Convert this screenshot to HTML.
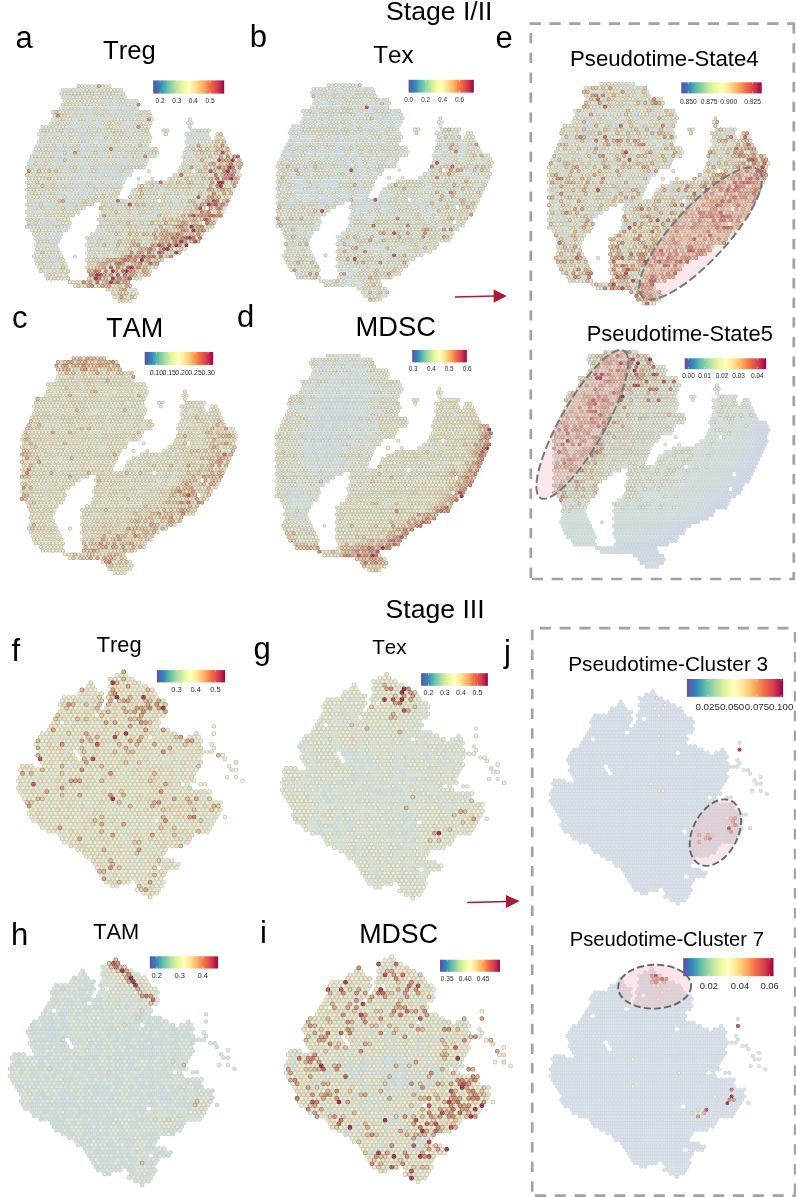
<!DOCTYPE html>
<html><head><meta charset="utf-8"><title>Figure</title><style>html,body{margin:0;padding:0;background:#fff}svg{display:block}text{font-kerning:none}</style></head><body>
<svg width="796" height="1197" viewBox="0 0 796 1197" font-family='"Liberation Sans", Arial, Helvetica, sans-serif'>
<defs><linearGradient id="sp" x1="0" x2="1" y1="0" y2="0"><stop offset="0" stop-color="#5e4fa2"/><stop offset=".1" stop-color="#3288bd"/><stop offset=".2" stop-color="#66c2a5"/><stop offset=".3" stop-color="#abdda4"/><stop offset=".4" stop-color="#e6f598"/><stop offset=".5" stop-color="#ffffbf"/><stop offset=".6" stop-color="#fee08b"/><stop offset=".7" stop-color="#fdae61"/><stop offset=".8" stop-color="#f46d43"/><stop offset=".9" stop-color="#d53e4f"/><stop offset="1" stop-color="#9e0142"/></linearGradient></defs>
<rect width="796" height="1197" fill="#fff"/>
<!-- panel a -->
<g fill="none" stroke-linecap="round">
<defs>
<path id="a" d="M78.5 86.1h30.9M63 89.8h58.4M61.3 93.5h61.8M63 97.2h61.8M64.7 100.9h72.1M63 104.6h75.5M61.3 108.3h75.5M52.7 112h96.1M54.4 115.7h96.1M52.7 119.4h99.5M189.9 119.4h0.1M51 123.1h99.5M188.2 123.1h3.5M42.4 126.8h106.4M189.9 126.8h0.1M40.7 130.5h106.4M164.2 130.5h3.5M191.6 130.5h17.2M39 134.2h109.8M165.9 134.2h0.1M186.5 134.2h20.6M217.4 134.2h3.5M40.7 137.9h109.8M188.2 137.9h20.6M215.7 137.9h6.9M39 141.6h109.8M186.5 141.6h37.8M37.3 145.3h109.8M188.2 145.3h37.8M35.6 149h120.1M186.5 149h41.2M33.9 152.7h123.5M184.8 152.7h44.7M32.1 156.4h123.5M183.1 156.4h54.9M30.4 160.1h116.7M184.8 160.1h54.9M28.7 163.8h116.7M183.1 163.8h58.4M27 167.5h116.7M181.3 167.5h58.4M28.7 171.2h103M148.8 171.2h0.1M179.6 171.2h10.4M196.8 171.2h41.2M27 174.9h103M174.5 174.9h65.2M28.7 178.6h96.1M138.5 178.6h0.1M152.2 178.6h0.1M169.3 178.6h68.7M27 182.3h96.1M147.1 182.3h89.2M28.7 186h92.7M138.5 186h96.1M27 189.7h92.7M133.3 189.7h99.5M28.7 193.4h89.2M131.6 193.4h99.5M27 197.1h89.2M129.9 197.1h99.5M28.7 200.8h127M162.5 200.8h65.2M27 204.5h65.2M102.5 204.5h123.5M28.7 208.2h54.9M100.7 208.2h103M210.5 208.2h13.8M27 211.9h51.5M102.5 211.9h120.1M28.7 215.6h44.7M100.7 215.6h120.1M27 219.3h41.2M99 219.3h116.7M28.7 223h41.2M100.7 223h99.5M207.1 223h6.9M27 226.7h41.2M99 226.7h113.3M32.1 230.4h34.4M97.3 230.4h109.8M33.9 234.1h27.5M92.2 234.1h109.8M35.6 237.8h24.1M87 237.8h113.3M37.3 241.5h20.6M88.7 241.5h109.8M35.6 245.2h20.6M87 245.2h99.5M37.3 248.9h20.6M88.7 248.9h96.1M35.6 252.6h24.1M87 252.6h92.7M33.9 256.3h27.5M75 256.3h0.1M88.7 256.3h82.4M35.6 260h27.5M87 260h75.5M37.3 263.7h27.5M88.7 263.7h68.7M39 267.4h27.5M87 267.4h68.7M40.7 271.1h27.5M88.7 271.1h61.8M45.9 274.8h20.6M90.5 274.8h58.4M47.6 278.5h20.6M88.7 278.5h51.5M69.9 282.2h58.4M75 285.9h54.9M107.6 289.6h27.5M112.8 293.3h24.1M114.5 297h20.6M119.6 300.7h10.4" stroke-dasharray="0 3.430"/>
<path id="a4" d="M57.9 234.1h0"/>
<path id="a5" d="M68.2 130.5h0M49.3 141.6h0M97.3 171.2h0M119.6 174.9h0M97.3 237.8h0"/>
<path id="a6" d="M88.7 86.1h0M109.3 100.9h0M116.2 100.9h0M87 119.4h0M61.3 123.1h0M45.9 134.2h0M44.2 137.9h0M87 141.6h0M69.9 149h0M112.8 152.7h0M141.9 156.4h0M57.9 160.1h0M133.3 160.1h0M140.2 160.1h0M105.9 167.5h0M109.3 167.5h0M117.9 171.2h0M78.5 174.9h0M100.7 178.6h0M81.9 182.3h0M112.8 182.3h0M119.6 182.3h0M93.9 186h0M83.6 193.4h0M93.9 193.4h0M44.2 197.1h0M71.6 204.5h0M35.6 208.2h0M116.2 226.7h0M45.9 237.8h0M57.9 241.5h0M104.2 252.6h0M51 256.3h0"/>
<path id="a7" d="M107.6 97.2h0M126.5 100.9h0M111 104.6h0M64.7 108.3h0M92.2 108.3h0M105.9 108.3h0M73.3 112h0M87 112h0M121.3 112h0M112.8 115.7h0M129.9 115.7h0M97.3 119.4h0M128.2 119.4h0M78.5 123.1h0M88.7 123.1h0M75 130.5h0M78.5 130.5h0M95.6 130.5h0M126.5 130.5h0M167.6 130.5h0M195.1 130.5h0M80.2 134.2h0M87 134.2h0M97.3 134.2h0M186.5 134.2h0M40.7 137.9h0M81.9 137.9h0M88.7 137.9h0M191.6 137.9h0M42.4 141.6h0M63 141.6h0M100.7 141.6h0M104.2 141.6h0M124.8 141.6h0M37.3 145.3h0M44.2 145.3h0M85.3 145.3h0M102.5 145.3h0M49.3 149h0M63 149h0M87 149h0M114.5 149h0M54.4 152.7h0M99 152.7h0M102.5 152.7h0M66.4 156.4h0M138.5 156.4h0M63 163.8h0M69.9 163.8h0M73.3 163.8h0M93.9 163.8h0M104.2 163.8h0M121.3 163.8h0M128.2 163.8h0M37.3 167.5h0M40.7 167.5h0M64.7 167.5h0M68.2 167.5h0M81.9 167.5h0M95.6 167.5h0M119.6 167.5h0M236.2 167.5h0M80.2 171.2h0M114.5 171.2h0M237.9 171.2h0M57.9 174.9h0M88.7 174.9h0M95.6 174.9h0M102.5 174.9h0M109.3 174.9h0M112.8 174.9h0M116.2 174.9h0M123 174.9h0M126.5 174.9h0M174.5 174.9h0M117.9 178.6h0M109.3 182.3h0M117.9 186h0M85.3 189.7h0M80.2 193.4h0M81.9 197.1h0M116.2 197.1h0M124.8 200.8h0M54.4 204.5h0M116.2 204.5h0M66.4 208.2h0M183.1 208.2h0M153.9 211.9h0M171.1 211.9h0M100.7 215.6h0M45.9 223h0M49.3 223h0M100.7 223h0M104.2 223h0M44.2 226.7h0M97.3 230.4h0M92.2 234.1h0M35.6 237.8h0M39 237.8h0M56.2 237.8h0M90.5 237.8h0M104.2 237.8h0M88.7 241.5h0M114.5 245.2h0M54.4 248.9h0M95.6 248.9h0M145.3 252.6h0M57.9 271.1h0"/>
<path id="a8" d="M109.3 86.1h0M63 89.8h0M66.4 89.8h0M76.7 89.8h0M80.2 89.8h0M93.9 89.8h0M121.3 89.8h0M95.6 93.5h0M105.9 93.5h0M119.6 93.5h0M66.4 97.2h0M69.9 97.2h0M97.3 97.2h0M114.5 97.2h0M117.9 97.2h0M124.8 97.2h0M71.6 100.9h0M102.5 100.9h0M105.9 100.9h0M129.9 100.9h0M133.3 100.9h0M80.2 104.6h0M93.9 104.6h0M107.6 104.6h0M114.5 104.6h0M121.3 104.6h0M124.8 104.6h0M135 104.6h0M61.3 108.3h0M81.9 108.3h0M88.7 108.3h0M109.3 108.3h0M112.8 108.3h0M116.2 108.3h0M123 108.3h0M126.5 108.3h0M129.9 108.3h0M136.8 108.3h0M80.2 112h0M83.6 112h0M90.5 112h0M100.7 112h0M111 112h0M114.5 112h0M117.9 112h0M135 112h0M138.5 112h0M71.6 115.7h0M78.5 115.7h0M85.3 115.7h0M88.7 115.7h0M92.2 115.7h0M105.9 115.7h0M119.6 115.7h0M126.5 115.7h0M133.3 115.7h0M143.6 115.7h0M52.7 119.4h0M56.2 119.4h0M66.4 119.4h0M73.3 119.4h0M76.7 119.4h0M90.5 119.4h0M100.7 119.4h0M104.2 119.4h0M107.6 119.4h0M111 119.4h0M145.3 119.4h0M152.2 119.4h0M189.9 119.4h0M71.6 123.1h0M81.9 123.1h0M85.3 123.1h0M92.2 123.1h0M95.6 123.1h0M99 123.1h0M123 123.1h0M126.5 123.1h0M129.9 123.1h0M136.8 123.1h0M42.4 126.8h0M69.9 126.8h0M73.3 126.8h0M76.7 126.8h0M83.6 126.8h0M100.7 126.8h0M104.2 126.8h0M114.5 126.8h0M124.8 126.8h0M131.6 126.8h0M189.9 126.8h0M54.4 130.5h0M64.7 130.5h0M81.9 130.5h0M85.3 130.5h0M92.2 130.5h0M102.5 130.5h0M129.9 130.5h0M133.3 130.5h0M136.8 130.5h0M191.6 130.5h0M42.4 134.2h0M49.3 134.2h0M52.7 134.2h0M56.2 134.2h0M59.6 134.2h0M66.4 134.2h0M73.3 134.2h0M100.7 134.2h0M111 134.2h0M128.2 134.2h0M131.6 134.2h0M138.5 134.2h0M193.4 134.2h0M196.8 134.2h0M200.2 134.2h0M203.6 134.2h0M207.1 134.2h0M61.3 137.9h0M78.5 137.9h0M85.3 137.9h0M95.6 137.9h0M99 137.9h0M102.5 137.9h0M188.2 137.9h0M198.5 137.9h0M205.4 137.9h0M208.8 137.9h0M56.2 141.6h0M66.4 141.6h0M73.3 141.6h0M90.5 141.6h0M93.9 141.6h0M97.3 141.6h0M107.6 141.6h0M111 141.6h0M128.2 141.6h0M135 141.6h0M138.5 141.6h0M186.5 141.6h0M189.9 141.6h0M193.4 141.6h0M196.8 141.6h0M203.6 141.6h0M210.5 141.6h0M40.7 145.3h0M57.9 145.3h0M61.3 145.3h0M68.2 145.3h0M81.9 145.3h0M88.7 145.3h0M99 145.3h0M112.8 145.3h0M119.6 145.3h0M136.8 145.3h0M195.1 145.3h0M205.4 145.3h0M59.6 149h0M83.6 149h0M90.5 149h0M93.9 149h0M100.7 149h0M117.9 149h0M128.2 149h0M131.6 149h0M141.9 149h0M145.3 149h0M148.8 149h0M186.5 149h0M33.9 152.7h0M37.3 152.7h0M57.9 152.7h0M61.3 152.7h0M68.2 152.7h0M71.6 152.7h0M81.9 152.7h0M85.3 152.7h0M88.7 152.7h0M116.2 152.7h0M123 152.7h0M188.2 152.7h0M191.6 152.7h0M56.2 156.4h0M63 156.4h0M69.9 156.4h0M80.2 156.4h0M97.3 156.4h0M104.2 156.4h0M121.3 156.4h0M128.2 156.4h0M148.8 156.4h0M155.6 156.4h0M186.5 156.4h0M193.4 156.4h0M200.2 156.4h0M30.4 160.1h0M33.9 160.1h0M40.7 160.1h0M61.3 160.1h0M75 160.1h0M81.9 160.1h0M102.5 160.1h0M109.3 160.1h0M116.2 160.1h0M119.6 160.1h0M123 160.1h0M126.5 160.1h0M28.7 163.8h0M39 163.8h0M52.7 163.8h0M56.2 163.8h0M66.4 163.8h0M80.2 163.8h0M83.6 163.8h0M90.5 163.8h0M124.8 163.8h0M135 163.8h0M141.9 163.8h0M183.1 163.8h0M200.2 163.8h0M27 167.5h0M33.9 167.5h0M47.6 167.5h0M54.4 167.5h0M78.5 167.5h0M85.3 167.5h0M88.7 167.5h0M99 167.5h0M102.5 167.5h0M112.8 167.5h0M116.2 167.5h0M184.8 167.5h0M195.1 167.5h0M63 171.2h0M66.4 171.2h0M83.6 171.2h0M87 171.2h0M100.7 171.2h0M104.2 171.2h0M107.6 171.2h0M111 171.2h0M128.2 171.2h0M131.6 171.2h0M148.8 171.2h0M179.6 171.2h0M33.9 174.9h0M61.3 174.9h0M68.2 174.9h0M75 174.9h0M85.3 174.9h0M92.2 174.9h0M99 174.9h0M129.9 174.9h0M212.2 174.9h0M76.7 178.6h0M83.6 178.6h0M87 178.6h0M104.2 178.6h0M107.6 178.6h0M111 178.6h0M121.3 178.6h0M124.8 178.6h0M152.2 178.6h0M57.9 182.3h0M61.3 182.3h0M64.7 182.3h0M68.2 182.3h0M75 182.3h0M78.5 182.3h0M85.3 182.3h0M92.2 182.3h0M95.6 182.3h0M105.9 182.3h0M164.2 182.3h0M174.5 182.3h0M184.8 182.3h0M205.4 182.3h0M59.6 186h0M69.9 186h0M73.3 186h0M80.2 186h0M83.6 186h0M97.3 186h0M100.7 186h0M104.2 186h0M114.5 186h0M121.3 186h0M227.7 186h0M61.3 189.7h0M68.2 189.7h0M75 189.7h0M78.5 189.7h0M81.9 189.7h0M88.7 189.7h0M92.2 189.7h0M102.5 189.7h0M109.3 189.7h0M153.9 189.7h0M160.8 189.7h0M164.2 189.7h0M195.1 189.7h0M45.9 193.4h0M59.6 193.4h0M63 193.4h0M66.4 193.4h0M69.9 193.4h0M73.3 193.4h0M87 193.4h0M107.6 193.4h0M159.1 193.4h0M172.8 193.4h0M183.1 193.4h0M196.8 193.4h0M203.6 193.4h0M27 197.1h0M57.9 197.1h0M61.3 197.1h0M68.2 197.1h0M71.6 197.1h0M75 197.1h0M85.3 197.1h0M153.9 197.1h0M167.6 197.1h0M174.5 197.1h0M181.3 197.1h0M188.2 197.1h0M191.6 197.1h0M32.1 200.8h0M35.6 200.8h0M39 200.8h0M45.9 200.8h0M69.9 200.8h0M76.7 200.8h0M90.5 200.8h0M107.6 200.8h0M128.2 200.8h0M131.6 200.8h0M148.8 200.8h0M172.8 200.8h0M176.2 200.8h0M179.6 200.8h0M33.9 204.5h0M37.3 204.5h0M44.2 204.5h0M47.6 204.5h0M51 204.5h0M61.3 204.5h0M64.7 204.5h0M68.2 204.5h0M78.5 204.5h0M109.3 204.5h0M157.3 204.5h0M167.6 204.5h0M174.5 204.5h0M28.7 208.2h0M32.1 208.2h0M45.9 208.2h0M49.3 208.2h0M59.6 208.2h0M69.9 208.2h0M117.9 208.2h0M121.3 208.2h0M141.9 208.2h0M155.6 208.2h0M165.9 208.2h0M172.8 208.2h0M179.6 208.2h0M27 211.9h0M33.9 211.9h0M37.3 211.9h0M40.7 211.9h0M78.5 211.9h0M133.3 211.9h0M157.3 211.9h0M28.7 215.6h0M42.4 215.6h0M121.3 215.6h0M135 215.6h0M145.3 215.6h0M152.2 215.6h0M155.6 215.6h0M44.2 219.3h0M51 219.3h0M54.4 219.3h0M102.5 219.3h0M116.2 219.3h0M140.2 219.3h0M143.6 219.3h0M160.8 219.3h0M32.1 223h0M42.4 223h0M56.2 223h0M59.6 223h0M135 223h0M138.5 223h0M145.3 223h0M51 226.7h0M61.3 226.7h0M68.2 226.7h0M119.6 226.7h0M140.2 226.7h0M153.9 226.7h0M42.4 230.4h0M56.2 230.4h0M63 230.4h0M100.7 230.4h0M104.2 230.4h0M159.1 230.4h0M54.4 234.1h0M61.3 234.1h0M99 234.1h0M112.8 234.1h0M42.4 237.8h0M49.3 237.8h0M52.7 237.8h0M59.6 237.8h0M111 237.8h0M117.9 237.8h0M124.8 237.8h0M141.9 237.8h0M51 241.5h0M54.4 241.5h0M95.6 241.5h0M102.5 241.5h0M109.3 241.5h0M112.8 241.5h0M147.1 241.5h0M35.6 245.2h0M42.4 245.2h0M45.9 245.2h0M49.3 245.2h0M56.2 245.2h0M87 245.2h0M93.9 245.2h0M100.7 245.2h0M111 245.2h0M121.3 245.2h0M148.8 245.2h0M44.2 248.9h0M51 248.9h0M57.9 248.9h0M99 248.9h0M112.8 248.9h0M35.6 252.6h0M135 252.6h0M37.3 256.3h0M54.4 256.3h0M75 256.3h0M35.6 260h0M45.9 260h0M52.7 260h0M56.2 260h0M47.6 263.7h0M54.4 263.7h0M57.9 263.7h0M66.4 267.4h0M114.5 267.4h0M44.2 271.1h0M47.6 271.1h0M45.9 274.8h0M131.6 289.6h0M128.2 297h0"/>
<path id="a9" d="M215.7 137.9h0M213.9 156.4h0M224.2 156.4h0M208.8 160.1h0M201.9 167.5h0M229.4 182.3h0M207.1 186h0M213.9 186h0M232.8 189.7h0M220.8 193.4h0M184.8 197.1h0M222.5 197.1h0M200.2 200.8h0M177.9 204.5h0M184.8 204.5h0M224.2 208.2h0M174.5 211.9h0M181.3 211.9h0M172.8 215.6h0M152.2 230.4h0M143.6 241.5h0M102.5 248.9h0M87 252.6h0M111 252.6h0M155.6 252.6h0M99 256.3h0M102.5 256.3h0M112.8 256.3h0M116.2 256.3h0M152.2 267.4h0M63 274.8h0M64.7 278.5h0M109.3 278.5h0M140.2 278.5h0M93.9 282.2h0M128.2 289.6h0M117.9 297h0"/>
<path id="a11" d="M83.6 89.8h0M97.3 89.8h0M104.2 89.8h0M111 89.8h0M117.9 89.8h0M99 93.5h0M116.2 93.5h0M73.3 97.2h0M76.7 97.2h0M80.2 97.2h0M93.9 97.2h0M111 97.2h0M92.2 100.9h0M95.6 100.9h0M123 100.9h0M76.7 104.6h0M97.3 104.6h0M128.2 104.6h0M131.6 104.6h0M68.2 108.3h0M102.5 108.3h0M119.6 108.3h0M52.7 112h0M148.8 112h0M68.2 115.7h0M116.2 115.7h0M150.5 115.7h0M69.9 119.4h0M117.9 119.4h0M121.3 119.4h0M102.5 123.1h0M112.8 123.1h0M143.6 123.1h0M150.5 123.1h0M188.2 123.1h0M191.6 123.1h0M56.2 126.8h0M63 126.8h0M66.4 126.8h0M111 126.8h0M145.3 126.8h0M148.8 126.8h0M51 130.5h0M71.6 130.5h0M99 130.5h0M109.3 130.5h0M208.8 130.5h0M63 134.2h0M69.9 134.2h0M76.7 134.2h0M93.9 134.2h0M135 134.2h0M145.3 134.2h0M148.8 134.2h0M165.9 134.2h0M189.9 134.2h0M217.4 134.2h0M57.9 137.9h0M71.6 137.9h0M116.2 137.9h0M126.5 137.9h0M140.2 137.9h0M222.5 137.9h0M52.7 141.6h0M121.3 141.6h0M145.3 141.6h0M148.8 141.6h0M200.2 141.6h0M207.1 141.6h0M92.2 145.3h0M116.2 145.3h0M133.3 145.3h0M188.2 145.3h0M208.8 145.3h0M212.2 145.3h0M219.1 145.3h0M39 149h0M45.9 149h0M196.8 149h0M203.6 149h0M51 152.7h0M119.6 152.7h0M143.6 152.7h0M198.5 152.7h0M212.2 152.7h0M229.4 152.7h0M32.1 156.4h0M93.9 156.4h0M135 156.4h0M152.2 156.4h0M207.1 156.4h0M217.4 156.4h0M231.1 156.4h0M37.3 160.1h0M44.2 160.1h0M51 160.1h0M136.8 160.1h0M184.8 160.1h0M198.5 160.1h0M205.4 160.1h0M212.2 160.1h0M215.7 160.1h0M236.2 160.1h0M76.7 163.8h0M131.6 163.8h0M138.5 163.8h0M145.3 163.8h0M189.9 163.8h0M193.4 163.8h0M196.8 163.8h0M61.3 167.5h0M123 167.5h0M143.6 167.5h0M181.3 167.5h0M208.8 167.5h0M32.1 171.2h0M42.4 171.2h0M45.9 171.2h0M93.9 171.2h0M196.8 171.2h0M30.4 174.9h0M40.7 174.9h0M44.2 174.9h0M105.9 174.9h0M177.9 174.9h0M188.2 174.9h0M191.6 174.9h0M195.1 174.9h0M219.1 174.9h0M239.7 174.9h0M28.7 178.6h0M39 178.6h0M52.7 178.6h0M66.4 178.6h0M69.9 178.6h0M172.8 178.6h0M176.2 178.6h0M179.6 178.6h0M189.9 178.6h0M193.4 178.6h0M200.2 178.6h0M220.8 178.6h0M30.4 182.3h0M40.7 182.3h0M44.2 182.3h0M71.6 182.3h0M167.6 182.3h0M195.1 182.3h0M198.5 182.3h0M215.7 182.3h0M28.7 186h0M52.7 186h0M63 186h0M145.3 186h0M148.8 186h0M165.9 186h0M172.8 186h0M176.2 186h0M183.1 186h0M186.5 186h0M193.4 186h0M196.8 186h0M200.2 186h0M224.2 186h0M231.1 186h0M44.2 189.7h0M71.6 189.7h0M116.2 189.7h0M119.6 189.7h0M174.5 189.7h0M177.9 189.7h0M181.3 189.7h0M184.8 189.7h0M191.6 189.7h0M198.5 189.7h0M201.9 189.7h0M42.4 193.4h0M97.3 193.4h0M131.6 193.4h0M138.5 193.4h0M193.4 193.4h0M207.1 193.4h0M227.7 193.4h0M33.9 197.1h0M37.3 197.1h0M64.7 197.1h0M95.6 197.1h0M147.1 197.1h0M157.3 197.1h0M177.9 197.1h0M195.1 197.1h0M201.9 197.1h0M49.3 200.8h0M73.3 200.8h0M80.2 200.8h0M111 200.8h0M121.3 200.8h0M141.9 200.8h0M152.2 200.8h0M155.6 200.8h0M165.9 200.8h0M183.1 200.8h0M186.5 200.8h0M220.8 200.8h0M30.4 204.5h0M102.5 204.5h0M123 204.5h0M133.3 204.5h0M150.5 204.5h0M164.2 204.5h0M171.1 204.5h0M181.3 204.5h0M188.2 204.5h0M191.6 204.5h0M56.2 208.2h0M80.2 208.2h0M83.6 208.2h0M104.2 208.2h0M131.6 208.2h0M145.3 208.2h0M159.1 208.2h0M162.5 208.2h0M169.3 208.2h0M176.2 208.2h0M193.4 208.2h0M30.4 211.9h0M44.2 211.9h0M54.4 211.9h0M57.9 211.9h0M61.3 211.9h0M68.2 211.9h0M71.6 211.9h0M75 211.9h0M119.6 211.9h0M147.1 211.9h0M150.5 211.9h0M160.8 211.9h0M177.9 211.9h0M188.2 211.9h0M222.5 211.9h0M35.6 215.6h0M56.2 215.6h0M66.4 215.6h0M131.6 215.6h0M148.8 215.6h0M162.5 215.6h0M165.9 215.6h0M169.3 215.6h0M176.2 215.6h0M64.7 219.3h0M68.2 219.3h0M123 219.3h0M126.5 219.3h0M136.8 219.3h0M147.1 219.3h0M150.5 219.3h0M153.9 219.3h0M167.6 219.3h0M63 223h0M66.4 223h0M107.6 223h0M131.6 223h0M148.8 223h0M155.6 223h0M162.5 223h0M172.8 223h0M189.9 223h0M200.2 223h0M30.4 226.7h0M40.7 226.7h0M105.9 226.7h0M109.3 226.7h0M123 226.7h0M143.6 226.7h0M147.1 226.7h0M150.5 226.7h0M157.3 226.7h0M164.2 226.7h0M171.1 226.7h0M205.4 226.7h0M35.6 230.4h0M45.9 230.4h0M121.3 230.4h0M124.8 230.4h0M128.2 230.4h0M135 230.4h0M138.5 230.4h0M141.9 230.4h0M145.3 230.4h0M207.1 230.4h0M33.9 234.1h0M37.3 234.1h0M109.3 234.1h0M123 234.1h0M126.5 234.1h0M140.2 234.1h0M150.5 234.1h0M121.3 237.8h0M131.6 237.8h0M145.3 237.8h0M148.8 237.8h0M152.2 237.8h0M116.2 241.5h0M123 241.5h0M126.5 241.5h0M52.7 245.2h0M90.5 245.2h0M97.3 245.2h0M107.6 245.2h0M128.2 245.2h0M141.9 245.2h0M37.3 248.9h0M47.6 248.9h0M88.7 248.9h0M92.2 248.9h0M105.9 248.9h0M109.3 248.9h0M119.6 248.9h0M174.5 248.9h0M184.8 248.9h0M45.9 252.6h0M49.3 252.6h0M56.2 252.6h0M59.6 252.6h0M90.5 252.6h0M97.3 252.6h0M100.7 252.6h0M107.6 252.6h0M33.9 256.3h0M40.7 256.3h0M57.9 256.3h0M61.3 256.3h0M92.2 256.3h0M105.9 256.3h0M87 260h0M90.5 260h0M37.3 263.7h0M44.2 263.7h0M51 263.7h0M64.7 263.7h0M112.8 263.7h0M129.9 263.7h0M52.7 267.4h0M59.6 267.4h0M54.4 271.1h0M64.7 271.1h0M102.5 271.1h0M49.3 274.8h0M56.2 274.8h0M59.6 274.8h0M66.4 274.8h0M121.3 274.8h0M51 278.5h0M57.9 278.5h0M61.3 278.5h0M136.8 278.5h0M73.3 282.2h0M80.2 282.2h0M100.7 282.2h0M75 285.9h0M95.6 285.9h0M111 289.6h0M114.5 289.6h0M116.2 293.3h0M133.3 293.3h0M136.8 293.3h0M114.5 297h0M135 297h0M126.5 300.7h0M129.9 300.7h0"/>
<path id="a12" d="M78.5 86.1h0M87 89.8h0M107.6 89.8h0M92.2 93.5h0M121.3 97.2h0M68.2 100.9h0M59.6 112h0M61.3 115.7h0M64.7 115.7h0M140.2 115.7h0M57.9 123.1h0M109.3 123.1h0M107.6 126.8h0M44.2 130.5h0M112.8 130.5h0M147.1 130.5h0M164.2 130.5h0M114.5 134.2h0M121.3 134.2h0M105.9 137.9h0M219.1 137.9h0M213.9 141.6h0M220.8 141.6h0M54.4 145.3h0M64.7 145.3h0M155.6 149h0M193.4 149h0M224.2 149h0M64.7 152.7h0M78.5 152.7h0M95.6 152.7h0M153.9 152.7h0M195.1 152.7h0M205.4 152.7h0M208.8 152.7h0M219.1 152.7h0M131.6 156.4h0M196.8 156.4h0M203.6 156.4h0M35.6 163.8h0M45.9 163.8h0M203.6 163.8h0M207.1 163.8h0M224.2 163.8h0M234.5 163.8h0M75 167.5h0M198.5 167.5h0M183.1 171.2h0M203.6 171.2h0M207.1 171.2h0M217.4 171.2h0M220.8 171.2h0M27 174.9h0M37.3 174.9h0M201.9 174.9h0M205.4 174.9h0M236.2 174.9h0M35.6 178.6h0M45.9 178.6h0M196.8 178.6h0M207.1 178.6h0M54.4 182.3h0M153.9 182.3h0M171.1 182.3h0M181.3 182.3h0M201.9 182.3h0M208.8 182.3h0M225.9 182.3h0M152.2 186h0M169.3 186h0M189.9 186h0M203.6 186h0M33.9 189.7h0M143.6 189.7h0M147.1 189.7h0M150.5 189.7h0M188.2 189.7h0M215.7 189.7h0M35.6 193.4h0M114.5 193.4h0M117.9 193.4h0M155.6 193.4h0M186.5 193.4h0M217.4 193.4h0M102.5 197.1h0M129.9 197.1h0M136.8 197.1h0M143.6 197.1h0M164.2 197.1h0M225.9 197.1h0M83.6 200.8h0M87 200.8h0M93.9 200.8h0M203.6 200.8h0M40.7 204.5h0M85.3 204.5h0M105.9 204.5h0M160.8 204.5h0M63 208.2h0M76.7 208.2h0M111 208.2h0M128.2 208.2h0M138.5 208.2h0M152.2 208.2h0M186.5 208.2h0M189.9 208.2h0M203.6 208.2h0M129.9 211.9h0M140.2 211.9h0M143.6 211.9h0M184.8 211.9h0M195.1 211.9h0M198.5 211.9h0M107.6 215.6h0M186.5 215.6h0M119.6 219.3h0M157.3 219.3h0M174.5 219.3h0M181.3 219.3h0M188.2 219.3h0M198.5 219.3h0M212.2 219.3h0M215.7 219.3h0M28.7 223h0M35.6 223h0M117.9 223h0M141.9 223h0M159.1 223h0M169.3 223h0M176.2 223h0M27 226.7h0M57.9 226.7h0M112.8 226.7h0M129.9 226.7h0M136.8 226.7h0M167.6 226.7h0M208.8 226.7h0M212.2 226.7h0M39 230.4h0M131.6 230.4h0M148.8 230.4h0M169.3 230.4h0M172.8 230.4h0M176.2 230.4h0M189.9 230.4h0M119.6 234.1h0M133.3 234.1h0M157.3 234.1h0M184.8 234.1h0M201.9 234.1h0M100.7 237.8h0M128.2 237.8h0M135 237.8h0M138.5 237.8h0M159.1 237.8h0M196.8 237.8h0M99 241.5h0M129.9 241.5h0M136.8 241.5h0M140.2 241.5h0M150.5 241.5h0M153.9 241.5h0M157.3 241.5h0M171.1 241.5h0M188.2 241.5h0M124.8 245.2h0M145.3 245.2h0M183.1 245.2h0M116.2 248.9h0M126.5 248.9h0M136.8 248.9h0M177.9 248.9h0M114.5 252.6h0M121.3 252.6h0M124.8 252.6h0M165.9 252.6h0M169.3 252.6h0M172.8 252.6h0M95.6 256.3h0M119.6 256.3h0M157.3 256.3h0M164.2 256.3h0M93.9 260h0M97.3 260h0M104.2 260h0M138.5 260h0M152.2 260h0M88.7 263.7h0M126.5 263.7h0M143.6 263.7h0M90.5 267.4h0M93.9 267.4h0M124.8 267.4h0M148.8 267.4h0M155.6 267.4h0M40.7 271.1h0M61.3 271.1h0M68.2 271.1h0M119.6 271.1h0M114.5 274.8h0M141.9 274.8h0M54.4 278.5h0M68.2 278.5h0M88.7 278.5h0M92.2 278.5h0M69.9 282.2h0M76.7 282.2h0M85.3 285.9h0M112.8 285.9h0M116.2 285.9h0M107.6 289.6h0M117.9 289.6h0M112.8 293.3h0M124.8 297h0M119.6 300.7h0M123 300.7h0"/>
<path id="a13" d="M56.2 112h0M220.8 134.2h0M217.4 141.6h0M224.2 141.6h0M140.2 145.3h0M215.7 145.3h0M200.2 149h0M207.1 149h0M217.4 149h0M220.8 149h0M201.9 152.7h0M215.7 152.7h0M225.9 152.7h0M210.5 156.4h0M64.7 160.1h0M239.7 160.1h0M220.8 163.8h0M237.9 163.8h0M205.4 167.5h0M215.7 167.5h0M39 171.2h0M49.3 171.2h0M56.2 171.2h0M200.2 171.2h0M49.3 178.6h0M186.5 178.6h0M203.6 178.6h0M213.9 178.6h0M37.3 182.3h0M177.9 182.3h0M188.2 182.3h0M191.6 182.3h0M42.4 186h0M141.9 186h0M140.2 189.7h0M219.1 189.7h0M225.9 189.7h0M229.4 189.7h0M141.9 193.4h0M200.2 193.4h0M140.2 197.1h0M215.7 197.1h0M59.6 200.8h0M189.9 200.8h0M193.4 200.8h0M224.2 200.8h0M136.8 204.5h0M143.6 204.5h0M195.1 204.5h0M205.4 204.5h0M225.9 204.5h0M100.7 208.2h0M116.2 211.9h0M191.6 211.9h0M159.1 215.6h0M164.2 219.3h0M171.1 219.3h0M177.9 219.3h0M184.8 219.3h0M191.6 219.3h0M201.9 219.3h0M128.2 223h0M152.2 223h0M179.6 223h0M193.4 223h0M196.8 223h0M213.9 223h0M174.5 226.7h0M188.2 226.7h0M155.6 230.4h0M179.6 230.4h0M116.2 234.1h0M136.8 234.1h0M147.1 234.1h0M188.2 234.1h0M195.1 234.1h0M169.3 237.8h0M119.6 241.5h0M133.3 241.5h0M164.2 241.5h0M104.2 245.2h0M117.9 245.2h0M131.6 245.2h0M165.9 245.2h0M129.9 248.9h0M171.1 248.9h0M181.3 248.9h0M42.4 252.6h0M152.2 252.6h0M123 256.3h0M167.6 256.3h0M117.9 260h0M145.3 260h0M155.6 260h0M159.1 260h0M99 263.7h0M109.3 263.7h0M133.3 263.7h0M147.1 263.7h0M63 267.4h0M97.3 267.4h0M100.7 267.4h0M121.3 267.4h0M141.9 267.4h0M136.8 271.1h0M107.6 274.8h0M148.8 274.8h0M102.5 278.5h0M87 282.2h0M104.2 282.2h0M121.3 282.2h0M78.5 285.9h0M99 285.9h0M119.6 285.9h0M119.6 293.3h0M123 293.3h0M126.5 293.3h0M131.6 297h0"/>
<path id="a14" d="M227.7 149h0M201.9 160.1h0M210.5 163.8h0M227.7 163.8h0M241.4 163.8h0M222.5 167.5h0M225.9 167.5h0M213.9 171.2h0M231.1 171.2h0M222.5 174.9h0M210.5 178.6h0M237.9 178.6h0M232.8 182.3h0M236.2 182.3h0M210.5 186h0M212.2 189.7h0M231.1 193.4h0M219.1 197.1h0M210.5 200.8h0M219.1 204.5h0M196.8 208.2h0M205.4 211.9h0M183.1 215.6h0M195.1 219.3h0M165.9 223h0M186.5 223h0M210.5 223h0M160.8 226.7h0M184.8 226.7h0M195.1 226.7h0M162.5 230.4h0M165.9 230.4h0M129.9 234.1h0M143.6 234.1h0M160.8 234.1h0M164.2 234.1h0M174.5 234.1h0M191.6 234.1h0M162.5 237.8h0M160.8 241.5h0M167.6 241.5h0M191.6 241.5h0M198.5 241.5h0M135 245.2h0M155.6 245.2h0M172.8 245.2h0M140.2 248.9h0M143.6 248.9h0M153.9 248.9h0M179.6 252.6h0M133.3 256.3h0M107.6 260h0M111 260h0M114.5 260h0M131.6 260h0M102.5 263.7h0M105.9 263.7h0M136.8 263.7h0M153.9 263.7h0M135 267.4h0M145.3 267.4h0M92.2 271.1h0M147.1 271.1h0M128.2 274.8h0M135 274.8h0M145.3 274.8h0M105.9 278.5h0M116.2 278.5h0M123 278.5h0M128.2 282.2h0M105.9 285.9h0M129.9 285.9h0M121.3 289.6h0"/>
<path id="a15" d="M99 86.1h0M198.5 145.3h0M75 152.7h0M220.8 156.4h0M222.5 160.1h0M225.9 160.1h0M229.4 160.1h0M213.9 163.8h0M191.6 167.5h0M239.7 167.5h0M234.5 171.2h0M234.5 178.6h0M212.2 182.3h0M234.5 186h0M208.8 189.7h0M222.5 189.7h0M224.2 193.4h0M208.8 197.1h0M63 200.8h0M207.1 200.8h0M201.9 204.5h0M210.5 208.2h0M219.1 211.9h0M104.2 215.6h0M196.8 215.6h0M200.2 215.6h0M203.6 215.6h0M183.1 223h0M177.9 226.7h0M198.5 226.7h0M186.5 230.4h0M196.8 230.4h0M200.2 230.4h0M153.9 234.1h0M167.6 234.1h0M171.1 234.1h0M181.3 234.1h0M155.6 237.8h0M165.9 237.8h0M179.6 237.8h0M177.9 241.5h0M184.8 241.5h0M138.5 245.2h0M152.2 245.2h0M147.1 248.9h0M160.8 248.9h0M138.5 252.6h0M141.9 252.6h0M126.5 256.3h0M140.2 256.3h0M147.1 256.3h0M121.3 260h0M148.8 260h0M123 263.7h0M157.3 263.7h0M104.2 267.4h0M88.7 271.1h0M116.2 271.1h0M133.3 271.1h0M143.6 271.1h0M104.2 274.8h0M131.6 274.8h0M90.5 282.2h0M107.6 282.2h0M114.5 282.2h0M124.8 282.2h0M88.7 285.9h0M102.5 285.9h0M109.3 285.9h0M126.5 285.9h0M124.8 289.6h0M121.3 297h0"/>
<path id="a16" d="M138.5 104.6h0M57.9 115.7h0M148.8 119.4h0M138.5 126.8h0M222.5 145.3h0M111 149h0M145.3 156.4h0M227.7 156.4h0M234.5 156.4h0M28.7 171.2h0M224.2 171.2h0M225.9 174.9h0M229.4 174.9h0M224.2 178.6h0M227.7 178.6h0M217.4 186h0M213.9 193.4h0M212.2 197.1h0M227.7 200.8h0M212.2 204.5h0M222.5 204.5h0M217.4 208.2h0M220.8 208.2h0M201.9 211.9h0M208.8 211.9h0M189.9 215.6h0M207.1 215.6h0M217.4 215.6h0M220.8 215.6h0M208.8 219.3h0M181.3 226.7h0M201.9 226.7h0M183.1 230.4h0M203.6 230.4h0M198.5 234.1h0M176.2 237.8h0M174.5 241.5h0M162.5 245.2h0M179.6 245.2h0M131.6 252.6h0M162.5 252.6h0M136.8 256.3h0M150.5 256.3h0M171.1 256.3h0M128.2 260h0M135 260h0M116.2 263.7h0M140.2 263.7h0M117.9 267.4h0M138.5 267.4h0M99 271.1h0M105.9 271.1h0M129.9 271.1h0M90.5 274.8h0M93.9 274.8h0M111 274.8h0M119.6 278.5h0M126.5 278.5h0M83.6 282.2h0M92.2 285.9h0"/>
<path id="a17" d="M231.1 163.8h0M219.1 167.5h0M232.8 167.5h0M181.3 174.9h0M215.7 174.9h0M232.8 174.9h0M217.4 178.6h0M160.8 182.3h0M117.9 200.8h0M217.4 200.8h0M210.5 215.6h0M213.9 215.6h0M207.1 223h0M177.9 234.1h0M172.8 237.8h0M183.1 237.8h0M193.4 237.8h0M200.2 237.8h0M150.5 248.9h0M148.8 252.6h0M129.9 256.3h0M153.9 256.3h0M160.8 256.3h0M124.8 260h0M119.6 263.7h0M150.5 263.7h0M95.6 271.1h0M123 271.1h0M124.8 274.8h0M99 278.5h0M97.3 282.2h0M117.9 282.2h0"/>
<path id="a18" d="M222.5 152.7h0M237.9 156.4h0M219.1 160.1h0M210.5 171.2h0M198.5 197.1h0M213.9 200.8h0M129.9 204.5h0M215.7 204.5h0M200.2 208.2h0M193.4 215.6h0M205.4 219.3h0M186.5 237.8h0M195.1 241.5h0M159.1 245.2h0M169.3 245.2h0M164.2 248.9h0M159.1 252.6h0M143.6 256.3h0M111 267.4h0M128.2 267.4h0M100.7 274.8h0M117.9 274.8h0M129.9 278.5h0"/>
<path id="a19" d="M232.8 160.1h0M229.4 167.5h0M227.7 171.2h0M231.1 178.6h0M219.1 182.3h0M222.5 182.3h0M220.8 186h0M208.8 204.5h0M191.6 226.7h0M193.4 230.4h0M189.9 237.8h0M181.3 241.5h0M176.2 245.2h0M186.5 245.2h0M167.6 248.9h0M176.2 252.6h0M141.9 260h0M131.6 267.4h0M112.8 271.1h0M126.5 271.1h0M97.3 274.8h0M95.6 278.5h0M112.8 278.5h0M111 282.2h0"/>
</defs>
<use href="#a" stroke="#bfbfb3" stroke-width="3.80"/>
<use href="#a4" stroke="#c0cdd8" stroke-width="3.80"/>
<use href="#a5" stroke="#c1cfd8" stroke-width="3.80"/>
<use href="#a6" stroke="#c3d0d8" stroke-width="3.80"/>
<use href="#a7" stroke="#c5d1d6" stroke-width="3.80"/>
<use href="#a8" stroke="#c9d4d4" stroke-width="3.80"/>
<use href="#a9" stroke="#d1d9cd" stroke-width="3.80"/>
<use href="#a11" stroke="#c1bfb0" stroke-width="3.80"/>
<use href="#a12" stroke="#bcb5a4" stroke-width="3.80"/>
<use href="#a13" stroke="#ab9882" stroke-width="3.80"/>
<use href="#a14" stroke="#a68a75" stroke-width="3.80"/>
<use href="#a15" stroke="#9f7968" stroke-width="3.80"/>
<use href="#a16" stroke="#97685b" stroke-width="3.80"/>
<use href="#a17" stroke="#8e554f" stroke-width="3.80"/>
<use href="#a18" stroke="#813e45" stroke-width="3.80"/>
<use href="#a19" stroke="#6b2638" stroke-width="3.80"/>
<use href="#a" stroke="#eff0cf" stroke-width="2.15"/>
<use href="#a4" stroke="#cadae6" stroke-width="2.15"/>
<use href="#a5" stroke="#cbdce6" stroke-width="2.15"/>
<use href="#a6" stroke="#cddde6" stroke-width="2.15"/>
<use href="#a7" stroke="#d0dee4" stroke-width="2.15"/>
<use href="#a8" stroke="#d4e1e1" stroke-width="2.15"/>
<use href="#a9" stroke="#dde7d9" stroke-width="2.15"/>
<use href="#a11" stroke="#f6f1c6" stroke-width="2.15"/>
<use href="#a12" stroke="#f5e2b5" stroke-width="2.15"/>
<use href="#a13" stroke="#f3cfa4" stroke-width="2.15"/>
<use href="#a14" stroke="#efba92" stroke-width="2.15"/>
<use href="#a15" stroke="#e9a07f" stroke-width="2.15"/>
<use href="#a16" stroke="#e1866e" stroke-width="2.15"/>
<use href="#a17" stroke="#d7695e" stroke-width="2.15"/>
<use href="#a18" stroke="#c74753" stroke-width="2.15"/>
<use href="#a19" stroke="#a82346" stroke-width="2.15"/>
</g>
<!-- panel b -->
<g fill="none" stroke-linecap="round">
<defs>
<path id="b" d="M328.9 85.1h30.9M313.5 88.8h58.4M311.8 92.5h61.8M313.5 96.2h61.8M315.2 99.9h72.1M313.5 103.6h75.5M311.8 107.3h75.5M303.2 111h96.1M304.9 114.7h96.1M303.2 118.4h99.5M440.4 118.4h0.1M301.5 122.1h99.5M438.7 122.1h3.5M292.9 125.8h106.4M440.4 125.8h0.1M291.2 129.5h106.4M414.7 129.5h3.5M442.1 129.5h17.2M289.5 133.2h109.8M416.4 133.2h0.1M437 133.2h20.6M467.9 133.2h3.5M291.2 136.9h109.8M438.7 136.9h20.6M466.1 136.9h6.9M289.5 140.6h109.8M437 140.6h37.8M287.8 144.3h109.8M438.7 144.3h37.8M286.1 148h120.1M437 148h41.2M284.4 151.7h123.5M435.3 151.7h44.7M282.6 155.4h123.5M433.6 155.4h54.9M280.9 159.1h116.7M435.3 159.1h54.9M279.2 162.8h116.7M433.6 162.8h58.4M277.5 166.5h116.7M431.9 166.5h58.4M279.2 170.2h103M399.3 170.2h0.1M430.1 170.2h10.4M447.3 170.2h41.2M277.5 173.9h103M425 173.9h65.2M279.2 177.6h96.1M389 177.6h0.1M402.7 177.6h0.1M419.8 177.6h68.7M277.5 181.3h96.1M397.6 181.3h89.2M279.2 185h92.7M389 185h96.1M277.5 188.7h92.7M383.8 188.7h99.5M279.2 192.4h89.2M382.1 192.4h99.5M277.5 196.1h89.2M380.4 196.1h99.5M279.2 199.8h127M413 199.8h65.2M277.5 203.5h65.2M353 203.5h123.5M279.2 207.2h54.9M351.2 207.2h103M461 207.2h13.8M277.5 210.9h51.5M353 210.9h120.1M279.2 214.6h44.7M351.2 214.6h120.1M277.5 218.3h41.2M349.5 218.3h116.7M279.2 222h41.2M351.2 222h99.5M457.6 222h6.9M277.5 225.7h41.2M349.5 225.7h113.3M282.6 229.4h34.4M347.8 229.4h109.8M284.4 233.1h27.5M342.7 233.1h109.8M286.1 236.8h24.1M337.5 236.8h113.3M287.8 240.5h20.6M339.2 240.5h109.8M286.1 244.2h20.6M337.5 244.2h99.5M287.8 247.9h20.6M339.2 247.9h96.1M286.1 251.6h24.1M337.5 251.6h92.7M284.4 255.3h27.5M325.5 255.3h0.1M339.2 255.3h82.4M286.1 259h27.5M337.5 259h75.5M287.8 262.7h27.5M339.2 262.7h68.7M289.5 266.4h27.5M337.5 266.4h68.7M291.2 270.1h27.5M339.2 270.1h61.8M296.4 273.8h20.6M341 273.8h58.4M298.1 277.5h20.6M339.2 277.5h51.5M320.4 281.2h58.4M325.5 284.9h54.9M358.1 288.6h27.5M363.2 292.3h24.1M365 296h20.6M370.1 299.7h10.4" stroke-dasharray="0 3.430"/>
<path id="b5" d="M316.9 96.2h0M395.8 111h0M366.7 122.1h0M474.7 148h0M316.9 185h0M316.9 192.4h0M380.4 196.1h0"/>
<path id="b6" d="M383.8 99.9h0M330.7 111h0M401 114.7h0M378.7 118.4h0M382.1 118.4h0M351.2 125.8h0M328.9 129.5h0M291.2 144.3h0M318.7 144.3h0M301.5 151.7h0M335.8 151.7h0M466.1 151.7h0M296.4 155.4h0M337.5 155.4h0M344.4 155.4h0M341 162.8h0M318.7 166.5h0M375.3 170.2h0M304.9 173.9h0M335.8 181.3h0M322.1 188.7h0M358.1 192.4h0M425 203.5h0M298.1 233.1h0"/>
<path id="b7" d="M339.2 85.1h0M346.1 85.1h0M365 88.8h0M368.4 88.8h0M371.8 88.8h0M311.8 92.5h0M339.2 99.9h0M328.9 107.3h0M377 107.3h0M358.1 111h0M385.5 111h0M304.9 114.7h0M328.9 114.7h0M377 114.7h0M390.7 114.7h0M327.2 118.4h0M385.5 118.4h0M402.7 118.4h0M356.4 122.1h0M363.2 122.1h0M377 122.1h0M390.7 122.1h0M337.5 125.8h0M392.4 125.8h0M370.1 129.5h0M368.4 133.2h0M339.2 136.9h0M359.8 136.9h0M289.5 140.6h0M303.2 140.6h0M306.7 140.6h0M327.2 140.6h0M351.2 140.6h0M294.6 144.3h0M304.9 144.3h0M346.1 144.3h0M377 144.3h0M286.1 148h0M303.2 148h0M344.4 148h0M284.4 151.7h0M315.2 151.7h0M332.4 151.7h0M289.5 155.4h0M292.9 155.4h0M341 155.4h0M354.7 155.4h0M395.8 155.4h0M440.4 155.4h0M287.8 159.1h0M304.9 159.1h0M325.5 159.1h0M346.1 159.1h0M349.5 159.1h0M356.4 159.1h0M377 159.1h0M337.5 162.8h0M385.5 162.8h0M395.8 162.8h0M485 162.8h0M342.7 166.5h0M349.5 166.5h0M303.2 170.2h0M382.1 170.2h0M471.3 170.2h0M476.4 173.9h0M296.4 177.6h0M299.8 177.6h0M361.5 177.6h0M304.9 181.3h0M315.2 181.3h0M318.7 181.3h0M328.9 181.3h0M282.6 185h0M286.1 185h0M296.4 185h0M298.1 188.7h0M315.2 188.7h0M335.8 188.7h0M303.2 192.4h0M310.1 192.4h0M351.2 192.4h0M368.4 192.4h0M385.5 192.4h0M294.6 196.1h0M301.5 196.1h0M311.8 196.1h0M315.2 196.1h0M318.7 196.1h0M349.5 196.1h0M366.7 196.1h0M289.5 199.8h0M306.7 199.8h0M323.8 199.8h0M327.2 199.8h0M341 199.8h0M347.8 199.8h0M430.1 199.8h0M322.1 203.5h0M363.2 203.5h0M370.1 203.5h0M383.8 203.5h0M316.9 207.2h0M365 207.2h0M419.8 207.2h0M437 207.2h0M359.8 210.9h0M387.3 210.9h0M397.6 210.9h0M428.4 210.9h0M392.4 214.6h0M291.2 225.7h0M421.6 225.7h0M296.4 229.4h0M316.9 229.4h0M354.7 229.4h0M311.8 233.1h0M346.1 240.5h0M445.6 240.5h0M378.7 259h0M339.2 284.9h0"/>
<path id="b9" d="M481.6 177.6h0M474.7 185h0M478.2 185h0M423.3 214.6h0M392.4 244.2h0M373.5 247.9h0M383.8 247.9h0M401 247.9h0M351.2 259h0M371.8 266.4h0M353 270.1h0M347.8 273.8h0M351.2 273.8h0M383.8 277.5h0M341 281.2h0M366.7 292.3h0"/>
<path id="b10" d="M328.9 85.1h0M335.8 85.1h0M342.7 85.1h0M349.5 85.1h0M353 85.1h0M313.5 88.8h0M316.9 88.8h0M330.7 88.8h0M334.1 88.8h0M347.8 88.8h0M351.2 88.8h0M354.7 88.8h0M358.1 88.8h0M322.1 92.5h0M325.5 92.5h0M335.8 92.5h0M346.1 92.5h0M356.4 92.5h0M363.2 92.5h0M366.7 92.5h0M373.5 92.5h0M320.4 96.2h0M323.8 96.2h0M327.2 96.2h0M341 96.2h0M344.4 96.2h0M351.2 96.2h0M354.7 96.2h0M361.5 96.2h0M365 96.2h0M371.8 96.2h0M375.3 96.2h0M328.9 99.9h0M332.4 99.9h0M349.5 99.9h0M353 99.9h0M356.4 99.9h0M359.8 99.9h0M370.1 99.9h0M373.5 99.9h0M387.3 99.9h0M316.9 103.6h0M330.7 103.6h0M334.1 103.6h0M347.8 103.6h0M351.2 103.6h0M361.5 103.6h0M365 103.6h0M368.4 103.6h0M322.1 107.3h0M349.5 107.3h0M353 107.3h0M356.4 107.3h0M359.8 107.3h0M363.2 107.3h0M373.5 107.3h0M303.2 111h0M306.7 111h0M320.4 111h0M327.2 111h0M334.1 111h0M337.5 111h0M341 111h0M344.4 111h0M351.2 111h0M361.5 111h0M375.3 111h0M378.7 111h0M382.1 111h0M389 111h0M399.3 111h0M315.2 114.7h0M325.5 114.7h0M332.4 114.7h0M339.2 114.7h0M342.7 114.7h0M349.5 114.7h0M353 114.7h0M366.7 114.7h0M370.1 114.7h0M383.8 114.7h0M387.3 114.7h0M313.5 118.4h0M320.4 118.4h0M330.7 118.4h0M337.5 118.4h0M354.7 118.4h0M389 118.4h0M399.3 118.4h0M440.4 118.4h0M308.4 122.1h0M315.2 122.1h0M322.1 122.1h0M328.9 122.1h0M335.8 122.1h0M339.2 122.1h0M346.1 122.1h0M349.5 122.1h0M359.8 122.1h0M370.1 122.1h0M380.4 122.1h0M394.1 122.1h0M438.7 122.1h0M313.5 125.8h0M320.4 125.8h0M323.8 125.8h0M327.2 125.8h0M330.7 125.8h0M334.1 125.8h0M361.5 125.8h0M371.8 125.8h0M389 125.8h0M301.5 129.5h0M308.4 129.5h0M315.2 129.5h0M318.7 129.5h0M322.1 129.5h0M332.4 129.5h0M342.7 129.5h0M346.1 129.5h0M349.5 129.5h0M356.4 129.5h0M359.8 129.5h0M366.7 129.5h0M390.7 129.5h0M394.1 129.5h0M414.7 129.5h0M418.1 129.5h0M442.1 129.5h0M452.4 129.5h0M455.9 129.5h0M459.3 129.5h0M296.4 133.2h0M306.7 133.2h0M310.1 133.2h0M313.5 133.2h0M327.2 133.2h0M330.7 133.2h0M334.1 133.2h0M337.5 133.2h0M341 133.2h0M344.4 133.2h0M354.7 133.2h0M361.5 133.2h0M371.8 133.2h0M375.3 133.2h0M378.7 133.2h0M389 133.2h0M437 133.2h0M443.9 133.2h0M298.1 136.9h0M318.7 136.9h0M322.1 136.9h0M335.8 136.9h0M346.1 136.9h0M349.5 136.9h0M366.7 136.9h0M377 136.9h0M380.4 136.9h0M387.3 136.9h0M390.7 136.9h0M397.6 136.9h0M401 136.9h0M292.9 140.6h0M323.8 140.6h0M334.1 140.6h0M344.4 140.6h0M358.1 140.6h0M361.5 140.6h0M365 140.6h0M371.8 140.6h0M378.7 140.6h0M385.5 140.6h0M389 140.6h0M392.4 140.6h0M399.3 140.6h0M440.4 140.6h0M443.9 140.6h0M447.3 140.6h0M450.7 140.6h0M287.8 144.3h0M301.5 144.3h0M308.4 144.3h0M322.1 144.3h0M325.5 144.3h0M328.9 144.3h0M332.4 144.3h0M335.8 144.3h0M349.5 144.3h0M356.4 144.3h0M363.2 144.3h0M366.7 144.3h0M370.1 144.3h0M373.5 144.3h0M380.4 144.3h0M390.7 144.3h0M394.1 144.3h0M289.5 148h0M296.4 148h0M299.8 148h0M306.7 148h0M310.1 148h0M313.5 148h0M316.9 148h0M327.2 148h0M330.7 148h0M358.1 148h0M361.5 148h0M365 148h0M371.8 148h0M385.5 148h0M395.8 148h0M399.3 148h0M402.7 148h0M440.4 148h0M291.2 151.7h0M294.6 151.7h0M304.9 151.7h0M322.1 151.7h0M346.1 151.7h0M349.5 151.7h0M359.8 151.7h0M363.2 151.7h0M373.5 151.7h0M377 151.7h0M383.8 151.7h0M387.3 151.7h0M390.7 151.7h0M397.6 151.7h0M299.8 155.4h0M303.2 155.4h0M316.9 155.4h0M327.2 155.4h0M361.5 155.4h0M368.4 155.4h0M378.7 155.4h0M385.5 155.4h0M392.4 155.4h0M399.3 155.4h0M402.7 155.4h0M406.1 155.4h0M284.4 159.1h0M294.6 159.1h0M298.1 159.1h0M311.8 159.1h0M318.7 159.1h0M328.9 159.1h0M335.8 159.1h0M339.2 159.1h0M353 159.1h0M363.2 159.1h0M366.7 159.1h0M370.1 159.1h0M380.4 159.1h0M383.8 159.1h0M387.3 159.1h0M394.1 159.1h0M397.6 159.1h0M435.3 159.1h0M438.7 159.1h0M279.2 162.8h0M289.5 162.8h0M299.8 162.8h0M313.5 162.8h0M316.9 162.8h0M323.8 162.8h0M327.2 162.8h0M330.7 162.8h0M344.4 162.8h0M365 162.8h0M378.7 162.8h0M382.1 162.8h0M277.5 166.5h0M291.2 166.5h0M294.6 166.5h0M298.1 166.5h0M304.9 166.5h0M308.4 166.5h0M332.4 166.5h0M335.8 166.5h0M356.4 166.5h0M366.7 166.5h0M377 166.5h0M380.4 166.5h0M383.8 166.5h0M387.3 166.5h0M390.7 166.5h0M394.1 166.5h0M286.1 170.2h0M292.9 170.2h0M299.8 170.2h0M313.5 170.2h0M323.8 170.2h0M330.7 170.2h0M354.7 170.2h0M368.4 170.2h0M378.7 170.2h0M430.1 170.2h0M280.9 173.9h0M287.8 173.9h0M308.4 173.9h0M318.7 173.9h0M322.1 173.9h0M335.8 173.9h0M339.2 173.9h0M346.1 173.9h0M353 173.9h0M359.8 173.9h0M370.1 173.9h0M380.4 173.9h0M279.2 177.6h0M286.1 177.6h0M289.5 177.6h0M292.9 177.6h0M303.2 177.6h0M306.7 177.6h0M313.5 177.6h0M316.9 177.6h0M320.4 177.6h0M330.7 177.6h0M344.4 177.6h0M354.7 177.6h0M358.1 177.6h0M368.4 177.6h0M389 177.6h0M426.7 177.6h0M430.1 177.6h0M433.6 177.6h0M287.8 181.3h0M311.8 181.3h0M322.1 181.3h0M339.2 181.3h0M349.5 181.3h0M363.2 181.3h0M370.1 181.3h0M373.5 181.3h0M414.7 181.3h0M418.1 181.3h0M428.4 181.3h0M279.2 185h0M289.5 185h0M292.9 185h0M310.1 185h0M351.2 185h0M358.1 185h0M371.8 185h0M392.4 185h0M399.3 185h0M413 185h0M416.4 185h0M423.3 185h0M280.9 188.7h0M287.8 188.7h0M304.9 188.7h0M308.4 188.7h0M318.7 188.7h0M328.9 188.7h0M346.1 188.7h0M353 188.7h0M359.8 188.7h0M363.2 188.7h0M387.3 188.7h0M394.1 188.7h0M397.6 188.7h0M401 188.7h0M407.8 188.7h0M414.7 188.7h0M418.1 188.7h0M279.2 192.4h0M286.1 192.4h0M289.5 192.4h0M292.9 192.4h0M320.4 192.4h0M323.8 192.4h0M334.1 192.4h0M354.7 192.4h0M382.1 192.4h0M395.8 192.4h0M399.3 192.4h0M406.1 192.4h0M409.6 192.4h0M413 192.4h0M416.4 192.4h0M426.7 192.4h0M280.9 196.1h0M328.9 196.1h0M339.2 196.1h0M353 196.1h0M394.1 196.1h0M401 196.1h0M404.4 196.1h0M411.3 196.1h0M414.7 196.1h0M282.6 199.8h0M299.8 199.8h0M316.9 199.8h0M334.1 199.8h0M337.5 199.8h0M344.4 199.8h0M365 199.8h0M368.4 199.8h0M382.1 199.8h0M389 199.8h0M392.4 199.8h0M402.7 199.8h0M406.1 199.8h0M416.4 199.8h0M423.3 199.8h0M284.4 203.5h0M294.6 203.5h0M298.1 203.5h0M301.5 203.5h0M308.4 203.5h0M311.8 203.5h0M315.2 203.5h0M325.5 203.5h0M335.8 203.5h0M359.8 203.5h0M380.4 203.5h0M387.3 203.5h0M390.7 203.5h0M397.6 203.5h0M407.8 203.5h0M286.1 207.2h0M289.5 207.2h0M292.9 207.2h0M310.1 207.2h0M313.5 207.2h0M330.7 207.2h0M351.2 207.2h0M375.3 207.2h0M378.7 207.2h0M399.3 207.2h0M406.1 207.2h0M409.6 207.2h0M287.8 210.9h0M298.1 210.9h0M301.5 210.9h0M304.9 210.9h0M311.8 210.9h0M325.5 210.9h0M353 210.9h0M380.4 210.9h0M390.7 210.9h0M394.1 210.9h0M404.4 210.9h0M279.2 214.6h0M286.1 214.6h0M289.5 214.6h0M292.9 214.6h0M303.2 214.6h0M306.7 214.6h0M320.4 214.6h0M323.8 214.6h0M354.7 214.6h0M368.4 214.6h0M378.7 214.6h0M382.1 214.6h0M280.9 218.3h0M284.4 218.3h0M287.8 218.3h0M298.1 218.3h0M304.9 218.3h0M315.2 218.3h0M356.4 218.3h0M359.8 218.3h0M373.5 218.3h0M377 218.3h0M380.4 218.3h0M387.3 218.3h0M286.1 222h0M289.5 222h0M292.9 222h0M299.8 222h0M303.2 222h0M306.7 222h0M310.1 222h0M313.5 222h0M354.7 222h0M358.1 222h0M365 222h0M385.5 222h0M389 222h0M284.4 225.7h0M294.6 225.7h0M301.5 225.7h0M304.9 225.7h0M308.4 225.7h0M311.8 225.7h0M353 225.7h0M359.8 225.7h0M383.8 225.7h0M394.1 225.7h0M404.4 225.7h0M286.1 229.4h0M306.7 229.4h0M313.5 229.4h0M347.8 229.4h0M365 229.4h0M371.8 229.4h0M378.7 229.4h0M287.8 233.1h0M291.2 233.1h0M301.5 233.1h0M304.9 233.1h0M346.1 233.1h0M356.4 233.1h0M359.8 233.1h0M366.7 233.1h0M289.5 236.8h0M303.2 236.8h0M351.2 236.8h0M365 236.8h0M385.5 236.8h0M287.8 240.5h0M292.9 244.2h0M303.2 244.2h0M337.5 244.2h0M291.2 247.9h0M294.6 247.9h0M301.5 247.9h0M304.9 247.9h0M308.4 247.9h0M289.5 251.6h0M296.4 251.6h0M299.8 251.6h0M341 251.6h0M284.4 255.3h0M287.8 255.3h0M291.2 255.3h0M294.6 255.3h0M349.5 255.3h0M286.1 259h0M296.4 259h0M306.7 259h0M313.5 259h0M304.9 262.7h0M292.9 266.4h0M296.4 266.4h0M299.8 266.4h0M310.1 266.4h0M301.5 270.1h0M304.9 270.1h0M308.4 270.1h0M296.4 273.8h0M303.2 273.8h0M306.7 273.8h0M298.1 277.5h0M304.9 277.5h0M308.4 277.5h0"/>
<path id="b11" d="M320.4 88.8h0M327.2 88.8h0M344.4 88.8h0M359.8 92.5h0M337.5 96.2h0M358.1 96.2h0M368.4 96.2h0M318.7 99.9h0M335.8 99.9h0M342.7 99.9h0M341 103.6h0M389 103.6h0M315.2 107.3h0M318.7 107.3h0M332.4 107.3h0M387.3 107.3h0M323.8 111h0M311.8 114.7h0M344.4 118.4h0M358.1 118.4h0M365 118.4h0M368.4 118.4h0M332.4 122.1h0M303.2 125.8h0M310.1 125.8h0M344.4 125.8h0M358.1 125.8h0M382.1 125.8h0M440.4 125.8h0M304.9 129.5h0M311.8 129.5h0M325.5 129.5h0M335.8 129.5h0M387.3 129.5h0M292.9 133.2h0M303.2 133.2h0M316.9 133.2h0M320.4 133.2h0M323.8 133.2h0M385.5 133.2h0M447.3 133.2h0M450.7 133.2h0M467.9 133.2h0M471.3 133.2h0M328.9 136.9h0M373.5 136.9h0M394.1 136.9h0M449 136.9h0M455.9 136.9h0M466.1 136.9h0M469.6 136.9h0M473 136.9h0M313.5 140.6h0M354.7 140.6h0M454.1 140.6h0M457.6 140.6h0M464.4 140.6h0M467.9 140.6h0M471.3 140.6h0M311.8 144.3h0M387.3 144.3h0M445.6 144.3h0M459.3 144.3h0M334.1 148h0M341 148h0M368.4 148h0M375.3 148h0M382.1 148h0M389 148h0M467.9 148h0M478.2 148h0M394.1 151.7h0M449 151.7h0M452.4 151.7h0M469.6 151.7h0M473 151.7h0M479.9 151.7h0M313.5 155.4h0M347.8 155.4h0M358.1 155.4h0M375.3 155.4h0M433.6 155.4h0M450.7 155.4h0M457.6 155.4h0M464.4 155.4h0M467.9 155.4h0M478.2 155.4h0M485 155.4h0M488.4 155.4h0M291.2 159.1h0M301.5 159.1h0M342.7 159.1h0M445.6 159.1h0M452.4 159.1h0M466.1 159.1h0M469.6 159.1h0M490.2 159.1h0M292.9 162.8h0M296.4 162.8h0M303.2 162.8h0M334.1 162.8h0M354.7 162.8h0M433.6 162.8h0M447.3 162.8h0M454.1 162.8h0M461 162.8h0M467.9 162.8h0M471.3 162.8h0M478.2 162.8h0M491.9 162.8h0M280.9 166.5h0M284.4 166.5h0M322.1 166.5h0M339.2 166.5h0M346.1 166.5h0M373.5 166.5h0M435.3 166.5h0M459.3 166.5h0M469.6 166.5h0M479.9 166.5h0M486.7 166.5h0M306.7 170.2h0M320.4 170.2h0M327.2 170.2h0M433.6 170.2h0M447.3 170.2h0M454.1 170.2h0M464.4 170.2h0M467.9 170.2h0M488.4 170.2h0M277.5 173.9h0M301.5 173.9h0M315.2 173.9h0M325.5 173.9h0M328.9 173.9h0M332.4 173.9h0M425 173.9h0M435.3 173.9h0M438.7 173.9h0M455.9 173.9h0M473 173.9h0M479.9 173.9h0M483.3 173.9h0M486.7 173.9h0M490.2 173.9h0M327.2 177.6h0M341 177.6h0M351.2 177.6h0M423.3 177.6h0M440.4 177.6h0M443.9 177.6h0M447.3 177.6h0M454.1 177.6h0M457.6 177.6h0M464.4 177.6h0M277.5 181.3h0M284.4 181.3h0M356.4 181.3h0M397.6 181.3h0M401 181.3h0M421.6 181.3h0M431.9 181.3h0M435.3 181.3h0M438.7 181.3h0M452.4 181.3h0M455.9 181.3h0M462.7 181.3h0M473 181.3h0M476.4 181.3h0M479.9 181.3h0M483.3 181.3h0M341 185h0M344.4 185h0M347.8 185h0M365 185h0M402.7 185h0M409.6 185h0M419.8 185h0M437 185h0M440.4 185h0M447.3 185h0M457.6 185h0M461 185h0M464.4 185h0M471.3 185h0M339.2 188.7h0M349.5 188.7h0M366.7 188.7h0M370.1 188.7h0M411.3 188.7h0M435.3 188.7h0M438.7 188.7h0M442.1 188.7h0M449 188.7h0M452.4 188.7h0M466.1 188.7h0M473 188.7h0M483.3 188.7h0M423.3 192.4h0M430.1 192.4h0M433.6 192.4h0M440.4 192.4h0M447.3 192.4h0M457.6 192.4h0M461 192.4h0M464.4 192.4h0M467.9 192.4h0M471.3 192.4h0M474.7 192.4h0M481.6 192.4h0M277.5 196.1h0M284.4 196.1h0M287.8 196.1h0M291.2 196.1h0M332.4 196.1h0M418.1 196.1h0M421.6 196.1h0M431.9 196.1h0M435.3 196.1h0M455.9 196.1h0M466.1 196.1h0M469.6 196.1h0M473 196.1h0M413 199.8h0M426.7 199.8h0M433.6 199.8h0M447.3 199.8h0M450.7 199.8h0M454.1 199.8h0M457.6 199.8h0M467.9 199.8h0M471.3 199.8h0M474.7 199.8h0M478.2 199.8h0M277.5 203.5h0M318.7 203.5h0M356.4 203.5h0M394.1 203.5h0M401 203.5h0M428.4 203.5h0M445.6 203.5h0M449 203.5h0M452.4 203.5h0M459.3 203.5h0M469.6 203.5h0M476.4 203.5h0M282.6 207.2h0M299.8 207.2h0M306.7 207.2h0M334.1 207.2h0M395.8 207.2h0M416.4 207.2h0M426.7 207.2h0M433.6 207.2h0M440.4 207.2h0M443.9 207.2h0M450.7 207.2h0M454.1 207.2h0M461 207.2h0M474.7 207.2h0M280.9 210.9h0M291.2 210.9h0M318.7 210.9h0M407.8 210.9h0M411.3 210.9h0M414.7 210.9h0M418.1 210.9h0M425 210.9h0M442.1 210.9h0M445.6 210.9h0M449 210.9h0M452.4 210.9h0M459.3 210.9h0M469.6 210.9h0M473 210.9h0M296.4 214.6h0M299.8 214.6h0M361.5 214.6h0M385.5 214.6h0M389 214.6h0M395.8 214.6h0M409.6 214.6h0M413 214.6h0M440.4 214.6h0M443.9 214.6h0M447.3 214.6h0M450.7 214.6h0M457.6 214.6h0M318.7 218.3h0M353 218.3h0M363.2 218.3h0M383.8 218.3h0M394.1 218.3h0M401 218.3h0M404.4 218.3h0M407.8 218.3h0M414.7 218.3h0M421.6 218.3h0M425 218.3h0M442.1 218.3h0M445.6 218.3h0M455.9 218.3h0M462.7 218.3h0M282.6 222h0M296.4 222h0M361.5 222h0M382.1 222h0M392.4 222h0M395.8 222h0M399.3 222h0M402.7 222h0M406.1 222h0M409.6 222h0M416.4 222h0M419.8 222h0M423.3 222h0M430.1 222h0M437 222h0M440.4 222h0M447.3 222h0M461 222h0M277.5 225.7h0M287.8 225.7h0M298.1 225.7h0M356.4 225.7h0M363.2 225.7h0M366.7 225.7h0M377 225.7h0M380.4 225.7h0M387.3 225.7h0M397.6 225.7h0M411.3 225.7h0M414.7 225.7h0M418.1 225.7h0M428.4 225.7h0M435.3 225.7h0M445.6 225.7h0M452.4 225.7h0M455.9 225.7h0M462.7 225.7h0M289.5 229.4h0M310.1 229.4h0M361.5 229.4h0M368.4 229.4h0M382.1 229.4h0M392.4 229.4h0M395.8 229.4h0M406.1 229.4h0M413 229.4h0M419.8 229.4h0M433.6 229.4h0M437 229.4h0M447.3 229.4h0M457.6 229.4h0M294.6 233.1h0M349.5 233.1h0M373.5 233.1h0M377 233.1h0M387.3 233.1h0M390.7 233.1h0M401 233.1h0M404.4 233.1h0M411.3 233.1h0M418.1 233.1h0M421.6 233.1h0M428.4 233.1h0M431.9 233.1h0M438.7 233.1h0M442.1 233.1h0M445.6 233.1h0M452.4 233.1h0M286.1 236.8h0M299.8 236.8h0M306.7 236.8h0M344.4 236.8h0M368.4 236.8h0M389 236.8h0M392.4 236.8h0M395.8 236.8h0M402.7 236.8h0M406.1 236.8h0M413 236.8h0M416.4 236.8h0M419.8 236.8h0M437 236.8h0M440.4 236.8h0M450.7 236.8h0M291.2 240.5h0M294.6 240.5h0M301.5 240.5h0M366.7 240.5h0M390.7 240.5h0M394.1 240.5h0M401 240.5h0M407.8 240.5h0M418.1 240.5h0M428.4 240.5h0M431.9 240.5h0M435.3 240.5h0M442.1 240.5h0M347.8 244.2h0M351.2 244.2h0M358.1 244.2h0M365 244.2h0M368.4 244.2h0M375.3 244.2h0M378.7 244.2h0M395.8 244.2h0M402.7 244.2h0M409.6 244.2h0M413 244.2h0M426.7 244.2h0M430.1 244.2h0M437 244.2h0M339.2 247.9h0M346.1 247.9h0M349.5 247.9h0M359.8 247.9h0M363.2 247.9h0M390.7 247.9h0M394.1 247.9h0M397.6 247.9h0M407.8 247.9h0M411.3 247.9h0M428.4 247.9h0M431.9 247.9h0M286.1 251.6h0M292.9 251.6h0M337.5 251.6h0M347.8 251.6h0M368.4 251.6h0M371.8 251.6h0M378.7 251.6h0M382.1 251.6h0M389 251.6h0M392.4 251.6h0M402.7 251.6h0M406.1 251.6h0M419.8 251.6h0M430.1 251.6h0M308.4 255.3h0M311.8 255.3h0M342.7 255.3h0M346.1 255.3h0M353 255.3h0M366.7 255.3h0M370.1 255.3h0M373.5 255.3h0M387.3 255.3h0M397.6 255.3h0M407.8 255.3h0M411.3 255.3h0M414.7 255.3h0M418.1 255.3h0M421.6 255.3h0M289.5 259h0M337.5 259h0M341 259h0M344.4 259h0M358.1 259h0M361.5 259h0M368.4 259h0M375.3 259h0M382.1 259h0M389 259h0M392.4 259h0M399.3 259h0M402.7 259h0M406.1 259h0M413 259h0M287.8 262.7h0M291.2 262.7h0M294.6 262.7h0M308.4 262.7h0M346.1 262.7h0M349.5 262.7h0M353 262.7h0M370.1 262.7h0M373.5 262.7h0M390.7 262.7h0M394.1 262.7h0M397.6 262.7h0M401 262.7h0M407.8 262.7h0M289.5 266.4h0M303.2 266.4h0M306.7 266.4h0M313.5 266.4h0M337.5 266.4h0M341 266.4h0M344.4 266.4h0M347.8 266.4h0M358.1 266.4h0M382.1 266.4h0M385.5 266.4h0M389 266.4h0M399.3 266.4h0M402.7 266.4h0M291.2 270.1h0M315.2 270.1h0M318.7 270.1h0M349.5 270.1h0M359.8 270.1h0M363.2 270.1h0M366.7 270.1h0M370.1 270.1h0M380.4 270.1h0M383.8 270.1h0M387.3 270.1h0M397.6 270.1h0M401 270.1h0M354.7 273.8h0M358.1 273.8h0M361.5 273.8h0M365 273.8h0M368.4 273.8h0M371.8 273.8h0M399.3 273.8h0M318.7 277.5h0M339.2 277.5h0M353 277.5h0M359.8 277.5h0M363.2 277.5h0M380.4 277.5h0M323.8 281.2h0M334.1 281.2h0M344.4 281.2h0M365 281.2h0M368.4 281.2h0M375.3 281.2h0M378.7 281.2h0M325.5 284.9h0M332.4 284.9h0M342.7 284.9h0M353 284.9h0M363.2 284.9h0M377 284.9h0M361.5 288.6h0M371.8 288.6h0M382.1 288.6h0M385.5 288.6h0M383.8 292.3h0M371.8 296h0M375.3 296h0M377 299.7h0"/>
<path id="b12" d="M334.1 96.2h0M346.1 99.9h0M377 99.9h0M342.7 107.3h0M346.1 107.3h0M310.1 111h0M347.8 111h0M304.9 122.1h0M342.7 122.1h0M445.6 129.5h0M347.8 133.2h0M416.4 133.2h0M438.7 136.9h0M452.4 136.9h0M316.9 140.6h0M395.8 140.6h0M438.7 144.3h0M449 144.3h0M455.9 144.3h0M469.6 144.3h0M473 144.3h0M351.2 148h0M437 148h0M454.1 148h0M457.6 148h0M370.1 151.7h0M389 155.4h0M443.9 155.4h0M471.3 155.4h0M455.9 159.1h0M473 159.1h0M483.3 159.1h0M282.6 162.8h0M310.1 162.8h0M320.4 162.8h0M457.6 162.8h0M488.4 162.8h0M442.1 166.5h0M445.6 166.5h0M449 166.5h0M462.7 166.5h0M466.1 166.5h0M490.2 166.5h0M282.6 170.2h0M316.9 170.2h0M485 170.2h0M284.4 173.9h0M342.7 173.9h0M431.9 173.9h0M442.1 173.9h0M445.6 173.9h0M452.4 173.9h0M375.3 177.6h0M450.7 177.6h0M461 177.6h0M467.9 177.6h0M488.4 177.6h0M280.9 181.3h0M308.4 181.3h0M407.8 181.3h0M411.3 181.3h0M445.6 181.3h0M449 181.3h0M469.6 181.3h0M406.1 185h0M433.6 185h0M443.9 185h0M467.9 185h0M485 185h0M277.5 188.7h0M390.7 188.7h0M469.6 188.7h0M479.9 188.7h0M402.7 192.4h0M397.6 196.1h0M479.9 196.1h0M286.1 199.8h0M395.8 199.8h0M443.9 199.8h0M280.9 203.5h0M353 203.5h0M466.1 203.5h0M303.2 207.2h0M327.2 207.2h0M464.4 207.2h0M471.3 207.2h0M277.5 210.9h0M294.6 210.9h0M308.4 210.9h0M370.1 210.9h0M377 210.9h0M401 210.9h0M455.9 210.9h0M462.7 210.9h0M466.1 210.9h0M310.1 214.6h0M313.5 214.6h0M416.4 214.6h0M419.8 214.6h0M433.6 214.6h0M461 214.6h0M467.9 214.6h0M294.6 218.3h0M311.8 218.3h0M418.1 218.3h0M431.9 218.3h0M459.3 218.3h0M375.3 222h0M378.7 222h0M443.9 222h0M450.7 222h0M370.1 225.7h0M401 225.7h0M425 225.7h0M385.5 229.4h0M389 229.4h0M399.3 229.4h0M416.4 229.4h0M284.4 233.1h0M435.3 233.1h0M296.4 236.8h0M358.1 236.8h0M409.6 236.8h0M430.1 236.8h0M433.6 236.8h0M304.9 240.5h0M342.7 240.5h0M356.4 240.5h0M359.8 240.5h0M363.2 240.5h0M380.4 240.5h0M387.3 240.5h0M397.6 240.5h0M404.4 240.5h0M411.3 240.5h0M421.6 240.5h0M361.5 244.2h0M416.4 244.2h0M287.8 247.9h0M414.7 247.9h0M418.1 247.9h0M435.3 247.9h0M303.2 251.6h0M354.7 251.6h0M416.4 251.6h0M298.1 255.3h0M304.9 255.3h0M325.5 255.3h0M339.2 255.3h0M356.4 255.3h0M359.8 255.3h0M380.4 255.3h0M401 255.3h0M299.8 259h0M303.2 259h0M365 259h0M371.8 259h0M301.5 262.7h0M359.8 262.7h0M366.7 262.7h0M377 262.7h0M387.3 262.7h0M368.4 266.4h0M395.8 266.4h0M406.1 266.4h0M311.8 270.1h0M373.5 270.1h0M390.7 270.1h0M378.7 273.8h0M382.1 273.8h0M385.5 273.8h0M392.4 273.8h0M395.8 273.8h0M301.5 277.5h0M311.8 277.5h0M373.5 277.5h0M377 277.5h0M387.3 277.5h0M390.7 277.5h0M337.5 281.2h0M371.8 281.2h0M328.9 284.9h0M335.8 284.9h0M366.7 284.9h0M370.1 284.9h0M380.4 284.9h0M365 288.6h0M368.4 288.6h0M378.7 288.6h0M363.2 292.3h0M377 292.3h0M368.4 296h0M378.7 296h0M373.5 299.7h0"/>
<path id="b13" d="M359.8 85.1h0M313.5 96.2h0M382.1 103.6h0M371.8 118.4h0M449 129.5h0M445.6 136.9h0M459.3 136.9h0M474.7 155.4h0M287.8 166.5h0M315.2 166.5h0M476.4 166.5h0M483.3 166.5h0M440.4 170.2h0M474.7 170.2h0M481.6 170.2h0M298.1 173.9h0M282.6 177.6h0M462.7 188.7h0M478.2 192.4h0M351.2 199.8h0M461 199.8h0M464.4 199.8h0M431.9 203.5h0M462.7 203.5h0M473 203.5h0M279.2 207.2h0M447.3 207.2h0M315.2 210.9h0M438.7 210.9h0M291.2 218.3h0M449 218.3h0M452.4 218.3h0M466.1 218.3h0M279.2 222h0M280.9 225.7h0M292.9 229.4h0M430.1 229.4h0M397.6 233.1h0M292.9 236.8h0M347.8 236.8h0M354.7 236.8h0M371.8 236.8h0M447.3 236.8h0M383.8 240.5h0M286.1 244.2h0M299.8 244.2h0M344.4 244.2h0M353 247.9h0M425 247.9h0M311.8 262.7h0M356.4 262.7h0M316.9 266.4h0M377 270.1h0M394.1 270.1h0M341 273.8h0M375.3 273.8h0M315.2 277.5h0M373.5 284.9h0M380.4 292.3h0M387.3 292.3h0M370.1 299.7h0"/>
<path id="b14" d="M452.4 144.3h0M450.7 148h0M481.6 155.4h0M296.4 170.2h0M461 170.2h0M466.1 181.3h0M354.7 185h0M395.8 185h0M454.1 185h0M404.4 188.7h0M437 192.4h0M454.1 192.4h0M442.1 196.1h0M452.4 196.1h0M440.4 199.8h0M467.9 207.2h0M301.5 218.3h0M423.3 229.4h0M380.4 233.1h0M399.3 236.8h0M306.7 244.2h0M387.3 247.9h0M344.4 251.6h0M404.4 255.3h0M347.8 259h0M298.1 262.7h0M363.2 262.7h0M404.4 262.7h0M370.1 277.5h0M370.1 292.3h0"/>
<path id="b15" d="M476.4 144.3h0M450.7 170.2h0M457.6 170.2h0M449 173.9h0M471.3 214.6h0M277.5 218.3h0M426.7 229.4h0M443.9 229.4h0M383.8 233.1h0M407.8 233.1h0M423.3 236.8h0M443.9 236.8h0M370.1 240.5h0M356.4 247.9h0M294.6 270.1h0M310.1 273.8h0M316.9 273.8h0M344.4 273.8h0M389 273.8h0"/>
<path id="b16" d="M455.9 151.7h0M431.9 166.5h0M437 177.6h0M450.7 192.4h0M397.6 218.3h0M407.8 225.7h0M450.7 229.4h0M425 233.1h0M365 251.6h0M380.4 262.7h0"/>
<path id="b17" d="M452.4 166.5h0M373.5 225.7h0"/>
<path id="b18" d="M366.7 107.3h0M437 162.8h0M351.2 170.2h0M375.3 199.8h0M322.1 210.9h0M394.1 233.1h0M394.1 255.3h0M354.7 259h0"/>
</defs>
<use href="#b" stroke="#c9d4d4" stroke-width="3.80"/>
<use href="#b5" stroke="#c1cfd8" stroke-width="3.80"/>
<use href="#b6" stroke="#c3d0d8" stroke-width="3.80"/>
<use href="#b7" stroke="#c5d1d6" stroke-width="3.80"/>
<use href="#b9" stroke="#d1d9cd" stroke-width="3.80"/>
<use href="#b10" stroke="#bfbfb3" stroke-width="3.80"/>
<use href="#b11" stroke="#c1bfb0" stroke-width="3.80"/>
<use href="#b12" stroke="#bcb5a4" stroke-width="3.80"/>
<use href="#b13" stroke="#ab9882" stroke-width="3.80"/>
<use href="#b14" stroke="#a68a75" stroke-width="3.80"/>
<use href="#b15" stroke="#9f7968" stroke-width="3.80"/>
<use href="#b16" stroke="#97685b" stroke-width="3.80"/>
<use href="#b17" stroke="#8e554f" stroke-width="3.80"/>
<use href="#b18" stroke="#813e45" stroke-width="3.80"/>
<use href="#b" stroke="#d4e1e1" stroke-width="2.15"/>
<use href="#b5" stroke="#cbdce6" stroke-width="2.15"/>
<use href="#b6" stroke="#cddde6" stroke-width="2.15"/>
<use href="#b7" stroke="#d0dee4" stroke-width="2.15"/>
<use href="#b9" stroke="#dde7d9" stroke-width="2.15"/>
<use href="#b10" stroke="#eff0cf" stroke-width="2.15"/>
<use href="#b11" stroke="#f6f1c6" stroke-width="2.15"/>
<use href="#b12" stroke="#f5e2b5" stroke-width="2.15"/>
<use href="#b13" stroke="#f3cfa4" stroke-width="2.15"/>
<use href="#b14" stroke="#efba92" stroke-width="2.15"/>
<use href="#b15" stroke="#e9a07f" stroke-width="2.15"/>
<use href="#b16" stroke="#e1866e" stroke-width="2.15"/>
<use href="#b17" stroke="#d7695e" stroke-width="2.15"/>
<use href="#b18" stroke="#c74753" stroke-width="2.15"/>
</g>
<!-- panel c -->
<g fill="none" stroke-linecap="round">
<defs>
<path id="c" d="M73.5 358.3h30.9M58 362h58.4M56.3 365.7h61.8M58 369.4h61.8M59.7 373.1h72.1M58 376.8h75.5M56.3 380.5h75.5M47.7 384.2h96.1M49.4 387.9h96.1M47.7 391.6h99.5M184.9 391.6h0.1M46 395.3h99.5M183.2 395.3h3.5M37.4 399h106.4M184.9 399h0.1M35.7 402.7h106.4M159.2 402.7h3.5M186.6 402.7h17.2M34 406.4h109.8M160.9 406.4h0.1M181.5 406.4h20.6M212.4 406.4h3.5M35.7 410.1h109.8M183.2 410.1h20.6M210.7 410.1h6.9M34 413.8h109.8M181.5 413.8h37.8M32.3 417.5h109.8M183.2 417.5h37.8M30.6 421.2h120.1M181.5 421.2h41.2M28.9 424.9h123.5M179.8 424.9h44.7M27.1 428.6h123.5M178.1 428.6h54.9M25.4 432.3h116.7M179.8 432.3h54.9M23.7 436h116.7M178.1 436h58.4M22 439.7h116.7M176.3 439.7h58.4M23.7 443.4h103M143.8 443.4h0.1M174.6 443.4h10.4M191.8 443.4h41.2M22 447.1h103M169.5 447.1h65.2M23.7 450.8h96.1M133.5 450.8h0.1M147.2 450.8h0.1M164.3 450.8h68.7M22 454.5h96.1M142.1 454.5h89.2M23.7 458.2h92.7M133.5 458.2h96.1M22 461.9h92.7M128.3 461.9h99.5M23.7 465.6h89.2M126.6 465.6h99.5M22 469.3h89.2M124.9 469.3h99.5M23.7 473h127M157.5 473h65.2M22 476.7h65.2M97.5 476.7h123.5M23.7 480.4h54.9M95.7 480.4h103M205.5 480.4h13.8M22 484.1h51.5M97.5 484.1h120.1M23.7 487.8h44.7M95.7 487.8h120.1M22 491.5h41.2M94 491.5h116.7M23.7 495.2h41.2M95.7 495.2h99.5M202.1 495.2h6.9M22 498.9h41.2M94 498.9h113.3M27.1 502.6h34.4M92.3 502.6h109.8M28.9 506.3h27.5M87.2 506.3h109.8M30.6 510h24.1M82 510h113.3M32.3 513.7h20.6M83.7 513.7h109.8M30.6 517.4h20.6M82 517.4h99.5M32.3 521.1h20.6M83.7 521.1h96.1M30.6 524.8h24.1M82 524.8h92.7M28.9 528.5h27.5M70 528.5h0.1M83.7 528.5h82.4M30.6 532.2h27.5M82 532.2h75.5M32.3 535.9h27.5M83.7 535.9h68.7M34 539.6h27.5M82 539.6h68.7M35.7 543.3h27.5M83.7 543.3h61.8M40.9 547h20.6M85.5 547h58.4M42.6 550.7h20.6M83.7 550.7h51.5M64.9 554.4h58.4M70 558.1h54.9M102.6 561.8h27.5M107.8 565.5h24.1M109.5 569.2h20.6M114.6 572.9h10.4" stroke-dasharray="0 3.430"/>
<path id="c6" d="M61.4 362h0"/>
<path id="c8" d="M78.6 369.4h0M97.5 432.3h0M40.9 487.8h0M118 543.3h0"/>
<path id="c9" d="M64.9 376.8h0M56.3 380.5h0M82 384.2h0M54.6 391.6h0M112.9 391.6h0M116.3 391.6h0M136.9 391.6h0M46 395.3h0M107.8 395.3h0M135.2 395.3h0M64.9 399h0M102.6 399h0M136.9 399h0M128.3 402.7h0M112.9 406.4h0M140.3 406.4h0M143.8 406.4h0M52.9 410.1h0M97.5 410.1h0M131.8 410.1h0M190.1 410.1h0M92.3 413.8h0M95.7 413.8h0M109.5 413.8h0M133.5 413.8h0M188.4 413.8h0M107.8 417.5h0M106 421.2h0M130 421.2h0M46 424.9h0M124.9 424.9h0M142.1 424.9h0M190.1 424.9h0M210.7 424.9h0M109.5 428.6h0M229.5 428.6h0M90.6 432.3h0M99.2 436h0M202.1 436h0M236.4 436h0M128.3 439.7h0M138.6 439.7h0M85.5 443.4h0M66.6 447.1h0M100.9 447.1h0M104.3 447.1h0M220.9 447.1h0M54.6 450.8h0M102.6 450.8h0M178.1 450.8h0M222.7 450.8h0M229.5 450.8h0M42.6 454.5h0M87.2 454.5h0M159.2 454.5h0M172.9 454.5h0M58 458.2h0M61.4 458.2h0M154.1 458.2h0M164.3 458.2h0M46 461.9h0M94 461.9h0M128.3 461.9h0M169.5 461.9h0M37.4 465.6h0M215.8 465.6h0M59.7 469.3h0M135.2 469.3h0M47.7 473h0M160.9 473h0M174.6 473h0M172.9 476.7h0M23.7 480.4h0M157.5 480.4h0M160.9 480.4h0M171.2 480.4h0M208.9 480.4h0M59.7 484.1h0M131.8 484.1h0M152.3 484.1h0M169.5 484.1h0M176.3 484.1h0M116.3 487.8h0M107.8 491.5h0M138.6 491.5h0M142.1 491.5h0M61.4 495.2h0M119.8 495.2h0M130 495.2h0M46 498.9h0M54.6 502.6h0M123.2 502.6h0M140.3 502.6h0M97.5 506.3h0M54.6 510h0M94 513.7h0M58 532.2h0M109.5 547h0"/>
<path id="c10" d="M99.2 369.4h0M106 369.4h0M76.9 373.1h0M61.4 376.8h0M82 376.8h0M92.3 376.8h0M99.2 376.8h0M102.6 376.8h0M106 376.8h0M119.8 376.8h0M126.6 376.8h0M70 380.5h0M73.5 380.5h0M97.5 380.5h0M100.9 380.5h0M104.3 380.5h0M111.2 380.5h0M118 380.5h0M124.9 380.5h0M51.2 384.2h0M54.6 384.2h0M58 384.2h0M64.9 384.2h0M75.2 384.2h0M92.3 384.2h0M106 384.2h0M112.9 384.2h0M116.3 384.2h0M123.2 384.2h0M126.6 384.2h0M140.3 384.2h0M143.8 384.2h0M49.4 387.9h0M59.7 387.9h0M63.2 387.9h0M70 387.9h0M73.5 387.9h0M80.3 387.9h0M90.6 387.9h0M100.9 387.9h0M111.2 387.9h0M114.6 387.9h0M118 387.9h0M121.5 387.9h0M124.9 387.9h0M131.8 387.9h0M138.6 387.9h0M145.5 387.9h0M58 391.6h0M61.4 391.6h0M88.9 391.6h0M99.2 391.6h0M102.6 391.6h0M109.5 391.6h0M123.2 391.6h0M130 391.6h0M143.8 391.6h0M147.2 391.6h0M52.9 395.3h0M59.7 395.3h0M80.3 395.3h0M87.2 395.3h0M97.5 395.3h0M104.3 395.3h0M111.2 395.3h0M118 395.3h0M121.5 395.3h0M128.3 395.3h0M131.8 395.3h0M145.5 395.3h0M40.9 399h0M54.6 399h0M75.2 399h0M92.3 399h0M119.8 399h0M123.2 399h0M130 399h0M140.3 399h0M63.2 402.7h0M66.6 402.7h0M97.5 402.7h0M100.9 402.7h0M104.3 402.7h0M111.2 402.7h0M114.6 402.7h0M131.8 402.7h0M135.2 402.7h0M138.6 402.7h0M142.1 402.7h0M203.8 402.7h0M37.4 406.4h0M44.3 406.4h0M51.2 406.4h0M58 406.4h0M88.9 406.4h0M102.6 406.4h0M109.5 406.4h0M116.3 406.4h0M119.8 406.4h0M123.2 406.4h0M136.9 406.4h0M188.4 406.4h0M198.6 406.4h0M212.4 406.4h0M39.2 410.1h0M46 410.1h0M63.2 410.1h0M87.2 410.1h0M100.9 410.1h0M107.8 410.1h0M111.2 410.1h0M118 410.1h0M121.5 410.1h0M135.2 410.1h0M210.7 410.1h0M40.9 413.8h0M68.3 413.8h0M99.2 413.8h0M102.6 413.8h0M106 413.8h0M112.9 413.8h0M119.8 413.8h0M123.2 413.8h0M130 413.8h0M136.9 413.8h0M140.3 413.8h0M143.8 413.8h0M202.1 413.8h0M208.9 413.8h0M212.4 413.8h0M52.9 417.5h0M80.3 417.5h0M94 417.5h0M97.5 417.5h0M114.6 417.5h0M124.9 417.5h0M128.3 417.5h0M131.8 417.5h0M138.6 417.5h0M183.2 417.5h0M190.1 417.5h0M200.4 417.5h0M203.8 417.5h0M207.2 417.5h0M210.7 417.5h0M37.4 421.2h0M47.7 421.2h0M54.6 421.2h0M61.4 421.2h0M64.9 421.2h0M78.6 421.2h0M85.5 421.2h0M88.9 421.2h0M92.3 421.2h0M95.7 421.2h0M102.6 421.2h0M109.5 421.2h0M112.9 421.2h0M119.8 421.2h0M123.2 421.2h0M126.6 421.2h0M133.5 421.2h0M136.9 421.2h0M181.5 421.2h0M195.2 421.2h0M42.6 424.9h0M52.9 424.9h0M63.2 424.9h0M66.6 424.9h0M97.5 424.9h0M100.9 424.9h0M118 424.9h0M121.5 424.9h0M128.3 424.9h0M135.2 424.9h0M179.8 424.9h0M44.3 428.6h0M68.3 428.6h0M92.3 428.6h0M102.6 428.6h0M106 428.6h0M112.9 428.6h0M119.8 428.6h0M123.2 428.6h0M136.9 428.6h0M143.8 428.6h0M181.5 428.6h0M198.6 428.6h0M215.8 428.6h0M232.9 428.6h0M39.2 432.3h0M46 432.3h0M59.7 432.3h0M66.6 432.3h0M80.3 432.3h0M83.7 432.3h0M100.9 432.3h0M104.3 432.3h0M107.8 432.3h0M111.2 432.3h0M128.3 432.3h0M131.8 432.3h0M142.1 432.3h0M183.2 432.3h0M193.5 432.3h0M200.4 432.3h0M34 436h0M51.2 436h0M58 436h0M71.7 436h0M88.9 436h0M95.7 436h0M102.6 436h0M119.8 436h0M123.2 436h0M126.6 436h0M191.8 436h0M198.6 436h0M215.8 436h0M32.3 439.7h0M42.6 439.7h0M56.3 439.7h0M59.7 439.7h0M73.5 439.7h0M80.3 439.7h0M87.2 439.7h0M97.5 439.7h0M100.9 439.7h0M111.2 439.7h0M121.5 439.7h0M176.3 439.7h0M179.8 439.7h0M186.6 439.7h0M207.2 439.7h0M210.7 439.7h0M44.3 443.4h0M47.7 443.4h0M58 443.4h0M61.4 443.4h0M75.2 443.4h0M82 443.4h0M95.7 443.4h0M99.2 443.4h0M102.6 443.4h0M106 443.4h0M109.5 443.4h0M112.9 443.4h0M116.3 443.4h0M119.8 443.4h0M174.6 443.4h0M181.5 443.4h0M195.2 443.4h0M202.1 443.4h0M232.9 443.4h0M28.9 447.1h0M42.6 447.1h0M46 447.1h0M52.9 447.1h0M56.3 447.1h0M59.7 447.1h0M63.2 447.1h0M70 447.1h0M76.9 447.1h0M83.7 447.1h0M87.2 447.1h0M107.8 447.1h0M111.2 447.1h0M118 447.1h0M121.5 447.1h0M124.9 447.1h0M169.5 447.1h0M176.3 447.1h0M186.6 447.1h0M203.8 447.1h0M207.2 447.1h0M227.8 447.1h0M34 450.8h0M37.4 450.8h0M47.7 450.8h0M58 450.8h0M61.4 450.8h0M78.6 450.8h0M95.7 450.8h0M133.5 450.8h0M164.3 450.8h0M208.9 450.8h0M46 454.5h0M52.9 454.5h0M59.7 454.5h0M70 454.5h0M73.5 454.5h0M76.9 454.5h0M83.7 454.5h0M97.5 454.5h0M107.8 454.5h0M142.1 454.5h0M145.5 454.5h0M148.9 454.5h0M152.3 454.5h0M155.8 454.5h0M162.6 454.5h0M166.1 454.5h0M169.5 454.5h0M179.8 454.5h0M186.6 454.5h0M196.9 454.5h0M203.8 454.5h0M23.7 458.2h0M40.9 458.2h0M44.3 458.2h0M47.7 458.2h0M54.6 458.2h0M64.9 458.2h0M82 458.2h0M88.9 458.2h0M95.7 458.2h0M99.2 458.2h0M102.6 458.2h0M106 458.2h0M147.2 458.2h0M157.5 458.2h0M167.8 458.2h0M174.6 458.2h0M178.1 458.2h0M191.8 458.2h0M25.4 461.9h0M28.9 461.9h0M35.7 461.9h0M49.4 461.9h0M56.3 461.9h0M66.6 461.9h0M73.5 461.9h0M76.9 461.9h0M83.7 461.9h0M87.2 461.9h0M131.8 461.9h0M138.6 461.9h0M145.5 461.9h0M162.6 461.9h0M166.1 461.9h0M183.2 461.9h0M196.9 461.9h0M200.4 461.9h0M47.7 465.6h0M54.6 465.6h0M58 465.6h0M61.4 465.6h0M68.3 465.6h0M75.2 465.6h0M95.7 465.6h0M130 465.6h0M140.3 465.6h0M150.6 465.6h0M157.5 465.6h0M160.9 465.6h0M35.7 469.3h0M46 469.3h0M49.4 469.3h0M70 469.3h0M73.5 469.3h0M76.9 469.3h0M90.6 469.3h0M100.9 469.3h0M142.1 469.3h0M152.3 469.3h0M155.8 469.3h0M159.2 469.3h0M166.1 469.3h0M190.1 469.3h0M34 473h0M61.4 473h0M68.3 473h0M71.7 473h0M75.2 473h0M82 473h0M85.5 473h0M92.3 473h0M95.7 473h0M130 473h0M147.2 473h0M150.6 473h0M157.5 473h0M167.8 473h0M171.2 473h0M181.5 473h0M205.5 473h0M42.6 476.7h0M56.3 476.7h0M63.2 476.7h0M66.6 476.7h0M76.9 476.7h0M83.7 476.7h0M100.9 476.7h0M104.3 476.7h0M111.2 476.7h0M135.2 476.7h0M142.1 476.7h0M148.9 476.7h0M152.3 476.7h0M159.2 476.7h0M40.9 480.4h0M44.3 480.4h0M47.7 480.4h0M51.2 480.4h0M54.6 480.4h0M58 480.4h0M68.3 480.4h0M78.6 480.4h0M126.6 480.4h0M147.2 480.4h0M167.8 480.4h0M174.6 480.4h0M22 484.1h0M32.3 484.1h0M35.7 484.1h0M39.2 484.1h0M46 484.1h0M52.9 484.1h0M63.2 484.1h0M66.6 484.1h0M70 484.1h0M100.9 484.1h0M121.5 484.1h0M124.9 484.1h0M128.3 484.1h0M142.1 484.1h0M145.5 484.1h0M148.9 484.1h0M155.8 484.1h0M162.6 484.1h0M166.1 484.1h0M27.1 487.8h0M37.4 487.8h0M51.2 487.8h0M58 487.8h0M109.5 487.8h0M119.8 487.8h0M123.2 487.8h0M130 487.8h0M136.9 487.8h0M140.3 487.8h0M143.8 487.8h0M150.6 487.8h0M164.3 487.8h0M167.8 487.8h0M195.2 487.8h0M202.1 487.8h0M35.7 491.5h0M42.6 491.5h0M56.3 491.5h0M59.7 491.5h0M63.2 491.5h0M100.9 491.5h0M111.2 491.5h0M118 491.5h0M121.5 491.5h0M124.9 491.5h0M128.3 491.5h0M131.8 491.5h0M135.2 491.5h0M145.5 491.5h0M148.9 491.5h0M34 495.2h0M37.4 495.2h0M40.9 495.2h0M51.2 495.2h0M54.6 495.2h0M102.6 495.2h0M116.3 495.2h0M123.2 495.2h0M133.5 495.2h0M140.3 495.2h0M160.9 495.2h0M28.9 498.9h0M39.2 498.9h0M42.6 498.9h0M49.4 498.9h0M59.7 498.9h0M63.2 498.9h0M100.9 498.9h0M114.6 498.9h0M118 498.9h0M121.5 498.9h0M124.9 498.9h0M131.8 498.9h0M138.6 498.9h0M166.1 498.9h0M37.4 502.6h0M58 502.6h0M106 502.6h0M109.5 502.6h0M195.2 502.6h0M35.7 506.3h0M49.4 506.3h0M52.9 506.3h0M87.2 506.3h0M90.6 506.3h0M104.3 506.3h0M111.2 506.3h0M114.6 506.3h0M118 506.3h0M124.9 506.3h0M128.3 506.3h0M37.4 510h0M44.3 510h0M88.9 510h0M92.3 510h0M99.2 510h0M109.5 510h0M119.8 510h0M130 510h0M136.9 510h0M167.8 510h0M32.3 513.7h0M52.9 513.7h0M83.7 513.7h0M87.2 513.7h0M97.5 513.7h0M114.6 513.7h0M121.5 513.7h0M34 517.4h0M40.9 517.4h0M47.7 517.4h0M85.5 517.4h0M88.9 517.4h0M92.3 517.4h0M99.2 517.4h0M123.2 517.4h0M174.6 517.4h0M32.3 521.1h0M35.7 521.1h0M39.2 521.1h0M42.6 521.1h0M46 521.1h0M52.9 521.1h0M100.9 521.1h0M107.8 521.1h0M121.5 521.1h0M37.4 524.8h0M54.6 524.8h0M82 524.8h0M112.9 524.8h0M147.2 524.8h0M46 528.5h0M56.3 528.5h0M70 528.5h0M87.2 528.5h0M159.2 528.5h0M54.6 532.2h0M82 532.2h0M95.7 532.2h0M46 535.9h0M49.4 535.9h0M52.9 535.9h0M87.2 535.9h0M34 539.6h0M109.5 539.6h0M143.8 539.6h0M52.9 543.3h0M59.7 543.3h0M51.2 547h0M61.4 547h0M88.9 547h0M119.8 547h0M52.9 550.7h0M70 558.1h0M94 558.1h0M116.3 561.8h0M128.3 565.5h0M119.8 569.2h0M118 572.9h0M121.5 572.9h0"/>
<path id="c12" d="M83.7 358.3h0M75.2 362h0M88.9 362h0M95.7 362h0M116.3 362h0M111.2 365.7h0M71.7 369.4h0M75.2 369.4h0M88.9 369.4h0M116.3 369.4h0M59.7 373.1h0M63.2 373.1h0M70 373.1h0M83.7 373.1h0M90.6 373.1h0M94 373.1h0M100.9 373.1h0M124.9 373.1h0M128.3 373.1h0M71.7 376.8h0M85.5 376.8h0M123.2 376.8h0M63.2 380.5h0M83.7 380.5h0M87.2 380.5h0M90.6 380.5h0M94 380.5h0M114.6 380.5h0M88.9 384.2h0M119.8 384.2h0M76.9 387.9h0M87.2 387.9h0M94 387.9h0M47.7 391.6h0M184.9 391.6h0M90.6 395.3h0M44.3 399h0M58 399h0M85.5 399h0M143.8 399h0M70 402.7h0M73.5 402.7h0M80.3 402.7h0M83.7 402.7h0M121.5 402.7h0M159.2 402.7h0M186.6 402.7h0M64.9 406.4h0M75.2 406.4h0M181.5 406.4h0M184.9 406.4h0M83.7 410.1h0M186.6 410.1h0M200.4 410.1h0M214.1 410.1h0M37.4 413.8h0M44.3 413.8h0M47.7 413.8h0M78.6 413.8h0M215.8 413.8h0M32.3 417.5h0M35.7 417.5h0M42.6 417.5h0M49.4 417.5h0M63.2 417.5h0M83.7 417.5h0M68.3 421.2h0M71.7 421.2h0M198.6 421.2h0M202.1 421.2h0M215.8 421.2h0M35.7 424.9h0M70 424.9h0M73.5 424.9h0M90.6 424.9h0M138.6 424.9h0M148.9 424.9h0M152.3 424.9h0M203.8 424.9h0M207.2 424.9h0M214.1 424.9h0M220.9 424.9h0M224.4 424.9h0M40.9 428.6h0M116.3 428.6h0M178.1 428.6h0M188.4 428.6h0M195.2 428.6h0M202.1 428.6h0M208.9 428.6h0M219.2 428.6h0M222.7 428.6h0M73.5 432.3h0M76.9 432.3h0M124.9 432.3h0M190.1 432.3h0M203.8 432.3h0M220.9 432.3h0M224.4 432.3h0M227.8 432.3h0M106 436h0M116.3 436h0M133.5 436h0M178.1 436h0M208.9 436h0M212.4 436h0M35.7 439.7h0M39.2 439.7h0M83.7 439.7h0M203.8 439.7h0M217.5 439.7h0M224.4 439.7h0M234.7 439.7h0M34 443.4h0M51.2 443.4h0M191.8 443.4h0M208.9 443.4h0M215.8 443.4h0M22 447.1h0M25.4 447.1h0M32.3 447.1h0M172.9 447.1h0M179.8 447.1h0M183.2 447.1h0M224.4 447.1h0M231.2 447.1h0M30.6 450.8h0M44.3 450.8h0M82 450.8h0M88.9 450.8h0M112.9 450.8h0M119.8 450.8h0M181.5 450.8h0M202.1 450.8h0M215.8 450.8h0M32.3 454.5h0M190.1 454.5h0M207.2 454.5h0M214.1 454.5h0M220.9 454.5h0M30.6 458.2h0M85.5 458.2h0M109.5 458.2h0M116.3 458.2h0M184.9 458.2h0M188.4 458.2h0M195.2 458.2h0M198.6 458.2h0M205.5 458.2h0M215.8 458.2h0M229.5 458.2h0M32.3 461.9h0M148.9 461.9h0M176.3 461.9h0M186.6 461.9h0M190.1 461.9h0M193.5 461.9h0M23.7 465.6h0M34 465.6h0M40.9 465.6h0M82 465.6h0M99.2 465.6h0M106 465.6h0M184.9 465.6h0M191.8 465.6h0M195.2 465.6h0M205.5 465.6h0M25.4 469.3h0M32.3 469.3h0M52.9 469.3h0M83.7 469.3h0M94 469.3h0M111.2 469.3h0M169.5 469.3h0M179.8 469.3h0M186.6 469.3h0M193.5 469.3h0M196.9 469.3h0M203.8 469.3h0M217.5 469.3h0M224.4 469.3h0M44.3 473h0M102.6 473h0M191.8 473h0M195.2 473h0M208.9 473h0M215.8 473h0M39.2 476.7h0M97.5 476.7h0M118 476.7h0M145.5 476.7h0M179.8 476.7h0M183.2 476.7h0M190.1 476.7h0M196.9 476.7h0M200.4 476.7h0M30.6 480.4h0M75.2 480.4h0M106 480.4h0M109.5 480.4h0M133.5 480.4h0M136.9 480.4h0M181.5 480.4h0M198.6 480.4h0M28.9 484.1h0M56.3 484.1h0M97.5 484.1h0M111.2 484.1h0M114.6 484.1h0M193.5 484.1h0M196.9 484.1h0M217.5 484.1h0M61.4 487.8h0M64.9 487.8h0M95.7 487.8h0M106 487.8h0M133.5 487.8h0M171.2 487.8h0M174.6 487.8h0M198.6 487.8h0M205.5 487.8h0M32.3 491.5h0M49.4 491.5h0M114.6 491.5h0M159.2 491.5h0M162.6 491.5h0M169.5 491.5h0M186.6 491.5h0M196.9 491.5h0M200.4 491.5h0M210.7 491.5h0M64.9 495.2h0M95.7 495.2h0M99.2 495.2h0M109.5 495.2h0M164.3 495.2h0M205.5 495.2h0M32.3 498.9h0M56.3 498.9h0M111.2 498.9h0M152.3 498.9h0M155.8 498.9h0M159.2 498.9h0M172.9 498.9h0M176.3 498.9h0M179.8 498.9h0M190.1 498.9h0M30.6 502.6h0M95.7 502.6h0M99.2 502.6h0M116.3 502.6h0M143.8 502.6h0M147.2 502.6h0M150.6 502.6h0M154.1 502.6h0M160.9 502.6h0M28.9 506.3h0M32.3 506.3h0M39.2 506.3h0M56.3 506.3h0M94 506.3h0M121.5 506.3h0M148.9 506.3h0M155.8 506.3h0M159.2 506.3h0M162.6 506.3h0M169.5 506.3h0M172.9 506.3h0M176.3 506.3h0M179.8 506.3h0M183.2 506.3h0M186.6 506.3h0M193.5 506.3h0M51.2 510h0M95.7 510h0M116.3 510h0M126.6 510h0M133.5 510h0M140.3 510h0M147.2 510h0M150.6 510h0M157.5 510h0M174.6 510h0M191.8 510h0M195.2 510h0M42.6 513.7h0M138.6 513.7h0M145.5 513.7h0M176.3 513.7h0M186.6 513.7h0M190.1 513.7h0M193.5 513.7h0M30.6 517.4h0M102.6 517.4h0M116.3 517.4h0M130 517.4h0M136.9 517.4h0M143.8 517.4h0M154.1 517.4h0M157.5 517.4h0M94 521.1h0M97.5 521.1h0M104.3 521.1h0M111.2 521.1h0M118 521.1h0M124.9 521.1h0M128.3 521.1h0M142.1 521.1h0M148.9 521.1h0M166.1 521.1h0M176.3 521.1h0M44.3 524.8h0M85.5 524.8h0M102.6 524.8h0M106 524.8h0M109.5 524.8h0M116.3 524.8h0M119.8 524.8h0M133.5 524.8h0M143.8 524.8h0M174.6 524.8h0M28.9 528.5h0M39.2 528.5h0M42.6 528.5h0M83.7 528.5h0M94 528.5h0M97.5 528.5h0M100.9 528.5h0M104.3 528.5h0M111.2 528.5h0M114.6 528.5h0M124.9 528.5h0M148.9 528.5h0M166.1 528.5h0M51.2 532.2h0M85.5 532.2h0M92.3 532.2h0M99.2 532.2h0M106 532.2h0M116.3 532.2h0M140.3 532.2h0M150.6 532.2h0M97.5 535.9h0M100.9 535.9h0M111.2 535.9h0M114.6 535.9h0M128.3 535.9h0M131.8 535.9h0M142.1 535.9h0M148.9 535.9h0M37.4 539.6h0M61.4 539.6h0M85.5 539.6h0M88.9 539.6h0M123.2 539.6h0M126.6 539.6h0M130 539.6h0M133.5 539.6h0M35.7 543.3h0M104.3 543.3h0M111.2 543.3h0M135.2 543.3h0M142.1 543.3h0M40.9 547h0M92.3 547h0M95.7 547h0M130 547h0M136.9 547h0M143.8 547h0M63.2 550.7h0M100.9 550.7h0M111.2 550.7h0M114.6 550.7h0M118 550.7h0M121.5 550.7h0M128.3 550.7h0M71.7 554.4h0M95.7 554.4h0M99.2 554.4h0M106 554.4h0M123.2 554.4h0M124.9 558.1h0M102.6 561.8h0M112.9 561.8h0M123.2 561.8h0M107.8 565.5h0M118 565.5h0M121.5 565.5h0M109.5 569.2h0M112.9 569.2h0"/>
<path id="c13" d="M76.9 358.3h0M97.5 358.3h0M104.3 358.3h0M64.9 362h0M92.3 362h0M102.6 362h0M80.3 365.7h0M90.6 365.7h0M94 365.7h0M58 369.4h0M61.4 369.4h0M92.3 369.4h0M112.9 369.4h0M73.5 373.1h0M107.8 373.1h0M118 373.1h0M121.5 373.1h0M131.8 373.1h0M66.6 387.9h0M92.3 391.6h0M196.9 417.5h0M30.6 421.2h0M219.2 421.2h0M28.9 424.9h0M27.1 428.6h0M30.6 428.6h0M82 428.6h0M25.4 432.3h0M138.6 432.3h0M210.7 432.3h0M217.5 432.3h0M27.1 436h0M219.2 436h0M222.7 436h0M232.9 436h0M28.9 439.7h0M184.9 443.4h0M212.4 443.4h0M219.2 443.4h0M222.7 443.4h0M229.5 443.4h0M35.7 447.1h0M210.7 447.1h0M217.5 447.1h0M234.7 447.1h0M23.7 450.8h0M27.1 450.8h0M191.8 450.8h0M195.2 450.8h0M198.6 450.8h0M205.5 450.8h0M212.4 450.8h0M219.2 450.8h0M25.4 454.5h0M28.9 454.5h0M217.5 454.5h0M227.8 454.5h0M37.4 458.2h0M202.1 458.2h0M208.9 458.2h0M212.4 458.2h0M226.1 458.2h0M22 461.9h0M210.7 461.9h0M214.1 461.9h0M154.1 465.6h0M202.1 465.6h0M208.9 465.6h0M200.4 469.3h0M207.2 469.3h0M210.7 469.3h0M220.9 469.3h0M126.6 473h0M140.3 473h0M188.4 473h0M198.6 473h0M222.7 473h0M25.4 476.7h0M28.9 476.7h0M217.5 476.7h0M184.9 480.4h0M188.4 480.4h0M191.8 480.4h0M215.8 480.4h0M219.2 480.4h0M25.4 484.1h0M183.2 484.1h0M190.1 484.1h0M200.4 484.1h0M172.9 491.5h0M183.2 491.5h0M207.2 491.5h0M171.2 495.2h0M174.6 495.2h0M181.5 495.2h0M208.9 495.2h0M25.4 498.9h0M128.3 498.9h0M169.5 498.9h0M186.6 498.9h0M203.8 498.9h0M34 502.6h0M164.3 502.6h0M171.2 502.6h0M174.6 502.6h0M191.8 502.6h0M145.5 506.3h0M196.9 506.3h0M106 510h0M171.2 510h0M178.1 510h0M135.2 513.7h0M152.3 513.7h0M155.8 513.7h0M166.1 513.7h0M169.5 513.7h0M172.9 513.7h0M179.8 513.7h0M140.3 517.4h0M147.2 517.4h0M160.9 517.4h0M167.8 517.4h0M131.8 521.1h0M145.5 521.1h0M152.3 521.1h0M162.6 521.1h0M136.9 524.8h0M157.5 524.8h0M167.8 524.8h0M32.3 528.5h0M131.8 528.5h0M135.2 528.5h0M138.6 528.5h0M142.1 528.5h0M145.5 528.5h0M152.3 528.5h0M109.5 532.2h0M126.6 532.2h0M143.8 532.2h0M121.5 535.9h0M152.3 535.9h0M92.3 539.6h0M106 539.6h0M112.9 539.6h0M116.3 539.6h0M140.3 539.6h0M147.2 539.6h0M90.6 543.3h0M94 543.3h0M97.5 543.3h0M124.9 543.3h0M99.2 547h0M87.2 550.7h0M90.6 550.7h0M97.5 550.7h0M131.8 550.7h0M75.2 554.4h0M88.9 554.4h0M92.3 554.4h0M112.9 554.4h0M119.8 554.4h0M73.5 558.1h0M80.3 558.1h0M83.7 558.1h0M87.2 558.1h0M114.6 558.1h0M121.5 558.1h0M119.8 561.8h0M126.6 561.8h0M111.2 565.5h0"/>
<path id="c14" d="M73.5 358.3h0M80.3 358.3h0M90.6 358.3h0M94 358.3h0M100.9 358.3h0M58 362h0M78.6 362h0M82 362h0M99.2 362h0M106 362h0M109.5 362h0M73.5 365.7h0M76.9 365.7h0M87.2 365.7h0M97.5 365.7h0M104.3 365.7h0M107.8 365.7h0M114.6 365.7h0M64.9 369.4h0M95.7 369.4h0M109.5 369.4h0M119.8 369.4h0M66.6 373.1h0M107.8 380.5h0M95.7 391.6h0M70 395.3h0M138.6 395.3h0M37.4 399h0M76.9 410.1h0M124.9 410.1h0M39.2 424.9h0M217.5 424.9h0M88.9 428.6h0M212.4 428.6h0M70 432.3h0M207.2 432.3h0M184.9 436h0M226.1 436h0M229.5 436h0M25.4 439.7h0M214.1 439.7h0M30.6 443.4h0M64.9 443.4h0M232.9 450.8h0M22 454.5h0M114.6 454.5h0M231.2 454.5h0M71.7 458.2h0M222.7 458.2h0M227.8 461.9h0M30.6 465.6h0M171.2 465.6h0M226.1 465.6h0M51.2 473h0M88.9 473h0M212.4 473h0M219.2 473h0M22 476.7h0M70 476.7h0M193.5 476.7h0M207.2 476.7h0M210.7 476.7h0M214.1 476.7h0M99.2 480.4h0M195.2 480.4h0M212.4 480.4h0M203.8 484.1h0M214.1 484.1h0M30.6 487.8h0M178.1 487.8h0M184.9 487.8h0M188.4 487.8h0M208.9 487.8h0M176.3 491.5h0M190.1 491.5h0M23.7 495.2h0M27.1 495.2h0M191.8 495.2h0M195.2 495.2h0M167.8 502.6h0M178.1 502.6h0M184.9 502.6h0M190.1 506.3h0M164.3 510h0M184.9 510h0M188.4 510h0M150.6 517.4h0M164.3 517.4h0M181.5 517.4h0M135.2 521.1h0M138.6 521.1h0M179.8 521.1h0M34 524.8h0M154.1 524.8h0M171.2 524.8h0M155.8 528.5h0M162.6 528.5h0M133.5 532.2h0M147.2 532.2h0M154.1 532.2h0M104.3 535.9h0M124.9 535.9h0M138.6 535.9h0M145.5 535.9h0M83.7 543.3h0M107.8 543.3h0M121.5 543.3h0M128.3 543.3h0M85.5 547h0M102.6 547h0M116.3 547h0M133.5 547h0M140.3 547h0M83.7 550.7h0M124.9 550.7h0M109.5 554.4h0M116.3 554.4h0M107.8 558.1h0"/>
<path id="c15" d="M87.2 358.3h0M68.3 362h0M71.7 362h0M85.5 362h0M56.3 365.7h0M63.2 365.7h0M66.6 365.7h0M100.9 365.7h0M118 365.7h0M68.3 369.4h0M82 369.4h0M97.5 373.1h0M133.5 376.8h0M226.1 428.6h0M52.9 432.3h0M226.1 443.4h0M214.1 447.1h0M27.1 458.2h0M219.2 458.2h0M39.2 461.9h0M217.5 461.9h0M220.9 461.9h0M188.4 465.6h0M212.4 465.6h0M219.2 465.6h0M203.8 476.7h0M220.9 476.7h0M205.5 480.4h0M186.6 484.1h0M210.7 484.1h0M191.8 487.8h0M193.5 491.5h0M184.9 495.2h0M22 498.9h0M196.9 498.9h0M202.1 502.6h0M181.5 510h0M159.2 513.7h0M169.5 521.1h0M172.9 521.1h0M150.6 524.8h0M128.3 528.5h0M118 535.9h0M102.6 539.6h0M119.8 539.6h0M114.6 543.3h0M131.8 543.3h0M106 547h0M112.9 547h0M123.2 547h0M94 550.7h0M90.6 558.1h0M97.5 558.1h0M104.3 558.1h0M111.2 558.1h0M106 561.8h0"/>
<path id="c16" d="M112.9 362h0M83.7 365.7h0M85.5 369.4h0M28.9 469.3h0M27.1 473h0M23.7 487.8h0M179.8 491.5h0M181.5 502.6h0M198.6 502.6h0M183.2 513.7h0M171.2 517.4h0M135.2 535.9h0M100.9 543.3h0"/>
<path id="c17" d="M224.4 454.5h0M188.4 502.6h0M109.5 561.8h0"/>
<path id="c18" d="M188.4 495.2h0"/>
</defs>
<use href="#c" stroke="#c1bfb0" stroke-width="3.80"/>
<use href="#c6" stroke="#c3d0d8" stroke-width="3.80"/>
<use href="#c8" stroke="#c9d4d4" stroke-width="3.80"/>
<use href="#c9" stroke="#d1d9cd" stroke-width="3.80"/>
<use href="#c10" stroke="#bfbfb3" stroke-width="3.80"/>
<use href="#c12" stroke="#bcb5a4" stroke-width="3.80"/>
<use href="#c13" stroke="#ab9882" stroke-width="3.80"/>
<use href="#c14" stroke="#a68a75" stroke-width="3.80"/>
<use href="#c15" stroke="#9f7968" stroke-width="3.80"/>
<use href="#c16" stroke="#97685b" stroke-width="3.80"/>
<use href="#c17" stroke="#8e554f" stroke-width="3.80"/>
<use href="#c18" stroke="#813e45" stroke-width="3.80"/>
<use href="#c" stroke="#f6f1c6" stroke-width="2.15"/>
<use href="#c6" stroke="#cddde6" stroke-width="2.15"/>
<use href="#c8" stroke="#d4e1e1" stroke-width="2.15"/>
<use href="#c9" stroke="#dde7d9" stroke-width="2.15"/>
<use href="#c10" stroke="#eff0cf" stroke-width="2.15"/>
<use href="#c12" stroke="#f5e2b5" stroke-width="2.15"/>
<use href="#c13" stroke="#f3cfa4" stroke-width="2.15"/>
<use href="#c14" stroke="#efba92" stroke-width="2.15"/>
<use href="#c15" stroke="#e9a07f" stroke-width="2.15"/>
<use href="#c16" stroke="#e1866e" stroke-width="2.15"/>
<use href="#c17" stroke="#d7695e" stroke-width="2.15"/>
<use href="#c18" stroke="#c74753" stroke-width="2.15"/>
</g>
<!-- panel d -->
<g fill="none" stroke-linecap="round">
<defs>
<path id="d" d="M327.9 355.6h30.9M312.5 359.3h58.4M310.8 363h61.8M312.5 366.7h61.8M314.2 370.4h72.1M312.5 374.1h75.5M310.8 377.8h75.5M302.2 381.5h96.1M303.9 385.2h96.1M302.2 388.9h99.5M439.4 388.9h0.1M300.5 392.6h99.5M437.7 392.6h3.5M291.9 396.3h106.4M439.4 396.3h0.1M290.2 400h106.4M413.7 400h3.5M441.1 400h17.2M288.5 403.7h109.8M415.4 403.7h0.1M436 403.7h20.6M466.9 403.7h3.5M290.2 407.4h109.8M437.7 407.4h20.6M465.1 407.4h6.9M288.5 411.1h109.8M436 411.1h37.8M286.8 414.8h109.8M437.7 414.8h37.8M285.1 418.5h120.1M436 418.5h41.2M283.4 422.2h123.5M434.3 422.2h44.7M281.6 425.9h123.5M432.6 425.9h54.9M279.9 429.6h116.7M434.3 429.6h54.9M278.2 433.3h116.7M432.6 433.3h58.4M276.5 437h116.7M430.9 437h58.4M278.2 440.7h103M398.3 440.7h0.1M429.1 440.7h10.4M446.3 440.7h41.2M276.5 444.4h103M424 444.4h65.2M278.2 448.1h96.1M388 448.1h0.1M401.7 448.1h0.1M418.8 448.1h68.7M276.5 451.8h96.1M396.6 451.8h89.2M278.2 455.5h92.7M388 455.5h96.1M276.5 459.2h92.7M382.8 459.2h99.5M278.2 462.9h89.2M381.1 462.9h99.5M276.5 466.6h89.2M379.4 466.6h99.5M278.2 470.3h127M412 470.3h65.2M276.5 474h65.2M352 474h123.5M278.2 477.7h54.9M350.2 477.7h103M460 477.7h13.8M276.5 481.4h51.5M352 481.4h120.1M278.2 485.1h44.7M350.2 485.1h120.1M276.5 488.8h41.2M348.5 488.8h116.7M278.2 492.5h41.2M350.2 492.5h99.5M456.6 492.5h6.9M276.5 496.2h41.2M348.5 496.2h113.3M281.6 499.9h34.4M346.8 499.9h109.8M283.4 503.6h27.5M341.7 503.6h109.8M285.1 507.3h24.1M336.5 507.3h113.3M286.8 511h20.6M338.2 511h109.8M285.1 514.7h20.6M336.5 514.7h99.5M286.8 518.4h20.6M338.2 518.4h96.1M285.1 522.1h24.1M336.5 522.1h92.7M283.4 525.8h27.5M324.5 525.8h0.1M338.2 525.8h82.4M285.1 529.5h27.5M336.5 529.5h75.5M286.8 533.2h27.5M338.2 533.2h68.7M288.5 536.9h27.5M336.5 536.9h68.7M290.2 540.6h27.5M338.2 540.6h61.8M295.4 544.3h20.6M340 544.3h58.4M297.1 548h20.6M338.2 548h51.5M319.4 551.7h58.4M324.5 555.4h54.9M357.1 559.1h27.5M362.2 562.8h24.1M364 566.5h20.6M369.1 570.2h10.4" stroke-dasharray="0 3.430"/>
<path id="d4" d="M331.4 407.4h0M340 418.5h0M322.8 425.9h0M322.8 448.1h0"/>
<path id="d5" d="M350.2 374.1h0M343.4 381.5h0M360.5 396.3h0M346.8 403.7h0M324.5 407.4h0M338.2 414.8h0M345.1 422.2h0M321.1 429.6h0M331.4 429.6h0M319.4 433.3h0M326.2 433.3h0M346.8 433.3h0M338.2 437h0M327.9 444.4h0M341.7 444.4h0M326.2 455.5h0"/>
<path id="d6" d="M327.9 377.8h0M355.4 377.8h0M358.8 377.8h0M326.2 388.9h0M327.9 392.6h0M326.2 396.3h0M329.7 396.3h0M327.9 400h0M327.9 407.4h0M338.2 407.4h0M345.1 407.4h0M326.2 411.1h0M329.7 411.1h0M333.1 411.1h0M336.5 411.1h0M343.4 411.1h0M367.4 411.1h0M307.4 414.8h0M317.7 414.8h0M321.1 414.8h0M331.4 414.8h0M341.7 414.8h0M348.5 414.8h0M322.8 418.5h0M333.1 418.5h0M343.4 418.5h0M346.8 418.5h0M353.7 418.5h0M334.8 422.2h0M338.2 422.2h0M362.2 422.2h0M333.1 425.9h0M336.5 425.9h0M346.8 425.9h0M327.9 429.6h0M334.8 429.6h0M362.2 429.6h0M309.1 433.3h0M322.8 433.3h0M333.1 433.3h0M340 433.3h0M343.4 433.3h0M331.4 437h0M334.8 437h0M341.7 437h0M365.7 437h0M319.4 440.7h0M336.5 440.7h0M343.4 440.7h0M346.8 440.7h0M310.8 444.4h0M324.5 444.4h0M331.4 444.4h0M312.5 448.1h0M326.2 448.1h0M333.1 448.1h0M314.2 451.8h0M327.9 451.8h0M310.8 459.2h0M297.1 496.2h0"/>
<path id="d7" d="M343.4 359.3h0M341.7 363h0M322.8 366.7h0M357.1 366.7h0M360.5 366.7h0M324.5 370.4h0M348.5 370.4h0M336.5 374.1h0M357.1 374.1h0M348.5 377.8h0M350.2 381.5h0M357.1 381.5h0M360.5 381.5h0M367.4 381.5h0M341.7 385.2h0M348.5 385.2h0M315.9 388.9h0M333.1 388.9h0M350.2 388.9h0M357.1 388.9h0M377.7 388.9h0M391.4 388.9h0M317.7 392.6h0M331.4 392.6h0M348.5 392.6h0M352 392.6h0M362.2 392.6h0M369.1 392.6h0M340 396.3h0M346.8 396.3h0M350.2 396.3h0M384.5 396.3h0M321.1 400h0M334.8 400h0M338.2 400h0M341.7 400h0M355.4 400h0M315.9 403.7h0M319.4 403.7h0M322.8 403.7h0M329.7 403.7h0M333.1 403.7h0M336.5 403.7h0M343.4 403.7h0M360.5 403.7h0M321.1 407.4h0M348.5 407.4h0M352 407.4h0M355.4 407.4h0M362.2 407.4h0M365.7 407.4h0M319.4 411.1h0M346.8 411.1h0M353.7 411.1h0M357.1 411.1h0M324.5 414.8h0M327.9 414.8h0M345.1 414.8h0M352 414.8h0M312.5 418.5h0M315.9 418.5h0M336.5 418.5h0M350.2 418.5h0M310.8 422.2h0M317.7 422.2h0M321.1 422.2h0M324.5 422.2h0M327.9 422.2h0M358.8 422.2h0M319.4 425.9h0M350.2 425.9h0M357.1 425.9h0M300.5 429.6h0M307.4 429.6h0M310.8 429.6h0M341.7 429.6h0M355.4 429.6h0M369.1 429.6h0M305.7 433.3h0M312.5 433.3h0M315.9 433.3h0M329.7 433.3h0M360.5 433.3h0M314.2 437h0M321.1 437h0M324.5 437h0M315.9 440.7h0M326.2 440.7h0M314.2 444.4h0M355.4 444.4h0M309.1 448.1h0M319.4 448.1h0M336.5 448.1h0M340 448.1h0M350.2 448.1h0M364 448.1h0M303.9 451.8h0M334.8 451.8h0M338.2 451.8h0M341.7 451.8h0M348.5 451.8h0M315.9 455.5h0M333.1 455.5h0M336.5 455.5h0M327.9 459.2h0M338.2 459.2h0M348.5 459.2h0M305.7 462.9h0M312.5 462.9h0M322.8 462.9h0M343.4 462.9h0M317.7 466.6h0M334.8 466.6h0M291.9 470.3h0M319.4 485.1h0M322.8 485.1h0M290.2 488.8h0M293.6 488.8h0M300.5 488.8h0M290.2 503.6h0M293.6 518.4h0"/>
<path id="d8" d="M338.2 355.6h0M341.7 355.6h0M348.5 355.6h0M352 355.6h0M319.4 359.3h0M346.8 359.3h0M360.5 359.3h0M364 359.3h0M317.7 363h0M321.1 363h0M327.9 363h0M331.4 363h0M338.2 363h0M345.1 363h0M348.5 363h0M352 363h0M355.4 363h0M358.8 363h0M362.2 363h0M319.4 366.7h0M326.2 366.7h0M329.7 366.7h0M336.5 366.7h0M340 366.7h0M346.8 366.7h0M350.2 366.7h0M367.4 366.7h0M317.7 370.4h0M327.9 370.4h0M341.7 370.4h0M352 370.4h0M355.4 370.4h0M358.8 370.4h0M362.2 370.4h0M365.7 370.4h0M379.4 370.4h0M312.5 374.1h0M315.9 374.1h0M326.2 374.1h0M343.4 374.1h0M346.8 374.1h0M353.7 374.1h0M360.5 374.1h0M367.4 374.1h0M370.8 374.1h0M310.8 377.8h0M314.2 377.8h0M317.7 377.8h0M321.1 377.8h0M331.4 377.8h0M334.8 377.8h0M338.2 377.8h0M341.7 377.8h0M345.1 377.8h0M352 377.8h0M362.2 377.8h0M365.7 377.8h0M376 377.8h0M312.5 381.5h0M315.9 381.5h0M329.7 381.5h0M333.1 381.5h0M336.5 381.5h0M340 381.5h0M346.8 381.5h0M353.7 381.5h0M364 381.5h0M374.3 381.5h0M384.5 381.5h0M307.4 385.2h0M310.8 385.2h0M314.2 385.2h0M321.1 385.2h0M324.5 385.2h0M327.9 385.2h0M331.4 385.2h0M334.8 385.2h0M338.2 385.2h0M345.1 385.2h0M352 385.2h0M355.4 385.2h0M358.8 385.2h0M362.2 385.2h0M365.7 385.2h0M369.1 385.2h0M372.5 385.2h0M379.4 385.2h0M396.6 385.2h0M400 385.2h0M305.7 388.9h0M309.1 388.9h0M319.4 388.9h0M322.8 388.9h0M329.7 388.9h0M340 388.9h0M343.4 388.9h0M346.8 388.9h0M353.7 388.9h0M360.5 388.9h0M364 388.9h0M367.4 388.9h0M370.8 388.9h0M374.3 388.9h0M388 388.9h0M401.7 388.9h0M303.9 392.6h0M307.4 392.6h0M314.2 392.6h0M321.1 392.6h0M324.5 392.6h0M334.8 392.6h0M341.7 392.6h0M345.1 392.6h0M355.4 392.6h0M358.8 392.6h0M365.7 392.6h0M386.3 392.6h0M305.7 396.3h0M315.9 396.3h0M319.4 396.3h0M322.8 396.3h0M333.1 396.3h0M336.5 396.3h0M353.7 396.3h0M364 396.3h0M367.4 396.3h0M370.8 396.3h0M374.3 396.3h0M377.7 396.3h0M381.1 396.3h0M388 396.3h0M307.4 400h0M314.2 400h0M317.7 400h0M324.5 400h0M331.4 400h0M345.1 400h0M352 400h0M358.8 400h0M362.2 400h0M365.7 400h0M295.4 403.7h0M305.7 403.7h0M309.1 403.7h0M312.5 403.7h0M326.2 403.7h0M340 403.7h0M350.2 403.7h0M357.1 403.7h0M367.4 403.7h0M374.3 403.7h0M377.7 403.7h0M446.3 403.7h0M293.6 407.4h0M297.1 407.4h0M300.5 407.4h0M307.4 407.4h0M317.7 407.4h0M334.8 407.4h0M341.7 407.4h0M358.8 407.4h0M369.1 407.4h0M298.8 411.1h0M302.2 411.1h0M305.7 411.1h0M309.1 411.1h0M312.5 411.1h0M315.9 411.1h0M322.8 411.1h0M340 411.1h0M350.2 411.1h0M360.5 411.1h0M364 411.1h0M370.8 411.1h0M377.7 411.1h0M381.1 411.1h0M453.1 411.1h0M310.8 414.8h0M314.2 414.8h0M334.8 414.8h0M355.4 414.8h0M358.8 414.8h0M362.2 414.8h0M365.7 414.8h0M369.1 414.8h0M382.8 414.8h0M454.9 414.8h0M285.1 418.5h0M291.9 418.5h0M295.4 418.5h0M309.1 418.5h0M319.4 418.5h0M326.2 418.5h0M329.7 418.5h0M357.1 418.5h0M364 418.5h0M374.3 418.5h0M453.1 418.5h0M303.9 422.2h0M314.2 422.2h0M331.4 422.2h0M341.7 422.2h0M348.5 422.2h0M355.4 422.2h0M365.7 422.2h0M376 422.2h0M302.2 425.9h0M326.2 425.9h0M329.7 425.9h0M340 425.9h0M360.5 425.9h0M364 425.9h0M370.8 425.9h0M374.3 425.9h0M377.7 425.9h0M449.7 425.9h0M303.9 429.6h0M317.7 429.6h0M324.5 429.6h0M348.5 429.6h0M352 429.6h0M365.7 429.6h0M376 429.6h0M461.7 429.6h0M291.9 433.3h0M295.4 433.3h0M336.5 433.3h0M350.2 433.3h0M353.7 433.3h0M357.1 433.3h0M364 433.3h0M367.4 433.3h0M370.8 433.3h0M436 433.3h0M297.1 437h0M307.4 437h0M310.8 437h0M317.7 437h0M345.1 437h0M355.4 437h0M358.8 437h0M362.2 437h0M369.1 437h0M372.5 437h0M376 437h0M382.8 437h0M458.3 437h0M278.2 440.7h0M298.8 440.7h0M302.2 440.7h0M309.1 440.7h0M333.1 440.7h0M350.2 440.7h0M353.7 440.7h0M364 440.7h0M367.4 440.7h0M279.9 444.4h0M303.9 444.4h0M307.4 444.4h0M317.7 444.4h0M321.1 444.4h0M334.8 444.4h0M338.2 444.4h0M352 444.4h0M358.8 444.4h0M365.7 444.4h0M369.1 444.4h0M305.7 448.1h0M329.7 448.1h0M343.4 448.1h0M346.8 448.1h0M357.1 448.1h0M370.8 448.1h0M418.8 448.1h0M429.1 448.1h0M432.6 448.1h0M307.4 451.8h0M310.8 451.8h0M317.7 451.8h0M321.1 451.8h0M324.5 451.8h0M331.4 451.8h0M345.1 451.8h0M437.7 451.8h0M298.8 455.5h0M305.7 455.5h0M309.1 455.5h0M312.5 455.5h0M319.4 455.5h0M322.8 455.5h0M329.7 455.5h0M364 455.5h0M290.2 459.2h0M300.5 459.2h0M307.4 459.2h0M314.2 459.2h0M321.1 459.2h0M324.5 459.2h0M334.8 459.2h0M341.7 459.2h0M352 459.2h0M355.4 459.2h0M295.4 462.9h0M302.2 462.9h0M309.1 462.9h0M319.4 462.9h0M326.2 462.9h0M333.1 462.9h0M336.5 462.9h0M340 462.9h0M346.8 462.9h0M350.2 462.9h0M364 462.9h0M442.9 462.9h0M446.3 462.9h0M300.5 466.6h0M307.4 466.6h0M310.8 466.6h0M314.2 466.6h0M324.5 466.6h0M331.4 466.6h0M338.2 466.6h0M345.1 466.6h0M348.5 466.6h0M358.8 466.6h0M434.3 466.6h0M278.2 470.3h0M295.4 470.3h0M312.5 470.3h0M315.9 470.3h0M329.7 470.3h0M333.1 470.3h0M336.5 470.3h0M343.4 470.3h0M360.5 470.3h0M381.1 470.3h0M422.3 470.3h0M436 470.3h0M286.8 474h0M297.1 474h0M300.5 474h0M307.4 474h0M310.8 474h0M314.2 474h0M317.7 474h0M324.5 474h0M327.9 474h0M331.4 474h0M334.8 474h0M338.2 474h0M352 474h0M365.7 474h0M369.1 474h0M302.2 477.7h0M312.5 477.7h0M319.4 477.7h0M322.8 477.7h0M405.1 477.7h0M418.8 477.7h0M425.7 477.7h0M297.1 481.4h0M300.5 481.4h0M307.4 481.4h0M314.2 481.4h0M324.5 481.4h0M327.9 481.4h0M352 481.4h0M355.4 481.4h0M413.7 481.4h0M285.1 485.1h0M288.5 485.1h0M298.8 485.1h0M302.2 485.1h0M305.7 485.1h0M315.9 485.1h0M364 485.1h0M401.7 485.1h0M297.1 488.8h0M307.4 488.8h0M310.8 488.8h0M314.2 488.8h0M348.5 488.8h0M358.8 488.8h0M281.6 492.5h0M285.1 492.5h0M291.9 492.5h0M295.4 492.5h0M298.8 492.5h0M305.7 492.5h0M312.5 492.5h0M315.9 492.5h0M319.4 492.5h0M350.2 492.5h0M290.2 496.2h0M293.6 496.2h0M300.5 496.2h0M303.9 496.2h0M307.4 496.2h0M310.8 496.2h0M314.2 496.2h0M403.4 496.2h0M291.9 499.9h0M295.4 499.9h0M298.8 499.9h0M302.2 499.9h0M305.7 499.9h0M309.1 499.9h0M394.8 499.9h0M405.1 499.9h0M283.4 503.6h0M293.6 503.6h0M297.1 503.6h0M300.5 503.6h0M303.9 503.6h0M307.4 503.6h0M310.8 503.6h0M386.3 503.6h0M291.9 507.3h0M295.4 507.3h0M302.2 507.3h0M305.7 507.3h0M309.1 507.3h0M336.5 507.3h0M374.3 507.3h0M388 507.3h0M286.8 511h0M290.2 511h0M293.6 511h0M300.5 511h0M303.9 511h0M338.2 511h0M291.9 514.7h0M298.8 514.7h0M302.2 514.7h0M297.1 518.4h0M303.9 518.4h0M307.4 518.4h0M298.8 522.1h0M305.7 522.1h0M336.5 522.1h0M345.1 525.8h0M295.4 529.5h0M346.8 529.5h0M353.7 529.5h0M309.1 536.9h0"/>
<path id="d9" d="M456.6 462.9h0M460 462.9h0M442.9 485.1h0M432.6 499.9h0M415.4 507.3h0M422.3 507.3h0M420.6 511h0M424 511h0M389.7 525.8h0M381.1 536.9h0M300.5 540.6h0M350.2 544.3h0M338.2 548h0M340 551.7h0"/>
<path id="d11" d="M365.7 363h0M312.5 366.7h0M343.4 366.7h0M331.4 370.4h0M382.8 370.4h0M386.3 370.4h0M372.5 377.8h0M309.1 381.5h0M377.7 381.5h0M386.3 385.2h0M393.1 385.2h0M396.6 392.6h0M441.1 392.6h0M391.4 396.3h0M439.4 396.3h0M348.5 400h0M382.8 400h0M393.1 400h0M444.6 400h0M448 400h0M451.4 400h0M388 403.7h0M415.4 403.7h0M439.4 403.7h0M453.1 403.7h0M466.9 403.7h0M470.3 403.7h0M310.8 407.4h0M314.2 407.4h0M389.7 407.4h0M393.1 407.4h0M437.7 407.4h0M444.6 407.4h0M458.3 407.4h0M465.1 407.4h0M468.6 407.4h0M472 407.4h0M295.4 411.1h0M394.8 411.1h0M439.4 411.1h0M449.7 411.1h0M460 411.1h0M463.4 411.1h0M466.9 411.1h0M470.3 411.1h0M290.2 414.8h0M297.1 414.8h0M300.5 414.8h0M379.4 414.8h0M386.3 414.8h0M393.1 414.8h0M444.6 414.8h0M448 414.8h0M451.4 414.8h0M458.3 414.8h0M461.7 414.8h0M465.1 414.8h0M468.6 414.8h0M475.4 414.8h0M381.1 418.5h0M384.5 418.5h0M388 418.5h0M394.8 418.5h0M405.1 418.5h0M436 418.5h0M442.9 418.5h0M446.3 418.5h0M456.6 418.5h0M460 418.5h0M463.4 418.5h0M466.9 418.5h0M470.3 418.5h0M473.7 418.5h0M477.2 418.5h0M283.4 422.2h0M293.6 422.2h0M369.1 422.2h0M393.1 422.2h0M400 422.2h0M441.1 422.2h0M444.6 422.2h0M451.4 422.2h0M454.9 422.2h0M458.3 422.2h0M465.1 422.2h0M468.6 422.2h0M281.6 425.9h0M285.1 425.9h0M381.1 425.9h0M398.3 425.9h0M401.7 425.9h0M439.4 425.9h0M442.9 425.9h0M456.6 425.9h0M460 425.9h0M463.4 425.9h0M466.9 425.9h0M470.3 425.9h0M286.8 429.6h0M297.1 429.6h0M382.8 429.6h0M389.7 429.6h0M393.1 429.6h0M396.6 429.6h0M444.6 429.6h0M454.9 429.6h0M458.3 429.6h0M465.1 429.6h0M468.6 429.6h0M472 429.6h0M278.2 433.3h0M285.1 433.3h0M384.5 433.3h0M432.6 433.3h0M446.3 433.3h0M453.1 433.3h0M456.6 433.3h0M460 433.3h0M463.4 433.3h0M466.9 433.3h0M470.3 433.3h0M473.7 433.3h0M477.2 433.3h0M276.5 437h0M437.7 437h0M441.1 437h0M448 437h0M451.4 437h0M461.7 437h0M468.6 437h0M472 437h0M281.6 440.7h0M360.5 440.7h0M377.7 440.7h0M439.4 440.7h0M446.3 440.7h0M453.1 440.7h0M460 440.7h0M466.9 440.7h0M470.3 440.7h0M283.4 444.4h0M290.2 444.4h0M293.6 444.4h0M372.5 444.4h0M430.9 444.4h0M437.7 444.4h0M441.1 444.4h0M451.4 444.4h0M458.3 444.4h0M472 444.4h0M388 448.1h0M401.7 448.1h0M436 448.1h0M446.3 448.1h0M449.7 448.1h0M456.6 448.1h0M460 448.1h0M463.4 448.1h0M276.5 451.8h0M358.8 451.8h0M406.8 451.8h0M410.3 451.8h0M417.1 451.8h0M424 451.8h0M448 451.8h0M451.4 451.8h0M454.9 451.8h0M458.3 451.8h0M461.7 451.8h0M465.1 451.8h0M278.2 455.5h0M281.6 455.5h0M291.9 455.5h0M367.4 455.5h0M394.8 455.5h0M401.7 455.5h0M405.1 455.5h0M408.6 455.5h0M412 455.5h0M425.7 455.5h0M429.1 455.5h0M436 455.5h0M442.9 455.5h0M446.3 455.5h0M449.7 455.5h0M453.1 455.5h0M460 455.5h0M466.9 455.5h0M276.5 459.2h0M293.6 459.2h0M358.8 459.2h0M369.1 459.2h0M389.7 459.2h0M396.6 459.2h0M403.4 459.2h0M406.8 459.2h0M410.3 459.2h0M413.7 459.2h0M430.9 459.2h0M434.3 459.2h0M441.1 459.2h0M444.6 459.2h0M448 459.2h0M454.9 459.2h0M458.3 459.2h0M465.1 459.2h0M468.6 459.2h0M278.2 462.9h0M298.8 462.9h0M388 462.9h0M391.4 462.9h0M394.8 462.9h0M405.1 462.9h0M408.6 462.9h0M412 462.9h0M418.8 462.9h0M425.7 462.9h0M439.4 462.9h0M449.7 462.9h0M453.1 462.9h0M463.4 462.9h0M279.9 466.6h0M365.7 466.6h0M382.8 466.6h0M413.7 466.6h0M437.7 466.6h0M441.1 466.6h0M444.6 466.6h0M448 466.6h0M458.3 466.6h0M461.7 466.6h0M302.2 470.3h0M364 470.3h0M367.4 470.3h0M391.4 470.3h0M394.8 470.3h0M418.8 470.3h0M425.7 470.3h0M432.6 470.3h0M439.4 470.3h0M442.9 470.3h0M460 470.3h0M283.4 474h0M293.6 474h0M376 474h0M393.1 474h0M400 474h0M410.3 474h0M417.1 474h0M430.9 474h0M434.3 474h0M441.1 474h0M444.6 474h0M291.9 477.7h0M309.1 477.7h0M370.8 477.7h0M384.5 477.7h0M394.8 477.7h0M401.7 477.7h0M412 477.7h0M429.1 477.7h0M432.6 477.7h0M436 477.7h0M439.4 477.7h0M442.9 477.7h0M449.7 477.7h0M276.5 481.4h0M362.2 481.4h0M365.7 481.4h0M393.1 481.4h0M396.6 481.4h0M406.8 481.4h0M410.3 481.4h0M417.1 481.4h0M420.6 481.4h0M424 481.4h0M427.4 481.4h0M430.9 481.4h0M434.3 481.4h0M437.7 481.4h0M444.6 481.4h0M451.4 481.4h0M295.4 485.1h0M360.5 485.1h0M370.8 485.1h0M384.5 485.1h0M391.4 485.1h0M398.3 485.1h0M408.6 485.1h0M415.4 485.1h0M418.8 485.1h0M422.3 485.1h0M425.7 485.1h0M429.1 485.1h0M432.6 485.1h0M436 485.1h0M439.4 485.1h0M446.3 485.1h0M352 488.8h0M355.4 488.8h0M369.1 488.8h0M372.5 488.8h0M376 488.8h0M386.3 488.8h0M389.7 488.8h0M393.1 488.8h0M403.4 488.8h0M406.8 488.8h0M413.7 488.8h0M420.6 488.8h0M427.4 488.8h0M430.9 488.8h0M434.3 488.8h0M437.7 488.8h0M444.6 488.8h0M309.1 492.5h0M353.7 492.5h0M357.1 492.5h0M360.5 492.5h0M364 492.5h0M384.5 492.5h0M398.3 492.5h0M408.6 492.5h0M418.8 492.5h0M422.3 492.5h0M425.7 492.5h0M432.6 492.5h0M276.5 496.2h0M279.9 496.2h0M352 496.2h0M355.4 496.2h0M372.5 496.2h0M379.4 496.2h0M382.8 496.2h0M393.1 496.2h0M396.6 496.2h0M400 496.2h0M406.8 496.2h0M410.3 496.2h0M413.7 496.2h0M417.1 496.2h0M420.6 496.2h0M424 496.2h0M427.4 496.2h0M430.9 496.2h0M434.3 496.2h0M437.7 496.2h0M281.6 499.9h0M364 499.9h0M370.8 499.9h0M398.3 499.9h0M401.7 499.9h0M412 499.9h0M415.4 499.9h0M418.8 499.9h0M422.3 499.9h0M425.7 499.9h0M429.1 499.9h0M436 499.9h0M348.5 503.6h0M358.8 503.6h0M362.2 503.6h0M382.8 503.6h0M389.7 503.6h0M393.1 503.6h0M400 503.6h0M403.4 503.6h0M406.8 503.6h0M424 503.6h0M448 503.6h0M285.1 507.3h0M343.4 507.3h0M353.7 507.3h0M360.5 507.3h0M364 507.3h0M367.4 507.3h0M370.8 507.3h0M381.1 507.3h0M384.5 507.3h0M394.8 507.3h0M398.3 507.3h0M401.7 507.3h0M405.1 507.3h0M408.6 507.3h0M418.8 507.3h0M425.7 507.3h0M297.1 511h0M341.7 511h0M352 511h0M355.4 511h0M362.2 511h0M365.7 511h0M369.1 511h0M379.4 511h0M382.8 511h0M386.3 511h0M389.7 511h0M393.1 511h0M400 511h0M406.8 511h0M410.3 511h0M413.7 511h0M417.1 511h0M295.4 514.7h0M360.5 514.7h0M364 514.7h0M367.4 514.7h0M374.3 514.7h0M377.7 514.7h0M381.1 514.7h0M384.5 514.7h0M388 514.7h0M391.4 514.7h0M394.8 514.7h0M401.7 514.7h0M405.1 514.7h0M408.6 514.7h0M412 514.7h0M338.2 518.4h0M345.1 518.4h0M348.5 518.4h0M355.4 518.4h0M358.8 518.4h0M365.7 518.4h0M369.1 518.4h0M372.5 518.4h0M376 518.4h0M379.4 518.4h0M382.8 518.4h0M386.3 518.4h0M393.1 518.4h0M396.6 518.4h0M403.4 518.4h0M406.8 518.4h0M285.1 522.1h0M288.5 522.1h0M340 522.1h0M346.8 522.1h0M350.2 522.1h0M357.1 522.1h0M360.5 522.1h0M364 522.1h0M367.4 522.1h0M370.8 522.1h0M374.3 522.1h0M377.7 522.1h0M384.5 522.1h0M388 522.1h0M286.8 525.8h0M290.2 525.8h0M307.4 525.8h0M338.2 525.8h0M341.7 525.8h0M355.4 525.8h0M358.8 525.8h0M362.2 525.8h0M365.7 525.8h0M369.1 525.8h0M379.4 525.8h0M382.8 525.8h0M396.6 525.8h0M288.5 529.5h0M291.9 529.5h0M298.8 529.5h0M336.5 529.5h0M340 529.5h0M343.4 529.5h0M350.2 529.5h0M360.5 529.5h0M364 529.5h0M367.4 529.5h0M374.3 529.5h0M377.7 529.5h0M381.1 529.5h0M388 529.5h0M297.1 533.2h0M310.8 533.2h0M338.2 533.2h0M341.7 533.2h0M345.1 533.2h0M348.5 533.2h0M352 533.2h0M355.4 533.2h0M358.8 533.2h0M362.2 533.2h0M365.7 533.2h0M369.1 533.2h0M372.5 533.2h0M376 533.2h0M298.8 536.9h0M302.2 536.9h0M305.7 536.9h0M312.5 536.9h0M315.9 536.9h0M336.5 536.9h0M340 536.9h0M343.4 536.9h0M350.2 536.9h0M353.7 536.9h0M367.4 536.9h0M374.3 536.9h0M303.9 540.6h0M307.4 540.6h0M310.8 540.6h0M314.2 540.6h0M338.2 540.6h0M341.7 540.6h0M348.5 540.6h0M355.4 540.6h0M358.8 540.6h0M340 544.3h0M326.2 551.7h0M331.4 555.4h0M384.5 566.5h0M369.1 570.2h0M379.4 570.2h0"/>
<path id="d12" d="M372.5 363h0M374.3 366.7h0M437.7 392.6h0M290.2 400h0M300.5 400h0M398.3 403.7h0M441.1 407.4h0M454.9 407.4h0M391.4 411.1h0M473.7 411.1h0M472 414.8h0M382.8 422.2h0M448 422.2h0M461.7 422.2h0M472 422.2h0M475.4 422.2h0M478.9 422.2h0M446.3 425.9h0M453.1 425.9h0M473.7 425.9h0M477.2 425.9h0M290.2 429.6h0M386.3 429.6h0M448 429.6h0M475.4 429.6h0M482.3 429.6h0M439.4 433.3h0M442.9 433.3h0M279.9 437h0M444.6 437h0M465.1 437h0M475.4 437h0M478.9 437h0M436 440.7h0M456.6 440.7h0M463.4 440.7h0M473.7 440.7h0M276.5 444.4h0M448 444.4h0M454.9 444.4h0M461.7 444.4h0M468.6 444.4h0M453.1 448.1h0M466.9 448.1h0M470.3 448.1h0M473.7 448.1h0M396.6 451.8h0M403.4 451.8h0M413.7 451.8h0M441.1 451.8h0M468.6 451.8h0M415.4 455.5h0M456.6 455.5h0M463.4 455.5h0M470.3 455.5h0M417.1 459.2h0M451.4 459.2h0M461.7 459.2h0M472 459.2h0M475.4 459.2h0M470.3 462.9h0M386.3 466.6h0M403.4 466.6h0M420.6 466.6h0M451.4 466.6h0M454.9 466.6h0M465.1 466.6h0M388 470.3h0M446.3 470.3h0M449.7 470.3h0M456.6 470.3h0M463.4 470.3h0M427.4 474h0M437.7 474h0M448 474h0M458.3 474h0M461.7 474h0M285.1 477.7h0M446.3 477.7h0M453.1 477.7h0M441.1 481.4h0M448 481.4h0M454.9 481.4h0M461.7 481.4h0M405.1 485.1h0M449.7 485.1h0M453.1 485.1h0M317.7 488.8h0M396.6 488.8h0M417.1 488.8h0M424 488.8h0M441.1 488.8h0M448 488.8h0M454.9 488.8h0M388 492.5h0M391.4 492.5h0M394.8 492.5h0M412 492.5h0M415.4 492.5h0M429.1 492.5h0M436 492.5h0M439.4 492.5h0M442.9 492.5h0M446.3 492.5h0M449.7 492.5h0M441.1 496.2h0M444.6 496.2h0M458.3 496.2h0M350.2 499.9h0M357.1 499.9h0M360.5 499.9h0M377.7 499.9h0M408.6 499.9h0M439.4 499.9h0M442.9 499.9h0M379.4 503.6h0M410.3 503.6h0M413.7 503.6h0M417.1 503.6h0M420.6 503.6h0M427.4 503.6h0M430.9 503.6h0M437.7 503.6h0M391.4 507.3h0M412 507.3h0M429.1 507.3h0M432.6 507.3h0M403.4 511h0M427.4 511h0M430.9 511h0M343.4 514.7h0M398.3 514.7h0M415.4 514.7h0M389.7 518.4h0M400 518.4h0M417.1 518.4h0M420.6 518.4h0M381.1 522.1h0M394.8 522.1h0M398.3 522.1h0M401.7 522.1h0M405.1 522.1h0M412 522.1h0M283.4 525.8h0M348.5 525.8h0M372.5 525.8h0M386.3 525.8h0M400 525.8h0M406.8 525.8h0M285.1 529.5h0M357.1 529.5h0M370.8 529.5h0M384.5 529.5h0M391.4 529.5h0M290.2 533.2h0M314.2 533.2h0M379.4 533.2h0M382.8 533.2h0M386.3 533.2h0M396.6 533.2h0M400 533.2h0M291.9 536.9h0M295.4 536.9h0M346.8 536.9h0M360.5 536.9h0M370.8 536.9h0M377.7 536.9h0M297.1 540.6h0M317.7 540.6h0M345.1 540.6h0M352 540.6h0M362.2 540.6h0M365.7 540.6h0M376 540.6h0M309.1 544.3h0M312.5 544.3h0M343.4 544.3h0M353.7 544.3h0M374.3 544.3h0M322.8 551.7h0M329.7 551.7h0M336.5 551.7h0M324.5 555.4h0M327.9 555.4h0M334.8 555.4h0M338.2 555.4h0M379.4 555.4h0M384.5 559.1h0M367.4 566.5h0M370.8 566.5h0M374.3 566.5h0M377.7 566.5h0M381.1 566.5h0M372.5 570.2h0"/>
<path id="d13" d="M478.9 429.6h0M480.6 433.3h0M484 440.7h0M465.1 444.4h0M482.3 444.4h0M283.4 451.8h0M427.4 451.8h0M472 451.8h0M473.7 455.5h0M466.9 462.9h0M468.6 466.6h0M475.4 466.6h0M453.1 470.3h0M466.9 470.3h0M473.7 470.3h0M379.4 474h0M451.4 474h0M454.9 474h0M465.1 474h0M468.6 474h0M460 477.7h0M473.7 477.7h0M321.1 481.4h0M372.5 481.4h0M458.3 481.4h0M456.6 485.1h0M451.4 488.8h0M458.3 488.8h0M448 496.2h0M451.4 496.2h0M446.3 499.9h0M372.5 503.6h0M376 503.6h0M396.6 503.6h0M441.1 503.6h0M444.6 503.6h0M439.4 507.3h0M434.3 511h0M422.3 514.7h0M432.6 514.7h0M436 514.7h0M410.3 518.4h0M376 525.8h0M403.4 525.8h0M394.8 529.5h0M401.7 529.5h0M286.8 533.2h0M389.7 533.2h0M393.1 533.2h0M288.5 536.9h0M357.1 536.9h0M364 536.9h0M391.4 536.9h0M405.1 536.9h0M290.2 540.6h0M293.6 540.6h0M369.1 540.6h0M379.4 540.6h0M386.3 540.6h0M295.4 544.3h0M298.8 544.3h0M302.2 544.3h0M305.7 544.3h0M315.9 544.3h0M357.1 544.3h0M360.5 544.3h0M364 544.3h0M367.4 544.3h0M370.8 544.3h0M384.5 544.3h0M297.1 548h0M300.5 548h0M303.9 548h0M314.2 548h0M341.7 548h0M345.1 548h0M348.5 548h0M355.4 548h0M376 548h0M333.1 551.7h0M343.4 551.7h0M350.2 551.7h0M360.5 551.7h0M341.7 555.4h0M357.1 559.1h0M360.5 559.1h0M367.4 559.1h0M369.1 562.8h0M382.8 562.8h0M386.3 562.8h0M364 566.5h0M376 570.2h0"/>
<path id="d14" d="M480.6 425.9h0M484 425.9h0M487.4 425.9h0M485.7 429.6h0M484 433.3h0M482.3 437h0M478.9 444.4h0M477.2 448.1h0M480.6 448.1h0M475.4 451.8h0M478.9 451.8h0M477.2 455.5h0M379.4 466.6h0M472 466.6h0M472 474h0M391.4 477.7h0M463.4 477.7h0M470.3 477.7h0M463.4 485.1h0M456.6 492.5h0M454.9 496.2h0M449.7 499.9h0M436 507.3h0M449.7 507.3h0M425.7 514.7h0M413.7 518.4h0M424 518.4h0M430.9 518.4h0M391.4 522.1h0M418.8 522.1h0M352 525.8h0M410.3 525.8h0M413.7 525.8h0M398.3 529.5h0M408.6 529.5h0M293.6 533.2h0M388 536.9h0M372.5 540.6h0M382.8 540.6h0M346.8 544.3h0M377.7 544.3h0M381.1 544.3h0M307.4 548h0M310.8 548h0M352 548h0M358.8 548h0M365.7 548h0M346.8 551.7h0M353.7 551.7h0M367.4 551.7h0M355.4 555.4h0M364 559.1h0M377.7 559.1h0M362.2 562.8h0M379.4 562.8h0"/>
<path id="d15" d="M487.4 433.3h0M489.2 437h0M480.6 440.7h0M487.4 440.7h0M475.4 444.4h0M485.7 451.8h0M484 455.5h0M478.9 459.2h0M473.7 462.9h0M465.1 481.4h0M468.6 481.4h0M460 485.1h0M466.9 485.1h0M461.7 488.8h0M453.1 499.9h0M451.4 503.6h0M442.9 507.3h0M444.6 511h0M418.8 514.7h0M429.1 514.7h0M408.6 522.1h0M415.4 522.1h0M429.1 522.1h0M393.1 525.8h0M403.4 533.2h0M394.8 536.9h0M396.6 540.6h0M391.4 544.3h0M398.3 544.3h0M317.7 548h0M362.2 548h0M379.4 548h0M364 551.7h0M374.3 551.7h0M352 555.4h0M362.2 555.4h0M369.1 555.4h0M370.8 559.1h0M374.3 559.1h0M381.1 559.1h0M372.5 562.8h0"/>
<path id="d16" d="M485.7 437h0M485.7 444.4h0M482.3 459.2h0M477.2 462.9h0M480.6 462.9h0M478.9 466.6h0M470.3 470.3h0M477.2 470.3h0M475.4 474h0M466.9 477.7h0M472 481.4h0M465.1 488.8h0M463.4 492.5h0M396.6 511h0M437.7 511h0M448 511h0M427.4 518.4h0M434.3 518.4h0M425.7 522.1h0M417.1 525.8h0M405.1 529.5h0M412 529.5h0M406.8 533.2h0M398.3 536.9h0M389.7 540.6h0M400 540.6h0M388 544.3h0M372.5 548h0M386.3 548h0M389.7 548h0M319.4 551.7h0M357.1 551.7h0M370.8 551.7h0M345.1 555.4h0M348.5 555.4h0M365.7 555.4h0M376 562.8h0"/>
<path id="d17" d="M490.9 433.3h0M489.2 444.4h0M484 448.1h0M480.6 455.5h0M470.3 485.1h0M456.6 499.9h0M446.3 507.3h0M441.1 511h0M422.3 522.1h0M420.6 525.8h0M393.1 540.6h0M394.8 544.3h0M369.1 548h0M376 555.4h0M365.7 562.8h0"/>
<path id="d18" d="M482.3 451.8h0M460 492.5h0M401.7 536.9h0M377.7 551.7h0M358.8 555.4h0"/>
<path id="d19" d="M489.2 429.6h0M487.4 448.1h0M461.7 496.2h0M382.8 548h0M372.5 555.4h0"/>
</defs>
<use href="#d" stroke="#bfbfb3" stroke-width="3.80"/>
<use href="#d4" stroke="#c0cdd8" stroke-width="3.80"/>
<use href="#d5" stroke="#c1cfd8" stroke-width="3.80"/>
<use href="#d6" stroke="#c3d0d8" stroke-width="3.80"/>
<use href="#d7" stroke="#c5d1d6" stroke-width="3.80"/>
<use href="#d8" stroke="#c9d4d4" stroke-width="3.80"/>
<use href="#d9" stroke="#d1d9cd" stroke-width="3.80"/>
<use href="#d11" stroke="#c1bfb0" stroke-width="3.80"/>
<use href="#d12" stroke="#bcb5a4" stroke-width="3.80"/>
<use href="#d13" stroke="#ab9882" stroke-width="3.80"/>
<use href="#d14" stroke="#a68a75" stroke-width="3.80"/>
<use href="#d15" stroke="#9f7968" stroke-width="3.80"/>
<use href="#d16" stroke="#97685b" stroke-width="3.80"/>
<use href="#d17" stroke="#8e554f" stroke-width="3.80"/>
<use href="#d18" stroke="#813e45" stroke-width="3.80"/>
<use href="#d19" stroke="#6b2638" stroke-width="3.80"/>
<use href="#d" stroke="#eff0cf" stroke-width="2.15"/>
<use href="#d4" stroke="#cadae6" stroke-width="2.15"/>
<use href="#d5" stroke="#cbdce6" stroke-width="2.15"/>
<use href="#d6" stroke="#cddde6" stroke-width="2.15"/>
<use href="#d7" stroke="#d0dee4" stroke-width="2.15"/>
<use href="#d8" stroke="#d4e1e1" stroke-width="2.15"/>
<use href="#d9" stroke="#dde7d9" stroke-width="2.15"/>
<use href="#d11" stroke="#f6f1c6" stroke-width="2.15"/>
<use href="#d12" stroke="#f5e2b5" stroke-width="2.15"/>
<use href="#d13" stroke="#f3cfa4" stroke-width="2.15"/>
<use href="#d14" stroke="#efba92" stroke-width="2.15"/>
<use href="#d15" stroke="#e9a07f" stroke-width="2.15"/>
<use href="#d16" stroke="#e1866e" stroke-width="2.15"/>
<use href="#d17" stroke="#d7695e" stroke-width="2.15"/>
<use href="#d18" stroke="#c74753" stroke-width="2.15"/>
<use href="#d19" stroke="#a82346" stroke-width="2.15"/>
</g>
<!-- panel e1 -->
<g fill="none" stroke-linecap="round">
<defs>
<path id="e1" d="M601.5 84.1h31.6M585.7 87.9h59.7M584 91.7h63.2M585.7 95.4h63.2M587.5 99.2h73.7M585.7 103h77.2M584 106.8h77.2M575.2 110.6h98.2M576.9 114.4h98.2M575.2 118.1h101.7M715.4 118.1h0.1M573.4 121.9h101.7M713.7 121.9h3.6M564.7 125.7h108.7M715.4 125.7h0.1M562.9 129.5h108.7M689.1 129.5h3.6M717.2 129.5h17.6M561.2 133.3h112.2M690.9 133.3h0.1M711.9 133.3h21.1M743.5 133.3h3.6M562.9 137h112.2M713.7 137h21.1M741.7 137h7.1M561.2 140.8h112.2M711.9 140.8h38.6M559.4 144.6h112.2M713.7 144.6h38.6M557.7 148.4h122.8M711.9 148.4h42.1M555.9 152.2h126.3M710.1 152.2h45.6M554.2 155.9h126.3M708.4 155.9h56.1M552.4 159.7h119.2M710.1 159.7h56.1M550.7 163.5h119.2M708.4 163.5h59.7M548.9 167.3h119.2M706.6 167.3h59.7M550.7 171.1h105.2M673.3 171.1h0.1M704.9 171.1h10.6M722.4 171.1h42.1M548.9 174.9h105.2M699.6 174.9h66.7M550.7 178.6h98.2M662.8 178.6h0.1M676.8 178.6h0.1M694.4 178.6h70.2M548.9 182.4h98.2M671.6 182.4h91.2M550.7 186.2h94.7M662.8 186.2h98.2M548.9 190h94.7M657.6 190h101.7M550.7 193.8h91.2M655.8 193.8h101.7M548.9 197.5h91.2M654.1 197.5h101.7M550.7 201.3h129.8M687.4 201.3h66.7M548.9 205.1h66.7M626 205.1h126.3M550.7 208.9h56.1M624.3 208.9h105.2M736.4 208.9h14.1M548.9 212.7h52.6M626 212.7h122.8M550.7 216.4h45.6M624.3 216.4h122.8M548.9 220.2h42.1M622.5 220.2h119.2M550.7 224h42.1M624.3 224h101.7M732.9 224h7.1M548.9 227.8h42.1M622.5 227.8h115.7M554.2 231.6h35.1M620.8 231.6h112.2M555.9 235.4h28.1M615.5 235.4h112.2M557.7 239.1h24.6M610.2 239.1h115.7M559.4 242.9h21.1M612 242.9h112.2M557.7 246.7h21.1M610.2 246.7h101.7M559.4 250.5h21.1M612 250.5h98.2M557.7 254.3h24.6M610.2 254.3h94.7M555.9 258h28.1M598 258h0.1M612 258h84.2M557.7 261.8h28.1M610.2 261.8h77.2M559.4 265.6h28.1M612 265.6h70.2M561.2 269.4h28.1M610.2 269.4h70.2M562.9 273.2h28.1M612 273.2h63.2M568.2 277h21.1M613.7 277h59.7M569.9 280.7h21.1M612 280.7h52.6M592.7 284.5h59.7M598 288.3h56.1M631.3 292.1h28.1M636.5 295.9h24.6M638.3 299.6h21.1M643.5 303.4h10.6" stroke-dasharray="0 3.505"/>
<path id="e11" d="M576.9 114.4h0"/>
<path id="e12" d="M685.6 197.5h0"/>
<path id="e13" d="M654.1 106.8h0M636.5 114.4h0M564.7 155.9h0"/>
<path id="e14" d="M598 129.5h0M587.5 137h0M589.2 140.8h0M601.5 159.7h0M732.9 171.1h0M591 220.2h0M662.8 231.6h0M564.7 254.3h0"/>
<path id="e15" d="M638.3 87.9h0M605 99.2h0M633 114.4h0M617.3 125.7h0M578.7 133.3h0M585.7 133.3h0M578.7 140.8h0M610.2 140.8h0M571.7 148.4h0M654.1 152.2h0M575.2 155.9h0M598 159.7h0M615.5 182.4h0M676.8 186.2h0M601.5 190h0M575.2 193.8h0M689.1 205.1h0M594.5 212.7h0M654.1 212.7h0M564.7 216.4h0"/>
<path id="e16" d="M619 84.1h0M631.3 87.9h0M634.8 95.4h0M648.8 95.4h0M596.2 110.6h0M612 114.4h0M638.3 118.1h0M612 121.9h0M585.7 125.7h0M641.8 125.7h0M731.2 129.5h0M582.2 133.3h0M655.8 133.3h0M718.9 133.3h0M608.5 137h0M568.2 140.8h0M627.8 148.4h0M555.9 152.2h0M587.5 152.2h0M601.5 152.2h0M634.8 155.9h0M555.9 159.7h0M643.5 159.7h0M671.6 159.7h0M557.7 163.5h0M655.8 163.5h0M659.3 163.5h0M568.2 171.1h0M629.5 174.9h0M634.8 178.6h0M620.8 186.2h0M669.8 186.2h0M608.5 190h0M554.2 193.8h0M624.3 193.8h0M678.6 197.5h0M624.3 201.3h0M638.3 201.3h0M559.4 205.1h0M591 205.1h0M633 205.1h0M550.7 208.9h0M591 212.7h0M598 212.7h0M626 212.7h0M631.3 224h0M561.2 246.7h0M636.5 273.2h0"/>
<path id="e17" d="M622.5 84.1h0M626 84.1h0M624.3 87.9h0M641.8 87.9h0M591 91.7h0M601.5 91.7h0M629.5 91.7h0M603.2 103h0M627.8 103h0M641.8 103h0M634.8 110.6h0M673.3 110.6h0M601.5 114.4h0M622.5 114.4h0M650.6 114.4h0M654.1 114.4h0M589.2 118.1h0M613.7 118.1h0M591 121.9h0M594.5 121.9h0M605 121.9h0M615.5 121.9h0M664.6 121.9h0M668.1 121.9h0M582.2 125.7h0M589.2 125.7h0M634.8 125.7h0M648.8 125.7h0M669.8 125.7h0M594.5 129.5h0M626 129.5h0M668.1 129.5h0M603.2 133.3h0M725.9 133.3h0M729.4 133.3h0M633 137h0M643.5 137h0M654.1 137h0M594.5 144.6h0M731.2 144.6h0M592.7 148.4h0M613.7 148.4h0M648.8 148.4h0M655.8 148.4h0M659.3 148.4h0M615.5 152.2h0M717.2 152.2h0M568.2 155.9h0M578.7 155.9h0M620.8 155.9h0M627.8 155.9h0M655.8 155.9h0M562.9 159.7h0M713.7 159.7h0M717.2 159.7h0M734.7 159.7h0M561.2 163.5h0M617.3 163.5h0M711.9 163.5h0M722.4 163.5h0M559.4 167.3h0M562.9 167.3h0M569.9 167.3h0M652.3 171.1h0M580.4 174.9h0M636.5 174.9h0M647.1 174.9h0M650.6 174.9h0M592.7 178.6h0M606.7 178.6h0M641.8 178.6h0M562.9 182.4h0M612 182.4h0M629.5 182.4h0M647.1 182.4h0M671.6 182.4h0M685.6 182.4h0M673.3 186.2h0M683.9 186.2h0M640 190h0M643.5 190h0M582.2 193.8h0M592.7 193.8h0M606.7 193.8h0M631.3 193.8h0M673.3 193.8h0M697.9 193.8h0M584 197.5h0M627.8 201.3h0M676.8 201.3h0M578.7 208.9h0M643.5 212.7h0M664.6 212.7h0M571.7 216.4h0M589.2 216.4h0M638.3 216.4h0M562.9 220.2h0M584 220.2h0M633 220.2h0M568.2 224h0M624.3 224h0M669.8 224h0M548.9 227.8h0M552.4 227.8h0M626 227.8h0M561.2 231.6h0M580.4 235.4h0M566.4 242.9h0M557.7 246.7h0M622.5 250.5h0M634.8 254.3h0M626 258h0M580.4 265.6h0M636.5 265.6h0M564.7 269.4h0M562.9 273.2h0M633 273.2h0M571.7 277h0M592.7 284.5h0"/>
<path id="e18" d="M629.5 84.1h0M633 84.1h0M594.5 91.7h0M598 91.7h0M619 91.7h0M636.5 91.7h0M647.1 91.7h0M606.7 95.4h0M641.8 95.4h0M587.5 99.2h0M619 99.2h0M643.5 99.2h0M596.2 103h0M648.8 103h0M643.5 106.8h0M589.2 110.6h0M613.7 110.6h0M617.3 110.6h0M624.3 110.6h0M655.8 110.6h0M580.4 114.4h0M584 114.4h0M587.5 114.4h0M582.2 118.1h0M596.2 118.1h0M606.7 118.1h0M634.8 118.1h0M573.4 121.9h0M587.5 121.9h0M626 121.9h0M675.1 121.9h0M613.7 125.7h0M566.4 129.5h0M569.9 129.5h0M612 129.5h0M629.5 129.5h0M650.6 129.5h0M654.1 129.5h0M657.6 129.5h0M571.7 133.3h0M673.3 133.3h0M732.9 133.3h0M601.5 137h0M661.1 137h0M564.7 140.8h0M599.7 140.8h0M624.3 140.8h0M648.8 140.8h0M666.3 140.8h0M715.4 140.8h0M729.4 140.8h0M591 144.6h0M612 144.6h0M668.1 144.6h0M599.7 148.4h0M591 152.2h0M633 152.2h0M720.7 152.2h0M557.7 155.9h0M592.7 155.9h0M596.2 155.9h0M648.8 155.9h0M669.8 155.9h0M711.9 155.9h0M722.4 155.9h0M594.5 159.7h0M668.1 159.7h0M710.1 159.7h0M759.2 159.7h0M575.2 163.5h0M585.7 163.5h0M599.7 163.5h0M606.7 163.5h0M613.7 163.5h0M669.8 163.5h0M715.4 163.5h0M717.2 167.3h0M561.2 171.1h0M582.2 171.1h0M627.8 171.1h0M631.3 171.1h0M638.3 171.1h0M729.4 171.1h0M559.4 174.9h0M566.4 174.9h0M617.3 178.6h0M633 182.4h0M557.7 186.2h0M589.2 186.2h0M592.7 186.2h0M631.3 186.2h0M732.9 186.2h0M555.9 190h0M615.5 190h0M668.1 190h0M571.7 193.8h0M669.8 193.8h0M680.4 193.8h0M683.9 193.8h0M555.9 197.5h0M587.5 197.5h0M554.2 201.3h0M557.7 201.3h0M571.7 201.3h0M634.8 201.3h0M687.4 201.3h0M629.5 205.1h0M661.1 205.1h0M699.6 205.1h0M592.7 208.9h0M603.2 208.9h0M673.3 208.9h0M680.4 208.9h0M559.4 212.7h0M554.2 216.4h0M557.7 216.4h0M561.2 216.4h0M568.2 216.4h0M666.3 216.4h0M548.9 220.2h0M555.9 220.2h0M573.4 220.2h0M576.9 220.2h0M661.1 220.2h0M659.3 224h0M559.4 227.8h0M576.9 227.8h0M622.5 227.8h0M578.7 231.6h0M638.3 231.6h0M562.9 235.4h0M566.4 235.4h0M661.1 235.4h0M568.2 239.1h0M571.7 239.1h0M580.4 242.9h0M685.6 242.9h0M620.8 246.7h0M582.2 254.3h0M598 258h0M575.2 261.8h0M582.2 261.8h0M641.8 269.4h0M585.7 277h0M580.4 280.7h0M603.2 284.5h0M606.7 284.5h0M634.8 284.5h0M659.3 299.6h0"/>
<path id="e19" d="M640 91.7h0M638.3 95.4h0M661.1 99.2h0M592.7 103h0M613.7 103h0M631.3 103h0M626 106.8h0M633 106.8h0M640 106.8h0M575.2 110.6h0M585.7 110.6h0M599.7 110.6h0M603.2 110.6h0M641.8 110.6h0M662.8 110.6h0M608.5 114.4h0M615.5 114.4h0M661.1 114.4h0M675.1 114.4h0M610.2 118.1h0M620.8 118.1h0M624.3 118.1h0M648.8 118.1h0M655.8 118.1h0M619 121.9h0M640 121.9h0M643.5 121.9h0M647.1 121.9h0M661.1 121.9h0M592.7 125.7h0M599.7 125.7h0M603.2 125.7h0M624.3 125.7h0M627.8 125.7h0M638.3 125.7h0M659.3 125.7h0M573.4 129.5h0M580.4 129.5h0M601.5 129.5h0M640 129.5h0M664.6 129.5h0M671.6 129.5h0M727.7 129.5h0M610.2 133.3h0M613.7 133.3h0M624.3 133.3h0M722.4 133.3h0M562.9 137h0M569.9 137h0M573.4 137h0M591 137h0M615.5 137h0M636.5 137h0M650.6 137h0M675.1 137h0M724.2 137h0M734.7 137h0M741.7 137h0M748.7 137h0M561.2 140.8h0M571.7 140.8h0M652.3 140.8h0M655.8 140.8h0M662.8 140.8h0M673.3 140.8h0M711.9 140.8h0M569.9 144.6h0M580.4 144.6h0M584 144.6h0M622.5 144.6h0M650.6 144.6h0M657.6 144.6h0M661.1 144.6h0M713.7 144.6h0M720.7 144.6h0M727.7 144.6h0M741.7 144.6h0M561.2 148.4h0M575.2 148.4h0M585.7 148.4h0M610.2 148.4h0M645.3 148.4h0M562.9 152.2h0M566.4 152.2h0M580.4 152.2h0M584 152.2h0M605 152.2h0M619 152.2h0M636.5 152.2h0M640 152.2h0M657.6 152.2h0M664.6 152.2h0M668.1 152.2h0M671.6 152.2h0M682.1 152.2h0M731.2 152.2h0M748.7 152.2h0M582.2 155.9h0M606.7 155.9h0M610.2 155.9h0M676.8 155.9h0M569.9 159.7h0M584 159.7h0M587.5 159.7h0M612 159.7h0M626 159.7h0M633 159.7h0M640 159.7h0M661.1 159.7h0M724.2 159.7h0M554.2 163.5h0M592.7 163.5h0M620.8 163.5h0M552.4 167.3h0M580.4 167.3h0M591 167.3h0M598 167.3h0M601.5 167.3h0M612 167.3h0M615.5 167.3h0M650.6 167.3h0M664.6 167.3h0M554.2 171.1h0M585.7 171.1h0M613.7 171.1h0M634.8 171.1h0M562.9 174.9h0M576.9 174.9h0M608.5 174.9h0M615.5 174.9h0M626 174.9h0M654.1 174.9h0M703.1 174.9h0M706.6 174.9h0M596.2 178.6h0M610.2 178.6h0M624.3 178.6h0M648.8 178.6h0M697.9 178.6h0M701.4 178.6h0M725.9 178.6h0M598 182.4h0M640 182.4h0M643.5 182.4h0M571.7 186.2h0M634.8 186.2h0M645.3 186.2h0M548.9 190h0M559.4 190h0M576.9 190h0M591 190h0M612 190h0M657.6 190h0M682.1 190h0M710.1 190h0M550.7 193.8h0M613.7 193.8h0M634.8 193.8h0M666.3 193.8h0M690.9 193.8h0M722.4 193.8h0M559.4 197.5h0M591 197.5h0M612 197.5h0M619 197.5h0M629.5 197.5h0M640 197.5h0M564.7 201.3h0M575.2 201.3h0M589.2 201.3h0M592.7 201.3h0M603.2 201.3h0M617.3 201.3h0M641.8 201.3h0M652.3 201.3h0M662.8 201.3h0M555.9 205.1h0M573.4 205.1h0M650.6 205.1h0M554.2 208.9h0M557.7 208.9h0M627.8 208.9h0M694.4 208.9h0M548.9 212.7h0M584 212.7h0M601.5 212.7h0M629.5 212.7h0M596.2 216.4h0M627.8 216.4h0M622.5 220.2h0M557.7 224h0M571.7 224h0M578.7 224h0M638.3 224h0M562.9 227.8h0M566.4 227.8h0M643.5 227.8h0M661.1 227.8h0M568.2 231.6h0M571.7 231.6h0M629.5 235.4h0M557.7 239.1h0M576.9 250.5h0M626 250.5h0M568.2 254.3h0M617.3 261.8h0M620.8 261.8h0M559.4 265.6h0M571.7 269.4h0M582.2 269.4h0M569.9 273.2h0M582.2 277h0M638.3 277h0M643.5 280.7h0M631.3 284.5h0M634.8 292.1h0"/>
<path id="e110" d="M612 84.1h0M599.7 87.9h0M617.3 87.9h0M620.8 87.9h0M627.8 87.9h0M634.8 87.9h0M608.5 91.7h0M615.5 91.7h0M585.7 95.4h0M589.2 95.4h0M617.3 95.4h0M631.3 95.4h0M615.5 99.2h0M622.5 99.2h0M633 99.2h0M640 99.2h0M606.7 103h0M624.3 103h0M634.8 103h0M594.5 106.8h0M598 106.8h0M601.5 106.8h0M615.5 106.8h0M622.5 106.8h0M629.5 106.8h0M636.5 106.8h0M657.6 106.8h0M661.1 106.8h0M582.2 110.6h0M606.7 110.6h0M610.2 110.6h0M620.8 110.6h0M638.3 110.6h0M645.3 110.6h0M594.5 114.4h0M619 114.4h0M629.5 114.4h0M647.1 114.4h0M664.6 114.4h0M575.2 118.1h0M578.7 118.1h0M592.7 118.1h0M603.2 118.1h0M645.3 118.1h0M662.8 118.1h0M666.3 118.1h0M673.3 118.1h0M580.4 121.9h0M598 121.9h0M601.5 121.9h0M622.5 121.9h0M636.5 121.9h0M713.7 121.9h0M568.2 125.7h0M571.7 125.7h0M652.3 125.7h0M666.3 125.7h0M619 129.5h0M633 129.5h0M643.5 129.5h0M620.8 133.3h0M631.3 133.3h0M641.8 133.3h0M645.3 133.3h0M715.4 133.3h0M619 137h0M626 137h0M657.6 137h0M717.2 137h0M575.2 140.8h0M641.8 140.8h0M659.3 140.8h0M669.8 140.8h0M750.5 140.8h0M598 144.6h0M601.5 144.6h0M626 144.6h0M647.1 144.6h0M734.7 144.6h0M568.2 148.4h0M582.2 148.4h0M662.8 148.4h0M676.8 148.4h0M680.4 148.4h0M725.9 148.4h0M559.4 152.2h0M598 152.2h0M643.5 152.2h0M745.2 152.2h0M631.3 155.9h0M680.4 155.9h0M552.4 159.7h0M566.4 159.7h0M576.9 159.7h0M647.1 159.7h0M650.6 159.7h0M657.6 159.7h0M741.7 159.7h0M596.2 163.5h0M627.8 163.5h0M648.8 163.5h0M662.8 163.5h0M666.3 163.5h0M747 163.5h0M750.5 163.5h0M633 167.3h0M661.1 167.3h0M710.1 167.3h0M731.2 167.3h0M766.2 167.3h0M550.7 171.1h0M575.2 171.1h0M596.2 171.1h0M603.2 171.1h0M606.7 171.1h0M610.2 171.1h0M673.3 171.1h0M548.9 174.9h0M573.4 174.9h0M605 174.9h0M612 174.9h0M710.1 174.9h0M578.7 178.6h0M613.7 178.6h0M627.8 178.6h0M631.3 178.6h0M548.9 182.4h0M591 182.4h0M622.5 182.4h0M689.1 182.4h0M699.6 182.4h0M731.2 182.4h0M550.7 186.2h0M575.2 186.2h0M582.2 186.2h0M606.7 186.2h0M624.3 186.2h0M638.3 186.2h0M666.3 186.2h0M694.4 186.2h0M708.4 186.2h0M566.4 190h0M587.5 190h0M629.5 190h0M564.7 193.8h0M589.2 193.8h0M596.2 193.8h0M641.8 193.8h0M655.8 193.8h0M662.8 193.8h0M676.8 193.8h0M562.9 197.5h0M576.9 197.5h0M594.5 197.5h0M601.5 197.5h0M605 197.5h0M657.6 197.5h0M550.7 201.3h0M585.7 201.3h0M596.2 201.3h0M599.7 201.3h0M610.2 201.3h0M648.8 201.3h0M666.3 201.3h0M669.8 201.3h0M552.4 205.1h0M566.4 205.1h0M594.5 205.1h0M598 205.1h0M636.5 205.1h0M647.1 205.1h0M561.2 208.9h0M568.2 208.9h0M571.7 208.9h0M589.2 208.9h0M596.2 208.9h0M624.3 208.9h0M645.3 208.9h0M750.5 208.9h0M555.9 212.7h0M587.5 212.7h0M636.5 212.7h0M647.1 212.7h0M696.1 212.7h0M673.3 216.4h0M559.4 220.2h0M566.4 220.2h0M640 220.2h0M643.5 220.2h0M654.1 220.2h0M710.1 220.2h0M554.2 224h0M564.7 224h0M582.2 224h0M589.2 224h0M652.3 224h0M690.9 224h0M555.9 227.8h0M591 227.8h0M647.1 227.8h0M650.6 227.8h0M557.7 231.6h0M564.7 231.6h0M627.8 231.6h0M559.4 235.4h0M654.1 235.4h0M668.1 235.4h0M578.7 239.1h0M582.2 239.1h0M620.8 239.1h0M631.3 239.1h0M641.8 239.1h0M645.3 239.1h0M659.3 239.1h0M697.9 239.1h0M576.9 242.9h0M638.3 246.7h0M633 250.5h0M613.7 254.3h0M624.3 254.3h0M636.5 258h0M634.8 261.8h0M566.4 265.6h0M576.9 265.6h0M612 265.6h0M568.2 269.4h0M610.2 269.4h0M613.7 277h0M569.9 280.7h0M576.9 280.7h0M584 280.7h0M629.5 280.7h0M598 288.3h0M601.5 288.3h0M608.5 288.3h0M633 288.3h0M650.6 303.4h0M654.1 303.4h0"/>
<path id="e111" d="M601.5 84.1h0M608.5 84.1h0M615.5 84.1h0M585.7 87.9h0M606.7 87.9h0M612 91.7h0M626 91.7h0M610.2 95.4h0M620.8 95.4h0M624.3 95.4h0M601.5 99.2h0M629.5 99.2h0M647.1 99.2h0M657.6 99.2h0M617.3 103h0M662.8 103h0M591 106.8h0M647.1 106.8h0M650.6 106.8h0M592.7 110.6h0M631.3 110.6h0M659.3 110.6h0M669.8 110.6h0M640 114.4h0M643.5 114.4h0M657.6 114.4h0M627.8 118.1h0M631.3 118.1h0M652.3 118.1h0M669.8 118.1h0M676.8 118.1h0M576.9 121.9h0M650.6 121.9h0M654.1 121.9h0M657.6 121.9h0M564.7 125.7h0M575.2 125.7h0M578.7 125.7h0M587.5 129.5h0M591 129.5h0M692.6 129.5h0M724.2 129.5h0M734.7 129.5h0M564.7 133.3h0M568.2 133.3h0M575.2 133.3h0M596.2 133.3h0M606.7 133.3h0M634.8 133.3h0M648.8 133.3h0M594.5 137h0M598 137h0M612 137h0M622.5 137h0M647.1 137h0M668.1 137h0M585.7 140.8h0M592.7 140.8h0M603.2 140.8h0M631.3 140.8h0M645.3 140.8h0M736.4 140.8h0M573.4 144.6h0M576.9 144.6h0M587.5 144.6h0M633 144.6h0M717.2 144.6h0M589.2 148.4h0M606.7 148.4h0M617.3 148.4h0M620.8 148.4h0M624.3 148.4h0M631.3 148.4h0M634.8 148.4h0M638.3 148.4h0M641.8 148.4h0M652.3 148.4h0M669.8 148.4h0M711.9 148.4h0M715.4 148.4h0M718.9 148.4h0M569.9 152.2h0M576.9 152.2h0M608.5 152.2h0M612 152.2h0M629.5 152.2h0M661.1 152.2h0M724.2 152.2h0M561.2 155.9h0M571.7 155.9h0M585.7 155.9h0M659.3 155.9h0M666.3 155.9h0M718.9 155.9h0M725.9 155.9h0M757.5 155.9h0M608.5 159.7h0M622.5 159.7h0M738.2 159.7h0M745.2 159.7h0M578.7 163.5h0M610.2 163.5h0M631.3 163.5h0M645.3 163.5h0M729.4 163.5h0M761 163.5h0M768 163.5h0M548.9 167.3h0M584 167.3h0M619 167.3h0M636.5 167.3h0M640 167.3h0M654.1 167.3h0M668.1 167.3h0M706.6 167.3h0M724.2 167.3h0M727.7 167.3h0M557.7 171.1h0M589.2 171.1h0M592.7 171.1h0M620.8 171.1h0M715.4 171.1h0M722.4 171.1h0M587.5 174.9h0M622.5 174.9h0M640 174.9h0M727.7 174.9h0M745.2 174.9h0M550.7 178.6h0M571.7 178.6h0M585.7 178.6h0M599.7 178.6h0M620.8 178.6h0M638.3 178.6h0M662.8 178.6h0M708.4 178.6h0M736.4 178.6h0M743.5 178.6h0M584 182.4h0M608.5 182.4h0M619 182.4h0M636.5 182.4h0M696.1 182.4h0M727.7 182.4h0M762.7 182.4h0M554.2 186.2h0M610.2 186.2h0M725.9 186.2h0M747 186.2h0M750.5 186.2h0M761 186.2h0M562.9 190h0M569.9 190h0M594.5 190h0M622.5 190h0M689.1 190h0M692.6 190h0M696.1 190h0M703.1 190h0M717.2 190h0M557.7 193.8h0M568.2 193.8h0M578.7 193.8h0M599.7 193.8h0M610.2 193.8h0M617.3 193.8h0M627.8 193.8h0M687.4 193.8h0M718.9 193.8h0M736.4 193.8h0M573.4 197.5h0M608.5 197.5h0M622.5 197.5h0M636.5 197.5h0M654.1 197.5h0M664.6 197.5h0M668.1 197.5h0M675.1 197.5h0M710.1 197.5h0M727.7 197.5h0M568.2 201.3h0M645.3 201.3h0M680.4 201.3h0M690.9 201.3h0M697.9 201.3h0M701.4 201.3h0M704.9 201.3h0M587.5 205.1h0M605 205.1h0M643.5 205.1h0M657.6 205.1h0M664.6 205.1h0M678.6 205.1h0M685.6 205.1h0M692.6 205.1h0M731.2 205.1h0M606.7 208.9h0M631.3 208.9h0M662.8 208.9h0M666.3 208.9h0M683.9 208.9h0M701.4 208.9h0M708.4 208.9h0M725.9 208.9h0M739.9 208.9h0M573.4 212.7h0M580.4 212.7h0M668.1 212.7h0M678.6 212.7h0M724.2 212.7h0M550.7 216.4h0M578.7 216.4h0M631.3 216.4h0M634.8 216.4h0M662.8 216.4h0M669.8 216.4h0M676.8 216.4h0M552.4 220.2h0M647.1 220.2h0M689.1 220.2h0M741.7 220.2h0M561.2 224h0M648.8 224h0M680.4 224h0M704.9 224h0M569.9 227.8h0M587.5 227.8h0M633 227.8h0M636.5 227.8h0M554.2 231.6h0M582.2 231.6h0M631.3 231.6h0M655.8 231.6h0M680.4 231.6h0M687.4 231.6h0M711.9 231.6h0M715.4 231.6h0M732.9 231.6h0M584 235.4h0M626 235.4h0M633 235.4h0M636.5 235.4h0M643.5 235.4h0M647.1 235.4h0M664.6 235.4h0M682.1 235.4h0M692.6 235.4h0M696.1 235.4h0M706.6 235.4h0M617.3 239.1h0M676.8 239.1h0M708.4 239.1h0M569.9 242.9h0M573.4 242.9h0M612 242.9h0M615.5 242.9h0M661.1 242.9h0M682.1 242.9h0M706.6 242.9h0M568.2 246.7h0M578.7 246.7h0M627.8 246.7h0M631.3 246.7h0M666.3 246.7h0M683.9 246.7h0M559.4 250.5h0M562.9 250.5h0M636.5 250.5h0M643.5 250.5h0M664.6 250.5h0M671.6 250.5h0M678.6 250.5h0M685.6 250.5h0M557.7 254.3h0M575.2 254.3h0M627.8 254.3h0M648.8 254.3h0M680.4 254.3h0M559.4 258h0M569.9 258h0M657.6 258h0M664.6 258h0M568.2 261.8h0M631.3 261.8h0M584 265.6h0M657.6 265.6h0M661.1 265.6h0M671.6 265.6h0M617.3 269.4h0M620.8 269.4h0M645.3 269.4h0M648.8 269.4h0M576.9 273.2h0M612 273.2h0M629.5 273.2h0M643.5 273.2h0M664.6 273.2h0M634.8 277h0M641.8 277h0M659.3 277h0M591 280.7h0M615.5 280.7h0M661.1 280.7h0M617.3 284.5h0M640 295.9h0M648.8 299.6h0"/>
<path id="e113" d="M592.7 87.9h0M596.2 87.9h0M603.2 87.9h0M645.3 87.9h0M643.5 91.7h0M591 99.2h0M585.7 103h0M638.3 103h0M587.5 106.8h0M578.7 110.6h0M648.8 110.6h0M666.3 110.6h0M626 114.4h0M671.6 114.4h0M629.5 121.9h0M631.3 125.7h0M673.3 125.7h0M715.4 125.7h0M584 129.5h0M605 129.5h0M636.5 129.5h0M647.1 129.5h0M661.1 129.5h0M720.7 129.5h0M617.3 133.3h0M627.8 133.3h0M638.3 133.3h0M662.8 133.3h0M743.5 133.3h0M566.4 137h0M576.9 137h0M727.7 137h0M582.2 140.8h0M718.9 140.8h0M722.4 140.8h0M743.5 140.8h0M559.4 144.6h0M562.9 144.6h0M566.4 144.6h0M605 144.6h0M619 144.6h0M636.5 144.6h0M564.7 148.4h0M578.7 148.4h0M673.3 148.4h0M739.9 148.4h0M743.5 148.4h0M594.5 152.2h0M647.1 152.2h0M713.7 152.2h0M727.7 152.2h0M755.7 152.2h0M554.2 155.9h0M589.2 155.9h0M617.3 155.9h0M641.8 155.9h0M645.3 155.9h0M732.9 155.9h0M736.4 155.9h0M747 155.9h0M750.5 155.9h0M559.4 159.7h0M605 159.7h0M664.6 159.7h0M564.7 163.5h0M568.2 163.5h0M603.2 163.5h0M624.3 163.5h0M638.3 163.5h0M708.4 163.5h0M718.9 163.5h0M725.9 163.5h0M739.9 163.5h0M757.5 163.5h0M566.4 167.3h0M594.5 167.3h0M608.5 167.3h0M622.5 167.3h0M629.5 167.3h0M734.7 167.3h0M752.2 167.3h0M648.8 171.1h0M708.4 171.1h0M739.9 171.1h0M750.5 171.1h0M552.4 174.9h0M569.9 174.9h0M619 174.9h0M699.6 174.9h0M713.7 174.9h0M731.2 174.9h0M752.2 174.9h0M568.2 178.6h0M589.2 178.6h0M645.3 178.6h0M711.9 178.6h0M715.4 178.6h0M729.4 178.6h0M682.1 182.4h0M703.1 182.4h0M585.7 186.2h0M613.7 186.2h0M690.9 186.2h0M711.9 186.2h0M722.4 186.2h0M757.5 186.2h0M573.4 190h0M636.5 190h0M713.7 190h0M724.2 190h0M741.7 190h0M745.2 190h0M748.7 190h0M585.7 193.8h0M729.4 193.8h0M732.9 193.8h0M750.5 193.8h0M757.5 193.8h0M548.9 197.5h0M569.9 197.5h0M615.5 197.5h0M689.1 197.5h0M692.6 197.5h0M696.1 197.5h0M699.6 197.5h0M717.2 197.5h0M720.7 197.5h0M738.2 197.5h0M561.2 201.3h0M613.7 201.3h0M620.8 201.3h0M655.8 201.3h0M673.3 201.3h0M694.4 201.3h0M708.4 201.3h0M718.9 201.3h0M732.9 201.3h0M747 201.3h0M750.5 201.3h0M548.9 205.1h0M562.9 205.1h0M601.5 205.1h0M640 205.1h0M654.1 205.1h0M671.6 205.1h0M706.6 205.1h0M713.7 205.1h0M724.2 205.1h0M741.7 205.1h0M745.2 205.1h0M752.2 205.1h0M599.7 208.9h0M634.8 208.9h0M687.4 208.9h0M690.9 208.9h0M722.4 208.9h0M552.4 212.7h0M562.9 212.7h0M569.9 212.7h0M675.1 212.7h0M682.1 212.7h0M692.6 212.7h0M706.6 212.7h0M727.7 212.7h0M741.7 212.7h0M745.2 212.7h0M748.7 212.7h0M585.7 216.4h0M641.8 216.4h0M680.4 216.4h0M687.4 216.4h0M690.9 216.4h0M694.4 216.4h0M736.4 216.4h0M569.9 220.2h0M678.6 220.2h0M703.1 220.2h0M727.7 220.2h0M550.7 224h0M683.9 224h0M701.4 224h0M708.4 224h0M711.9 224h0M736.4 224h0M739.9 224h0M654.1 227.8h0M664.6 227.8h0M678.6 227.8h0M689.1 227.8h0M699.6 227.8h0M703.1 227.8h0M706.6 227.8h0M710.1 227.8h0M713.7 227.8h0M738.2 227.8h0M659.3 231.6h0M669.8 231.6h0M694.4 231.6h0M704.9 231.6h0M722.4 231.6h0M725.9 231.6h0M729.4 231.6h0M657.6 235.4h0M671.6 235.4h0M675.1 235.4h0M678.6 235.4h0M685.6 235.4h0M689.1 235.4h0M703.1 235.4h0M713.7 235.4h0M727.7 235.4h0M561.2 239.1h0M575.2 239.1h0M610.2 239.1h0M655.8 239.1h0M669.8 239.1h0M680.4 239.1h0M562.9 242.9h0M640 242.9h0M657.6 242.9h0M664.6 242.9h0M668.1 242.9h0M689.1 242.9h0M696.1 242.9h0M699.6 242.9h0M703.1 242.9h0M710.1 242.9h0M713.7 242.9h0M720.7 242.9h0M610.2 246.7h0M634.8 246.7h0M648.8 246.7h0M655.8 246.7h0M669.8 246.7h0M676.8 246.7h0M680.4 246.7h0M694.4 246.7h0M701.4 246.7h0M704.9 246.7h0M573.4 250.5h0M612 250.5h0M629.5 250.5h0M647.1 250.5h0M654.1 250.5h0M657.6 250.5h0M682.1 250.5h0M696.1 250.5h0M561.2 254.3h0M673.3 254.3h0M687.4 254.3h0M694.4 254.3h0M704.9 254.3h0M555.9 258h0M633 258h0M661.1 258h0M692.6 258h0M578.7 261.8h0M585.7 261.8h0M673.3 261.8h0M683.9 261.8h0M619 265.6h0M640 265.6h0M647.1 265.6h0M561.2 269.4h0M575.2 269.4h0M589.2 269.4h0M662.8 269.4h0M669.8 269.4h0M584 273.2h0M619 273.2h0M622.5 273.2h0M640 273.2h0M650.6 273.2h0M654.1 273.2h0M671.6 273.2h0M645.3 277h0M648.8 277h0M612 280.7h0M619 280.7h0M622.5 280.7h0M626 280.7h0M636.5 280.7h0M647.1 280.7h0M657.6 280.7h0M596.2 284.5h0M627.8 284.5h0M626 288.3h0M636.5 288.3h0M640 288.3h0M652.3 292.1h0M654.1 295.9h0M661.1 295.9h0M641.8 299.6h0"/>
<path id="e114" d="M584 91.7h0M587.5 91.7h0M613.7 95.4h0M608.5 99.2h0M645.3 103h0M652.3 103h0M659.3 103h0M584 106.8h0M627.8 110.6h0M659.3 118.1h0M584 121.9h0M717.2 121.9h0M596.2 125.7h0M599.7 133.3h0M652.3 133.3h0M659.3 133.3h0M584 137h0M613.7 140.8h0M627.8 140.8h0M638.3 140.8h0M725.9 140.8h0M747 140.8h0M671.6 144.6h0M738.2 144.6h0M745.2 144.6h0M666.3 148.4h0M622.5 152.2h0M675.1 152.2h0M738.2 152.2h0M752.2 152.2h0M624.3 155.9h0M638.3 155.9h0M662.8 155.9h0M673.3 155.9h0M708.4 155.9h0M619 159.7h0M550.7 163.5h0M652.3 163.5h0M573.4 167.3h0M647.1 167.3h0M713.7 167.3h0M745.2 167.3h0M759.2 167.3h0M571.7 171.1h0M578.7 171.1h0M599.7 171.1h0M725.9 171.1h0M734.7 174.9h0M741.7 174.9h0M582.2 178.6h0M694.4 178.6h0M754 178.6h0M566.4 182.4h0M569.9 182.4h0M573.4 182.4h0M626 182.4h0M706.6 182.4h0M724.2 182.4h0M738.2 182.4h0M759.2 182.4h0M561.2 186.2h0M701.4 186.2h0M715.4 186.2h0M754 186.2h0M584 190h0M633 190h0M664.6 190h0M731.2 190h0M752.2 190h0M620.8 193.8h0M638.3 193.8h0M704.9 193.8h0M743.5 193.8h0M552.4 197.5h0M626 197.5h0M633 197.5h0M724.2 197.5h0M659.3 201.3h0M715.4 201.3h0M725.9 201.3h0M736.4 201.3h0M710.1 205.1h0M727.7 205.1h0M734.7 205.1h0M638.3 208.9h0M648.8 208.9h0M655.8 208.9h0M743.5 208.9h0M576.9 212.7h0M661.1 212.7h0M713.7 212.7h0M717.2 212.7h0M731.2 212.7h0M645.3 216.4h0M715.4 216.4h0M732.9 216.4h0M626 220.2h0M692.6 220.2h0M585.7 224h0M592.7 224h0M641.8 224h0M673.3 224h0M676.8 224h0M697.9 224h0M718.9 224h0M584 227.8h0M640 227.8h0M657.6 227.8h0M675.1 227.8h0M682.1 227.8h0M696.1 227.8h0M720.7 227.8h0M575.2 231.6h0M634.8 231.6h0M555.9 235.4h0M573.4 235.4h0M613.7 239.1h0M652.3 239.1h0M662.8 239.1h0M690.9 239.1h0M725.9 239.1h0M619 242.9h0M643.5 242.9h0M654.1 242.9h0M671.6 242.9h0M678.6 242.9h0M564.7 246.7h0M613.7 246.7h0M652.3 246.7h0M619 250.5h0M650.6 250.5h0M668.1 250.5h0M706.6 250.5h0M710.1 250.5h0M610.2 254.3h0M617.3 254.3h0M620.8 254.3h0M655.8 254.3h0M659.3 254.3h0M683.9 254.3h0M580.4 258h0M612 258h0M629.5 258h0M675.1 258h0M557.7 261.8h0M561.2 261.8h0M571.7 261.8h0M638.3 261.8h0M641.8 261.8h0M648.8 261.8h0M662.8 261.8h0M654.1 265.6h0M585.7 269.4h0M634.8 269.4h0M638.3 269.4h0M652.3 269.4h0M673.3 269.4h0M680.4 269.4h0M566.4 273.2h0M661.1 273.2h0M578.7 277h0M627.8 277h0M666.3 277h0M673.3 277h0M587.5 280.7h0M664.6 280.7h0M645.3 284.5h0M648.8 284.5h0M615.5 288.3h0M629.5 288.3h0M647.1 288.3h0M645.3 292.1h0M648.8 292.1h0M647.1 295.9h0M645.3 299.6h0M655.8 299.6h0"/>
<path id="e115" d="M610.2 87.9h0M622.5 91.7h0M592.7 95.4h0M599.7 103h0M591 114.4h0M747 133.3h0M664.6 137h0M671.6 137h0M606.7 140.8h0M620.8 140.8h0M634.8 140.8h0M608.5 144.6h0M640 144.6h0M596.2 148.4h0M747 148.4h0M750.5 148.4h0M754 148.4h0M650.6 152.2h0M710.1 152.2h0M734.7 152.2h0M741.7 152.2h0M599.7 155.9h0M743.5 155.9h0M754 155.9h0M761 155.9h0M766.2 159.7h0M743.5 163.5h0M576.9 167.3h0M605 167.3h0M643.5 167.3h0M738.2 167.3h0M748.7 167.3h0M617.3 171.1h0M655.8 171.1h0M555.9 174.9h0M594.5 174.9h0M717.2 174.9h0M720.7 174.9h0M759.2 174.9h0M766.2 174.9h0M732.9 178.6h0M764.5 178.6h0M552.4 182.4h0M587.5 182.4h0M601.5 182.4h0M720.7 182.4h0M755.7 182.4h0M718.9 186.2h0M678.6 190h0M685.6 190h0M759.2 190h0M711.9 193.8h0M725.9 193.8h0M739.9 193.8h0M747 193.8h0M706.6 197.5h0M731.2 197.5h0M741.7 197.5h0M755.7 197.5h0M578.7 201.3h0M711.9 201.3h0M703.1 205.1h0M575.2 208.9h0M582.2 208.9h0M697.9 208.9h0M711.9 208.9h0M736.4 208.9h0M671.6 212.7h0M624.3 216.4h0M648.8 216.4h0M704.9 216.4h0M708.4 216.4h0M718.9 216.4h0M739.9 216.4h0M587.5 220.2h0M650.6 220.2h0M675.1 220.2h0M662.8 224h0M694.4 224h0M715.4 224h0M624.3 231.6h0M718.9 231.6h0M619 235.4h0M699.6 235.4h0M634.8 239.1h0M704.9 239.1h0M711.9 239.1h0M575.2 246.7h0M708.4 246.7h0M675.1 250.5h0M578.7 254.3h0M638.3 254.3h0M645.3 254.3h0M652.3 254.3h0M615.5 258h0M619 258h0M640 258h0M643.5 258h0M671.6 258h0M682.1 258h0M696.1 258h0M564.7 261.8h0M655.8 261.8h0M669.8 261.8h0M615.5 265.6h0M626 265.6h0M633 265.6h0M643.5 265.6h0M624.3 269.4h0M631.3 269.4h0M676.8 269.4h0M573.4 273.2h0M615.5 273.2h0M620.8 277h0M655.8 277h0M662.8 277h0M669.8 277h0M610.2 284.5h0M619 288.3h0M643.5 288.3h0M650.6 288.3h0M631.3 292.1h0M659.3 292.1h0M638.3 299.6h0"/>
<path id="e116" d="M596.2 95.4h0M603.2 95.4h0M654.1 99.2h0M655.8 103h0M662.8 125.7h0M580.4 137h0M731.2 137h0M596.2 140.8h0M617.3 140.8h0M643.5 144.6h0M603.2 155.9h0M739.9 155.9h0M755.7 159.7h0M762.7 159.7h0M754 163.5h0M747 171.1h0M764.5 171.1h0M724.2 174.9h0M738.2 174.9h0M762.7 174.9h0M557.7 178.6h0M561.2 178.6h0M603.2 178.6h0M739.9 178.6h0M747 178.6h0M713.7 182.4h0M717.2 182.4h0M752.2 182.4h0M687.4 186.2h0M704.9 186.2h0M729.4 186.2h0M739.9 186.2h0M743.5 186.2h0M720.7 190h0M738.2 190h0M561.2 193.8h0M745.2 197.5h0M675.1 205.1h0M682.1 205.1h0M715.4 208.9h0M566.4 212.7h0M685.6 212.7h0M703.1 212.7h0M710.1 212.7h0M701.4 216.4h0M668.1 220.2h0M699.6 220.2h0M731.2 220.2h0M738.2 220.2h0M634.8 224h0M692.6 227.8h0M676.8 231.6h0M640 235.4h0M638.3 239.1h0M673.3 239.1h0M718.9 239.1h0M622.5 242.9h0M675.1 242.9h0M724.2 242.9h0M617.3 246.7h0M645.3 246.7h0M687.4 246.7h0M699.6 250.5h0M703.1 250.5h0M641.8 254.3h0M662.8 254.3h0M669.8 254.3h0M676.8 254.3h0M697.9 254.3h0M701.4 254.3h0M654.1 258h0M685.6 258h0M689.1 258h0M666.3 261.8h0M650.6 265.6h0M578.7 269.4h0M613.7 269.4h0M587.5 273.2h0M591 273.2h0M668.1 273.2h0M575.2 277h0M589.2 277h0M624.3 277h0M605 288.3h0M612 288.3h0M638.3 292.1h0M643.5 295.9h0M650.6 295.9h0M652.3 299.6h0"/>
<path id="e117" d="M598 99.2h0M605 106.8h0M620.8 125.7h0M605 137h0M745.2 137h0M748.7 144.6h0M736.4 148.4h0M748.7 159.7h0M764.5 163.5h0M761 171.1h0M755.7 174.9h0M722.4 178.6h0M741.7 182.4h0M745.2 182.4h0M734.7 190h0M755.7 190h0M694.4 193.8h0M754 193.8h0M734.7 197.5h0M729.4 201.3h0M754 201.3h0M720.7 205.1h0M738.2 205.1h0M641.8 208.9h0M699.6 212.7h0M711.9 216.4h0M725.9 216.4h0M729.4 216.4h0M713.7 220.2h0M720.7 220.2h0M724.2 220.2h0M717.2 227.8h0M731.2 227.8h0M652.3 231.6h0M708.4 231.6h0M559.4 242.9h0M690.9 246.7h0M631.3 254.3h0M576.9 258h0M622.5 258h0M668.1 258h0M613.7 261.8h0M676.8 261.8h0M622.5 265.6h0M668.1 265.6h0M675.1 265.6h0M617.3 277h0M652.3 277h0M641.8 284.5h0M641.8 292.1h0M636.5 295.9h0M647.1 303.4h0"/>
<path id="e118" d="M626 152.2h0M629.5 159.7h0M752.2 159.7h0M762.7 167.3h0M757.5 171.1h0M750.5 178.6h0M757.5 178.6h0M734.7 182.4h0M748.7 182.4h0M736.4 186.2h0M598 190h0M706.6 190h0M727.7 190h0M722.4 201.3h0M717.2 205.1h0M720.7 212.7h0M722.4 216.4h0M657.6 220.2h0M629.5 227.8h0M724.2 227.8h0M727.7 227.8h0M710.1 235.4h0M694.4 239.1h0M661.1 250.5h0M689.1 250.5h0M692.6 250.5h0M645.3 261.8h0M659.3 261.8h0M680.4 261.8h0M687.4 261.8h0M664.6 265.6h0M627.8 269.4h0M626 273.2h0M675.1 273.2h0M633 280.7h0M650.6 280.7h0M654.1 280.7h0M613.7 284.5h0M652.3 284.5h0M622.5 288.3h0"/>
</defs>
<use href="#e1" stroke="#bcb5a4" stroke-width="3.88"/>
<use href="#e11" stroke="#bccbd7" stroke-width="3.88"/>
<use href="#e12" stroke="#bdccd7" stroke-width="3.88"/>
<use href="#e13" stroke="#bfcdd8" stroke-width="3.88"/>
<use href="#e14" stroke="#c0cdd8" stroke-width="3.88"/>
<use href="#e15" stroke="#c1cfd8" stroke-width="3.88"/>
<use href="#e16" stroke="#c3d0d8" stroke-width="3.88"/>
<use href="#e17" stroke="#c5d1d6" stroke-width="3.88"/>
<use href="#e18" stroke="#c9d4d4" stroke-width="3.88"/>
<use href="#e19" stroke="#d1d9cd" stroke-width="3.88"/>
<use href="#e110" stroke="#bfbfb3" stroke-width="3.88"/>
<use href="#e111" stroke="#c1bfb0" stroke-width="3.88"/>
<use href="#e113" stroke="#ab9882" stroke-width="3.88"/>
<use href="#e114" stroke="#a68a75" stroke-width="3.88"/>
<use href="#e115" stroke="#9f7968" stroke-width="3.88"/>
<use href="#e116" stroke="#97685b" stroke-width="3.88"/>
<use href="#e117" stroke="#8e554f" stroke-width="3.88"/>
<use href="#e118" stroke="#813e45" stroke-width="3.88"/>
<use href="#e1" stroke="#f5e2b5" stroke-width="2.20"/>
<use href="#e11" stroke="#c6d8e6" stroke-width="2.20"/>
<use href="#e12" stroke="#c7d8e6" stroke-width="2.20"/>
<use href="#e13" stroke="#c9dae6" stroke-width="2.20"/>
<use href="#e14" stroke="#cadae6" stroke-width="2.20"/>
<use href="#e15" stroke="#cbdce6" stroke-width="2.20"/>
<use href="#e16" stroke="#cddde6" stroke-width="2.20"/>
<use href="#e17" stroke="#d0dee4" stroke-width="2.20"/>
<use href="#e18" stroke="#d4e1e1" stroke-width="2.20"/>
<use href="#e19" stroke="#dde7d9" stroke-width="2.20"/>
<use href="#e110" stroke="#eff0cf" stroke-width="2.20"/>
<use href="#e111" stroke="#f6f1c6" stroke-width="2.20"/>
<use href="#e113" stroke="#f3cfa4" stroke-width="2.20"/>
<use href="#e114" stroke="#efba92" stroke-width="2.20"/>
<use href="#e115" stroke="#e9a07f" stroke-width="2.20"/>
<use href="#e116" stroke="#e1866e" stroke-width="2.20"/>
<use href="#e117" stroke="#d7695e" stroke-width="2.20"/>
<use href="#e118" stroke="#c74753" stroke-width="2.20"/>
</g>
<!-- panel e2 -->
<g fill="none" stroke-linecap="round">
<defs>
<path id="e2" d="M605.5 352.1h30.9M590 355.8h58.4M588.3 359.5h61.8M590 363.2h61.8M591.7 366.9h72.1M590 370.6h75.5M588.3 374.3h75.5M579.7 378h96.1M581.4 381.7h96.1M579.7 385.4h99.5M716.9 385.4h0.1M578 389.1h99.5M715.2 389.1h3.5M569.4 392.8h106.4M716.9 392.8h0.1M567.7 396.5h106.4M691.2 396.5h3.5M718.6 396.5h17.2M566 400.2h109.8M692.9 400.2h0.1M713.5 400.2h20.6M744.4 400.2h3.5M567.7 403.9h109.8M715.2 403.9h20.6M742.6 403.9h6.9M566 407.6h109.8M713.5 407.6h37.8M564.3 411.3h109.8M715.2 411.3h37.8M562.6 415h120.1M713.5 415h41.2M560.9 418.7h123.5M711.8 418.7h44.7M559.1 422.4h123.5M710.1 422.4h54.9M557.4 426.1h116.7M711.8 426.1h54.9M555.7 429.8h116.7M710.1 429.8h58.4M554 433.5h116.7M708.4 433.5h58.4M555.7 437.2h103M675.8 437.2h0.1M706.6 437.2h10.4M723.8 437.2h41.2M554 440.9h103M701.5 440.9h65.2M555.7 444.6h96.1M665.5 444.6h0.1M679.2 444.6h0.1M696.3 444.6h68.7M554 448.3h96.1M674 448.3h89.2M555.7 452h92.7M665.5 452h96.1M554 455.7h92.7M660.3 455.7h99.5M555.7 459.4h89.2M658.6 459.4h99.5M554 463.1h89.2M656.9 463.1h99.5M555.7 466.8h127M689.5 466.8h65.2M554 470.5h65.2M629.5 470.5h123.5M555.7 474.2h54.9M627.7 474.2h103M737.5 474.2h13.8M554 477.9h51.5M629.5 477.9h120.1M555.7 481.6h44.7M627.7 481.6h120.1M554 485.3h41.2M626 485.3h116.7M555.7 489h41.2M627.7 489h99.5M734.1 489h6.9M554 492.7h41.2M626 492.7h113.3M559.1 496.4h34.4M624.3 496.4h109.8M560.9 500.1h27.5M619.2 500.1h109.8M562.6 503.8h24.1M614 503.8h113.3M564.3 507.5h20.6M615.7 507.5h109.8M562.6 511.2h20.6M614 511.2h99.5M564.3 514.9h20.6M615.7 514.9h96.1M562.6 518.6h24.1M614 518.6h92.7M560.9 522.3h27.5M602 522.3h0.1M615.7 522.3h82.4M562.6 526h27.5M614 526h75.5M564.3 529.7h27.5M615.7 529.7h68.7M566 533.4h27.5M614 533.4h68.7M567.7 537.1h27.5M615.7 537.1h61.8M572.9 540.8h20.6M617.5 540.8h58.4M574.6 544.5h20.6M615.7 544.5h51.5M596.9 548.2h58.4M602 551.9h54.9M634.6 555.6h27.5M639.8 559.3h24.1M641.5 563h20.6M646.6 566.7h10.4" stroke-dasharray="0 3.430"/>
<path id="e28" d="M632.9 396.5h0M716.9 400.2h0M747.8 400.2h0M744.4 407.6h0M715.2 418.7h0M710.1 422.4h0M723.8 429.8h0M656.9 433.5h0M610.6 437.2h0M716.9 437.2h0M713.5 452h0M670.6 455.7h0M626 463.1h0M677.5 463.1h0M694.6 463.1h0M708.4 463.1h0M665.5 466.8h0M698.1 470.5h0M644.9 474.2h0M651.8 474.2h0M686.1 474.2h0M658.6 481.6h0M699.8 481.6h0M648.3 489h0M651.8 489h0M692.9 489h0M662 496.4h0M646.6 500.1h0M653.5 500.1h0M641.5 503.8h0M665.5 503.8h0M651.8 511.2h0"/>
<path id="e29" d="M608.9 352.1h0M668.9 378h0M677.5 381.7h0M716.9 392.8h0M694.6 396.5h0M718.6 396.5h0M725.5 396.5h0M728.9 396.5h0M732.4 396.5h0M735.8 396.5h0M634.6 400.2h0M692.9 400.2h0M713.5 400.2h0M723.8 400.2h0M727.2 400.2h0M730.6 400.2h0M715.2 403.9h0M718.6 403.9h0M728.9 403.9h0M672.3 407.6h0M716.9 407.6h0M727.2 407.6h0M734.1 407.6h0M737.5 407.6h0M751.2 407.6h0M636.3 411.3h0M643.2 411.3h0M674 411.3h0M715.2 411.3h0M725.5 411.3h0M732.4 411.3h0M735.8 411.3h0M739.2 411.3h0M742.6 411.3h0M746.1 411.3h0M749.5 411.3h0M624.3 415h0M651.8 415h0M713.5 415h0M716.9 415h0M723.8 415h0M730.6 415h0M737.5 415h0M747.8 415h0M636.3 418.7h0M667.2 418.7h0M670.6 418.7h0M711.8 418.7h0M718.6 418.7h0M722.1 418.7h0M752.9 418.7h0M634.6 422.4h0M648.3 422.4h0M668.9 422.4h0M720.4 422.4h0M723.8 422.4h0M727.2 422.4h0M674 426.1h0M711.8 426.1h0M715.2 426.1h0M718.6 426.1h0M722.1 426.1h0M725.5 426.1h0M728.9 426.1h0M634.6 429.8h0M648.3 429.8h0M655.2 429.8h0M710.1 429.8h0M713.5 429.8h0M727.2 429.8h0M737.5 429.8h0M747.8 429.8h0M663.8 433.5h0M667.2 433.5h0M670.6 433.5h0M708.4 433.5h0M711.8 433.5h0M715.2 433.5h0M718.6 433.5h0M722.1 433.5h0M725.5 433.5h0M732.4 433.5h0M739.2 433.5h0M675.8 437.2h0M706.6 437.2h0M710.1 437.2h0M713.5 437.2h0M730.6 437.2h0M740.9 437.2h0M612.3 440.9h0M656.9 440.9h0M701.5 440.9h0M704.9 440.9h0M708.4 440.9h0M718.6 440.9h0M722.1 440.9h0M725.5 440.9h0M728.9 440.9h0M732.4 440.9h0M638 444.6h0M651.8 444.6h0M665.5 444.6h0M679.2 444.6h0M696.3 444.6h0M699.8 444.6h0M703.2 444.6h0M706.6 444.6h0M713.5 444.6h0M720.4 444.6h0M734.1 444.6h0M650 448.3h0M677.5 448.3h0M680.9 448.3h0M684.3 448.3h0M694.6 448.3h0M698.1 448.3h0M701.5 448.3h0M708.4 448.3h0M715.2 448.3h0M718.6 448.3h0M728.9 448.3h0M620.9 452h0M665.5 452h0M668.9 452h0M672.3 452h0M692.9 452h0M696.3 452h0M699.8 452h0M706.6 452h0M660.3 455.7h0M663.8 455.7h0M677.5 455.7h0M680.9 455.7h0M684.3 455.7h0M687.8 455.7h0M694.6 455.7h0M704.9 455.7h0M715.2 455.7h0M607.2 459.4h0M631.2 459.4h0M641.5 459.4h0M668.9 459.4h0M672.3 459.4h0M679.2 459.4h0M696.3 459.4h0M699.8 459.4h0M703.2 459.4h0M639.8 463.1h0M656.9 463.1h0M667.2 463.1h0M674 463.1h0M680.9 463.1h0M687.8 463.1h0M691.2 463.1h0M698.1 463.1h0M711.8 463.1h0M607.2 466.8h0M620.9 466.8h0M624.3 466.8h0M627.7 466.8h0M631.2 466.8h0M651.8 466.8h0M655.2 466.8h0M662 466.8h0M672.3 466.8h0M689.5 466.8h0M699.8 466.8h0M605.5 470.5h0M612.3 470.5h0M615.7 470.5h0M639.8 470.5h0M650 470.5h0M653.5 470.5h0M660.3 470.5h0M663.8 470.5h0M677.5 470.5h0M680.9 470.5h0M684.3 470.5h0M691.2 470.5h0M634.6 474.2h0M641.5 474.2h0M648.3 474.2h0M662 474.2h0M675.8 474.2h0M679.2 474.2h0M682.6 474.2h0M696.3 474.2h0M629.5 477.9h0M643.2 477.9h0M653.5 477.9h0M656.9 477.9h0M660.3 477.9h0M670.6 477.9h0M674 477.9h0M677.5 477.9h0M680.9 477.9h0M691.2 477.9h0M694.6 477.9h0M644.9 481.6h0M682.6 481.6h0M689.5 481.6h0M626 485.3h0M639.8 485.3h0M646.6 485.3h0M650 485.3h0M656.9 485.3h0M667.2 485.3h0M674 485.3h0M677.5 485.3h0M680.9 485.3h0M684.3 485.3h0M638 489h0M641.5 489h0M655.2 489h0M662 489h0M668.9 489h0M679.2 489h0M696.3 489h0M581.4 492.7h0M626 492.7h0M639.8 492.7h0M643.2 492.7h0M646.6 492.7h0M650 492.7h0M653.5 492.7h0M656.9 492.7h0M660.3 492.7h0M663.8 492.7h0M667.2 492.7h0M670.6 492.7h0M674 492.7h0M638 496.4h0M644.9 496.4h0M648.3 496.4h0M651.8 496.4h0M655.2 496.4h0M658.6 496.4h0M679.2 496.4h0M619.2 500.1h0M643.2 500.1h0M650 500.1h0M660.3 500.1h0M663.8 500.1h0M667.2 500.1h0M675.8 503.8h0M682.6 503.8h0M615.7 507.5h0M619.2 507.5h0M629.5 507.5h0M653.5 507.5h0M670.6 507.5h0M638 511.2h0M675.8 511.2h0M639.8 514.9h0M674 514.9h0"/>
<path id="e210" d="M590 355.8h0M636.3 359.5h0M590 363.2h0M660.3 366.9h0M579.7 378h0M665.5 385.4h0M668.9 385.4h0M672.3 385.4h0M679.2 385.4h0M716.9 385.4h0M663.8 389.1h0M667.2 389.1h0M715.2 389.1h0M718.6 389.1h0M634.6 392.8h0M638 392.8h0M662 392.8h0M672.3 392.8h0M639.8 396.5h0M650 396.5h0M656.9 396.5h0M663.8 396.5h0M691.2 396.5h0M722.1 396.5h0M641.5 400.2h0M720.4 400.2h0M734.1 400.2h0M744.4 400.2h0M653.5 403.9h0M656.9 403.9h0M663.8 403.9h0M667.2 403.9h0M670.6 403.9h0M674 403.9h0M677.5 403.9h0M722.1 403.9h0M725.5 403.9h0M735.8 403.9h0M742.6 403.9h0M627.7 407.6h0M638 407.6h0M651.8 407.6h0M658.6 407.6h0M665.5 407.6h0M675.8 407.6h0M713.5 407.6h0M723.8 407.6h0M730.6 407.6h0M740.9 407.6h0M747.8 407.6h0M626 411.3h0M632.9 411.3h0M653.5 411.3h0M660.3 411.3h0M663.8 411.3h0M667.2 411.3h0M670.6 411.3h0M718.6 411.3h0M728.9 411.3h0M648.3 415h0M655.2 415h0M658.6 415h0M665.5 415h0M672.3 415h0M727.2 415h0M734.1 415h0M740.9 415h0M751.2 415h0M650 418.7h0M656.9 418.7h0M660.3 418.7h0M663.8 418.7h0M677.5 418.7h0M725.5 418.7h0M728.9 418.7h0M732.4 418.7h0M624.3 422.4h0M651.8 422.4h0M655.2 422.4h0M662 422.4h0M665.5 422.4h0M672.3 422.4h0M675.8 422.4h0M679.2 422.4h0M682.6 422.4h0M713.5 422.4h0M716.9 422.4h0M615.7 426.1h0M619.2 426.1h0M646.6 426.1h0M650 426.1h0M656.9 426.1h0M670.6 426.1h0M746.1 426.1h0M593.4 429.8h0M596.9 429.8h0M638 429.8h0M641.5 429.8h0M644.9 429.8h0M651.8 429.8h0M662 429.8h0M668.9 429.8h0M672.3 429.8h0M720.4 429.8h0M730.6 429.8h0M557.4 433.5h0M574.6 433.5h0M581.4 433.5h0M591.7 433.5h0M595.2 433.5h0M598.6 433.5h0M605.5 433.5h0M632.9 433.5h0M643.2 433.5h0M646.6 433.5h0M650 433.5h0M653.5 433.5h0M660.3 433.5h0M728.9 433.5h0M586.6 437.2h0M607.2 437.2h0M620.9 437.2h0M634.6 437.2h0M644.9 437.2h0M648.3 437.2h0M651.8 437.2h0M658.6 437.2h0M723.8 437.2h0M564.3 440.9h0M578 440.9h0M588.3 440.9h0M598.6 440.9h0M615.7 440.9h0M622.6 440.9h0M639.8 440.9h0M646.6 440.9h0M650 440.9h0M653.5 440.9h0M711.8 440.9h0M566 444.6h0M583.2 444.6h0M586.6 444.6h0M607.2 444.6h0M617.5 444.6h0M627.7 444.6h0M710.1 444.6h0M560.9 448.3h0M574.6 448.3h0M622.6 448.3h0M626 448.3h0M632.9 448.3h0M636.3 448.3h0M639.8 448.3h0M643.2 448.3h0M646.6 448.3h0M674 448.3h0M687.8 448.3h0M691.2 448.3h0M603.7 452h0M614 452h0M624.3 452h0M627.7 452h0M634.6 452h0M638 452h0M641.5 452h0M644.9 452h0M648.3 452h0M675.8 452h0M679.2 452h0M686.1 452h0M689.5 452h0M560.9 455.7h0M571.1 455.7h0M612.3 455.7h0M615.7 455.7h0M622.6 455.7h0M636.3 455.7h0M639.8 455.7h0M643.2 455.7h0M646.6 455.7h0M667.2 455.7h0M674 455.7h0M708.4 455.7h0M559.1 459.4h0M617.5 459.4h0M624.3 459.4h0M627.7 459.4h0M634.6 459.4h0M658.6 459.4h0M665.5 459.4h0M675.8 459.4h0M682.6 459.4h0M686.1 459.4h0M689.5 459.4h0M554 463.1h0M578 463.1h0M605.5 463.1h0M619.2 463.1h0M636.3 463.1h0M643.2 463.1h0M660.3 463.1h0M663.8 463.1h0M670.6 463.1h0M684.3 463.1h0M617.5 466.8h0M644.9 466.8h0M648.3 466.8h0M668.9 466.8h0M675.8 466.8h0M679.2 466.8h0M696.3 466.8h0M706.6 466.8h0M567.7 470.5h0M578 470.5h0M619.2 470.5h0M643.2 470.5h0M646.6 470.5h0M670.6 470.5h0M674 470.5h0M569.4 474.2h0M583.2 474.2h0M603.7 474.2h0M610.6 474.2h0M627.7 474.2h0M631.2 474.2h0M638 474.2h0M658.6 474.2h0M665.5 474.2h0M668.9 474.2h0M672.3 474.2h0M564.3 477.9h0M581.4 477.9h0M605.5 477.9h0M632.9 477.9h0M639.8 477.9h0M646.6 477.9h0M650 477.9h0M663.8 477.9h0M667.2 477.9h0M684.3 477.9h0M555.7 481.6h0M559.1 481.6h0M566 481.6h0M593.4 481.6h0M627.7 481.6h0M634.6 481.6h0M638 481.6h0M641.5 481.6h0M651.8 481.6h0M655.2 481.6h0M662 481.6h0M665.5 481.6h0M668.9 481.6h0M675.8 481.6h0M679.2 481.6h0M571.1 485.3h0M632.9 485.3h0M636.3 485.3h0M653.5 485.3h0M660.3 485.3h0M663.8 485.3h0M670.6 485.3h0M631.2 489h0M634.6 489h0M658.6 489h0M560.9 492.7h0M567.7 492.7h0M629.5 492.7h0M632.9 492.7h0M636.3 492.7h0M586.6 496.4h0M624.3 496.4h0M631.2 496.4h0M634.6 496.4h0M641.5 496.4h0M665.5 496.4h0M675.8 496.4h0M588.3 500.1h0M629.5 500.1h0M636.3 500.1h0M639.8 500.1h0M614 503.8h0M627.7 503.8h0M644.9 503.8h0M648.3 503.8h0M662 503.8h0M574.6 507.5h0M622.6 507.5h0M639.8 507.5h0M643.2 507.5h0M660.3 507.5h0"/>
<path id="e211" d="M619.2 352.1h0M632.9 352.1h0M636.3 352.1h0M593.4 355.8h0M614 355.8h0M627.7 355.8h0M648.3 355.8h0M588.3 359.5h0M591.7 359.5h0M598.6 359.5h0M619.2 359.5h0M626 359.5h0M596.9 363.2h0M600.3 363.2h0M641.5 363.2h0M644.9 363.2h0M591.7 366.9h0M595.2 366.9h0M602 366.9h0M612.3 366.9h0M615.7 366.9h0M632.9 366.9h0M656.9 366.9h0M663.8 366.9h0M600.3 370.6h0M603.7 370.6h0M614 370.6h0M651.8 370.6h0M655.2 370.6h0M662 370.6h0M665.5 370.6h0M588.3 374.3h0M660.3 374.3h0M593.4 378h0M617.5 378h0M658.6 378h0M665.5 378h0M672.3 378h0M675.8 378h0M588.3 381.7h0M595.2 381.7h0M650 381.7h0M670.6 381.7h0M583.2 385.4h0M596.9 385.4h0M607.2 385.4h0M617.5 385.4h0M655.2 385.4h0M658.6 385.4h0M662 385.4h0M675.8 385.4h0M581.4 389.1h0M584.9 389.1h0M588.3 389.1h0M591.7 389.1h0M605.5 389.1h0M608.9 389.1h0M612.3 389.1h0M639.8 389.1h0M643.2 389.1h0M646.6 389.1h0M660.3 389.1h0M674 389.1h0M677.5 389.1h0M569.4 392.8h0M576.3 392.8h0M579.7 392.8h0M624.3 392.8h0M644.9 392.8h0M651.8 392.8h0M658.6 392.8h0M665.5 392.8h0M668.9 392.8h0M675.8 392.8h0M567.7 396.5h0M581.4 396.5h0M612.3 396.5h0M629.5 396.5h0M643.2 396.5h0M653.5 396.5h0M670.6 396.5h0M674 396.5h0M569.4 400.2h0M576.3 400.2h0M614 400.2h0M624.3 400.2h0M627.7 400.2h0M638 400.2h0M662 400.2h0M665.5 400.2h0M668.9 400.2h0M672.3 400.2h0M675.8 400.2h0M567.7 403.9h0M571.1 403.9h0M574.6 403.9h0M581.4 403.9h0M598.6 403.9h0M622.6 403.9h0M636.3 403.9h0M639.8 403.9h0M646.6 403.9h0M650 403.9h0M660.3 403.9h0M732.4 403.9h0M566 407.6h0M569.4 407.6h0M576.3 407.6h0M583.2 407.6h0M586.6 407.6h0M593.4 407.6h0M610.6 407.6h0M614 407.6h0M620.9 407.6h0M631.2 407.6h0M634.6 407.6h0M641.5 407.6h0M648.3 407.6h0M655.2 407.6h0M662 407.6h0M668.9 407.6h0M720.4 407.6h0M564.3 411.3h0M598.6 411.3h0M612.3 411.3h0M622.6 411.3h0M629.5 411.3h0M639.8 411.3h0M646.6 411.3h0M650 411.3h0M656.9 411.3h0M722.1 411.3h0M579.7 415h0M590 415h0M614 415h0M620.9 415h0M631.2 415h0M634.6 415h0M638 415h0M641.5 415h0M662 415h0M675.8 415h0M679.2 415h0M682.6 415h0M720.4 415h0M560.9 418.7h0M564.3 418.7h0M571.1 418.7h0M574.6 418.7h0M588.3 418.7h0M612.3 418.7h0M615.7 418.7h0M626 418.7h0M632.9 418.7h0M653.5 418.7h0M674 418.7h0M680.9 418.7h0M684.3 418.7h0M742.6 418.7h0M576.3 422.4h0M600.3 422.4h0M610.6 422.4h0M627.7 422.4h0M631.2 422.4h0M638 422.4h0M641.5 422.4h0M644.9 422.4h0M658.6 422.4h0M730.6 422.4h0M560.9 426.1h0M571.1 426.1h0M584.9 426.1h0M632.9 426.1h0M636.3 426.1h0M639.8 426.1h0M643.2 426.1h0M653.5 426.1h0M660.3 426.1h0M663.8 426.1h0M555.7 429.8h0M562.6 429.8h0M610.6 429.8h0M614 429.8h0M617.5 429.8h0M620.9 429.8h0M658.6 429.8h0M665.5 429.8h0M716.9 429.8h0M571.1 433.5h0M612.3 433.5h0M615.7 433.5h0M619.2 433.5h0M622.6 433.5h0M626 433.5h0M629.5 433.5h0M636.3 433.5h0M639.8 433.5h0M617.5 437.2h0M631.2 437.2h0M641.5 437.2h0M655.2 437.2h0M557.4 440.9h0M560.9 440.9h0M591.7 440.9h0M626 440.9h0M629.5 440.9h0M636.3 440.9h0M576.3 444.6h0M590 444.6h0M631.2 444.6h0M634.6 444.6h0M641.5 444.6h0M644.9 444.6h0M648.3 444.6h0M567.7 448.3h0M571.1 448.3h0M578 448.3h0M595.2 448.3h0M605.5 448.3h0M608.9 448.3h0M555.7 452h0M569.4 452h0M572.9 452h0M607.2 452h0M610.6 452h0M617.5 452h0M554 455.7h0M557.4 455.7h0M578 455.7h0M608.9 455.7h0M619.2 455.7h0M626 455.7h0M629.5 455.7h0M632.9 455.7h0M691.2 455.7h0M555.7 459.4h0M590 459.4h0M610.6 459.4h0M620.9 459.4h0M638 459.4h0M644.9 459.4h0M662 459.4h0M560.9 463.1h0M584.9 463.1h0M598.6 463.1h0M608.9 463.1h0M612.3 463.1h0M615.7 463.1h0M622.6 463.1h0M632.9 463.1h0M579.7 466.8h0M590 466.8h0M596.9 466.8h0M600.3 466.8h0M603.7 466.8h0M610.6 466.8h0M614 466.8h0M634.6 466.8h0M638 466.8h0M658.6 466.8h0M560.9 470.5h0M564.3 470.5h0M588.3 470.5h0M595.2 470.5h0M598.6 470.5h0M602 470.5h0M608.9 470.5h0M629.5 470.5h0M632.9 470.5h0M636.3 470.5h0M656.9 470.5h0M667.2 470.5h0M687.8 470.5h0M555.7 474.2h0M562.6 474.2h0M566 474.2h0M572.9 474.2h0M579.7 474.2h0M607.2 474.2h0M655.2 474.2h0M557.4 477.9h0M571.1 477.9h0M578 477.9h0M595.2 477.9h0M598.6 477.9h0M602 477.9h0M636.3 477.9h0M586.6 481.6h0M590 481.6h0M600.3 481.6h0M631.2 481.6h0M648.3 481.6h0M672.3 481.6h0M581.4 485.3h0M584.9 485.3h0M588.3 485.3h0M629.5 485.3h0M643.2 485.3h0M555.7 489h0M562.6 489h0M569.4 489h0M572.9 489h0M586.6 489h0M590 489h0M644.9 489h0M588.3 492.7h0M591.7 492.7h0M576.3 496.4h0M590 496.4h0M627.7 496.4h0M564.3 500.1h0M567.7 500.1h0M584.9 500.1h0M626 500.1h0M569.4 503.8h0M572.9 503.8h0M586.6 503.8h0M617.5 503.8h0M564.3 507.5h0M578 507.5h0M584.9 507.5h0M674 507.5h0M562.6 511.2h0"/>
<path id="e212" d="M612.3 352.1h0M615.7 352.1h0M607.2 355.8h0M624.3 355.8h0M631.2 355.8h0M634.6 355.8h0M641.5 355.8h0M595.2 359.5h0M622.6 359.5h0M639.8 359.5h0M643.2 359.5h0M614 363.2h0M634.6 363.2h0M622.6 366.9h0M639.8 366.9h0M646.6 366.9h0M590 370.6h0M593.4 370.6h0M607.2 370.6h0M631.2 370.6h0M638 370.6h0M658.6 370.6h0M591.7 374.3h0M615.7 374.3h0M632.9 374.3h0M646.6 374.3h0M663.8 374.3h0M583.2 378h0M586.6 378h0M603.7 378h0M607.2 378h0M627.7 378h0M648.3 378h0M651.8 378h0M662 378h0M584.9 381.7h0M591.7 381.7h0M598.6 381.7h0M602 381.7h0M626 381.7h0M629.5 381.7h0M632.9 381.7h0M636.3 381.7h0M643.2 381.7h0M653.5 381.7h0M656.9 381.7h0M660.3 381.7h0M667.2 381.7h0M590 385.4h0M614 385.4h0M627.7 385.4h0M644.9 385.4h0M648.3 385.4h0M651.8 385.4h0M578 389.1h0M632.9 389.1h0M636.3 389.1h0M586.6 392.8h0M590 392.8h0M593.4 392.8h0M600.3 392.8h0M603.7 392.8h0M607.2 392.8h0M627.7 392.8h0M641.5 392.8h0M574.6 396.5h0M578 396.5h0M595.2 396.5h0M608.9 396.5h0M615.7 396.5h0M626 396.5h0M636.3 396.5h0M646.6 396.5h0M660.3 396.5h0M667.2 396.5h0M572.9 400.2h0M579.7 400.2h0M586.6 400.2h0M610.6 400.2h0M644.9 400.2h0M651.8 400.2h0M655.2 400.2h0M578 403.9h0M615.7 403.9h0M626 403.9h0M629.5 403.9h0M632.9 403.9h0M643.2 403.9h0M617.5 407.6h0M644.9 407.6h0M567.7 411.3h0M574.6 411.3h0M578 411.3h0M584.9 411.3h0M615.7 411.3h0M619.2 411.3h0M569.4 415h0M572.9 415h0M583.2 415h0M586.6 415h0M607.2 415h0M617.5 415h0M644.9 415h0M581.4 418.7h0M619.2 418.7h0M622.6 418.7h0M629.5 418.7h0M643.2 418.7h0M646.6 418.7h0M569.4 422.4h0M620.9 422.4h0M557.4 426.1h0M588.3 426.1h0M612.3 426.1h0M626 426.1h0M629.5 426.1h0M667.2 426.1h0M569.4 429.8h0M600.3 429.8h0M607.2 429.8h0M624.3 429.8h0M627.7 429.8h0M631.2 429.8h0M560.9 433.5h0M564.3 433.5h0M566 437.2h0M572.9 437.2h0M603.7 437.2h0M624.3 437.2h0M627.7 437.2h0M638 437.2h0M574.6 440.9h0M605.5 440.9h0M608.9 440.9h0M619.2 440.9h0M632.9 440.9h0M643.2 440.9h0M569.4 444.6h0M610.6 444.6h0M614 444.6h0M620.9 444.6h0M624.3 444.6h0M557.4 448.3h0M581.4 448.3h0M612.3 448.3h0M615.7 448.3h0M619.2 448.3h0M629.5 448.3h0M631.2 452h0M682.6 452h0M564.3 455.7h0M588.3 455.7h0M598.6 455.7h0M602 455.7h0M605.5 455.7h0M583.2 459.4h0M586.6 459.4h0M596.9 459.4h0M600.3 459.4h0M603.7 459.4h0M614 459.4h0M574.6 463.1h0M581.4 463.1h0M591.7 463.1h0M602 463.1h0M629.5 463.1h0M583.2 466.8h0M586.6 466.8h0M593.4 466.8h0M641.5 466.8h0M554 470.5h0M557.4 470.5h0M559.1 474.2h0M576.3 474.2h0M586.6 474.2h0M590 474.2h0M593.4 474.2h0M596.9 474.2h0M600.3 474.2h0M554 477.9h0M560.9 477.9h0M574.6 477.9h0M584.9 477.9h0M588.3 477.9h0M569.4 481.6h0M572.9 481.6h0M596.9 481.6h0M557.4 485.3h0M564.3 485.3h0M567.7 485.3h0M574.6 485.3h0M591.7 485.3h0M566 489h0M579.7 489h0M593.4 489h0M596.9 489h0M627.7 489h0M557.4 492.7h0M571.1 492.7h0M574.6 492.7h0M578 492.7h0M584.9 492.7h0M559.1 496.4h0M569.4 496.4h0M572.9 496.4h0M579.7 496.4h0M593.4 496.4h0M574.6 500.1h0M578 500.1h0M571.1 507.5h0M569.4 511.2h0"/>
<path id="e213" d="M605.5 352.1h0M622.6 352.1h0M596.9 355.8h0M600.3 355.8h0M603.7 355.8h0M644.9 355.8h0M608.9 359.5h0M612.3 359.5h0M615.7 359.5h0M593.4 363.2h0M627.7 363.2h0M651.8 363.2h0M605.5 366.9h0M608.9 366.9h0M626 366.9h0M643.2 366.9h0M650 366.9h0M644.9 370.6h0M648.3 370.6h0M612.3 374.3h0M619.2 374.3h0M622.6 374.3h0M629.5 374.3h0M650 374.3h0M590 378h0M631.2 378h0M634.6 378h0M644.9 378h0M655.2 378h0M581.4 381.7h0M619.2 381.7h0M622.6 381.7h0M639.8 381.7h0M579.7 385.4h0M593.4 385.4h0M610.6 385.4h0M624.3 385.4h0M631.2 385.4h0M641.5 385.4h0M598.6 389.1h0M602 389.1h0M615.7 389.1h0M626 389.1h0M583.2 392.8h0M631.2 392.8h0M655.2 392.8h0M571.1 396.5h0M591.7 396.5h0M602 396.5h0M619.2 396.5h0M566 400.2h0M583.2 400.2h0M617.5 400.2h0M631.2 400.2h0M584.9 403.9h0M605.5 403.9h0M619.2 403.9h0M572.9 407.6h0M596.9 407.6h0M605.5 411.3h0M608.9 411.3h0M562.6 415h0M566 415h0M576.3 415h0M593.4 415h0M596.9 415h0M627.7 415h0M668.9 415h0M584.9 418.7h0M598.6 418.7h0M602 418.7h0M605.5 418.7h0M639.8 418.7h0M559.1 422.4h0M566 422.4h0M572.9 422.4h0M617.5 422.4h0M578 426.1h0M595.2 426.1h0M608.9 426.1h0M586.6 429.8h0M602 433.5h0M608.9 433.5h0M555.7 437.2h0M559.1 437.2h0M569.4 437.2h0M583.2 437.2h0M590 437.2h0M600.3 437.2h0M614 437.2h0M554 440.9h0M602 440.9h0M555.7 444.6h0M559.1 444.6h0M603.7 444.6h0M588.3 448.3h0M598.6 448.3h0M562.6 452h0M576.3 452h0M579.7 452h0M586.6 452h0M590 452h0M574.6 455.7h0M584.9 455.7h0M595.2 455.7h0M579.7 459.4h0M593.4 459.4h0M567.7 463.1h0M559.1 466.8h0M562.6 466.8h0M572.9 466.8h0M574.6 470.5h0M584.9 470.5h0M591.7 470.5h0M591.7 477.9h0M562.6 481.6h0M579.7 481.6h0M583.2 481.6h0M554 485.3h0M595.2 485.3h0M576.3 489h0M583.2 489h0M554 492.7h0M595.2 492.7h0M566 496.4h0M583.2 496.4h0M579.7 503.8h0"/>
<path id="e214" d="M610.6 355.8h0M620.9 355.8h0M602 359.5h0M605.5 359.5h0M646.6 359.5h0M603.7 363.2h0M617.5 363.2h0M624.3 363.2h0M619.2 366.9h0M596.9 370.6h0M627.7 370.6h0M641.5 370.6h0M598.6 374.3h0M605.5 374.3h0M639.8 374.3h0M610.6 378h0M614 378h0M620.9 378h0M624.3 378h0M641.5 378h0M612.3 381.7h0M615.7 381.7h0M603.7 385.4h0M620.9 385.4h0M619.2 389.1h0M629.5 389.1h0M572.9 392.8h0M610.6 392.8h0M648.3 392.8h0M584.9 396.5h0M588.3 396.5h0M596.9 400.2h0M600.3 400.2h0M602 403.9h0M600.3 407.6h0M571.1 411.3h0M581.4 411.3h0M602 411.3h0M603.7 415h0M610.6 415h0M567.7 418.7h0M595.2 418.7h0M562.6 422.4h0M579.7 422.4h0M583.2 422.4h0M586.6 422.4h0M607.2 422.4h0M591.7 426.1h0M602 426.1h0M622.6 426.1h0M583.2 429.8h0M590 429.8h0M554 433.5h0M578 433.5h0M584.9 433.5h0M562.6 437.2h0M579.7 437.2h0M571.1 440.9h0M593.4 444.6h0M596.9 444.6h0M584.9 448.3h0M591.7 448.3h0M566 452h0M583.2 452h0M600.3 452h0M567.7 455.7h0M581.4 455.7h0M562.6 459.4h0M566 459.4h0M576.3 459.4h0M557.4 463.1h0M588.3 463.1h0M595.2 463.1h0M569.4 466.8h0M576.3 466.8h0M567.7 477.9h0M578 485.3h0M564.3 492.7h0"/>
<path id="e215" d="M629.5 352.1h0M638 355.8h0M607.2 363.2h0M610.6 363.2h0M648.3 363.2h0M598.6 366.9h0M610.6 370.6h0M620.9 370.6h0M624.3 370.6h0M643.2 374.3h0M638 378h0M605.5 381.7h0M586.6 385.4h0M600.3 385.4h0M622.6 389.1h0M596.9 392.8h0M617.5 392.8h0M620.9 392.8h0M605.5 396.5h0M590 400.2h0M608.9 403.9h0M612.3 403.9h0M603.7 407.6h0M607.2 407.6h0M624.3 407.6h0M578 418.7h0M590 422.4h0M596.9 422.4h0M614 422.4h0M564.3 426.1h0M567.7 426.1h0M574.6 426.1h0M572.9 429.8h0M579.7 429.8h0M588.3 433.5h0M576.3 437.2h0M593.4 437.2h0M581.4 440.9h0M584.9 440.9h0M595.2 440.9h0M600.3 444.6h0M554 448.3h0M564.3 448.3h0M602 448.3h0M593.4 452h0M572.9 459.4h0M571.1 463.1h0M555.7 466.8h0M566 466.8h0M581.4 470.5h0M576.3 481.6h0M560.9 485.3h0M559.1 489h0M562.6 496.4h0M560.9 500.1h0"/>
<path id="e216" d="M626 352.1h0M629.5 359.5h0M631.2 363.2h0M629.5 366.9h0M608.9 374.3h0M608.9 381.7h0M595.2 389.1h0M653.5 389.1h0M656.9 389.1h0M670.6 389.1h0M598.6 396.5h0M607.2 400.2h0M648.3 400.2h0M588.3 403.9h0M591.7 403.9h0M579.7 407.6h0M590 407.6h0M588.3 411.3h0M608.9 418.7h0M593.4 422.4h0M581.4 426.1h0M605.5 426.1h0M559.1 429.8h0M576.3 429.8h0M596.9 437.2h0M572.9 444.6h0M596.9 452h0M591.7 455.7h0M569.4 459.4h0M571.1 470.5h0"/>
<path id="e217" d="M617.5 355.8h0M636.3 366.9h0M653.5 366.9h0M617.5 370.6h0M626 374.3h0M636.3 374.3h0M656.9 374.3h0M646.6 381.7h0M674 381.7h0M650 389.1h0M614 392.8h0M603.7 400.2h0M620.9 400.2h0M658.6 400.2h0M591.7 411.3h0M600.3 415h0M591.7 418.7h0M603.7 422.4h0M598.6 426.1h0M566 429.8h0M567.7 433.5h0M562.6 444.6h0M579.7 444.6h0M559.1 452h0M564.3 463.1h0"/>
<path id="e218" d="M632.9 359.5h0M595.2 374.3h0M653.5 374.3h0M663.8 381.7h0M634.6 385.4h0M638 385.4h0M593.4 400.2h0M595.2 403.9h0M595.2 411.3h0M603.7 429.8h0"/>
<path id="e219" d="M650 359.5h0M620.9 363.2h0M638 363.2h0M634.6 370.6h0M602 374.3h0M596.9 378h0M600.3 378h0M622.6 396.5h0M567.7 440.9h0"/>
<path id="e2F0" d="M746.1 403.9h0M749.5 403.9h0M752.9 411.3h0M744.4 415h0M735.8 418.7h0M739.2 418.7h0M746.1 418.7h0M749.5 418.7h0M734.1 422.4h0M737.5 422.4h0M740.9 422.4h0M744.4 422.4h0M747.8 422.4h0M732.4 426.1h0M735.8 426.1h0M739.2 426.1h0M742.6 426.1h0M734.1 429.8h0M740.9 429.8h0M744.4 429.8h0M735.8 433.5h0M742.6 433.5h0M746.1 433.5h0M727.2 437.2h0M734.1 437.2h0M737.5 437.2h0M744.4 437.2h0M715.2 440.9h0M735.8 440.9h0M739.2 440.9h0M742.6 440.9h0M716.9 444.6h0M723.8 444.6h0M727.2 444.6h0M730.6 444.6h0M737.5 444.6h0M740.9 444.6h0M744.4 444.6h0M704.9 448.3h0M711.8 448.3h0M722.1 448.3h0M725.5 448.3h0M732.4 448.3h0M735.8 448.3h0M739.2 448.3h0M742.6 448.3h0M703.2 452h0M710.1 452h0M716.9 452h0M720.4 452h0M723.8 452h0M727.2 452h0M730.6 452h0M734.1 452h0M737.5 452h0M740.9 452h0M698.1 455.7h0M701.5 455.7h0M711.8 455.7h0M718.6 455.7h0M722.1 455.7h0M725.5 455.7h0M728.9 455.7h0M732.4 455.7h0M735.8 455.7h0M739.2 455.7h0M692.9 459.4h0M706.6 459.4h0M710.1 459.4h0M713.5 459.4h0M716.9 459.4h0M720.4 459.4h0M723.8 459.4h0M727.2 459.4h0M730.6 459.4h0M734.1 459.4h0M737.5 459.4h0M701.5 463.1h0M704.9 463.1h0M715.2 463.1h0M718.6 463.1h0M722.1 463.1h0M725.5 463.1h0M728.9 463.1h0M732.4 463.1h0M735.8 463.1h0M682.6 466.8h0M692.9 466.8h0M703.2 466.8h0M710.1 466.8h0M713.5 466.8h0M716.9 466.8h0M720.4 466.8h0M723.8 466.8h0M727.2 466.8h0M730.6 466.8h0M694.6 470.5h0M701.5 470.5h0M704.9 470.5h0M708.4 470.5h0M711.8 470.5h0M715.2 470.5h0M718.6 470.5h0M722.1 470.5h0M725.5 470.5h0M728.9 470.5h0M689.5 474.2h0M692.9 474.2h0M699.8 474.2h0M703.2 474.2h0M706.6 474.2h0M710.1 474.2h0M713.5 474.2h0M716.9 474.2h0M720.4 474.2h0M723.8 474.2h0M727.2 474.2h0M687.8 477.9h0M698.1 477.9h0M701.5 477.9h0M704.9 477.9h0M708.4 477.9h0M711.8 477.9h0M715.2 477.9h0M718.6 477.9h0M722.1 477.9h0M725.5 477.9h0M686.1 481.6h0M692.9 481.6h0M696.3 481.6h0M703.2 481.6h0M706.6 481.6h0M710.1 481.6h0M713.5 481.6h0M716.9 481.6h0M720.4 481.6h0M687.8 485.3h0M691.2 485.3h0M694.6 485.3h0M698.1 485.3h0M701.5 485.3h0M704.9 485.3h0M708.4 485.3h0M711.8 485.3h0M715.2 485.3h0M718.6 485.3h0M665.5 489h0M672.3 489h0M675.8 489h0M682.6 489h0M686.1 489h0M689.5 489h0M699.8 489h0M703.2 489h0M706.6 489h0M710.1 489h0M713.5 489h0M677.5 492.7h0M680.9 492.7h0M684.3 492.7h0M687.8 492.7h0M691.2 492.7h0M694.6 492.7h0M698.1 492.7h0M701.5 492.7h0M704.9 492.7h0M708.4 492.7h0M668.9 496.4h0M672.3 496.4h0M682.6 496.4h0M686.1 496.4h0M689.5 496.4h0M692.9 496.4h0M696.3 496.4h0M699.8 496.4h0M703.2 496.4h0M571.1 500.1h0M581.4 500.1h0M622.6 500.1h0M632.9 500.1h0M656.9 500.1h0M670.6 500.1h0M674 500.1h0M677.5 500.1h0M680.9 500.1h0M684.3 500.1h0M687.8 500.1h0M691.2 500.1h0M694.6 500.1h0M698.1 500.1h0M701.5 500.1h0M562.6 503.8h0M566 503.8h0M576.3 503.8h0M583.2 503.8h0M620.9 503.8h0M624.3 503.8h0M631.2 503.8h0M634.6 503.8h0M638 503.8h0M651.8 503.8h0M655.2 503.8h0M658.6 503.8h0M668.9 503.8h0M672.3 503.8h0M679.2 503.8h0M686.1 503.8h0M689.5 503.8h0M692.9 503.8h0M567.7 507.5h0M581.4 507.5h0M626 507.5h0M632.9 507.5h0M636.3 507.5h0M646.6 507.5h0M650 507.5h0M656.9 507.5h0M663.8 507.5h0M667.2 507.5h0M677.5 507.5h0M680.9 507.5h0M684.3 507.5h0M687.8 507.5h0M566 511.2h0M572.9 511.2h0M576.3 511.2h0M579.7 511.2h0M583.2 511.2h0M614 511.2h0M617.5 511.2h0M620.9 511.2h0M624.3 511.2h0M627.7 511.2h0M631.2 511.2h0M634.6 511.2h0M641.5 511.2h0M644.9 511.2h0M648.3 511.2h0M655.2 511.2h0M658.6 511.2h0M662 511.2h0M665.5 511.2h0M668.9 511.2h0M672.3 511.2h0M679.2 511.2h0M682.6 511.2h0M564.3 514.9h0M567.7 514.9h0M571.1 514.9h0M574.6 514.9h0M578 514.9h0M581.4 514.9h0M584.9 514.9h0M615.7 514.9h0M619.2 514.9h0M622.6 514.9h0M626 514.9h0M629.5 514.9h0M632.9 514.9h0M636.3 514.9h0M643.2 514.9h0M646.6 514.9h0M650 514.9h0M653.5 514.9h0M656.9 514.9h0M660.3 514.9h0M663.8 514.9h0M667.2 514.9h0M670.6 514.9h0M562.6 518.6h0M566 518.6h0M569.4 518.6h0M572.9 518.6h0M576.3 518.6h0M579.7 518.6h0M583.2 518.6h0M586.6 518.6h0M614 518.6h0M617.5 518.6h0M620.9 518.6h0M624.3 518.6h0M627.7 518.6h0M631.2 518.6h0M634.6 518.6h0M638 518.6h0M641.5 518.6h0M644.9 518.6h0M648.3 518.6h0M651.8 518.6h0M655.2 518.6h0M658.6 518.6h0M662 518.6h0M665.5 518.6h0M668.9 518.6h0M560.9 522.3h0M564.3 522.3h0M567.7 522.3h0M571.1 522.3h0M574.6 522.3h0M578 522.3h0M581.4 522.3h0M584.9 522.3h0M588.3 522.3h0M602 522.3h0M615.7 522.3h0M619.2 522.3h0M622.6 522.3h0M626 522.3h0M629.5 522.3h0M632.9 522.3h0M636.3 522.3h0M639.8 522.3h0M643.2 522.3h0M646.6 522.3h0M650 522.3h0M653.5 522.3h0M656.9 522.3h0M660.3 522.3h0M663.8 522.3h0M562.6 526h0M566 526h0M569.4 526h0M572.9 526h0M576.3 526h0M579.7 526h0M583.2 526h0M586.6 526h0M590 526h0M614 526h0M617.5 526h0M620.9 526h0M624.3 526h0M627.7 526h0M631.2 526h0M634.6 526h0M638 526h0M641.5 526h0M644.9 526h0M648.3 526h0M651.8 526h0M655.2 526h0M564.3 529.7h0M567.7 529.7h0M571.1 529.7h0M574.6 529.7h0M578 529.7h0M581.4 529.7h0M584.9 529.7h0M588.3 529.7h0M591.7 529.7h0M615.7 529.7h0M619.2 529.7h0M622.6 529.7h0M626 529.7h0M629.5 529.7h0M632.9 529.7h0M636.3 529.7h0M639.8 529.7h0M643.2 529.7h0M646.6 529.7h0M650 529.7h0M566 533.4h0M569.4 533.4h0M572.9 533.4h0M576.3 533.4h0M579.7 533.4h0M583.2 533.4h0M586.6 533.4h0M590 533.4h0M593.4 533.4h0M614 533.4h0M617.5 533.4h0M620.9 533.4h0M624.3 533.4h0M627.7 533.4h0M631.2 533.4h0M634.6 533.4h0M567.7 537.1h0M571.1 537.1h0M574.6 537.1h0M578 537.1h0M581.4 537.1h0M584.9 537.1h0M588.3 537.1h0M591.7 537.1h0M595.2 537.1h0M615.7 537.1h0M572.9 540.8h0M576.3 540.8h0M579.7 540.8h0M583.2 540.8h0M586.6 540.8h0M590 540.8h0M593.4 540.8h0M574.6 544.5h0M578 544.5h0M581.4 544.5h0M584.9 544.5h0M588.3 544.5h0M591.7 544.5h0M595.2 544.5h0M596.9 548.2h0M600.3 548.2h0M603.7 548.2h0M607.2 548.2h0M602 551.9h0M605.5 551.9h0"/>
<path id="e2F1" d="M754.7 415h0M756.4 418.7h0M751.2 422.4h0M754.7 422.4h0M758.1 422.4h0M749.5 426.1h0M752.9 426.1h0M756.4 426.1h0M751.2 429.8h0M754.7 429.8h0M749.5 433.5h0M752.9 433.5h0M756.4 433.5h0M747.8 437.2h0M751.2 437.2h0M754.7 437.2h0M746.1 440.9h0M749.5 440.9h0M752.9 440.9h0M747.8 444.6h0M751.2 444.6h0M746.1 448.3h0M749.5 448.3h0M752.9 448.3h0M744.4 452h0M747.8 452h0M751.2 452h0M742.6 455.7h0M746.1 455.7h0M749.5 455.7h0M740.9 459.4h0M744.4 459.4h0M747.8 459.4h0M739.2 463.1h0M742.6 463.1h0M746.1 463.1h0M734.1 466.8h0M737.5 466.8h0M740.9 466.8h0M744.4 466.8h0M732.4 470.5h0M735.8 470.5h0M739.2 470.5h0M730.6 474.2h0M737.5 474.2h0M728.9 477.9h0M732.4 477.9h0M735.8 477.9h0M723.8 481.6h0M727.2 481.6h0M730.6 481.6h0M734.1 481.6h0M722.1 485.3h0M725.5 485.3h0M728.9 485.3h0M716.9 489h0M720.4 489h0M723.8 489h0M727.2 489h0M711.8 492.7h0M715.2 492.7h0M718.6 492.7h0M722.1 492.7h0M706.6 496.4h0M710.1 496.4h0M713.5 496.4h0M716.9 496.4h0M720.4 496.4h0M704.9 500.1h0M708.4 500.1h0M711.8 500.1h0M715.2 500.1h0M696.3 503.8h0M699.8 503.8h0M703.2 503.8h0M706.6 503.8h0M710.1 503.8h0M691.2 507.5h0M694.6 507.5h0M698.1 507.5h0M701.5 507.5h0M704.9 507.5h0M686.1 511.2h0M689.5 511.2h0M692.9 511.2h0M696.3 511.2h0M699.8 511.2h0M677.5 514.9h0M680.9 514.9h0M684.3 514.9h0M687.8 514.9h0M691.2 514.9h0M694.6 514.9h0M672.3 518.6h0M675.8 518.6h0M679.2 518.6h0M682.6 518.6h0M686.1 518.6h0M667.2 522.3h0M670.6 522.3h0M674 522.3h0M677.5 522.3h0M680.9 522.3h0M658.6 526h0M662 526h0M665.5 526h0M668.9 526h0M672.3 526h0M675.8 526h0M653.5 529.7h0M656.9 529.7h0M660.3 529.7h0M663.8 529.7h0M667.2 529.7h0M638 533.4h0M641.5 533.4h0M644.9 533.4h0M648.3 533.4h0M651.8 533.4h0M655.2 533.4h0M658.6 533.4h0M662 533.4h0M619.2 537.1h0M622.6 537.1h0M626 537.1h0M629.5 537.1h0M632.9 537.1h0M636.3 537.1h0M639.8 537.1h0M643.2 537.1h0M646.6 537.1h0M650 537.1h0M653.5 537.1h0M656.9 537.1h0M617.5 540.8h0M620.9 540.8h0M624.3 540.8h0M627.7 540.8h0M631.2 540.8h0M634.6 540.8h0M638 540.8h0M641.5 540.8h0M644.9 540.8h0M615.7 544.5h0M619.2 544.5h0M622.6 544.5h0M610.6 548.2h0M614 548.2h0M617.5 548.2h0M608.9 551.9h0M612.3 551.9h0M615.7 551.9h0M663.8 559.3h0M644.9 563h0M648.3 563h0M651.8 563h0M655.2 563h0M658.6 563h0M662 563h0M646.6 566.7h0M650 566.7h0M653.5 566.7h0M656.9 566.7h0"/>
<path id="e2F2" d="M761.5 422.4h0M764.9 422.4h0M759.8 426.1h0M763.2 426.1h0M766.7 426.1h0M758.1 429.8h0M761.5 429.8h0M764.9 429.8h0M768.4 429.8h0M759.8 433.5h0M763.2 433.5h0M766.7 433.5h0M758.1 437.2h0M761.5 437.2h0M764.9 437.2h0M756.4 440.9h0M759.8 440.9h0M763.2 440.9h0M766.7 440.9h0M754.7 444.6h0M758.1 444.6h0M761.5 444.6h0M764.9 444.6h0M756.4 448.3h0M759.8 448.3h0M763.2 448.3h0M754.7 452h0M758.1 452h0M761.5 452h0M752.9 455.7h0M756.4 455.7h0M759.8 455.7h0M751.2 459.4h0M754.7 459.4h0M758.1 459.4h0M749.5 463.1h0M752.9 463.1h0M756.4 463.1h0M747.8 466.8h0M751.2 466.8h0M754.7 466.8h0M742.6 470.5h0M746.1 470.5h0M749.5 470.5h0M752.9 470.5h0M740.9 474.2h0M744.4 474.2h0M747.8 474.2h0M751.2 474.2h0M739.2 477.9h0M742.6 477.9h0M746.1 477.9h0M749.5 477.9h0M737.5 481.6h0M740.9 481.6h0M744.4 481.6h0M747.8 481.6h0M732.4 485.3h0M735.8 485.3h0M739.2 485.3h0M742.6 485.3h0M734.1 489h0M737.5 489h0M740.9 489h0M725.5 492.7h0M728.9 492.7h0M732.4 492.7h0M735.8 492.7h0M739.2 492.7h0M723.8 496.4h0M727.2 496.4h0M730.6 496.4h0M734.1 496.4h0M718.6 500.1h0M722.1 500.1h0M725.5 500.1h0M728.9 500.1h0M713.5 503.8h0M716.9 503.8h0M720.4 503.8h0M723.8 503.8h0M727.2 503.8h0M708.4 507.5h0M711.8 507.5h0M715.2 507.5h0M718.6 507.5h0M722.1 507.5h0M725.5 507.5h0M703.2 511.2h0M706.6 511.2h0M710.1 511.2h0M713.5 511.2h0M698.1 514.9h0M701.5 514.9h0M704.9 514.9h0M708.4 514.9h0M711.8 514.9h0M689.5 518.6h0M692.9 518.6h0M696.3 518.6h0M699.8 518.6h0M703.2 518.6h0M706.6 518.6h0M684.3 522.3h0M687.8 522.3h0M691.2 522.3h0M694.6 522.3h0M698.1 522.3h0M679.2 526h0M682.6 526h0M686.1 526h0M689.5 526h0M670.6 529.7h0M674 529.7h0M677.5 529.7h0M680.9 529.7h0M684.3 529.7h0M665.5 533.4h0M668.9 533.4h0M672.3 533.4h0M675.8 533.4h0M679.2 533.4h0M682.6 533.4h0M660.3 537.1h0M663.8 537.1h0M667.2 537.1h0M670.6 537.1h0M674 537.1h0M677.5 537.1h0M648.3 540.8h0M651.8 540.8h0M655.2 540.8h0M658.6 540.8h0M662 540.8h0M665.5 540.8h0M668.9 540.8h0M672.3 540.8h0M675.8 540.8h0M626 544.5h0M629.5 544.5h0M632.9 544.5h0M636.3 544.5h0M639.8 544.5h0M643.2 544.5h0M646.6 544.5h0M650 544.5h0M653.5 544.5h0M656.9 544.5h0M660.3 544.5h0M663.8 544.5h0M667.2 544.5h0M620.9 548.2h0M624.3 548.2h0M627.7 548.2h0M631.2 548.2h0M634.6 548.2h0M638 548.2h0M641.5 548.2h0M644.9 548.2h0M648.3 548.2h0M651.8 548.2h0M655.2 548.2h0M619.2 551.9h0M622.6 551.9h0M626 551.9h0M629.5 551.9h0M632.9 551.9h0M636.3 551.9h0M639.8 551.9h0M643.2 551.9h0M646.6 551.9h0M650 551.9h0M653.5 551.9h0M656.9 551.9h0M634.6 555.6h0M638 555.6h0M641.5 555.6h0M644.9 555.6h0M648.3 555.6h0M651.8 555.6h0M655.2 555.6h0M658.6 555.6h0M662 555.6h0M639.8 559.3h0M643.2 559.3h0M646.6 559.3h0M650 559.3h0M653.5 559.3h0M656.9 559.3h0M660.3 559.3h0M641.5 563h0"/>
</defs>
<use href="#e2" stroke="#c0cdd8" stroke-width="3.80"/>
<use href="#e28" stroke="#c9d4d4" stroke-width="3.80"/>
<use href="#e29" stroke="#d1d9cd" stroke-width="3.80"/>
<use href="#e210" stroke="#bfbfb3" stroke-width="3.80"/>
<use href="#e211" stroke="#c1bfb0" stroke-width="3.80"/>
<use href="#e212" stroke="#bcb5a4" stroke-width="3.80"/>
<use href="#e213" stroke="#ab9882" stroke-width="3.80"/>
<use href="#e214" stroke="#a68a75" stroke-width="3.80"/>
<use href="#e215" stroke="#9f7968" stroke-width="3.80"/>
<use href="#e216" stroke="#97685b" stroke-width="3.80"/>
<use href="#e217" stroke="#8e554f" stroke-width="3.80"/>
<use href="#e218" stroke="#813e45" stroke-width="3.80"/>
<use href="#e219" stroke="#6b2638" stroke-width="3.80"/>
<use href="#e2F0" stroke="#ccd9d6" stroke-width="3.90"/>
<use href="#e2F1" stroke="#ccd7dc" stroke-width="3.90"/>
<use href="#e2F2" stroke="#cbd3e0" stroke-width="3.90"/>
<use href="#e2" stroke="#cadae6" stroke-width="2.15"/>
<use href="#e28" stroke="#d4e1e1" stroke-width="2.15"/>
<use href="#e29" stroke="#dde7d9" stroke-width="2.15"/>
<use href="#e210" stroke="#eff0cf" stroke-width="2.15"/>
<use href="#e211" stroke="#f6f1c6" stroke-width="2.15"/>
<use href="#e212" stroke="#f5e2b5" stroke-width="2.15"/>
<use href="#e213" stroke="#f3cfa4" stroke-width="2.15"/>
<use href="#e214" stroke="#efba92" stroke-width="2.15"/>
<use href="#e215" stroke="#e9a07f" stroke-width="2.15"/>
<use href="#e216" stroke="#e1866e" stroke-width="2.15"/>
<use href="#e217" stroke="#d7695e" stroke-width="2.15"/>
<use href="#e218" stroke="#c74753" stroke-width="2.15"/>
<use href="#e219" stroke="#a82346" stroke-width="2.15"/>
<use href="#e2F0" stroke="#d6e2dc" stroke-width="2.15"/>
<use href="#e2F1" stroke="#d5dfe3" stroke-width="2.15"/>
<use href="#e2F2" stroke="#d4dbe7" stroke-width="2.15"/>
</g>
<!-- panel f -->
<g fill="none" stroke-linecap="round">
<defs>
<path id="f" d="M123.7 671.8h0.1M117.1 675.4h8.9M110.5 679.1h22.1M90.7 682.7h0.1M112.7 682.7h26.5M88.5 686.3h4.5M110.5 686.3h35.3M81.9 689.9h13.3M112.7 689.9h39.7M79.7 693.6h22.1M110.5 693.6h44.1M64.3 697.2h35.3M108.3 697.2h48.5M62.1 700.8h39.7M110.5 700.8h0.1M119.3 700.8h44.1M59.9 704.5h39.7M108.3 704.5h57.3M62.1 708.1h35.3M106.1 708.1h57.3M59.9 711.7h105.7M57.7 715.4h35.3M101.7 715.4h61.7M55.5 719h101.3M53.3 722.6h4.5M66.5 722.6h92.5M51.1 726.2h105.7M213.9 726.2h0.1M48.9 729.9h118.9M42.3 733.5h132.1M196.3 733.5h0.1M213.9 733.5h0.1M40.1 737.1h105.7M154.5 737.1h26.5M189.7 737.1h8.9M37.9 740.8h162.9M35.7 744.4h162.9M211.7 744.4h0.1M37.9 748h162.9M213.9 748h0.1M40.1 751.7h30.9M79.7 751.7h132.1M37.9 755.3h35.3M81.9 755.3h118.9M218.3 755.3h4.5M40.1 758.9h35.3M84.1 758.9h114.5M224.9 758.9h0.1M42.3 762.5h158.5M235.9 762.5h0.1M22.5 766.2h8.9M44.5 766.2h154.1M229.3 766.2h0.1M20.3 769.8h176.1M231.5 769.8h4.5M22.5 773.4h171.7M20.3 777.1h171.7M227.1 777.1h0.1M235.9 777.1h0.1M18.1 780.7h176.1M242.5 780.7h0.1M20.3 784.3h158.5M187.5 784.3h0.1M200.7 784.3h4.5M18.1 788h171.7M20.3 791.6h189.3M22.5 795.2h184.9M24.7 798.8h184.9M26.9 802.5h193.7M29.1 806.1h189.3M31.3 809.7h189.3M29.1 813.4h189.3M31.3 817h184.9M224.9 817h0.1M33.5 820.6h118.9M161.1 820.6h52.9M40.1 824.3h171.7M42.3 827.9h167.3M48.9 831.5h158.5M59.9 835.1h132.1M62.1 838.8h127.7M64.3 842.4h123.3M70.9 846h110.1M77.5 849.7h88.1M84.1 853.3h79.3M86.3 856.9h74.9M92.9 860.6h79.3M95.1 864.2h83.7M97.3 867.8h57.3M163.3 867.8h13.3M99.5 871.4h66.1M101.7 875.1h61.7M103.9 878.7h57.3M106.1 882.3h22.1M136.9 882.3h26.5M112.7 886h4.5M139.1 886h22.1M136.9 889.6h22.1M143.5 893.2h13.3M150.1 896.9h0.1" stroke-dasharray="0 4.400"/>
<path id="f8" d="M88.5 700.8h0M42.3 777.1h0M216.1 817h0M130.3 835.1h0M141.3 860.6h0"/>
<path id="f9" d="M117.1 675.4h0M125.9 675.4h0M123.7 686.3h0M141.3 686.3h0M139.1 689.9h0M92.9 693.6h0M77.5 697.2h0M84.1 700.8h0M88.5 708.1h0M106.1 708.1h0M132.5 708.1h0M154.5 708.1h0M64.3 711.7h0M119.3 715.4h0M145.7 715.4h0M150.1 715.4h0M68.7 719h0M70.9 722.6h0M75.3 722.6h0M92.9 722.6h0M97.3 722.6h0M123.7 722.6h0M128.1 722.6h0M68.7 726.2h0M99.5 726.2h0M152.3 726.2h0M156.7 726.2h0M84.1 729.9h0M88.5 729.9h0M114.9 729.9h0M123.7 729.9h0M132.5 729.9h0M158.9 729.9h0M42.3 733.5h0M112.7 733.5h0M156.7 733.5h0M44.5 737.1h0M66.5 737.1h0M110.5 737.1h0M158.9 737.1h0M55.5 740.8h0M110.5 744.4h0M150.1 744.4h0M68.7 748h0M86.3 748h0M130.3 748h0M40.1 751.7h0M66.5 751.7h0M119.3 751.7h0M158.9 751.7h0M176.5 751.7h0M185.3 751.7h0M46.7 755.3h0M64.3 755.3h0M99.5 755.3h0M147.9 755.3h0M152.3 755.3h0M169.9 755.3h0M178.7 755.3h0M183.1 755.3h0M200.7 755.3h0M136.9 758.9h0M150.1 758.9h0M158.9 758.9h0M163.3 758.9h0M167.7 758.9h0M180.9 758.9h0M90.7 762.5h0M95.1 762.5h0M169.9 762.5h0M191.9 762.5h0M196.3 762.5h0M57.7 766.2h0M70.9 766.2h0M106.1 766.2h0M132.5 766.2h0M145.7 766.2h0M150.1 766.2h0M163.3 766.2h0M176.5 766.2h0M189.7 766.2h0M64.3 769.8h0M86.3 769.8h0M108.3 769.8h0M125.9 769.8h0M191.9 769.8h0M231.5 769.8h0M48.9 773.4h0M53.3 773.4h0M66.5 773.4h0M136.9 773.4h0M37.9 777.1h0M46.7 777.1h0M99.5 777.1h0M121.5 777.1h0M125.9 777.1h0M147.9 777.1h0M178.7 777.1h0M66.5 780.7h0M114.9 780.7h0M128.1 780.7h0M158.9 780.7h0M176.5 780.7h0M51.1 784.3h0M35.7 788h0M106.1 788h0M167.7 788h0M180.9 788h0M90.7 791.6h0M99.5 791.6h0M139.1 791.6h0M205.1 791.6h0M22.5 795.2h0M57.7 795.2h0M128.1 795.2h0M145.7 795.2h0M202.9 795.2h0M46.7 798.8h0M59.9 798.8h0M77.5 798.8h0M81.9 798.8h0M90.7 798.8h0M125.9 798.8h0M169.9 798.8h0M205.1 798.8h0M128.1 802.5h0M132.5 802.5h0M211.7 802.5h0M216.1 802.5h0M33.5 806.1h0M86.3 806.1h0M108.3 806.1h0M117.1 806.1h0M147.9 806.1h0M209.5 806.1h0M31.3 809.7h0M119.3 809.7h0M123.7 809.7h0M141.3 809.7h0M202.9 809.7h0M46.7 813.4h0M86.3 813.4h0M112.7 813.4h0M117.1 813.4h0M161.1 813.4h0M169.9 813.4h0M79.7 817h0M128.1 817h0M211.7 817h0M33.5 820.6h0M64.3 820.6h0M121.5 820.6h0M139.1 820.6h0M209.5 820.6h0M66.5 824.3h0M79.7 824.3h0M106.1 824.3h0M114.9 824.3h0M119.3 824.3h0M154.5 824.3h0M211.7 824.3h0M68.7 827.9h0M90.7 827.9h0M99.5 827.9h0M147.9 827.9h0M191.9 827.9h0M205.1 827.9h0M110.5 831.5h0M123.7 831.5h0M141.3 831.5h0M167.7 831.5h0M59.9 835.1h0M90.7 835.1h0M169.9 835.1h0M183.1 835.1h0M84.1 838.8h0M123.7 838.8h0M145.7 838.8h0M185.3 838.8h0M68.7 842.4h0M121.5 842.4h0M128.1 846h0M141.3 846h0M150.1 846h0M108.3 849.7h0M117.1 849.7h0M161.1 849.7h0M141.3 853.3h0M158.9 853.3h0M108.3 856.9h0M125.9 856.9h0M130.3 856.9h0M139.1 856.9h0M101.7 860.6h0M136.9 860.6h0M117.1 864.2h0M130.3 864.2h0M178.7 864.2h0M121.5 871.4h0M139.1 871.4h0M156.7 871.4h0M101.7 875.1h0M106.1 875.1h0M110.5 875.1h0M145.7 875.1h0M121.5 878.7h0M134.7 878.7h0M152.3 878.7h0M136.9 882.3h0M163.3 882.3h0M117.1 886h0M143.5 886h0M147.9 886h0M158.9 889.6h0"/>
<path id="f10" d="M130.3 682.7h0M88.5 686.3h0M110.5 686.3h0M136.9 686.3h0M134.7 689.9h0M143.5 689.9h0M79.7 693.6h0M101.7 693.6h0M119.3 693.6h0M128.1 693.6h0M73.1 697.2h0M81.9 697.2h0M70.9 700.8h0M77.5 704.5h0M90.7 704.5h0M125.9 704.5h0M139.1 704.5h0M75.3 708.1h0M84.1 708.1h0M110.5 708.1h0M119.3 708.1h0M75.3 715.4h0M79.7 715.4h0M84.1 715.4h0M106.1 715.4h0M123.7 715.4h0M163.3 715.4h0M73.1 719h0M147.9 719h0M119.3 722.6h0M136.9 722.6h0M55.5 726.2h0M59.9 726.2h0M77.5 726.2h0M81.9 726.2h0M86.3 726.2h0M95.1 726.2h0M108.3 726.2h0M134.7 726.2h0M147.9 726.2h0M57.7 729.9h0M62.1 729.9h0M75.3 729.9h0M79.7 729.9h0M101.7 729.9h0M110.5 729.9h0M119.3 729.9h0M154.5 729.9h0M46.7 733.5h0M64.3 733.5h0M73.1 733.5h0M108.3 733.5h0M121.5 733.5h0M134.7 733.5h0M174.3 733.5h0M213.9 733.5h0M48.9 737.1h0M79.7 737.1h0M119.3 737.1h0M123.7 737.1h0M128.1 737.1h0M145.7 737.1h0M189.7 737.1h0M198.5 737.1h0M42.3 740.8h0M68.7 740.8h0M169.9 740.8h0M183.1 740.8h0M196.3 740.8h0M200.7 740.8h0M35.7 744.4h0M40.1 744.4h0M53.3 744.4h0M75.3 744.4h0M84.1 744.4h0M88.5 744.4h0M106.1 744.4h0M132.5 744.4h0M145.7 744.4h0M163.3 744.4h0M176.5 744.4h0M180.9 744.4h0M194.1 744.4h0M211.7 744.4h0M42.3 748h0M77.5 748h0M90.7 748h0M112.7 748h0M152.3 748h0M156.7 748h0M165.5 748h0M174.3 748h0M187.5 748h0M213.9 748h0M44.5 751.7h0M88.5 751.7h0M141.3 751.7h0M145.7 751.7h0M150.1 751.7h0M154.5 751.7h0M167.7 751.7h0M194.1 751.7h0M42.3 755.3h0M55.5 755.3h0M121.5 755.3h0M139.1 755.3h0M191.9 755.3h0M196.3 755.3h0M222.7 755.3h0M53.3 758.9h0M57.7 758.9h0M101.7 758.9h0M106.1 758.9h0M114.9 758.9h0M189.7 758.9h0M224.9 758.9h0M42.3 762.5h0M59.9 762.5h0M103.9 762.5h0M117.1 762.5h0M130.3 762.5h0M156.7 762.5h0M174.3 762.5h0M178.7 762.5h0M187.5 762.5h0M44.5 766.2h0M48.9 766.2h0M53.3 766.2h0M75.3 766.2h0M84.1 766.2h0M92.9 766.2h0M110.5 766.2h0M114.9 766.2h0M136.9 766.2h0M180.9 766.2h0M46.7 769.8h0M73.1 769.8h0M95.1 769.8h0M99.5 769.8h0M156.7 769.8h0M174.3 769.8h0M178.7 769.8h0M187.5 769.8h0M196.3 769.8h0M26.9 773.4h0M35.7 773.4h0M44.5 773.4h0M57.7 773.4h0M70.9 773.4h0M75.3 773.4h0M84.1 773.4h0M128.1 773.4h0M141.3 773.4h0M163.3 773.4h0M176.5 773.4h0M180.9 773.4h0M185.3 773.4h0M189.7 773.4h0M20.3 777.1h0M29.1 777.1h0M33.5 777.1h0M73.1 777.1h0M81.9 777.1h0M130.3 777.1h0M143.5 777.1h0M174.3 777.1h0M183.1 777.1h0M187.5 777.1h0M22.5 780.7h0M26.9 780.7h0M31.3 780.7h0M35.7 780.7h0M40.1 780.7h0M48.9 780.7h0M84.1 780.7h0M92.9 780.7h0M119.3 780.7h0M136.9 780.7h0M185.3 780.7h0M194.1 780.7h0M29.1 784.3h0M37.9 784.3h0M59.9 784.3h0M90.7 784.3h0M95.1 784.3h0M99.5 784.3h0M117.1 784.3h0M121.5 784.3h0M125.9 784.3h0M130.3 784.3h0M134.7 784.3h0M143.5 784.3h0M187.5 784.3h0M200.7 784.3h0M22.5 788h0M31.3 788h0M40.1 788h0M48.9 788h0M53.3 788h0M70.9 788h0M75.3 788h0M92.9 788h0M97.3 788h0M110.5 788h0M136.9 788h0M145.7 788h0M176.5 788h0M185.3 788h0M51.1 791.6h0M77.5 791.6h0M112.7 791.6h0M117.1 791.6h0M125.9 791.6h0M130.3 791.6h0M134.7 791.6h0M147.9 791.6h0M165.5 791.6h0M174.3 791.6h0M178.7 791.6h0M183.1 791.6h0M191.9 791.6h0M196.3 791.6h0M209.5 791.6h0M35.7 795.2h0M84.1 795.2h0M88.5 795.2h0M132.5 795.2h0M150.1 795.2h0M172.1 795.2h0M180.9 795.2h0M185.3 795.2h0M198.5 795.2h0M24.7 798.8h0M33.5 798.8h0M51.1 798.8h0M55.5 798.8h0M86.3 798.8h0M95.1 798.8h0M103.9 798.8h0M183.1 798.8h0M200.7 798.8h0M35.7 802.5h0M40.1 802.5h0M48.9 802.5h0M66.5 802.5h0M79.7 802.5h0M84.1 802.5h0M88.5 802.5h0M92.9 802.5h0M97.3 802.5h0M106.1 802.5h0M123.7 802.5h0M145.7 802.5h0M176.5 802.5h0M198.5 802.5h0M202.9 802.5h0M207.3 802.5h0M42.3 806.1h0M51.1 806.1h0M95.1 806.1h0M103.9 806.1h0M121.5 806.1h0M125.9 806.1h0M134.7 806.1h0M143.5 806.1h0M200.7 806.1h0M35.7 809.7h0M48.9 809.7h0M53.3 809.7h0M66.5 809.7h0M75.3 809.7h0M84.1 809.7h0M114.9 809.7h0M132.5 809.7h0M136.9 809.7h0M150.1 809.7h0M154.5 809.7h0M158.9 809.7h0M207.3 809.7h0M216.1 809.7h0M55.5 813.4h0M64.3 813.4h0M90.7 813.4h0M121.5 813.4h0M125.9 813.4h0M156.7 813.4h0M165.5 813.4h0M174.3 813.4h0M191.9 813.4h0M200.7 813.4h0M205.1 813.4h0M209.5 813.4h0M213.9 813.4h0M44.5 817h0M53.3 817h0M75.3 817h0M97.3 817h0M106.1 817h0M110.5 817h0M114.9 817h0M119.3 817h0M132.5 817h0M145.7 817h0M198.5 817h0M202.9 817h0M207.3 817h0M51.1 820.6h0M81.9 820.6h0M130.3 820.6h0M134.7 820.6h0M143.5 820.6h0M152.3 820.6h0M183.1 820.6h0M205.1 820.6h0M213.9 820.6h0M44.5 824.3h0M53.3 824.3h0M57.7 824.3h0M88.5 824.3h0M110.5 824.3h0M132.5 824.3h0M136.9 824.3h0M141.3 824.3h0M145.7 824.3h0M150.1 824.3h0M176.5 824.3h0M189.7 824.3h0M198.5 824.3h0M202.9 824.3h0M95.1 827.9h0M108.3 827.9h0M112.7 827.9h0M125.9 827.9h0M130.3 827.9h0M134.7 827.9h0M143.5 827.9h0M156.7 827.9h0M178.7 827.9h0M200.7 827.9h0M209.5 827.9h0M57.7 831.5h0M88.5 831.5h0M119.3 831.5h0M128.1 831.5h0M132.5 831.5h0M150.1 831.5h0M207.3 831.5h0M64.3 835.1h0M68.7 835.1h0M73.1 835.1h0M81.9 835.1h0M86.3 835.1h0M103.9 835.1h0M108.3 835.1h0M121.5 835.1h0M125.9 835.1h0M156.7 835.1h0M66.5 838.8h0M88.5 838.8h0M119.3 838.8h0M132.5 838.8h0M154.5 838.8h0M158.9 838.8h0M167.7 838.8h0M90.7 842.4h0M95.1 842.4h0M103.9 842.4h0M117.1 842.4h0M143.5 842.4h0M152.3 842.4h0M174.3 842.4h0M97.3 846h0M101.7 846h0M132.5 846h0M145.7 846h0M154.5 846h0M158.9 846h0M172.1 846h0M121.5 849.7h0M130.3 849.7h0M134.7 849.7h0M143.5 849.7h0M165.5 849.7h0M88.5 853.3h0M123.7 853.3h0M128.1 853.3h0M150.1 853.3h0M154.5 853.3h0M90.7 856.9h0M95.1 856.9h0M112.7 856.9h0M117.1 856.9h0M143.5 856.9h0M147.9 856.9h0M97.3 860.6h0M106.1 860.6h0M114.9 860.6h0M128.1 860.6h0M132.5 860.6h0M145.7 860.6h0M167.7 860.6h0M95.1 864.2h0M139.1 864.2h0M147.9 864.2h0M161.1 864.2h0M169.9 864.2h0M174.3 864.2h0M97.3 867.8h0M106.1 867.8h0M114.9 867.8h0M123.7 867.8h0M150.1 867.8h0M176.5 867.8h0M108.3 871.4h0M117.1 871.4h0M125.9 871.4h0M130.3 871.4h0M134.7 871.4h0M147.9 871.4h0M123.7 875.1h0M128.1 875.1h0M132.5 875.1h0M136.9 875.1h0M158.9 875.1h0M117.1 878.7h0M130.3 878.7h0M139.1 878.7h0M156.7 878.7h0M123.7 882.3h0M145.7 882.3h0M158.9 882.3h0M112.7 886h0M156.7 886h0M161.1 886h0"/>
<path id="f12" d="M121.5 675.4h0M110.5 679.1h0M114.9 679.1h0M90.7 682.7h0M134.7 682.7h0M114.9 686.3h0M86.3 689.9h0M117.1 689.9h0M121.5 689.9h0M152.3 689.9h0M145.7 693.6h0M108.3 697.2h0M147.9 697.2h0M152.3 697.2h0M75.3 700.8h0M92.9 700.8h0M132.5 700.8h0M154.5 700.8h0M163.3 700.8h0M64.3 704.5h0M112.7 704.5h0M117.1 704.5h0M130.3 704.5h0M134.7 704.5h0M152.3 704.5h0M161.1 704.5h0M92.9 708.1h0M114.9 708.1h0M68.7 711.7h0M73.1 711.7h0M86.3 711.7h0M99.5 711.7h0M103.9 711.7h0M147.9 711.7h0M156.7 711.7h0M88.5 715.4h0M114.9 715.4h0M154.5 715.4h0M59.9 719h0M64.3 719h0M81.9 719h0M95.1 719h0M99.5 719h0M112.7 719h0M143.5 719h0M152.3 719h0M57.7 722.6h0M66.5 722.6h0M88.5 722.6h0M110.5 722.6h0M132.5 722.6h0M51.1 726.2h0M73.1 726.2h0M103.9 726.2h0M121.5 726.2h0M139.1 726.2h0M143.5 726.2h0M106.1 729.9h0M81.9 733.5h0M99.5 733.5h0M143.5 733.5h0M147.9 733.5h0M152.3 733.5h0M196.3 733.5h0M132.5 737.1h0M172.1 737.1h0M95.1 740.8h0M103.9 740.8h0M108.3 740.8h0M117.1 740.8h0M134.7 740.8h0M174.3 740.8h0M178.7 740.8h0M48.9 744.4h0M66.5 744.4h0M92.9 744.4h0M101.7 744.4h0M189.7 744.4h0M198.5 744.4h0M51.1 748h0M55.5 748h0M59.9 748h0M95.1 748h0M143.5 748h0M200.7 748h0M62.1 751.7h0M97.3 751.7h0M172.1 751.7h0M198.5 751.7h0M68.7 755.3h0M95.1 755.3h0M112.7 755.3h0M130.3 755.3h0M66.5 758.9h0M70.9 758.9h0M88.5 758.9h0M97.3 758.9h0M123.7 758.9h0M145.7 758.9h0M51.1 762.5h0M64.3 762.5h0M108.3 762.5h0M121.5 762.5h0M147.9 762.5h0M183.1 762.5h0M200.7 762.5h0M235.9 762.5h0M22.5 766.2h0M26.9 766.2h0M31.3 766.2h0M79.7 766.2h0M88.5 766.2h0M97.3 766.2h0M119.3 766.2h0M154.5 766.2h0M112.7 769.8h0M134.7 769.8h0M139.1 769.8h0M147.9 769.8h0M152.3 769.8h0M161.1 769.8h0M132.5 773.4h0M172.1 773.4h0M59.9 777.1h0M77.5 777.1h0M90.7 777.1h0M103.9 777.1h0M112.7 777.1h0M152.3 777.1h0M156.7 777.1h0M191.9 777.1h0M57.7 780.7h0M88.5 780.7h0M141.3 780.7h0M154.5 780.7h0M64.3 784.3h0M68.7 784.3h0M73.1 784.3h0M152.3 784.3h0M169.9 784.3h0M178.7 784.3h0M57.7 788h0M84.1 788h0M88.5 788h0M154.5 788h0M158.9 788h0M189.7 788h0M24.7 791.6h0M33.5 791.6h0M55.5 791.6h0M64.3 791.6h0M103.9 791.6h0M156.7 791.6h0M200.7 791.6h0M141.3 795.2h0M189.7 795.2h0M139.1 798.8h0M147.9 798.8h0M165.5 798.8h0M62.1 802.5h0M101.7 802.5h0M150.1 802.5h0M194.1 802.5h0M68.7 806.1h0M81.9 806.1h0M99.5 806.1h0M156.7 806.1h0M165.5 806.1h0M169.9 806.1h0M174.3 806.1h0M178.7 806.1h0M183.1 806.1h0M191.9 806.1h0M205.1 806.1h0M57.7 809.7h0M145.7 809.7h0M167.7 809.7h0M172.1 809.7h0M189.7 809.7h0M37.9 813.4h0M95.1 813.4h0M99.5 813.4h0M139.1 813.4h0M178.7 813.4h0M66.5 817h0M176.5 817h0M185.3 817h0M37.9 820.6h0M42.3 820.6h0M59.9 820.6h0M90.7 820.6h0M103.9 820.6h0M112.7 820.6h0M161.1 820.6h0M191.9 820.6h0M92.9 824.3h0M158.9 824.3h0M163.3 824.3h0M167.7 824.3h0M55.5 827.9h0M86.3 827.9h0M117.1 827.9h0M165.5 827.9h0M70.9 831.5h0M163.3 831.5h0M172.1 831.5h0M176.5 831.5h0M180.9 831.5h0M185.3 831.5h0M77.5 835.1h0M99.5 835.1h0M134.7 835.1h0M187.5 835.1h0M191.9 835.1h0M92.9 838.8h0M101.7 838.8h0M141.3 838.8h0M150.1 838.8h0M176.5 838.8h0M180.9 838.8h0M189.7 838.8h0M77.5 842.4h0M108.3 842.4h0M156.7 842.4h0M165.5 842.4h0M187.5 842.4h0M70.9 846h0M79.7 846h0M84.1 846h0M119.3 846h0M163.3 846h0M176.5 846h0M86.3 849.7h0M90.7 849.7h0M106.1 853.3h0M110.5 853.3h0M119.3 853.3h0M163.3 853.3h0M99.5 856.9h0M156.7 856.9h0M92.9 860.6h0M99.5 864.2h0M167.7 867.8h0M161.1 871.4h0M114.9 875.1h0M150.1 875.1h0M163.3 875.1h0M110.5 882.3h0M114.9 882.3h0M152.3 886h0M150.1 889.6h0M152.3 893.2h0M150.1 896.9h0"/>
<path id="f13" d="M99.5 697.2h0M112.7 697.2h0M101.7 700.8h0M119.3 700.8h0M150.1 700.8h0M165.5 704.5h0M66.5 708.1h0M130.3 711.7h0M57.7 715.4h0M101.7 715.4h0M55.5 719h0M86.3 719h0M134.7 719h0M150.1 722.6h0M68.7 733.5h0M117.1 733.5h0M88.5 737.1h0M176.5 737.1h0M185.3 744.4h0M81.9 748h0M84.1 751.7h0M114.9 751.7h0M128.1 751.7h0M125.9 762.5h0M139.1 762.5h0M198.5 766.2h0M62.1 773.4h0M150.1 780.7h0M121.5 791.6h0M62.1 795.2h0M42.3 798.8h0M209.5 798.8h0M26.9 802.5h0M31.3 802.5h0M218.3 806.1h0M163.3 809.7h0M194.1 809.7h0M211.7 809.7h0M101.7 817h0M200.7 820.6h0M161.1 827.9h0M174.3 827.9h0M174.3 835.1h0M134.7 842.4h0M139.1 842.4h0M180.9 846h0M136.9 853.3h0M158.9 860.6h0M119.3 867.8h0M154.5 867.8h0M139.1 886h0M141.3 889.6h0"/>
<path id="f14" d="M123.7 679.1h0M117.1 682.7h0M81.9 689.9h0M147.9 689.9h0M110.5 693.6h0M130.3 697.2h0M145.7 700.8h0M73.1 704.5h0M86.3 704.5h0M99.5 704.5h0M108.3 704.5h0M97.3 708.1h0M123.7 708.1h0M145.7 708.1h0M108.3 711.7h0M125.9 711.7h0M77.5 719h0M130.3 719h0M139.1 719h0M97.3 737.1h0M141.3 737.1h0M37.9 740.8h0M90.7 740.8h0M119.3 744.4h0M136.9 744.4h0M37.9 748h0M125.9 748h0M169.9 748h0M132.5 751.7h0M37.9 755.3h0M218.3 755.3h0M84.1 758.9h0M62.1 766.2h0M101.7 766.2h0M42.3 769.8h0M31.3 773.4h0M154.5 773.4h0M101.7 780.7h0M123.7 795.2h0M37.9 798.8h0M187.5 798.8h0M119.3 802.5h0M189.7 802.5h0M130.3 806.1h0M152.3 806.1h0M213.9 806.1h0M163.3 817h0M95.1 820.6h0M101.7 831.5h0M198.5 831.5h0M103.9 849.7h0M110.5 860.6h0M112.7 864.2h0M99.5 871.4h0M103.9 871.4h0M154.5 875.1h0M119.3 882.3h0"/>
<path id="f15" d="M123.7 671.8h0M128.1 686.3h0M112.7 689.9h0M110.5 700.8h0M123.7 700.8h0M128.1 700.8h0M158.9 700.8h0M147.9 704.5h0M136.9 708.1h0M141.3 708.1h0M158.9 708.1h0M134.7 711.7h0M165.5 711.7h0M141.3 715.4h0M106.1 722.6h0M114.9 722.6h0M145.7 722.6h0M130.3 726.2h0M53.3 729.9h0M145.7 729.9h0M163.3 729.9h0M86.3 733.5h0M180.9 737.1h0M81.9 740.8h0M130.3 740.8h0M139.1 740.8h0M187.5 740.8h0M191.9 740.8h0M154.5 744.4h0M86.3 762.5h0M22.5 773.4h0M70.9 780.7h0M75.3 780.7h0M79.7 780.7h0M165.5 784.3h0M62.1 788h0M46.7 791.6h0M79.7 795.2h0M174.3 798.8h0M196.3 798.8h0M154.5 802.5h0M29.1 806.1h0M189.7 817h0M101.7 824.3h0M123.7 824.3h0M59.9 827.9h0M112.7 835.1h0M152.3 835.1h0M79.7 838.8h0M139.1 849.7h0M103.9 878.7h0M150.1 882.3h0M145.7 889.6h0"/>
<path id="f16" d="M114.9 693.6h0M68.7 704.5h0M156.7 704.5h0M150.1 708.1h0M143.5 711.7h0M141.3 722.6h0M62.1 744.4h0M163.3 751.7h0M81.9 769.8h0M110.5 773.4h0M161.1 791.6h0M110.5 795.2h0M158.9 802.5h0M194.1 817h0M165.5 820.6h0M110.5 867.8h0"/>
<path id="f18" d="M114.9 737.1h0M97.3 744.4h0M40.1 758.9h0M92.9 758.9h0M33.5 784.3h0"/>
<path id="f19" d="M112.7 682.7h0M117.1 697.2h0M143.5 697.2h0M163.3 708.1h0M125.9 733.5h0M112.7 798.8h0"/>
</defs>
<use href="#f" stroke="#cfcdbe" stroke-width="4.60"/>
<use href="#f8" stroke="#c9d4d4" stroke-width="4.60"/>
<use href="#f9" stroke="#d1d9cd" stroke-width="4.60"/>
<use href="#f10" stroke="#cccdc1" stroke-width="4.60"/>
<use href="#f12" stroke="#c8c2b2" stroke-width="4.60"/>
<use href="#f13" stroke="#ab9882" stroke-width="4.60"/>
<use href="#f14" stroke="#a68a75" stroke-width="4.60"/>
<use href="#f15" stroke="#9f7968" stroke-width="4.60"/>
<use href="#f16" stroke="#97685b" stroke-width="4.60"/>
<use href="#f18" stroke="#813e45" stroke-width="4.60"/>
<use href="#f19" stroke="#6b2638" stroke-width="4.60"/>
<use href="#f" stroke="#f6f1c6" stroke-width="2.60"/>
<use href="#f8" stroke="#d4e1e1" stroke-width="2.60"/>
<use href="#f9" stroke="#dde7d9" stroke-width="2.60"/>
<use href="#f10" stroke="#eff0cf" stroke-width="2.60"/>
<use href="#f12" stroke="#f5e2b5" stroke-width="2.60"/>
<use href="#f13" stroke="#f3cfa4" stroke-width="2.60"/>
<use href="#f14" stroke="#efba92" stroke-width="2.60"/>
<use href="#f15" stroke="#e9a07f" stroke-width="2.60"/>
<use href="#f16" stroke="#e1866e" stroke-width="2.60"/>
<use href="#f18" stroke="#c74753" stroke-width="2.60"/>
<use href="#f19" stroke="#a82346" stroke-width="2.60"/>
</g>
<!-- panel g -->
<g fill="none" stroke-linecap="round">
<defs>
<path id="g" d="M386.6 674.3h0.1M380.1 677.9h8.8M373.6 681.5h21.8M354 685.1h0.1M375.7 685.1h26.2M351.8 688.7h4.4M373.6 688.7h34.9M345.3 692.4h13.1M375.7 692.4h39.3M343.1 696h21.8M373.6 696h43.6M327.8 699.6h34.9M371.4 699.6h48M325.6 703.2h39.3M373.6 703.2h0.1M382.3 703.2h43.6M323.5 706.8h39.3M371.4 706.8h56.7M325.6 710.4h34.9M369.2 710.4h56.7M323.5 714h104.6M321.3 717.6h34.9M364.9 717.6h61M319.1 721.3h100.2M316.9 724.9h4.4M330 724.9h91.5M314.8 728.5h104.6M475.9 728.5h0.1M312.6 732.1h117.7M306 735.7h130.7M458.5 735.7h0.1M475.9 735.7h0.1M303.9 739.3h104.6M417.1 739.3h26.2M452 739.3h8.8M301.7 742.9h161.2M299.5 746.5h161.2M473.8 746.5h0.1M301.7 750.1h161.2M475.9 750.1h0.1M303.9 753.8h30.6M343.1 753.8h130.7M301.7 757.4h34.9M345.3 757.4h117.7M480.3 757.4h4.4M303.9 761h34.9M347.4 761h113.3M486.8 761h0.1M306 764.6h156.9M497.7 764.6h0.1M286.4 768.2h8.8M308.2 768.2h152.5M491.2 768.2h0.1M284.3 771.8h174.3M493.4 771.8h4.4M286.4 775.4h169.9M284.3 779h169.9M489 779h0.1M497.7 779h0.1M282.1 782.7h174.3M504.2 782.7h0.1M284.3 786.3h156.9M449.8 786.3h0.1M462.9 786.3h4.4M282.1 789.9h169.9M284.3 793.5h187.4M286.4 797.1h183M288.6 800.7h183M290.8 804.3h191.7M293 807.9h187.4M295.2 811.6h187.4M293 815.2h187.4M295.2 818.8h183M486.8 818.8h0.1M297.3 822.4h117.7M423.7 822.4h52.3M303.9 826h169.9M306 829.6h165.6M312.6 833.2h156.9M323.5 836.8h130.7M325.6 840.4h126.4M327.8 844.1h122M334.4 847.7h109M340.9 851.3h87.2M347.4 854.9h78.5M349.6 858.5h74.1M356.1 862.1h78.5M358.3 865.7h82.8M360.5 869.3h56.7M425.8 869.3h13.1M362.7 873h65.4M364.9 876.6h61M367 880.2h56.7M369.2 883.8h21.8M399.7 883.8h26.2M375.7 887.4h4.4M401.9 887.4h21.8M399.7 891h21.8M406.2 894.6h13.1M412.8 898.2h0.1" stroke-dasharray="0 4.356"/>
<path id="g7" d="M323.5 793.5h0M419.3 793.5h0M319.1 822.4h0M410.6 829.6h0"/>
<path id="g8" d="M349.6 699.6h0M356.1 724.9h0M421.5 724.9h0M312.6 739.3h0M421.5 739.3h0M423.7 742.9h0M299.5 746.5h0M349.6 750.1h0M410.6 750.1h0M436.7 750.1h0M445.4 750.1h0M312.6 753.8h0M343.1 753.8h0M347.4 753.8h0M351.8 753.8h0M356.1 753.8h0M425.8 753.8h0M434.5 753.8h0M354 757.4h0M358.3 757.4h0M371.4 757.4h0M406.2 757.4h0M428 757.4h0M445.4 757.4h0M316.9 761h0M321.3 761h0M356.1 761h0M360.5 761h0M369.2 761h0M395.3 761h0M438.9 761h0M452 761h0M349.6 764.6h0M362.7 764.6h0M371.4 764.6h0M406.2 764.6h0M445.4 764.6h0M360.5 768.2h0M377.9 768.2h0M395.3 768.2h0M430.2 768.2h0M491.2 768.2h0M297.3 771.8h0M310.4 771.8h0M314.8 771.8h0M401.9 771.8h0M308.2 775.4h0M351.8 775.4h0M356.1 775.4h0M360.5 775.4h0M369.2 775.4h0M391 775.4h0M404.1 775.4h0M349.6 779h0M354 779h0M358.3 779h0M371.4 779h0M401.9 779h0M410.6 779h0M414.9 779h0M423.7 779h0M312.6 782.7h0M330 782.7h0M338.7 782.7h0M343.1 782.7h0M373.6 782.7h0M382.3 782.7h0M443.3 782.7h0M323.5 786.3h0M362.7 786.3h0M371.4 786.3h0M410.6 786.3h0M441.1 786.3h0M316.9 789.9h0M325.6 789.9h0M330 789.9h0M364.9 789.9h0M369.2 789.9h0M373.6 789.9h0M377.9 789.9h0M382.3 789.9h0M386.6 789.9h0M395.3 789.9h0M399.7 789.9h0M332.2 793.5h0M345.3 793.5h0M358.3 793.5h0M375.7 793.5h0M380.1 793.5h0M384.5 793.5h0M393.2 793.5h0M401.9 793.5h0M414.9 793.5h0M445.4 793.5h0M458.5 793.5h0M467.2 793.5h0M308.2 797.1h0M325.6 797.1h0M334.4 797.1h0M338.7 797.1h0M430.2 797.1h0M438.9 797.1h0M327.8 800.7h0M332.2 800.7h0M358.3 800.7h0M371.4 800.7h0M401.9 800.7h0M454.2 800.7h0M391 804.3h0M408.4 804.3h0M336.5 807.9h0M397.5 807.9h0M445.4 807.9h0M316.9 811.6h0M351.8 811.6h0M386.6 811.6h0M391 811.6h0M404.1 811.6h0M452 811.6h0M293 815.2h0M323.5 815.2h0M345.3 815.2h0M367 815.2h0M384.5 815.2h0M397.5 815.2h0M401.9 815.2h0M406.2 815.2h0M410.6 815.2h0M338.7 818.8h0M404.1 818.8h0M408.4 818.8h0M336.5 822.4h0M345.3 822.4h0M349.6 822.4h0M367 822.4h0M414.9 822.4h0M321.3 826h0M330 826h0M334.4 826h0M377.9 826h0M399.7 826h0M412.8 826h0M319.1 829.6h0M336.5 829.6h0M349.6 829.6h0M393.2 829.6h0M401.9 829.6h0M321.3 833.2h0M334.4 833.2h0M338.7 833.2h0M373.6 833.2h0M386.6 833.2h0M391 833.2h0M404.1 833.2h0M408.4 833.2h0M414.9 836.8h0M404.1 840.4h0M412.8 840.4h0M397.5 844.1h0M356.1 847.7h0M399.7 847.7h0M354 851.3h0M393.2 851.3h0M386.6 862.1h0M412.8 869.3h0M375.7 873h0M377.9 876.6h0M410.6 880.2h0"/>
<path id="g10" d="M386.6 674.3h0M384.5 677.9h0M388.8 677.9h0M373.6 681.5h0M377.9 681.5h0M391 681.5h0M395.3 681.5h0M354 685.1h0M375.7 685.1h0M388.8 685.1h0M356.1 688.7h0M373.6 688.7h0M377.9 688.7h0M382.3 688.7h0M399.7 688.7h0M358.3 692.4h0M375.7 692.4h0M384.5 692.4h0M397.5 692.4h0M343.1 696h0M351.8 696h0M360.5 696h0M364.9 696h0M373.6 696h0M377.9 696h0M382.3 696h0M386.6 696h0M408.4 696h0M417.1 696h0M332.2 699.6h0M336.5 699.6h0M345.3 699.6h0M362.7 699.6h0M375.7 699.6h0M414.9 699.6h0M419.3 699.6h0M338.7 703.2h0M351.8 703.2h0M360.5 703.2h0M364.9 703.2h0M373.6 703.2h0M408.4 703.2h0M412.8 703.2h0M421.5 703.2h0M425.8 703.2h0M332.2 706.8h0M345.3 706.8h0M349.6 706.8h0M358.3 706.8h0M375.7 706.8h0M380.1 706.8h0M388.8 706.8h0M393.2 706.8h0M397.5 706.8h0M419.3 706.8h0M423.7 706.8h0M428 706.8h0M330 710.4h0M338.7 710.4h0M347.4 710.4h0M356.1 710.4h0M369.2 710.4h0M373.6 710.4h0M377.9 710.4h0M399.7 710.4h0M412.8 710.4h0M327.8 714h0M332.2 714h0M336.5 714h0M340.9 714h0M362.7 714h0M367 714h0M371.4 714h0M384.5 714h0M397.5 714h0M401.9 714h0M406.2 714h0M410.6 714h0M414.9 714h0M428 714h0M325.6 717.6h0M330 717.6h0M338.7 717.6h0M347.4 717.6h0M364.9 717.6h0M377.9 717.6h0M382.3 717.6h0M386.6 717.6h0M404.1 717.6h0M408.4 717.6h0M412.8 717.6h0M417.1 717.6h0M421.5 717.6h0M327.8 721.3h0M332.2 721.3h0M345.3 721.3h0M349.6 721.3h0M358.3 721.3h0M362.7 721.3h0M371.4 721.3h0M375.7 721.3h0M380.1 721.3h0M388.8 721.3h0M393.2 721.3h0M397.5 721.3h0M406.2 721.3h0M410.6 721.3h0M419.3 721.3h0M321.3 724.9h0M330 724.9h0M334.4 724.9h0M347.4 724.9h0M364.9 724.9h0M369.2 724.9h0M373.6 724.9h0M377.9 724.9h0M382.3 724.9h0M386.6 724.9h0M391 724.9h0M404.1 724.9h0M412.8 724.9h0M314.8 728.5h0M319.1 728.5h0M323.5 728.5h0M327.8 728.5h0M340.9 728.5h0M345.3 728.5h0M349.6 728.5h0M358.3 728.5h0M371.4 728.5h0M375.7 728.5h0M380.1 728.5h0M384.5 728.5h0M393.2 728.5h0M401.9 728.5h0M406.2 728.5h0M414.9 728.5h0M321.3 732.1h0M330 732.1h0M347.4 732.1h0M356.1 732.1h0M360.5 732.1h0M373.6 732.1h0M382.3 732.1h0M386.6 732.1h0M395.3 732.1h0M408.4 732.1h0M417.1 732.1h0M310.4 735.7h0M319.1 735.7h0M327.8 735.7h0M340.9 735.7h0M354 735.7h0M362.7 735.7h0M367 735.7h0M371.4 735.7h0M375.7 735.7h0M380.1 735.7h0M384.5 735.7h0M388.8 735.7h0M393.2 735.7h0M397.5 735.7h0M414.9 735.7h0M432.4 735.7h0M475.9 735.7h0M303.9 739.3h0M308.2 739.3h0M321.3 739.3h0M343.1 739.3h0M356.1 739.3h0M360.5 739.3h0M364.9 739.3h0M369.2 739.3h0M373.6 739.3h0M377.9 739.3h0M382.3 739.3h0M399.7 739.3h0M408.4 739.3h0M417.1 739.3h0M425.8 739.3h0M443.3 739.3h0M460.7 739.3h0M301.7 742.9h0M310.4 742.9h0M314.8 742.9h0M323.5 742.9h0M327.8 742.9h0M345.3 742.9h0M349.6 742.9h0M367 742.9h0M380.1 742.9h0M401.9 742.9h0M414.9 742.9h0M432.4 742.9h0M436.7 742.9h0M458.5 742.9h0M316.9 746.5h0M330 746.5h0M343.1 746.5h0M351.8 746.5h0M364.9 746.5h0M386.6 746.5h0M425.8 746.5h0M430.2 746.5h0M434.5 746.5h0M443.3 746.5h0M447.6 746.5h0M456.3 746.5h0M306 750.1h0M314.8 750.1h0M319.1 750.1h0M323.5 750.1h0M327.8 750.1h0M332.2 750.1h0M354 750.1h0M358.3 750.1h0M367 750.1h0M384.5 750.1h0M432.4 750.1h0M449.8 750.1h0M454.2 750.1h0M458.5 750.1h0M462.9 750.1h0M475.9 750.1h0M321.3 753.8h0M325.6 753.8h0M330 753.8h0M334.4 753.8h0M364.9 753.8h0M377.9 753.8h0M386.6 753.8h0M391 753.8h0M404.1 753.8h0M421.5 753.8h0M438.9 753.8h0M443.3 753.8h0M469.4 753.8h0M473.8 753.8h0M301.7 757.4h0M314.8 757.4h0M319.1 757.4h0M323.5 757.4h0M327.8 757.4h0M336.5 757.4h0M375.7 757.4h0M384.5 757.4h0M388.8 757.4h0M393.2 757.4h0M401.9 757.4h0M436.7 757.4h0M462.9 757.4h0M484.6 757.4h0M308.2 761h0M334.4 761h0M373.6 761h0M377.9 761h0M391 761h0M412.8 761h0M421.5 761h0M447.6 761h0M310.4 764.6h0M319.1 764.6h0M323.5 764.6h0M327.8 764.6h0M332.2 764.6h0M380.1 764.6h0M384.5 764.6h0M388.8 764.6h0M410.6 764.6h0M458.5 764.6h0M462.9 764.6h0M497.7 764.6h0M290.8 768.2h0M295.2 768.2h0M308.2 768.2h0M330 768.2h0M338.7 768.2h0M351.8 768.2h0M391 768.2h0M408.4 768.2h0M417.1 768.2h0M421.5 768.2h0M425.8 768.2h0M434.5 768.2h0M438.9 768.2h0M284.3 771.8h0M288.6 771.8h0M323.5 771.8h0M332.2 771.8h0M336.5 771.8h0M340.9 771.8h0M345.3 771.8h0M349.6 771.8h0M354 771.8h0M367 771.8h0M384.5 771.8h0M397.5 771.8h0M423.7 771.8h0M441.1 771.8h0M454.2 771.8h0M493.4 771.8h0M497.7 771.8h0M286.4 775.4h0M290.8 775.4h0M295.2 775.4h0M299.5 775.4h0M312.6 775.4h0M316.9 775.4h0M386.6 775.4h0M434.5 775.4h0M438.9 775.4h0M443.3 775.4h0M456.3 775.4h0M297.3 779h0M319.1 779h0M323.5 779h0M340.9 779h0M345.3 779h0M380.1 779h0M384.5 779h0M388.8 779h0M419.3 779h0M428 779h0M432.4 779h0M449.8 779h0M454.2 779h0M489 779h0M286.4 782.7h0M316.9 782.7h0M334.4 782.7h0M364.9 782.7h0M399.7 782.7h0M404.1 782.7h0M434.5 782.7h0M456.3 782.7h0M504.2 782.7h0M284.3 786.3h0M293 786.3h0M306 786.3h0M310.4 786.3h0M319.1 786.3h0M332.2 786.3h0M336.5 786.3h0M345.3 786.3h0M349.6 786.3h0M388.8 786.3h0M393.2 786.3h0M423.7 786.3h0M436.7 786.3h0M282.1 789.9h0M286.4 789.9h0M295.2 789.9h0M299.5 789.9h0M312.6 789.9h0M360.5 789.9h0M412.8 789.9h0M421.5 789.9h0M438.9 789.9h0M443.3 789.9h0M447.6 789.9h0M452 789.9h0M284.3 793.5h0M288.6 793.5h0M301.7 793.5h0M306 793.5h0M354 793.5h0M367 793.5h0M410.6 793.5h0M423.7 793.5h0M428 793.5h0M462.9 793.5h0M471.6 793.5h0M286.4 797.1h0M290.8 797.1h0M295.2 797.1h0M299.5 797.1h0M303.9 797.1h0M434.5 797.1h0M447.6 797.1h0M456.3 797.1h0M465 797.1h0M293 800.7h0M297.3 800.7h0M301.7 800.7h0M306 800.7h0M310.4 800.7h0M340.9 800.7h0M362.7 800.7h0M367 800.7h0M423.7 800.7h0M436.7 800.7h0M449.8 800.7h0M462.9 800.7h0M290.8 804.3h0M295.2 804.3h0M303.9 804.3h0M312.6 804.3h0M316.9 804.3h0M364.9 804.3h0M369.2 804.3h0M373.6 804.3h0M377.9 804.3h0M395.3 804.3h0M417.1 804.3h0M425.8 804.3h0M434.5 804.3h0M443.3 804.3h0M456.3 804.3h0M473.8 804.3h0M478.1 804.3h0M482.5 804.3h0M297.3 807.9h0M301.7 807.9h0M306 807.9h0M327.8 807.9h0M332.2 807.9h0M345.3 807.9h0M354 807.9h0M375.7 807.9h0M380.1 807.9h0M388.8 807.9h0M428 807.9h0M436.7 807.9h0M454.2 807.9h0M471.6 807.9h0M475.9 807.9h0M480.3 807.9h0M308.2 811.6h0M312.6 811.6h0M325.6 811.6h0M330 811.6h0M334.4 811.6h0M343.1 811.6h0M347.4 811.6h0M382.3 811.6h0M408.4 811.6h0M421.5 811.6h0M425.8 811.6h0M430.2 811.6h0M434.5 811.6h0M443.3 811.6h0M456.3 811.6h0M469.4 811.6h0M473.8 811.6h0M482.5 811.6h0M301.7 815.2h0M306 815.2h0M310.4 815.2h0M327.8 815.2h0M332.2 815.2h0M380.1 815.2h0M419.3 815.2h0M423.7 815.2h0M432.4 815.2h0M441.1 815.2h0M445.4 815.2h0M458.5 815.2h0M480.3 815.2h0M299.5 818.8h0M303.9 818.8h0M330 818.8h0M347.4 818.8h0M351.8 818.8h0M369.2 818.8h0M373.6 818.8h0M377.9 818.8h0M382.3 818.8h0M391 818.8h0M395.3 818.8h0M417.1 818.8h0M425.8 818.8h0M430.2 818.8h0M434.5 818.8h0M438.9 818.8h0M443.3 818.8h0M452 818.8h0M456.3 818.8h0M478.1 818.8h0M301.7 822.4h0M306 822.4h0M358.3 822.4h0M362.7 822.4h0M371.4 822.4h0M384.5 822.4h0M388.8 822.4h0M397.5 822.4h0M401.9 822.4h0M428 822.4h0M432.4 822.4h0M445.4 822.4h0M449.8 822.4h0M454.2 822.4h0M458.5 822.4h0M467.2 822.4h0M325.6 826h0M360.5 826h0M369.2 826h0M386.6 826h0M417.1 826h0M421.5 826h0M425.8 826h0M447.6 826h0M460.7 826h0M354 829.6h0M371.4 829.6h0M375.7 829.6h0M419.3 829.6h0M423.7 829.6h0M432.4 829.6h0M454.2 829.6h0M467.2 829.6h0M312.6 833.2h0M330 833.2h0M347.4 833.2h0M351.8 833.2h0M377.9 833.2h0M399.7 833.2h0M421.5 833.2h0M425.8 833.2h0M443.3 833.2h0M452 833.2h0M460.7 833.2h0M469.4 833.2h0M327.8 836.8h0M358.3 836.8h0M362.7 836.8h0M371.4 836.8h0M375.7 836.8h0M397.5 836.8h0M428 836.8h0M441.1 836.8h0M445.4 836.8h0M449.8 836.8h0M330 840.4h0M351.8 840.4h0M356.1 840.4h0M364.9 840.4h0M382.3 840.4h0M408.4 840.4h0M417.1 840.4h0M425.8 840.4h0M434.5 840.4h0M447.6 840.4h0M452 840.4h0M327.8 844.1h0M349.6 844.1h0M354 844.1h0M362.7 844.1h0M371.4 844.1h0M380.1 844.1h0M388.8 844.1h0M401.9 844.1h0M428 844.1h0M334.4 847.7h0M351.8 847.7h0M369.2 847.7h0M373.6 847.7h0M382.3 847.7h0M391 847.7h0M395.3 847.7h0M417.1 847.7h0M425.8 847.7h0M430.2 847.7h0M434.5 847.7h0M438.9 847.7h0M345.3 851.3h0M349.6 851.3h0M362.7 851.3h0M367 851.3h0M371.4 851.3h0M375.7 851.3h0M380.1 851.3h0M388.8 851.3h0M410.6 851.3h0M414.9 851.3h0M428 851.3h0M351.8 854.9h0M360.5 854.9h0M364.9 854.9h0M373.6 854.9h0M382.3 854.9h0M391 854.9h0M404.1 854.9h0M408.4 854.9h0M417.1 854.9h0M425.8 854.9h0M354 858.5h0M375.7 858.5h0M380.1 858.5h0M388.8 858.5h0M401.9 858.5h0M406.2 858.5h0M419.3 858.5h0M423.7 858.5h0M360.5 862.1h0M364.9 862.1h0M377.9 862.1h0M382.3 862.1h0M399.7 862.1h0M417.1 862.1h0M425.8 862.1h0M367 865.7h0M388.8 865.7h0M393.2 865.7h0M428 865.7h0M432.4 865.7h0M441.1 865.7h0M377.9 869.3h0M382.3 869.3h0M391 869.3h0M399.7 869.3h0M404.1 869.3h0M417.1 869.3h0M434.5 869.3h0M362.7 873h0M367 873h0M384.5 873h0M406.2 873h0M410.6 873h0M369.2 876.6h0M373.6 876.6h0M382.3 876.6h0M386.6 876.6h0M391 876.6h0M395.3 876.6h0M399.7 876.6h0M404.1 876.6h0M408.4 876.6h0M412.8 876.6h0M417.1 876.6h0M375.7 880.2h0M380.1 880.2h0M401.9 880.2h0M406.2 880.2h0M414.9 880.2h0M382.3 883.8h0M399.7 883.8h0M408.4 883.8h0M412.8 883.8h0M421.5 883.8h0M375.7 887.4h0M414.9 887.4h0M419.3 887.4h0M423.7 887.4h0M399.7 891h0M404.1 891h0M412.8 891h0M417.1 891h0M406.2 894.6h0M410.6 894.6h0M419.3 894.6h0"/>
<path id="g11" d="M380.1 677.9h0M382.3 681.5h0M386.6 681.5h0M380.1 685.1h0M393.2 685.1h0M397.5 685.1h0M401.9 685.1h0M351.8 688.7h0M395.3 688.7h0M345.3 692.4h0M349.6 692.4h0M354 692.4h0M380.1 692.4h0M388.8 692.4h0M393.2 692.4h0M347.4 696h0M391 696h0M399.7 696h0M327.8 699.6h0M340.9 699.6h0M380.1 699.6h0M388.8 699.6h0M406.2 699.6h0M325.6 703.2h0M330 703.2h0M334.4 703.2h0M356.1 703.2h0M382.3 703.2h0M391 703.2h0M323.5 706.8h0M327.8 706.8h0M384.5 706.8h0M406.2 706.8h0M410.6 706.8h0M325.6 710.4h0M360.5 710.4h0M382.3 710.4h0M386.6 710.4h0M323.5 714h0M375.7 714h0M388.8 714h0M369.2 717.6h0M373.6 717.6h0M323.5 721.3h0M384.5 721.3h0M360.5 724.9h0M395.3 724.9h0M336.5 728.5h0M362.7 728.5h0M397.5 728.5h0M316.9 732.1h0M343.1 732.1h0M345.3 735.7h0M349.6 735.7h0M358.3 735.7h0M436.7 735.7h0M338.7 739.3h0M347.4 739.3h0M395.3 739.3h0M456.3 739.3h0M319.1 742.9h0M354 742.9h0M397.5 742.9h0M445.4 742.9h0M377.9 746.5h0M382.3 746.5h0M330 761h0M486.8 761h0M414.9 764.6h0M428 764.6h0M432.4 764.6h0M286.4 768.2h0M456.3 768.2h0M327.8 771.8h0M330 775.4h0M334.4 775.4h0M425.8 775.4h0M284.3 779h0M445.4 779h0M351.8 782.7h0M438.9 782.7h0M449.8 786.3h0M288.6 800.7h0M299.5 804.3h0M465 804.3h0M293 807.9h0M349.6 807.9h0M419.3 807.9h0M432.4 807.9h0M458.5 807.9h0M295.2 811.6h0M299.5 811.6h0M303.9 811.6h0M438.9 811.6h0M478.1 811.6h0M428 815.2h0M436.7 815.2h0M467.2 815.2h0M475.9 815.2h0M465 818.8h0M486.8 818.8h0M436.7 822.4h0M441.1 822.4h0M475.9 822.4h0M303.9 826h0M430.2 826h0M438.9 826h0M465 826h0M469.4 826h0M473.8 826h0M306 829.6h0M441.1 829.6h0M458.5 829.6h0M471.6 829.6h0M430.2 833.2h0M447.6 833.2h0M423.7 836.8h0M432.4 836.8h0M436.7 836.8h0M443.3 840.4h0M393.2 844.1h0M423.7 844.1h0M432.4 844.1h0M441.1 844.1h0M443.3 847.7h0M362.7 865.7h0M397.5 865.7h0M436.7 865.7h0M430.2 869.3h0M388.8 873h0M393.2 873h0M397.5 873h0M391 883.8h0M404.1 883.8h0M408.4 891h0M414.9 894.6h0M412.8 898.2h0"/>
<path id="g12" d="M406.2 692.4h0M397.5 699.6h0M404.1 703.2h0M401.9 706.8h0M404.1 732.1h0M330 739.3h0M351.8 739.3h0M336.5 764.6h0M293 779h0M471.6 815.2h0M295.2 818.8h0M469.4 818.8h0M471.6 822.4h0M434.5 826h0M436.7 829.6h0M445.4 829.6h0M397.5 880.2h0"/>
<path id="g13" d="M414.9 692.4h0M395.3 696h0M371.4 706.8h0M414.9 706.8h0M395.3 717.6h0M351.8 724.9h0M412.8 797.1h0M471.6 800.7h0M454.2 815.2h0M462.9 822.4h0M449.8 829.6h0M430.2 840.4h0M438.9 840.4h0"/>
<path id="g14" d="M384.5 685.1h0M393.2 714h0M391 717.6h0M367 728.5h0M399.7 732.1h0M406.2 807.9h0M465 811.6h0"/>
<path id="g15" d="M386.6 688.7h0M404.1 696h0M412.8 696h0M410.6 699.6h0M395.3 703.2h0M408.4 710.4h0M460.7 811.6h0M473.8 818.8h0M434.5 833.2h0"/>
<path id="g16" d="M391 688.7h0M408.4 688.7h0M410.6 692.4h0"/>
<path id="g17" d="M399.7 703.2h0"/>
<path id="g18" d="M393.2 699.6h0M404.1 710.4h0"/>
<path id="g19" d="M404.1 688.7h0M401.9 692.4h0M384.5 699.6h0M401.9 699.6h0M438.9 833.2h0"/>
</defs>
<use href="#g" stroke="#d1d9cd" stroke-width="4.55"/>
<use href="#g7" stroke="#c5d1d6" stroke-width="4.55"/>
<use href="#g8" stroke="#c9d4d4" stroke-width="4.55"/>
<use href="#g10" stroke="#cccdc1" stroke-width="4.55"/>
<use href="#g11" stroke="#cfcdbe" stroke-width="4.55"/>
<use href="#g12" stroke="#c8c2b2" stroke-width="4.55"/>
<use href="#g13" stroke="#ab9882" stroke-width="4.55"/>
<use href="#g14" stroke="#a68a75" stroke-width="4.55"/>
<use href="#g15" stroke="#9f7968" stroke-width="4.55"/>
<use href="#g16" stroke="#97685b" stroke-width="4.55"/>
<use href="#g17" stroke="#8e554f" stroke-width="4.55"/>
<use href="#g18" stroke="#813e45" stroke-width="4.55"/>
<use href="#g19" stroke="#6b2638" stroke-width="4.55"/>
<use href="#g" stroke="#dde7d9" stroke-width="2.57"/>
<use href="#g7" stroke="#d0dee4" stroke-width="2.57"/>
<use href="#g8" stroke="#d4e1e1" stroke-width="2.57"/>
<use href="#g10" stroke="#eff0cf" stroke-width="2.57"/>
<use href="#g11" stroke="#f6f1c6" stroke-width="2.57"/>
<use href="#g12" stroke="#f5e2b5" stroke-width="2.57"/>
<use href="#g13" stroke="#f3cfa4" stroke-width="2.57"/>
<use href="#g14" stroke="#efba92" stroke-width="2.57"/>
<use href="#g15" stroke="#e9a07f" stroke-width="2.57"/>
<use href="#g16" stroke="#e1866e" stroke-width="2.57"/>
<use href="#g17" stroke="#d7695e" stroke-width="2.57"/>
<use href="#g18" stroke="#c74753" stroke-width="2.57"/>
<use href="#g19" stroke="#a82346" stroke-width="2.57"/>
</g>
<!-- panel h -->
<g fill="none" stroke-linecap="round">
<defs>
<path id="h" d="M115.7 959.8h0.1M109.1 963.4h8.9M102.5 967.1h22.1M82.7 970.7h0.1M104.7 970.7h26.5M80.5 974.3h4.5M102.5 974.3h35.3M73.9 977.9h13.3M104.7 977.9h39.7M71.7 981.6h22.1M102.5 981.6h44.1M56.3 985.2h35.3M100.3 985.2h48.5M54.1 988.8h39.7M102.5 988.8h0.1M111.3 988.8h44.1M51.9 992.5h39.7M100.3 992.5h57.3M54.1 996.1h35.3M98.1 996.1h57.3M51.9 999.7h105.7M49.7 1003.4h35.3M93.7 1003.4h61.7M47.5 1007h101.3M45.3 1010.6h4.5M58.5 1010.6h92.5M43.1 1014.2h105.7M205.9 1014.2h0.1M40.9 1017.9h118.9M34.3 1021.5h132.1M188.3 1021.5h0.1M205.9 1021.5h0.1M32.1 1025.1h105.7M146.5 1025.1h26.5M181.7 1025.1h8.9M29.9 1028.8h162.9M27.7 1032.4h162.9M203.7 1032.4h0.1M29.9 1036h162.9M205.9 1036h0.1M32.1 1039.7h30.9M71.7 1039.7h132.1M29.9 1043.3h35.3M73.9 1043.3h118.9M210.3 1043.3h4.5M32.1 1046.9h35.3M76.1 1046.9h114.5M216.9 1046.9h0.1M34.3 1050.5h158.5M227.9 1050.5h0.1M14.5 1054.2h8.9M36.5 1054.2h154.1M221.3 1054.2h0.1M12.3 1057.8h176.1M223.5 1057.8h4.5M14.5 1061.4h171.7M12.3 1065.1h171.7M219.1 1065.1h0.1M227.9 1065.1h0.1M10.1 1068.7h176.1M234.5 1068.7h0.1M12.3 1072.3h158.5M179.5 1072.3h0.1M192.7 1072.3h4.5M10.1 1076h171.7M12.3 1079.6h189.3M14.5 1083.2h184.9M16.7 1086.8h184.9M18.9 1090.5h193.7M21.1 1094.1h189.3M23.3 1097.7h189.3M21.1 1101.4h189.3M23.3 1105h184.9M216.9 1105h0.1M25.5 1108.6h118.9M153.1 1108.6h52.9M32.1 1112.3h171.7M34.3 1115.9h167.3M40.9 1119.5h158.5M51.9 1123.2h132.1M54.1 1126.8h127.7M56.3 1130.4h123.3M62.9 1134h110.1M69.5 1137.7h88.1M76.1 1141.3h79.3M78.3 1144.9h74.9M84.9 1148.6h79.3M87.1 1152.2h83.7M89.3 1155.8h57.3M155.3 1155.8h13.3M91.5 1159.4h66.1M93.7 1163.1h61.7M95.9 1166.7h57.3M98.1 1170.3h22.1M128.9 1170.3h26.5M104.7 1174h4.5M131.1 1174h22.1M128.9 1177.6h22.1M135.5 1181.2h13.3M142.1 1184.9h0.1" stroke-dasharray="0 4.400"/>
<path id="h7" d="M58.5 1003.4h0M139.9 1014.2h0M51.9 1021.5h0M32.1 1025.1h0M188.3 1028.8h0M56.3 1036h0M65.1 1036h0M49.7 1039.7h0M153.1 1043.3h0M47.5 1057.8h0M95.9 1057.8h0M76.1 1068.7h0M115.7 1068.7h0M150.9 1083.2h0M109.1 1086.8h0M43.1 1094.1h0M58.5 1119.5h0M84.9 1126.8h0M157.5 1137.7h0M80.5 1141.3h0"/>
<path id="h9" d="M104.7 970.7h0M131.1 970.7h0M80.5 974.3h0M102.5 974.3h0M137.7 974.3h0M78.3 977.9h0M82.7 977.9h0M104.7 977.9h0M109.1 977.9h0M113.5 977.9h0M71.7 981.6h0M76.1 981.6h0M89.3 981.6h0M102.5 981.6h0M106.9 981.6h0M111.3 981.6h0M115.7 981.6h0M60.7 985.2h0M65.1 985.2h0M69.5 985.2h0M73.9 985.2h0M78.3 985.2h0M82.7 985.2h0M104.7 985.2h0M109.1 985.2h0M113.5 985.2h0M54.1 988.8h0M58.5 988.8h0M67.3 988.8h0M71.7 988.8h0M76.1 988.8h0M102.5 988.8h0M128.9 988.8h0M155.3 988.8h0M60.7 992.5h0M65.1 992.5h0M87.1 992.5h0M100.3 992.5h0M104.7 992.5h0M109.1 992.5h0M122.3 992.5h0M126.7 992.5h0M131.1 992.5h0M153.1 992.5h0M157.5 992.5h0M54.1 996.1h0M58.5 996.1h0M62.9 996.1h0M67.3 996.1h0M71.7 996.1h0M84.9 996.1h0M102.5 996.1h0M106.9 996.1h0M115.7 996.1h0M120.1 996.1h0M128.9 996.1h0M137.7 996.1h0M60.7 999.7h0M73.9 999.7h0M78.3 999.7h0M104.7 999.7h0M109.1 999.7h0M113.5 999.7h0M122.3 999.7h0M126.7 999.7h0M131.1 999.7h0M135.5 999.7h0M144.3 999.7h0M49.7 1003.4h0M62.9 1003.4h0M76.1 1003.4h0M80.5 1003.4h0M98.1 1003.4h0M102.5 1003.4h0M111.3 1003.4h0M115.7 1003.4h0M120.1 1003.4h0M124.5 1003.4h0M128.9 1003.4h0M133.3 1003.4h0M137.7 1003.4h0M142.1 1003.4h0M47.5 1007h0M56.3 1007h0M60.7 1007h0M65.1 1007h0M69.5 1007h0M73.9 1007h0M78.3 1007h0M82.7 1007h0M87.1 1007h0M91.5 1007h0M104.7 1007h0M109.1 1007h0M113.5 1007h0M122.3 1007h0M131.1 1007h0M135.5 1007h0M144.3 1007h0M148.7 1007h0M49.7 1010.6h0M58.5 1010.6h0M76.1 1010.6h0M80.5 1010.6h0M93.7 1010.6h0M98.1 1010.6h0M106.9 1010.6h0M115.7 1010.6h0M120.1 1010.6h0M124.5 1010.6h0M128.9 1010.6h0M133.3 1010.6h0M137.7 1010.6h0M146.5 1010.6h0M150.9 1010.6h0M43.1 1014.2h0M47.5 1014.2h0M56.3 1014.2h0M73.9 1014.2h0M82.7 1014.2h0M87.1 1014.2h0M91.5 1014.2h0M95.9 1014.2h0M100.3 1014.2h0M104.7 1014.2h0M109.1 1014.2h0M113.5 1014.2h0M117.9 1014.2h0M122.3 1014.2h0M126.7 1014.2h0M131.1 1014.2h0M148.7 1014.2h0M54.1 1017.9h0M58.5 1017.9h0M67.3 1017.9h0M71.7 1017.9h0M80.5 1017.9h0M84.9 1017.9h0M89.3 1017.9h0M98.1 1017.9h0M106.9 1017.9h0M115.7 1017.9h0M120.1 1017.9h0M128.9 1017.9h0M133.3 1017.9h0M146.5 1017.9h0M38.7 1021.5h0M69.5 1021.5h0M73.9 1021.5h0M82.7 1021.5h0M87.1 1021.5h0M91.5 1021.5h0M109.1 1021.5h0M113.5 1021.5h0M117.9 1021.5h0M126.7 1021.5h0M131.1 1021.5h0M144.3 1021.5h0M153.1 1021.5h0M161.9 1021.5h0M166.3 1021.5h0M40.9 1025.1h0M58.5 1025.1h0M71.7 1025.1h0M76.1 1025.1h0M80.5 1025.1h0M84.9 1025.1h0M89.3 1025.1h0M98.1 1025.1h0M102.5 1025.1h0M106.9 1025.1h0M115.7 1025.1h0M120.1 1025.1h0M164.1 1025.1h0M168.5 1025.1h0M181.7 1025.1h0M186.1 1025.1h0M190.5 1025.1h0M29.9 1028.8h0M73.9 1028.8h0M78.3 1028.8h0M91.5 1028.8h0M95.9 1028.8h0M100.3 1028.8h0M122.3 1028.8h0M126.7 1028.8h0M139.9 1028.8h0M148.7 1028.8h0M161.9 1028.8h0M166.3 1028.8h0M179.5 1028.8h0M183.9 1028.8h0M62.9 1032.4h0M71.7 1032.4h0M76.1 1032.4h0M80.5 1032.4h0M84.9 1032.4h0M89.3 1032.4h0M98.1 1032.4h0M102.5 1032.4h0M120.1 1032.4h0M146.5 1032.4h0M155.3 1032.4h0M181.7 1032.4h0M190.5 1032.4h0M203.7 1032.4h0M29.9 1036h0M34.3 1036h0M38.7 1036h0M43.1 1036h0M73.9 1036h0M78.3 1036h0M82.7 1036h0M87.1 1036h0M91.5 1036h0M104.7 1036h0M113.5 1036h0M122.3 1036h0M153.1 1036h0M157.5 1036h0M166.3 1036h0M179.5 1036h0M192.7 1036h0M32.1 1039.7h0M76.1 1039.7h0M84.9 1039.7h0M93.7 1039.7h0M98.1 1039.7h0M106.9 1039.7h0M111.3 1039.7h0M120.1 1039.7h0M133.3 1039.7h0M142.1 1039.7h0M168.5 1039.7h0M172.9 1039.7h0M181.7 1039.7h0M186.1 1039.7h0M199.3 1039.7h0M203.7 1039.7h0M29.9 1043.3h0M38.7 1043.3h0M47.5 1043.3h0M87.1 1043.3h0M95.9 1043.3h0M104.7 1043.3h0M109.1 1043.3h0M117.9 1043.3h0M131.1 1043.3h0M135.5 1043.3h0M148.7 1043.3h0M179.5 1043.3h0M183.9 1043.3h0M188.3 1043.3h0M32.1 1046.9h0M54.1 1046.9h0M76.1 1046.9h0M80.5 1046.9h0M84.9 1046.9h0M93.7 1046.9h0M102.5 1046.9h0M111.3 1046.9h0M120.1 1046.9h0M124.5 1046.9h0M137.7 1046.9h0M155.3 1046.9h0M159.7 1046.9h0M164.1 1046.9h0M168.5 1046.9h0M172.9 1046.9h0M181.7 1046.9h0M186.1 1046.9h0M190.5 1046.9h0M34.3 1050.5h0M47.5 1050.5h0M51.9 1050.5h0M73.9 1050.5h0M78.3 1050.5h0M82.7 1050.5h0M104.7 1050.5h0M109.1 1050.5h0M113.5 1050.5h0M122.3 1050.5h0M131.1 1050.5h0M175.1 1050.5h0M183.9 1050.5h0M188.3 1050.5h0M192.7 1050.5h0M227.9 1050.5h0M23.3 1054.2h0M36.5 1054.2h0M45.3 1054.2h0M54.1 1054.2h0M58.5 1054.2h0M62.9 1054.2h0M67.3 1054.2h0M71.7 1054.2h0M80.5 1054.2h0M84.9 1054.2h0M102.5 1054.2h0M106.9 1054.2h0M111.3 1054.2h0M168.5 1054.2h0M186.1 1054.2h0M12.3 1057.8h0M21.1 1057.8h0M25.5 1057.8h0M29.9 1057.8h0M51.9 1057.8h0M60.7 1057.8h0M73.9 1057.8h0M100.3 1057.8h0M104.7 1057.8h0M113.5 1057.8h0M126.7 1057.8h0M131.1 1057.8h0M135.5 1057.8h0M157.5 1057.8h0M161.9 1057.8h0M166.3 1057.8h0M170.7 1057.8h0M179.5 1057.8h0M183.9 1057.8h0M223.5 1057.8h0M14.5 1061.4h0M23.3 1061.4h0M27.7 1061.4h0M32.1 1061.4h0M36.5 1061.4h0M45.3 1061.4h0M71.7 1061.4h0M76.1 1061.4h0M102.5 1061.4h0M106.9 1061.4h0M111.3 1061.4h0M124.5 1061.4h0M142.1 1061.4h0M146.5 1061.4h0M155.3 1061.4h0M168.5 1061.4h0M177.3 1061.4h0M181.7 1061.4h0M12.3 1065.1h0M25.5 1065.1h0M29.9 1065.1h0M34.3 1065.1h0M47.5 1065.1h0M65.1 1065.1h0M69.5 1065.1h0M82.7 1065.1h0M91.5 1065.1h0M100.3 1065.1h0M104.7 1065.1h0M113.5 1065.1h0M117.9 1065.1h0M126.7 1065.1h0M135.5 1065.1h0M139.9 1065.1h0M144.3 1065.1h0M153.1 1065.1h0M161.9 1065.1h0M175.1 1065.1h0M219.1 1065.1h0M227.9 1065.1h0M14.5 1068.7h0M18.9 1068.7h0M27.7 1068.7h0M36.5 1068.7h0M45.3 1068.7h0M62.9 1068.7h0M71.7 1068.7h0M89.3 1068.7h0M93.7 1068.7h0M102.5 1068.7h0M106.9 1068.7h0M111.3 1068.7h0M142.1 1068.7h0M155.3 1068.7h0M159.7 1068.7h0M168.5 1068.7h0M177.3 1068.7h0M12.3 1072.3h0M16.7 1072.3h0M25.5 1072.3h0M29.9 1072.3h0M43.1 1072.3h0M47.5 1072.3h0M51.9 1072.3h0M69.5 1072.3h0M78.3 1072.3h0M95.9 1072.3h0M104.7 1072.3h0M113.5 1072.3h0M117.9 1072.3h0M131.1 1072.3h0M135.5 1072.3h0M139.9 1072.3h0M170.7 1072.3h0M179.5 1072.3h0M10.1 1076h0M14.5 1076h0M18.9 1076h0M23.3 1076h0M27.7 1076h0M40.9 1076h0M49.7 1076h0M58.5 1076h0M62.9 1076h0M67.3 1076h0M76.1 1076h0M84.9 1076h0M98.1 1076h0M120.1 1076h0M124.5 1076h0M128.9 1076h0M133.3 1076h0M155.3 1076h0M164.1 1076h0M172.9 1076h0M12.3 1079.6h0M16.7 1079.6h0M21.1 1079.6h0M25.5 1079.6h0M29.9 1079.6h0M34.3 1079.6h0M43.1 1079.6h0M51.9 1079.6h0M56.3 1079.6h0M87.1 1079.6h0M95.9 1079.6h0M104.7 1079.6h0M113.5 1079.6h0M126.7 1079.6h0M131.1 1079.6h0M139.9 1079.6h0M161.9 1079.6h0M166.3 1079.6h0M170.7 1079.6h0M175.1 1079.6h0M179.5 1079.6h0M183.9 1079.6h0M192.7 1079.6h0M197.1 1079.6h0M201.5 1079.6h0M14.5 1083.2h0M18.9 1083.2h0M23.3 1083.2h0M32.1 1083.2h0M40.9 1083.2h0M45.3 1083.2h0M49.7 1083.2h0M54.1 1083.2h0M62.9 1083.2h0M71.7 1083.2h0M80.5 1083.2h0M84.9 1083.2h0M89.3 1083.2h0M93.7 1083.2h0M106.9 1083.2h0M111.3 1083.2h0M124.5 1083.2h0M128.9 1083.2h0M133.3 1083.2h0M146.5 1083.2h0M164.1 1083.2h0M168.5 1083.2h0M172.9 1083.2h0M177.3 1083.2h0M181.7 1083.2h0M25.5 1086.8h0M29.9 1086.8h0M38.7 1086.8h0M43.1 1086.8h0M47.5 1086.8h0M51.9 1086.8h0M56.3 1086.8h0M60.7 1086.8h0M65.1 1086.8h0M73.9 1086.8h0M78.3 1086.8h0M82.7 1086.8h0M113.5 1086.8h0M122.3 1086.8h0M126.7 1086.8h0M135.5 1086.8h0M157.5 1086.8h0M166.3 1086.8h0M175.1 1086.8h0M188.3 1086.8h0M192.7 1086.8h0M23.3 1090.5h0M32.1 1090.5h0M36.5 1090.5h0M45.3 1090.5h0M54.1 1090.5h0M58.5 1090.5h0M71.7 1090.5h0M80.5 1090.5h0M89.3 1090.5h0M111.3 1090.5h0M120.1 1090.5h0M128.9 1090.5h0M133.3 1090.5h0M142.1 1090.5h0M146.5 1090.5h0M150.9 1090.5h0M168.5 1090.5h0M181.7 1090.5h0M203.7 1090.5h0M208.1 1090.5h0M21.1 1094.1h0M25.5 1094.1h0M34.3 1094.1h0M47.5 1094.1h0M56.3 1094.1h0M78.3 1094.1h0M82.7 1094.1h0M91.5 1094.1h0M122.3 1094.1h0M126.7 1094.1h0M144.3 1094.1h0M179.5 1094.1h0M183.9 1094.1h0M188.3 1094.1h0M192.7 1094.1h0M205.9 1094.1h0M23.3 1097.7h0M27.7 1097.7h0M32.1 1097.7h0M40.9 1097.7h0M54.1 1097.7h0M58.5 1097.7h0M67.3 1097.7h0M80.5 1097.7h0M89.3 1097.7h0M98.1 1097.7h0M106.9 1097.7h0M115.7 1097.7h0M120.1 1097.7h0M124.5 1097.7h0M133.3 1097.7h0M137.7 1097.7h0M146.5 1097.7h0M155.3 1097.7h0M172.9 1097.7h0M177.3 1097.7h0M181.7 1097.7h0M190.5 1097.7h0M199.3 1097.7h0M203.7 1097.7h0M208.1 1097.7h0M21.1 1101.4h0M25.5 1101.4h0M29.9 1101.4h0M43.1 1101.4h0M47.5 1101.4h0M51.9 1101.4h0M78.3 1101.4h0M82.7 1101.4h0M95.9 1101.4h0M122.3 1101.4h0M126.7 1101.4h0M131.1 1101.4h0M135.5 1101.4h0M148.7 1101.4h0M157.5 1101.4h0M175.1 1101.4h0M188.3 1101.4h0M192.7 1101.4h0M205.9 1101.4h0M23.3 1105h0M40.9 1105h0M45.3 1105h0M80.5 1105h0M106.9 1105h0M115.7 1105h0M133.3 1105h0M142.1 1105h0M146.5 1105h0M159.7 1105h0M164.1 1105h0M172.9 1105h0M208.1 1105h0M25.5 1108.6h0M29.9 1108.6h0M51.9 1108.6h0M60.7 1108.6h0M69.5 1108.6h0M73.9 1108.6h0M82.7 1108.6h0M91.5 1108.6h0M109.1 1108.6h0M117.9 1108.6h0M122.3 1108.6h0M126.7 1108.6h0M131.1 1108.6h0M153.1 1108.6h0M157.5 1108.6h0M161.9 1108.6h0M170.7 1108.6h0M175.1 1108.6h0M179.5 1108.6h0M183.9 1108.6h0M192.7 1108.6h0M197.1 1108.6h0M205.9 1108.6h0M40.9 1112.3h0M58.5 1112.3h0M76.1 1112.3h0M111.3 1112.3h0M120.1 1112.3h0M128.9 1112.3h0M137.7 1112.3h0M146.5 1112.3h0M150.9 1112.3h0M159.7 1112.3h0M164.1 1112.3h0M177.3 1112.3h0M181.7 1112.3h0M186.1 1112.3h0M199.3 1112.3h0M38.7 1115.9h0M43.1 1115.9h0M47.5 1115.9h0M60.7 1115.9h0M73.9 1115.9h0M82.7 1115.9h0M104.7 1115.9h0M126.7 1115.9h0M131.1 1115.9h0M139.9 1115.9h0M144.3 1115.9h0M153.1 1115.9h0M157.5 1115.9h0M161.9 1115.9h0M166.3 1115.9h0M170.7 1115.9h0M175.1 1115.9h0M192.7 1115.9h0M197.1 1115.9h0M45.3 1119.5h0M67.3 1119.5h0M71.7 1119.5h0M76.1 1119.5h0M80.5 1119.5h0M89.3 1119.5h0M120.1 1119.5h0M124.5 1119.5h0M133.3 1119.5h0M150.9 1119.5h0M159.7 1119.5h0M177.3 1119.5h0M181.7 1119.5h0M186.1 1119.5h0M190.5 1119.5h0M194.9 1119.5h0M199.3 1119.5h0M69.5 1123.2h0M78.3 1123.2h0M100.3 1123.2h0M126.7 1123.2h0M139.9 1123.2h0M144.3 1123.2h0M148.7 1123.2h0M153.1 1123.2h0M157.5 1123.2h0M175.1 1123.2h0M179.5 1123.2h0M71.7 1126.8h0M76.1 1126.8h0M80.5 1126.8h0M93.7 1126.8h0M102.5 1126.8h0M111.3 1126.8h0M115.7 1126.8h0M124.5 1126.8h0M128.9 1126.8h0M142.1 1126.8h0M146.5 1126.8h0M150.9 1126.8h0M155.3 1126.8h0M159.7 1126.8h0M172.9 1126.8h0M65.1 1130.4h0M73.9 1130.4h0M78.3 1130.4h0M82.7 1130.4h0M100.3 1130.4h0M109.1 1130.4h0M113.5 1130.4h0M117.9 1130.4h0M126.7 1130.4h0M131.1 1130.4h0M135.5 1130.4h0M144.3 1130.4h0M148.7 1130.4h0M153.1 1130.4h0M157.5 1130.4h0M161.9 1130.4h0M166.3 1130.4h0M179.5 1130.4h0M62.9 1134h0M76.1 1134h0M80.5 1134h0M111.3 1134h0M115.7 1134h0M128.9 1134h0M133.3 1134h0M137.7 1134h0M159.7 1134h0M69.5 1137.7h0M73.9 1137.7h0M78.3 1137.7h0M87.1 1137.7h0M104.7 1137.7h0M109.1 1137.7h0M113.5 1137.7h0M117.9 1137.7h0M131.1 1137.7h0M139.9 1137.7h0M148.7 1137.7h0M84.9 1141.3h0M93.7 1141.3h0M106.9 1141.3h0M115.7 1141.3h0M137.7 1141.3h0M142.1 1141.3h0M146.5 1141.3h0M78.3 1144.9h0M87.1 1144.9h0M91.5 1144.9h0M95.9 1144.9h0M100.3 1144.9h0M104.7 1144.9h0M117.9 1144.9h0M122.3 1144.9h0M135.5 1144.9h0M139.9 1144.9h0M144.3 1144.9h0M153.1 1144.9h0M93.7 1148.6h0M102.5 1148.6h0M106.9 1148.6h0M133.3 1148.6h0M142.1 1148.6h0M159.7 1148.6h0M164.1 1148.6h0M87.1 1152.2h0M91.5 1152.2h0M117.9 1152.2h0M131.1 1152.2h0M139.9 1152.2h0M144.3 1152.2h0M153.1 1152.2h0M98.1 1155.8h0M102.5 1155.8h0M106.9 1155.8h0M111.3 1155.8h0M124.5 1155.8h0M133.3 1155.8h0M137.7 1155.8h0M142.1 1155.8h0M146.5 1155.8h0M159.7 1155.8h0M95.9 1159.4h0M117.9 1159.4h0M126.7 1159.4h0M139.9 1159.4h0M148.7 1159.4h0M153.1 1159.4h0M98.1 1163.1h0M115.7 1163.1h0M128.9 1163.1h0M137.7 1163.1h0M155.3 1163.1h0M122.3 1166.7h0M135.5 1166.7h0M139.9 1166.7h0M144.3 1166.7h0M106.9 1170.3h0M137.7 1170.3h0M142.1 1170.3h0M146.5 1170.3h0M155.3 1170.3h0M135.5 1174h0M139.9 1174h0M153.1 1174h0M128.9 1177.6h0M133.3 1177.6h0M137.7 1177.6h0M150.9 1177.6h0M139.9 1181.2h0M144.3 1181.2h0M148.7 1181.2h0"/>
<path id="h10" d="M106.9 967.1h0M109.1 970.7h0M106.9 974.3h0M111.3 974.3h0M133.3 974.3h0M117.9 977.9h0M135.5 977.9h0M139.9 977.9h0M144.3 977.9h0M120.1 981.6h0M124.5 981.6h0M137.7 981.6h0M142.1 981.6h0M146.5 981.6h0M117.9 985.2h0M122.3 985.2h0M126.7 985.2h0M131.1 985.2h0M144.3 985.2h0M148.7 985.2h0M111.3 988.8h0M115.7 988.8h0M120.1 988.8h0M124.5 988.8h0M133.3 988.8h0M150.9 988.8h0M113.5 992.5h0M117.9 992.5h0M111.3 996.1h0M124.5 996.1h0M133.3 996.1h0M155.3 996.1h0M117.9 999.7h0M106.9 1003.4h0M146.5 1003.4h0M155.3 1003.4h0M117.9 1007h0M139.9 1007h0M93.7 1017.9h0M82.7 1028.8h0M117.9 1028.8h0M89.3 1039.7h0M87.1 1050.5h0M76.1 1054.2h0M186.1 1068.7h0M183.9 1086.8h0M199.3 1090.5h0M29.9 1094.1h0M201.5 1094.1h0M194.9 1097.7h0M201.5 1101.4h0M199.3 1105h0M203.7 1105h0M62.9 1112.3h0M194.9 1112.3h0M203.7 1112.3h0M201.5 1115.9h0M115.7 1119.5h0M128.9 1119.5h0M164.1 1119.5h0M172.9 1119.5h0M122.3 1123.2h0M161.9 1123.2h0M166.3 1123.2h0M170.7 1123.2h0M164.1 1126.8h0M177.3 1126.8h0M135.5 1137.7h0M137.7 1148.6h0M144.3 1174h0"/>
<path id="h11" d="M113.5 970.7h0M115.7 974.3h0M120.1 974.3h0M122.3 977.9h0M146.5 988.8h0M135.5 992.5h0M148.7 992.5h0M148.7 999.7h0M157.5 999.7h0M117.9 1057.8h0M60.7 1079.6h0M190.5 1083.2h0M190.5 1112.3h0M113.5 1123.2h0M168.5 1126.8h0M168.5 1134h0M104.7 1174h0"/>
<path id="h12" d="M139.9 985.2h0M142.1 988.8h0M144.3 992.5h0M142.1 1010.6h0M137.7 1017.9h0M124.5 1025.1h0M62.9 1039.7h0M172.9 1061.4h0M49.7 1068.7h0M109.1 1072.3h0M210.3 1101.4h0M201.5 1108.6h0M179.5 1115.9h0M155.3 1119.5h0M168.5 1119.5h0"/>
<path id="h13" d="M109.1 963.4h0M111.3 967.1h0M124.5 967.1h0M117.9 970.7h0M124.5 974.3h0M139.9 992.5h0M150.9 1003.4h0M183.9 1065.1h0M197.1 1101.4h0M194.9 1105h0M142.1 1163.1h0"/>
<path id="h14" d="M115.7 959.8h0M120.1 967.1h0"/>
<path id="h15" d="M126.7 970.7h0M126.7 977.9h0M128.9 981.6h0M137.7 988.8h0M142.1 996.1h0M150.9 996.1h0"/>
<path id="h16" d="M117.9 963.4h0M128.9 974.3h0"/>
<path id="h17" d="M115.7 967.1h0M146.5 996.1h0M153.1 999.7h0"/>
<path id="h18" d="M113.5 963.4h0"/>
<path id="h19" d="M122.3 970.7h0M131.1 977.9h0M133.3 981.6h0M135.5 985.2h0"/>
</defs>
<use href="#h" stroke="#c9d4d4" stroke-width="4.60"/>
<use href="#h7" stroke="#c5d1d6" stroke-width="4.60"/>
<use href="#h9" stroke="#d1d9cd" stroke-width="4.60"/>
<use href="#h10" stroke="#cccdc1" stroke-width="4.60"/>
<use href="#h11" stroke="#cfcdbe" stroke-width="4.60"/>
<use href="#h12" stroke="#c8c2b2" stroke-width="4.60"/>
<use href="#h13" stroke="#ab9882" stroke-width="4.60"/>
<use href="#h14" stroke="#a68a75" stroke-width="4.60"/>
<use href="#h15" stroke="#9f7968" stroke-width="4.60"/>
<use href="#h16" stroke="#97685b" stroke-width="4.60"/>
<use href="#h17" stroke="#8e554f" stroke-width="4.60"/>
<use href="#h18" stroke="#813e45" stroke-width="4.60"/>
<use href="#h19" stroke="#6b2638" stroke-width="4.60"/>
<use href="#h" stroke="#d4e1e1" stroke-width="2.60"/>
<use href="#h7" stroke="#d0dee4" stroke-width="2.60"/>
<use href="#h9" stroke="#dde7d9" stroke-width="2.60"/>
<use href="#h10" stroke="#eff0cf" stroke-width="2.60"/>
<use href="#h11" stroke="#f6f1c6" stroke-width="2.60"/>
<use href="#h12" stroke="#f5e2b5" stroke-width="2.60"/>
<use href="#h13" stroke="#f3cfa4" stroke-width="2.60"/>
<use href="#h14" stroke="#efba92" stroke-width="2.60"/>
<use href="#h15" stroke="#e9a07f" stroke-width="2.60"/>
<use href="#h16" stroke="#e1866e" stroke-width="2.60"/>
<use href="#h17" stroke="#d7695e" stroke-width="2.60"/>
<use href="#h18" stroke="#c74753" stroke-width="2.60"/>
<use href="#h19" stroke="#a82346" stroke-width="2.60"/>
</g>
<!-- panel i -->
<g fill="none" stroke-linecap="round">
<defs>
<path id="i" d="M391.7 956.8h0.1M385.1 960.4h8.9M378.5 964.1h22.1M358.7 967.7h0.1M380.7 967.7h26.5M356.5 971.3h4.5M378.5 971.3h35.3M349.9 974.9h13.3M380.7 974.9h39.7M347.7 978.6h22.1M378.5 978.6h44.1M332.3 982.2h35.3M376.3 982.2h48.5M330.1 985.8h39.7M378.5 985.8h0.1M387.3 985.8h44.1M327.9 989.5h39.7M376.3 989.5h57.3M330.1 993.1h35.3M374.1 993.1h57.3M327.9 996.7h105.7M325.7 1000.4h35.3M369.7 1000.4h61.7M323.5 1004h101.3M321.3 1007.6h4.5M334.5 1007.6h92.5M319.1 1011.2h105.7M481.9 1011.2h0.1M316.9 1014.9h118.9M310.3 1018.5h132.1M464.3 1018.5h0.1M481.9 1018.5h0.1M308.1 1022.1h105.7M422.5 1022.1h26.5M457.7 1022.1h8.9M305.9 1025.8h162.9M303.7 1029.4h162.9M479.7 1029.4h0.1M305.9 1033h162.9M481.9 1033h0.1M308.1 1036.7h30.9M347.7 1036.7h132.1M305.9 1040.3h35.3M349.9 1040.3h118.9M486.3 1040.3h4.5M308.1 1043.9h35.3M352.1 1043.9h114.5M492.9 1043.9h0.1M310.3 1047.5h158.5M503.9 1047.5h0.1M290.5 1051.2h8.9M312.5 1051.2h154.1M497.3 1051.2h0.1M288.3 1054.8h176.1M499.5 1054.8h4.5M290.5 1058.4h171.7M288.3 1062.1h171.7M495.1 1062.1h0.1M503.9 1062.1h0.1M286.1 1065.7h176.1M510.5 1065.7h0.1M288.3 1069.3h158.5M455.5 1069.3h0.1M468.7 1069.3h4.5M286.1 1073h171.7M288.3 1076.6h189.3M290.5 1080.2h184.9M292.7 1083.8h184.9M294.9 1087.5h193.7M297.1 1091.1h189.3M299.3 1094.7h189.3M297.1 1098.4h189.3M299.3 1102h184.9M492.9 1102h0.1M301.5 1105.6h118.9M429.1 1105.6h52.9M308.1 1109.3h171.7M310.3 1112.9h167.3M316.9 1116.5h158.5M327.9 1120.2h132.1M330.1 1123.8h127.7M332.3 1127.4h123.3M338.9 1131h110.1M345.5 1134.7h88.1M352.1 1138.3h79.3M354.3 1141.9h74.9M360.9 1145.6h79.3M363.1 1149.2h83.7M365.3 1152.8h57.3M431.3 1152.8h13.3M367.5 1156.4h66.1M369.7 1160.1h61.7M371.9 1163.7h57.3M374.1 1167.3h22.1M404.9 1167.3h26.5M380.7 1171h4.5M407.1 1171h22.1M404.9 1174.6h22.1M411.5 1178.2h13.3M418.1 1181.9h0.1" stroke-dasharray="0 4.400"/>
<path id="i7" d="M363.1 1062.1h0M391.7 1080.2h0M393.9 1083.8h0M389.5 1091.1h0M360.9 1102h0M387.3 1145.6h0"/>
<path id="i8" d="M393.9 960.4h0M382.9 971.3h0M365.3 985.8h0M354.3 989.5h0M400.5 993.1h0M402.7 996.7h0M360.9 1000.4h0M422.5 1000.4h0M371.9 1004h0M389.5 1004h0M385.1 1011.2h0M360.9 1022.1h0M380.7 1025.8h0M387.3 1029.4h0M367.5 1033h0M371.9 1033h0M389.5 1033h0M411.5 1033h0M387.3 1036.7h0M391.7 1036.7h0M396.1 1036.7h0M440.1 1036.7h0M385.1 1040.3h0M393.9 1040.3h0M407.1 1040.3h0M433.5 1040.3h0M446.7 1040.3h0M356.5 1043.9h0M418.1 1043.9h0M319.1 1047.5h0M389.5 1047.5h0M393.9 1047.5h0M411.5 1047.5h0M429.1 1047.5h0M347.7 1051.2h0M352.1 1051.2h0M365.3 1051.2h0M418.1 1051.2h0M358.7 1054.8h0M411.5 1054.8h0M294.9 1058.4h0M365.3 1058.4h0M382.9 1058.4h0M387.3 1058.4h0M391.7 1058.4h0M396.1 1058.4h0M400.5 1058.4h0M426.9 1058.4h0M292.7 1062.1h0M341.1 1062.1h0M349.9 1062.1h0M367.5 1062.1h0M371.9 1062.1h0M376.3 1062.1h0M380.7 1062.1h0M385.1 1062.1h0M389.5 1062.1h0M393.9 1062.1h0M407.1 1062.1h0M411.5 1062.1h0M290.5 1065.7h0M347.7 1065.7h0M352.1 1065.7h0M360.9 1065.7h0M365.3 1065.7h0M378.5 1065.7h0M391.7 1065.7h0M400.5 1065.7h0M413.7 1065.7h0M426.9 1065.7h0M431.3 1065.7h0M453.3 1065.7h0M462.1 1065.7h0M292.7 1069.3h0M327.9 1069.3h0M345.5 1069.3h0M349.9 1069.3h0M358.7 1069.3h0M363.1 1069.3h0M367.5 1069.3h0M385.1 1069.3h0M389.5 1069.3h0M398.3 1069.3h0M402.7 1069.3h0M407.1 1069.3h0M433.5 1069.3h0M437.9 1069.3h0M325.7 1073h0M330.1 1073h0M352.1 1073h0M356.5 1073h0M378.5 1073h0M382.9 1073h0M387.3 1073h0M391.7 1073h0M396.1 1073h0M404.9 1073h0M418.1 1073h0M435.7 1073h0M323.5 1076.6h0M354.3 1076.6h0M358.7 1076.6h0M371.9 1076.6h0M385.1 1076.6h0M393.9 1076.6h0M398.3 1076.6h0M402.7 1076.6h0M411.5 1076.6h0M420.3 1076.6h0M433.5 1076.6h0M437.9 1076.6h0M316.9 1080.2h0M347.7 1080.2h0M360.9 1080.2h0M387.3 1080.2h0M396.1 1080.2h0M404.9 1080.2h0M409.3 1080.2h0M426.9 1080.2h0M431.3 1080.2h0M367.5 1083.8h0M389.5 1083.8h0M398.3 1083.8h0M402.7 1083.8h0M407.1 1083.8h0M415.9 1083.8h0M424.7 1083.8h0M429.1 1083.8h0M312.5 1087.5h0M365.3 1087.5h0M387.3 1087.5h0M396.1 1087.5h0M400.5 1087.5h0M418.1 1087.5h0M426.9 1087.5h0M488.5 1087.5h0M363.1 1091.1h0M411.5 1091.1h0M442.3 1091.1h0M356.5 1094.7h0M374.1 1094.7h0M387.3 1094.7h0M462.1 1094.7h0M398.3 1098.4h0M407.1 1098.4h0M415.9 1098.4h0M343.3 1102h0M352.1 1102h0M369.7 1102h0M378.5 1102h0M387.3 1102h0M345.5 1105.6h0M358.7 1105.6h0M415.9 1105.6h0M420.3 1105.6h0M325.7 1109.3h0M330.1 1109.3h0M365.3 1109.3h0M374.1 1109.3h0M378.5 1109.3h0M409.3 1109.3h0M332.3 1112.9h0M336.7 1112.9h0M389.5 1112.9h0M398.3 1112.9h0M407.1 1112.9h0M411.5 1112.9h0M400.5 1116.5h0M389.5 1120.2h0M393.9 1120.2h0M398.3 1120.2h0M387.3 1123.8h0M400.5 1123.8h0M354.3 1127.4h0M385.1 1127.4h0M407.1 1127.4h0M347.7 1131h0M387.3 1131h0M345.5 1134.7h0M418.1 1138.3h0M426.9 1138.3h0M411.5 1141.9h0M420.3 1141.9h0M424.7 1141.9h0M382.9 1145.6h0M409.3 1145.6h0M389.5 1149.2h0M415.9 1149.2h0M420.3 1149.2h0M369.7 1152.8h0M374.1 1152.8h0"/>
<path id="i9" d="M455.5 1105.6h0M442.3 1120.2h0"/>
<path id="i11" d="M391.7 956.8h0M382.9 964.1h0M387.3 964.1h0M400.5 964.1h0M398.3 967.7h0M402.7 967.7h0M360.9 971.3h0M396.1 971.3h0M400.5 971.3h0M404.9 971.3h0M413.7 971.3h0M363.1 974.9h0M411.5 974.9h0M415.9 974.9h0M352.1 978.6h0M356.5 978.6h0M360.9 978.6h0M391.7 978.6h0M409.3 978.6h0M422.5 978.6h0M336.7 982.2h0M341.1 982.2h0M363.1 982.2h0M367.5 982.2h0M380.7 982.2h0M385.1 982.2h0M389.5 982.2h0M393.9 982.2h0M407.1 982.2h0M424.7 982.2h0M330.1 985.8h0M334.5 985.8h0M338.9 985.8h0M343.3 985.8h0M356.5 985.8h0M378.5 985.8h0M422.5 985.8h0M431.3 985.8h0M345.5 989.5h0M363.1 989.5h0M389.5 989.5h0M393.9 989.5h0M420.3 989.5h0M433.5 989.5h0M360.9 993.1h0M374.1 993.1h0M413.7 993.1h0M426.9 993.1h0M431.3 993.1h0M327.9 996.7h0M341.1 996.7h0M363.1 996.7h0M367.5 996.7h0M415.9 996.7h0M424.7 996.7h0M374.1 1000.4h0M396.1 1000.4h0M404.9 1000.4h0M336.7 1004h0M341.1 1004h0M345.5 1004h0M358.7 1004h0M402.7 1004h0M415.9 1004h0M325.7 1007.6h0M338.9 1007.6h0M378.5 1007.6h0M418.1 1007.6h0M319.1 1011.2h0M323.5 1011.2h0M367.5 1011.2h0M389.5 1011.2h0M481.9 1011.2h0M316.9 1014.9h0M330.1 1014.9h0M334.5 1014.9h0M369.7 1014.9h0M378.5 1014.9h0M396.1 1014.9h0M435.7 1014.9h0M319.1 1018.5h0M332.3 1018.5h0M354.3 1018.5h0M385.1 1018.5h0M393.9 1018.5h0M402.7 1018.5h0M411.5 1018.5h0M415.9 1018.5h0M312.5 1022.1h0M343.3 1022.1h0M356.5 1022.1h0M369.7 1022.1h0M378.5 1022.1h0M404.9 1022.1h0M435.7 1022.1h0M319.1 1025.8h0M323.5 1025.8h0M327.9 1025.8h0M332.3 1025.8h0M336.7 1025.8h0M349.9 1025.8h0M385.1 1025.8h0M393.9 1025.8h0M451.1 1025.8h0M468.7 1025.8h0M308.1 1029.4h0M312.5 1029.4h0M330.1 1029.4h0M391.7 1029.4h0M435.7 1029.4h0M332.3 1033h0M345.5 1033h0M415.9 1033h0M420.3 1033h0M424.7 1033h0M437.9 1033h0M459.9 1033h0M330.1 1036.7h0M334.5 1036.7h0M347.7 1036.7h0M360.9 1036.7h0M369.7 1036.7h0M378.5 1036.7h0M400.5 1036.7h0M409.3 1036.7h0M444.5 1036.7h0M462.1 1036.7h0M314.7 1040.3h0M332.3 1040.3h0M371.9 1040.3h0M389.5 1040.3h0M411.5 1040.3h0M468.7 1040.3h0M486.3 1040.3h0M312.5 1043.9h0M325.7 1043.9h0M382.9 1043.9h0M413.7 1043.9h0M426.9 1043.9h0M431.3 1043.9h0M448.9 1043.9h0M457.7 1043.9h0M314.7 1047.5h0M327.9 1047.5h0M349.9 1047.5h0M376.3 1047.5h0M380.7 1047.5h0M437.9 1047.5h0M442.3 1047.5h0M451.1 1047.5h0M459.9 1047.5h0M464.3 1047.5h0M503.9 1047.5h0M299.3 1051.2h0M321.3 1051.2h0M330.1 1051.2h0M356.5 1051.2h0M369.7 1051.2h0M387.3 1051.2h0M409.3 1051.2h0M431.3 1051.2h0M448.9 1051.2h0M453.3 1051.2h0M288.3 1054.8h0M319.1 1054.8h0M332.3 1054.8h0M345.5 1054.8h0M376.3 1054.8h0M433.5 1054.8h0M451.1 1054.8h0M459.9 1054.8h0M499.5 1054.8h0M435.7 1058.4h0M448.9 1058.4h0M297.1 1062.1h0M301.5 1062.1h0M314.7 1062.1h0M323.5 1062.1h0M336.7 1062.1h0M345.5 1062.1h0M358.7 1062.1h0M299.3 1065.7h0M303.7 1065.7h0M308.1 1065.7h0M510.5 1065.7h0M301.5 1069.3h0M341.1 1069.3h0M420.3 1069.3h0M429.1 1069.3h0M455.5 1069.3h0M294.9 1073h0M303.7 1073h0M321.3 1073h0M422.5 1073h0M457.7 1073h0M292.7 1076.6h0M305.9 1076.6h0M327.9 1076.6h0M446.7 1076.6h0M464.3 1076.6h0M468.7 1076.6h0M299.3 1080.2h0M308.1 1080.2h0M365.3 1080.2h0M369.7 1080.2h0M374.1 1080.2h0M418.1 1080.2h0M292.7 1083.8h0M301.5 1083.8h0M332.3 1083.8h0M336.7 1083.8h0M455.5 1083.8h0M473.1 1083.8h0M477.5 1083.8h0M294.9 1087.5h0M299.3 1087.5h0M325.7 1087.5h0M330.1 1087.5h0M334.5 1087.5h0M338.9 1087.5h0M356.5 1087.5h0M431.3 1087.5h0M435.7 1087.5h0M440.1 1087.5h0M448.9 1087.5h0M453.3 1087.5h0M457.7 1087.5h0M475.3 1087.5h0M479.7 1087.5h0M319.1 1091.1h0M323.5 1091.1h0M354.3 1091.1h0M407.1 1091.1h0M424.7 1091.1h0M429.1 1091.1h0M437.9 1091.1h0M446.7 1091.1h0M459.9 1091.1h0M464.3 1091.1h0M477.5 1091.1h0M486.3 1091.1h0M422.5 1094.7h0M426.9 1094.7h0M431.3 1094.7h0M457.7 1094.7h0M466.5 1094.7h0M301.5 1098.4h0M310.3 1098.4h0M314.7 1098.4h0M332.3 1098.4h0M380.7 1098.4h0M433.5 1098.4h0M446.7 1098.4h0M464.3 1098.4h0M481.9 1098.4h0M299.3 1102h0M308.1 1102h0M325.7 1102h0M404.9 1102h0M413.7 1102h0M418.1 1102h0M422.5 1102h0M426.9 1102h0M431.3 1102h0M435.7 1102h0M440.1 1102h0M462.1 1102h0M466.5 1102h0M479.7 1102h0M492.9 1102h0M301.5 1105.6h0M305.9 1105.6h0M319.1 1105.6h0M327.9 1105.6h0M336.7 1105.6h0M376.3 1105.6h0M393.9 1105.6h0M398.3 1105.6h0M407.1 1105.6h0M437.9 1105.6h0M442.3 1105.6h0M446.7 1105.6h0M473.1 1105.6h0M477.5 1105.6h0M312.5 1109.3h0M316.9 1109.3h0M352.1 1109.3h0M391.7 1109.3h0M413.7 1109.3h0M418.1 1109.3h0M426.9 1109.3h0M435.7 1109.3h0M457.7 1109.3h0M479.7 1109.3h0M341.1 1112.9h0M345.5 1112.9h0M358.7 1112.9h0M385.1 1112.9h0M415.9 1112.9h0M424.7 1112.9h0M433.5 1112.9h0M437.9 1112.9h0M455.5 1112.9h0M352.1 1116.5h0M356.5 1116.5h0M378.5 1116.5h0M418.1 1116.5h0M426.9 1116.5h0M444.5 1116.5h0M462.1 1116.5h0M336.7 1120.2h0M354.3 1120.2h0M376.3 1120.2h0M402.7 1120.2h0M407.1 1120.2h0M420.3 1120.2h0M424.7 1120.2h0M429.1 1120.2h0M437.9 1120.2h0M451.1 1120.2h0M459.9 1120.2h0M330.1 1123.8h0M343.3 1123.8h0M352.1 1123.8h0M369.7 1123.8h0M418.1 1123.8h0M422.5 1123.8h0M457.7 1123.8h0M341.1 1127.4h0M371.9 1127.4h0M376.3 1127.4h0M411.5 1127.4h0M429.1 1127.4h0M433.5 1127.4h0M338.9 1131h0M365.3 1131h0M374.1 1131h0M382.9 1131h0M418.1 1131h0M448.9 1131h0M354.3 1134.7h0M389.5 1134.7h0M393.9 1134.7h0M352.1 1138.3h0M374.1 1138.3h0M396.1 1138.3h0M404.9 1138.3h0M431.3 1138.3h0M354.3 1141.9h0M363.1 1141.9h0M367.5 1141.9h0M371.9 1141.9h0M385.1 1141.9h0M360.9 1145.6h0M365.3 1145.6h0M369.7 1145.6h0M396.1 1145.6h0M404.9 1145.6h0M363.1 1149.2h0M367.5 1149.2h0M371.9 1149.2h0M385.1 1149.2h0M398.3 1149.2h0M402.7 1149.2h0M433.5 1149.2h0M442.3 1149.2h0M396.1 1152.8h0M400.5 1152.8h0M413.7 1152.8h0M418.1 1152.8h0M444.5 1152.8h0M367.5 1156.4h0M389.5 1156.4h0M378.5 1160.1h0M391.7 1160.1h0M409.3 1160.1h0M413.7 1160.1h0M418.1 1160.1h0M422.5 1160.1h0M389.5 1163.7h0M407.1 1163.7h0M424.7 1163.7h0M374.1 1167.3h0M409.3 1167.3h0M431.3 1167.3h0M407.1 1171h0M420.3 1171h0M429.1 1171h0M404.9 1174.6h0M422.5 1174.6h0M426.9 1174.6h0"/>
<path id="i12" d="M407.1 967.7h0M356.5 971.3h0M409.3 971.3h0M380.7 974.9h0M347.7 978.6h0M365.3 978.6h0M369.7 978.6h0M378.5 978.6h0M382.9 978.6h0M400.5 978.6h0M404.9 978.6h0M413.7 978.6h0M349.9 982.2h0M358.7 982.2h0M415.9 982.2h0M420.3 982.2h0M347.7 985.8h0M369.7 985.8h0M426.9 985.8h0M376.3 989.5h0M338.9 993.1h0M422.5 993.1h0M345.5 996.7h0M334.5 1000.4h0M338.9 1000.4h0M411.5 1004h0M321.3 1007.6h0M327.9 1011.2h0M332.3 1011.2h0M336.7 1011.2h0M341.1 1011.2h0M404.9 1014.9h0M314.7 1018.5h0M323.5 1018.5h0M336.7 1018.5h0M341.1 1018.5h0M367.5 1018.5h0M371.9 1018.5h0M376.3 1018.5h0M325.7 1022.1h0M334.5 1022.1h0M382.9 1022.1h0M444.5 1022.1h0M448.9 1022.1h0M305.9 1025.8h0M345.5 1025.8h0M429.1 1025.8h0M464.3 1025.8h0M303.7 1029.4h0M334.5 1029.4h0M455.5 1033h0M354.3 1040.3h0M420.3 1040.3h0M308.1 1043.9h0M316.9 1043.9h0M404.9 1043.9h0M453.3 1043.9h0M492.9 1043.9h0M310.3 1047.5h0M294.9 1051.2h0M378.5 1051.2h0M341.1 1054.8h0M503.9 1054.8h0M503.9 1062.1h0M308.1 1073h0M301.5 1076.6h0M459.9 1076.6h0M312.5 1080.2h0M330.1 1080.2h0M334.5 1080.2h0M382.9 1080.2h0M352.1 1087.5h0M444.5 1087.5h0M470.9 1087.5h0M297.1 1091.1h0M310.3 1091.1h0M332.3 1091.1h0M433.5 1091.1h0M299.3 1094.7h0M303.7 1094.7h0M308.1 1094.7h0M347.7 1094.7h0M418.1 1094.7h0M440.1 1094.7h0M444.5 1094.7h0M448.9 1094.7h0M488.5 1094.7h0M354.3 1098.4h0M442.3 1098.4h0M486.3 1098.4h0M470.9 1102h0M475.3 1102h0M433.5 1105.6h0M343.3 1109.3h0M431.3 1109.3h0M470.9 1109.3h0M367.5 1112.9h0M420.3 1112.9h0M464.3 1112.9h0M473.1 1112.9h0M457.7 1116.5h0M349.9 1120.2h0M411.5 1120.2h0M446.7 1120.2h0M334.5 1123.8h0M374.1 1123.8h0M409.3 1123.8h0M440.1 1123.8h0M444.5 1123.8h0M448.9 1123.8h0M332.3 1127.4h0M415.9 1127.4h0M424.7 1127.4h0M446.7 1127.4h0M404.9 1131h0M409.3 1131h0M413.7 1131h0M444.5 1131h0M363.1 1134.7h0M380.7 1134.7h0M402.7 1134.7h0M411.5 1134.7h0M424.7 1149.2h0M440.1 1152.8h0M433.5 1156.4h0M382.9 1160.1h0M387.3 1160.1h0M396.1 1160.1h0M431.3 1160.1h0M398.3 1163.7h0M382.9 1167.3h0M387.3 1167.3h0M418.1 1167.3h0M380.7 1171h0M385.1 1171h0M413.7 1174.6h0M415.9 1178.2h0M420.3 1178.2h0"/>
<path id="i13" d="M420.3 974.9h0M398.3 982.2h0M349.9 989.5h0M387.3 993.1h0M391.7 993.1h0M429.1 996.7h0M400.5 1000.4h0M354.3 1011.2h0M376.3 1011.2h0M380.7 1011.2h0M411.5 1011.2h0M310.3 1018.5h0M330.1 1022.1h0M371.9 1025.8h0M376.3 1025.8h0M321.3 1029.4h0M352.1 1029.4h0M396.1 1029.4h0M308.1 1036.7h0M338.9 1043.9h0M369.7 1043.9h0M444.5 1043.9h0M446.7 1047.5h0M325.7 1051.2h0M444.5 1051.2h0M316.9 1058.4h0M409.3 1065.7h0M305.9 1069.3h0M310.3 1069.3h0M385.1 1083.8h0M420.3 1083.8h0M442.3 1083.8h0M316.9 1087.5h0M484.1 1087.5h0M349.9 1091.1h0M481.9 1091.1h0M435.7 1094.7h0M479.7 1094.7h0M484.1 1094.7h0M310.3 1105.6h0M411.5 1105.6h0M444.5 1109.3h0M448.9 1109.3h0M330.1 1116.5h0M343.3 1116.5h0M396.1 1116.5h0M435.7 1116.5h0M433.5 1120.2h0M455.5 1120.2h0M453.3 1123.8h0M336.7 1127.4h0M442.3 1127.4h0M376.3 1134.7h0M358.7 1141.9h0M426.9 1145.6h0M365.3 1152.8h0M385.1 1156.4h0M374.1 1160.1h0M400.5 1160.1h0M378.5 1167.3h0M396.1 1167.3h0M413.7 1167.3h0M426.9 1167.3h0M409.3 1174.6h0"/>
<path id="i14" d="M387.3 971.3h0M330.1 993.1h0M369.7 1000.4h0M332.3 1004h0M349.9 1004h0M396.1 1007.6h0M422.5 1007.6h0M391.7 1014.9h0M327.9 1018.5h0M464.3 1018.5h0M308.1 1022.1h0M352.1 1022.1h0M314.7 1025.8h0M389.5 1025.8h0M411.5 1025.8h0M422.5 1029.4h0M457.7 1029.4h0M393.9 1033h0M470.9 1036.7h0M305.9 1040.3h0M442.3 1040.3h0M490.7 1040.3h0M336.7 1047.5h0M345.5 1047.5h0M442.3 1054.8h0M446.7 1054.8h0M444.5 1058.4h0M305.9 1062.1h0M334.5 1065.7h0M396.1 1065.7h0M314.7 1069.3h0M319.1 1069.3h0M442.3 1069.3h0M473.1 1069.3h0M453.3 1073h0M389.5 1076.6h0M429.1 1076.6h0M477.5 1076.6h0M466.5 1080.2h0M327.9 1083.8h0M327.9 1091.1h0M380.7 1091.1h0M455.5 1091.1h0M321.3 1094.7h0M360.9 1094.7h0M413.7 1094.7h0M470.9 1094.7h0M420.3 1098.4h0M424.7 1098.4h0M437.9 1098.4h0M444.5 1102h0M422.5 1109.3h0M354.3 1112.9h0M446.7 1112.9h0M468.7 1112.9h0M413.7 1116.5h0M422.5 1116.5h0M466.5 1116.5h0M365.3 1123.8h0M431.3 1123.8h0M426.9 1131h0M440.1 1131h0M367.5 1134.7h0M407.1 1134.7h0M415.9 1134.7h0M420.3 1134.7h0M424.7 1134.7h0M435.7 1145.6h0M380.7 1156.4h0M380.7 1163.7h0M422.5 1167.3h0"/>
<path id="i15" d="M391.7 971.3h0M393.9 974.9h0M358.7 989.5h0M398.3 989.5h0M365.3 993.1h0M404.9 993.1h0M418.1 993.1h0M371.9 996.7h0M385.1 996.7h0M407.1 996.7h0M398.3 1004h0M334.5 1007.6h0M347.7 1007.6h0M400.5 1007.6h0M404.9 1007.6h0M415.9 1011.2h0M365.3 1014.9h0M426.9 1014.9h0M363.1 1018.5h0M481.9 1018.5h0M418.1 1029.4h0M314.7 1033h0M321.3 1036.7h0M325.7 1036.7h0M404.9 1036.7h0M319.1 1040.3h0M323.5 1040.3h0M365.3 1043.9h0M497.3 1051.2h0M319.1 1062.1h0M415.9 1062.1h0M338.9 1065.7h0M288.3 1069.3h0M290.5 1073h0M310.3 1076.6h0M290.5 1080.2h0M470.9 1080.2h0M297.1 1083.8h0M323.5 1083.8h0M437.9 1083.8h0M451.1 1083.8h0M308.1 1087.5h0M466.5 1087.5h0M468.7 1091.1h0M330.1 1094.7h0M365.3 1094.7h0M323.5 1098.4h0M389.5 1098.4h0M451.1 1098.4h0M459.9 1098.4h0M347.7 1102h0M453.3 1102h0M484.1 1102h0M314.7 1105.6h0M464.3 1105.6h0M321.3 1109.3h0M440.1 1109.3h0M462.1 1109.3h0M314.7 1112.9h0M451.1 1112.9h0M316.9 1116.5h0M413.7 1123.8h0M367.5 1127.4h0M455.5 1127.4h0M400.5 1131h0M433.5 1134.7h0M413.7 1138.3h0M429.1 1149.2h0M437.9 1149.2h0M387.3 1152.8h0M404.9 1152.8h0M422.5 1152.8h0"/>
<path id="i16" d="M358.7 967.7h0M396.1 978.6h0M411.5 982.2h0M407.1 989.5h0M415.9 989.5h0M343.3 993.1h0M356.5 993.1h0M356.5 1000.4h0M356.5 1007.6h0M393.9 1011.2h0M424.7 1011.2h0M343.3 1014.9h0M380.7 1018.5h0M347.7 1022.1h0M365.3 1022.1h0M310.3 1025.8h0M347.7 1029.4h0M444.5 1029.4h0M448.9 1029.4h0M349.9 1033h0M380.7 1033h0M475.3 1036.7h0M464.3 1040.3h0M330.1 1043.9h0M360.9 1051.2h0M314.7 1054.8h0M308.1 1058.4h0M310.3 1062.1h0M336.7 1069.3h0M468.7 1069.3h0M431.3 1073h0M473.1 1076.6h0M294.9 1080.2h0M457.7 1080.2h0M462.1 1080.2h0M475.3 1080.2h0M411.5 1083.8h0M468.7 1083.8h0M422.5 1087.5h0M336.7 1091.1h0M473.1 1091.1h0M312.5 1094.7h0M325.7 1094.7h0M453.3 1094.7h0M475.3 1094.7h0M336.7 1098.4h0M429.1 1098.4h0M455.5 1098.4h0M468.7 1098.4h0M473.1 1098.4h0M316.9 1102h0M451.1 1105.6h0M459.9 1105.6h0M468.7 1105.6h0M308.1 1109.3h0M466.5 1109.3h0M429.1 1112.9h0M334.5 1116.5h0M404.9 1116.5h0M431.3 1116.5h0M440.1 1116.5h0M448.9 1116.5h0M453.3 1116.5h0M475.3 1116.5h0M437.9 1127.4h0M371.9 1134.7h0M391.7 1145.6h0M376.3 1156.4h0M407.1 1156.4h0M424.7 1156.4h0M371.9 1163.7h0M402.7 1163.7h0"/>
<path id="i17" d="M396.1 964.1h0M402.7 974.9h0M409.3 985.8h0M378.5 993.1h0M382.9 993.1h0M407.1 1011.2h0M400.5 1014.9h0M327.9 1033h0M341.1 1033h0M299.3 1058.4h0M312.5 1058.4h0M459.9 1083.8h0M297.1 1098.4h0M477.5 1098.4h0M457.7 1102h0M453.3 1109.3h0M459.9 1112.9h0M341.1 1120.2h0M338.9 1123.8h0M426.9 1123.8h0M420.3 1127.4h0M435.7 1131h0"/>
<path id="i18" d="M378.5 964.1h0M385.1 974.9h0M418.1 985.8h0M327.9 989.5h0M341.1 989.5h0M363.1 1004h0M360.9 1014.9h0M420.3 1018.5h0M455.5 1047.5h0M323.5 1069.3h0M345.5 1076.6h0M464.3 1083.8h0M451.1 1091.1h0M312.5 1102h0M448.9 1102h0M429.1 1105.6h0M442.3 1112.9h0M415.9 1120.2h0M435.7 1123.8h0M451.1 1127.4h0M429.1 1141.9h0M413.7 1145.6h0M429.1 1156.4h0M391.7 1167.3h0M411.5 1171h0"/>
<path id="i19" d="M345.5 982.2h0M380.7 989.5h0M457.7 1058.4h0M321.3 1065.7h0M462.1 1087.5h0M338.9 1102h0M481.9 1105.6h0M475.3 1109.3h0M470.9 1116.5h0M385.1 1120.2h0M349.9 1127.4h0M422.5 1131h0M446.7 1149.2h0M378.5 1152.8h0M393.9 1156.4h0M420.3 1156.4h0M411.5 1178.2h0"/>
</defs>
<use href="#i" stroke="#cccdc1" stroke-width="4.60"/>
<use href="#i7" stroke="#c5d1d6" stroke-width="4.60"/>
<use href="#i8" stroke="#c9d4d4" stroke-width="4.60"/>
<use href="#i9" stroke="#d1d9cd" stroke-width="4.60"/>
<use href="#i11" stroke="#cfcdbe" stroke-width="4.60"/>
<use href="#i12" stroke="#c8c2b2" stroke-width="4.60"/>
<use href="#i13" stroke="#ab9882" stroke-width="4.60"/>
<use href="#i14" stroke="#a68a75" stroke-width="4.60"/>
<use href="#i15" stroke="#9f7968" stroke-width="4.60"/>
<use href="#i16" stroke="#97685b" stroke-width="4.60"/>
<use href="#i17" stroke="#8e554f" stroke-width="4.60"/>
<use href="#i18" stroke="#813e45" stroke-width="4.60"/>
<use href="#i19" stroke="#6b2638" stroke-width="4.60"/>
<use href="#i" stroke="#eff0cf" stroke-width="2.60"/>
<use href="#i7" stroke="#d0dee4" stroke-width="2.60"/>
<use href="#i8" stroke="#d4e1e1" stroke-width="2.60"/>
<use href="#i9" stroke="#dde7d9" stroke-width="2.60"/>
<use href="#i11" stroke="#f6f1c6" stroke-width="2.60"/>
<use href="#i12" stroke="#f5e2b5" stroke-width="2.60"/>
<use href="#i13" stroke="#f3cfa4" stroke-width="2.60"/>
<use href="#i14" stroke="#efba92" stroke-width="2.60"/>
<use href="#i15" stroke="#e9a07f" stroke-width="2.60"/>
<use href="#i16" stroke="#e1866e" stroke-width="2.60"/>
<use href="#i17" stroke="#d7695e" stroke-width="2.60"/>
<use href="#i18" stroke="#c74753" stroke-width="2.60"/>
<use href="#i19" stroke="#a82346" stroke-width="2.60"/>
</g>
<!-- panel j1 -->
<g fill="none" stroke-linecap="round">
<defs>
<path id="j1" d="M652.6 691.4h0.1M646.2 694.8h8.5M639.8 698.2h21.3M620.7 701.7h0.1M642 701.7h25.5M618.6 705.1h4.3M639.8 705.1h34M612.3 708.5h12.8M642 708.5h38.2M610.1 711.9h21.3M639.8 711.9h42.5M595.3 715.4h34M637.7 715.4h46.7M593.2 718.8h38.2M639.8 718.8h0.1M648.3 718.8h42.5M591.1 722.2h38.2M637.7 722.2h55.2M593.2 725.6h34M635.6 725.6h55.2M591.1 729.1h101.9M588.9 732.5h34M631.4 732.5h59.4M586.8 735.9h97.6M584.7 739.3h4.3M597.4 739.3h89.1M582.6 742.7h101.9M739.5 742.7h0.1M580.5 746.2h114.6M574.1 749.6h127.3M722.5 749.6h0.1M739.5 749.6h0.1M572 753h101.9M682.2 753h25.5M716.2 753h8.5M569.8 756.4h157M567.7 759.9h157M737.4 759.9h0.1M569.8 763.3h157M739.5 763.3h0.1M572 766.7h29.8M610.1 766.7h127.3M569.8 770.1h34M612.3 770.1h114.6M743.8 770.1h4.3M572 773.6h34M614.4 773.6h110.3M750.1 773.6h0.1M574.1 777h152.8M760.7 777h0.1M555 780.4h8.5M576.2 780.4h148.5M754.4 780.4h0.1M552.9 783.8h169.7M756.5 783.8h4.3M555 787.2h165.5M552.9 790.7h165.5M752.2 790.7h0.1M760.7 790.7h0.1M550.8 794.1h169.7M767.1 794.1h0.1M552.9 797.5h152.8M714.1 797.5h0.1M726.8 797.5h4.3M550.8 800.9h165.5M552.9 804.4h182.4M555 807.8h178.2M557.1 811.2h178.2M559.2 814.6h186.7M561.4 818.1h182.4M563.5 821.5h182.4M561.4 824.9h182.4M563.5 828.3h178.2M750.1 828.3h0.1M565.6 831.7h114.6M688.6 831.7h51M572 835.2h165.5M574.1 838.6h161.2M580.5 842h152.8M591.1 845.4h127.3M593.2 848.9h123.1M595.3 852.3h118.8M601.7 855.7h106.1M608 859.1h84.9M614.4 862.6h76.4M616.5 866h72.2M622.9 869.4h76.4M625 872.8h80.7M627.1 876.2h55.2M690.7 876.2h12.8M629.2 879.7h63.7M631.4 883.1h59.4M633.5 886.5h55.2M635.6 889.9h21.3M665.3 889.9h25.5M642 893.4h4.3M667.4 893.4h21.3M665.3 896.8h21.3M671.6 900.2h12.8M678 903.6h0.1" stroke-dasharray="0 4.242"/>
<path id="j111" d="M665.3 705.1h0M654.7 708.5h0M663.2 708.5h0M658.9 715.4h0M658.9 735.9h0M557.1 783.8h0M650.4 783.8h0M658.9 790.7h0M663.2 790.7h0M726.8 818.1h0M709.8 831.7h0"/>
<path id="j112" d="M656.8 698.2h0M731 824.9h0M697.1 831.7h0M711.9 835.2h0"/>
<path id="j113" d="M731 818.1h0"/>
<path id="j114" d="M699.2 835.2h0M707.7 835.2h0M699.2 842h0"/>
<path id="j115" d="M735.3 818.1h0M733.1 821.5h0M731 831.7h0M705.6 838.6h0"/>
<path id="j116" d="M735.3 824.9h0"/>
<path id="j117" d="M709.8 838.6h0"/>
<path id="j119" d="M739.5 749.6h0M728.9 828.3h0"/>
</defs>
<use href="#j1" stroke="#d1d9e2" stroke-width="4.39"/>
<use href="#j111" stroke="#cfcdbe" stroke-width="3.95"/>
<use href="#j112" stroke="#c8c2b2" stroke-width="3.95"/>
<use href="#j113" stroke="#ab9882" stroke-width="3.95"/>
<use href="#j114" stroke="#a68a75" stroke-width="3.95"/>
<use href="#j115" stroke="#9f7968" stroke-width="3.95"/>
<use href="#j116" stroke="#97685b" stroke-width="3.95"/>
<use href="#j117" stroke="#8e554f" stroke-width="3.95"/>
<use href="#j119" stroke="#6b2638" stroke-width="3.95"/>
<use href="#j1" stroke="#dbe2ea" stroke-width="2.48"/>
<use href="#j111" stroke="#f6f1c6" stroke-width="2.48"/>
<use href="#j112" stroke="#f5e2b5" stroke-width="2.48"/>
<use href="#j113" stroke="#f3cfa4" stroke-width="2.48"/>
<use href="#j114" stroke="#efba92" stroke-width="2.48"/>
<use href="#j115" stroke="#e9a07f" stroke-width="2.48"/>
<use href="#j116" stroke="#e1866e" stroke-width="2.48"/>
<use href="#j117" stroke="#d7695e" stroke-width="2.48"/>
<use href="#j119" stroke="#a82346" stroke-width="2.48"/>
</g>
<!-- panel j2 -->
<g fill="none" stroke-linecap="round">
<defs>
<path id="j2" d="M651.7 968.9h0.1M645.4 972.3h8.5M639.1 975.6h21.1M620.2 979h0.1M641.2 979h25.3M618.1 982.3h4.3M639.1 982.3h33.7M611.7 985.7h12.7M641.2 985.7h37.9M609.6 989h21.1M639.1 989h42.1M594.9 992.4h33.7M637 992.4h46.3M592.8 995.7h37.9M639.1 995.7h0.1M647.5 995.7h42.1M590.7 999.1h37.9M637 999.1h54.7M592.8 1002.4h33.7M634.9 1002.4h54.7M590.7 1005.8h101M588.6 1009.1h33.7M630.7 1009.1h58.9M586.5 1012.5h96.8M584.4 1015.9h4.3M597 1015.9h88.4M582.3 1019.2h101M737.9 1019.2h0.1M580.2 1022.6h113.6M573.9 1025.9h126.3M721.1 1025.9h0.1M737.9 1025.9h0.1M571.8 1029.3h101M681.2 1029.3h25.3M714.8 1029.3h8.5M569.7 1032.6h155.7M567.6 1036h155.7M735.8 1036h0.1M569.7 1039.3h155.7M737.9 1039.3h0.1M571.8 1042.7h29.5M609.6 1042.7h126.3M569.7 1046h33.7M611.7 1046h113.6M742.1 1046h4.3M571.8 1049.4h33.7M613.8 1049.4h109.4M748.5 1049.4h0.1M573.9 1052.8h151.5M759 1052.8h0.1M555 1056.1h8.5M576 1056.1h147.3M752.7 1056.1h0.1M552.9 1059.5h168.3M754.8 1059.5h4.3M555 1062.8h164.1M552.9 1066.2h164.1M750.6 1066.2h0.1M759 1066.2h0.1M550.8 1069.5h168.3M765.3 1069.5h0.1M552.9 1072.9h151.5M712.7 1072.9h0.1M725.3 1072.9h4.3M550.8 1076.2h164.1M552.9 1079.6h180.9M555 1082.9h176.7M557.1 1086.3h176.7M559.2 1089.6h185.1M561.3 1093h180.9M563.4 1096.4h180.9M561.3 1099.7h180.9M563.4 1103.1h176.7M748.5 1103.1h0.1M565.5 1106.4h113.6M687.5 1106.4h50.5M571.8 1109.8h164.1M573.9 1113.1h159.9M580.2 1116.5h151.5M590.7 1119.8h126.3M592.8 1123.2h122M594.9 1126.5h117.8M601.2 1129.9h105.2M607.5 1133.3h84.2M613.8 1136.6h75.8M616 1140h71.6M622.3 1143.3h75.8M624.4 1146.7h80M626.5 1150h54.7M689.6 1150h12.7M628.6 1153.4h63.2M630.7 1156.7h58.9M632.8 1160.1h54.7M634.9 1163.4h21.1M664.3 1163.4h25.3M641.2 1166.8h4.3M666.4 1166.8h21.1M664.3 1170.1h21.1M670.6 1173.5h12.7M676.9 1176.9h0.1" stroke-dasharray="0 4.206"/>
<path id="j211" d="M651.7 968.9h0M660.1 982.3h0M653.8 985.7h0M658 985.7h0M622.3 989h0M664.3 989h0M668.5 989h0M662.2 992.4h0M658 999.1h0M685.4 1022.6h0M632.8 1059.5h0M679 1072.9h0M632.8 1086.3h0M714.8 1096.4h0M723.2 1096.4h0M700.1 1113.1h0"/>
<path id="j212" d="M660.1 975.6h0M698 1109.8h0M691.7 1113.1h0"/>
<path id="j214" d="M651.7 982.3h0M664.3 982.3h0M704.3 1113.1h0"/>
<path id="j215" d="M653.8 979h0M658 979h0M733.7 1099.7h0M698 1116.5h0"/>
<path id="j216" d="M651.7 975.6h0M666.4 979h0M655.9 982.3h0M729.5 1099.7h0"/>
<path id="j217" d="M731.6 1089.6h0"/>
<path id="j218" d="M662.2 979h0M737.9 1025.9h0M706.4 1109.8h0"/>
<path id="j219" d="M655.9 975.6h0M731.6 1096.4h0M727.4 1103.1h0"/>
</defs>
<use href="#j2" stroke="#d1d9e2" stroke-width="4.32"/>
<use href="#j211" stroke="#cfcdbe" stroke-width="3.89"/>
<use href="#j212" stroke="#c8c2b2" stroke-width="3.89"/>
<use href="#j214" stroke="#a68a75" stroke-width="3.89"/>
<use href="#j215" stroke="#9f7968" stroke-width="3.89"/>
<use href="#j216" stroke="#97685b" stroke-width="3.89"/>
<use href="#j217" stroke="#8e554f" stroke-width="3.89"/>
<use href="#j218" stroke="#813e45" stroke-width="3.89"/>
<use href="#j219" stroke="#6b2638" stroke-width="3.89"/>
<use href="#j2" stroke="#dbe2ea" stroke-width="2.44"/>
<use href="#j211" stroke="#f6f1c6" stroke-width="2.44"/>
<use href="#j212" stroke="#f5e2b5" stroke-width="2.44"/>
<use href="#j214" stroke="#efba92" stroke-width="2.44"/>
<use href="#j215" stroke="#e9a07f" stroke-width="2.44"/>
<use href="#j216" stroke="#e1866e" stroke-width="2.44"/>
<use href="#j217" stroke="#d7695e" stroke-width="2.44"/>
<use href="#j218" stroke="#c74753" stroke-width="2.44"/>
<use href="#j219" stroke="#a82346" stroke-width="2.44"/>
</g>
<ellipse cx="700.6" cy="233.4" rx="86" ry="27" transform="rotate(-47.5 700.6 233.4)" fill="#f4a9b0" fill-opacity=".27" stroke="#747a7f" stroke-width="2" stroke-dasharray="8.5 3.2"/>
<ellipse cx="582.3" cy="424.4" rx="84.6" ry="22.3" transform="rotate(-60.5 582.3 424.4)" fill="#f4a9b0" fill-opacity=".27" stroke="#747a7f" stroke-width="2" stroke-dasharray="8.5 3.2"/>
<ellipse cx="715.4" cy="832.6" rx="35.5" ry="22.5" transform="rotate(-63 715.4 832.6)" fill="#f0b4bd" fill-opacity=".33" stroke="#666" stroke-width="1.9" stroke-dasharray="7 3.2"/>
<ellipse cx="654.6" cy="986.7" rx="36.5" ry="21.9" transform="rotate(-2 654.6 986.7)" fill="#f0b4bd" fill-opacity=".33" stroke="#666" stroke-width="1.9" stroke-dasharray="7 3.2"/>
<path d="M529.6 23.7H795" fill="none" stroke="#a2a2a2" stroke-width="2.7" stroke-dasharray="11.3 8.5"/>
<path d="M530.8 33V580" fill="none" stroke="#a2a2a2" stroke-width="2.7" stroke-dasharray="10.3 9.5"/>
<path d="M793.8 23.7V580" fill="none" stroke="#a2a2a2" stroke-width="2.7" stroke-dasharray="10.3 9.3" stroke-dashoffset="0.4"/>
<path d="M795 579H531" fill="none" stroke="#a2a2a2" stroke-width="2.7" stroke-dasharray="11.1 8.7" stroke-dashoffset="5.5"/>
<path d="M539.8 628.1H796" fill="none" stroke="#a2a2a2" stroke-width="2.7" stroke-dasharray="11.1 8.7"/>
<path d="M532.2 629.7V1197" fill="none" stroke="#a2a2a2" stroke-width="2.7" stroke-dasharray="10.5 9.2"/>
<path d="M795.2 629V1197" fill="none" stroke="#a2a2a2" stroke-width="2.7" stroke-dasharray="10.5 9.2" stroke-dashoffset="-3"/>
<path d="M533 1195.6H796" fill="none" stroke="#a2a2a2" stroke-width="2.7" stroke-dasharray="11.1 8.7" stroke-dashoffset="-2"/>
<path d="M454.8 297L494.5 296.1" stroke="#a61c32" stroke-width="1.5" fill="none"/><path d="M493.6 289.6L506.8 296L493.6 302.8z" fill="#a61c32"/>
<path d="M467.3 902.6L507 901.6" stroke="#a61c32" stroke-width="1.5" fill="none"/><path d="M506 895L519.6 901.1L506 908z" fill="#a61c32"/>
<rect x="153.2" y="80.4" width="71" height="13.2" fill="url(#sp)"/>
<path d="M160.1 93.6v-2.2M160.1 80.4v2.2" stroke="#fff" stroke-opacity=".7" stroke-width=".5"/>
<text x="160.1" y="103" font-size="6.53" text-anchor="middle" fill="#2a2a2a">0.2</text>
<path d="M176.8 93.6v-2.2M176.8 80.4v2.2" stroke="#fff" stroke-opacity=".7" stroke-width=".5"/>
<text x="176.8" y="103" font-size="6.53" text-anchor="middle" fill="#2a2a2a">0.3</text>
<path d="M193.4 93.6v-2.2M193.4 80.4v2.2" stroke="#fff" stroke-opacity=".7" stroke-width=".5"/>
<text x="193.4" y="103" font-size="6.53" text-anchor="middle" fill="#2a2a2a">0.4</text>
<path d="M210.1 93.6v-2.2M210.1 80.4v2.2" stroke="#fff" stroke-opacity=".7" stroke-width=".5"/>
<text x="210.1" y="103" font-size="6.53" text-anchor="middle" fill="#2a2a2a">0.5</text>
<rect x="408.6" y="79.8" width="65.2" height="12.8" fill="url(#sp)"/>
<text x="408.6" y="102" font-size="6.42" text-anchor="middle" fill="#2a2a2a">0.0</text>
<path d="M425.6 92.6v-2.2M425.6 79.8v2.2" stroke="#fff" stroke-opacity=".7" stroke-width=".5"/>
<text x="425.6" y="102" font-size="6.42" text-anchor="middle" fill="#2a2a2a">0.2</text>
<path d="M442.5 92.6v-2.2M442.5 79.8v2.2" stroke="#fff" stroke-opacity=".7" stroke-width=".5"/>
<text x="442.5" y="102" font-size="6.42" text-anchor="middle" fill="#2a2a2a">0.4</text>
<path d="M459.5 92.6v-2.2M459.5 79.8v2.2" stroke="#fff" stroke-opacity=".7" stroke-width=".5"/>
<text x="459.5" y="102" font-size="6.42" text-anchor="middle" fill="#2a2a2a">0.6</text>
<rect x="144.7" y="351.9" width="68.4" height="13" fill="url(#sp)"/>
<path d="M156.4 364.9v-2.2M156.4 351.9v2.2" stroke="#fff" stroke-opacity=".7" stroke-width=".5"/>
<text x="156.4" y="374.7" font-size="6.96" text-anchor="middle" fill="#2a2a2a">0.10</text>
<path d="M169.2 364.9v-2.2M169.2 351.9v2.2" stroke="#fff" stroke-opacity=".7" stroke-width=".5"/>
<text x="169.2" y="374.7" font-size="6.96" text-anchor="middle" fill="#2a2a2a">0.15</text>
<path d="M182.1 364.9v-2.2M182.1 351.9v2.2" stroke="#fff" stroke-opacity=".7" stroke-width=".5"/>
<text x="182.1" y="374.7" font-size="6.96" text-anchor="middle" fill="#2a2a2a">0.20</text>
<path d="M195 364.9v-2.2M195 351.9v2.2" stroke="#fff" stroke-opacity=".7" stroke-width=".5"/>
<text x="195" y="374.7" font-size="6.96" text-anchor="middle" fill="#2a2a2a">0.25</text>
<path d="M208.2 364.9v-2.2M208.2 351.9v2.2" stroke="#fff" stroke-opacity=".7" stroke-width=".5"/>
<text x="208.2" y="374.7" font-size="6.96" text-anchor="middle" fill="#2a2a2a">0.30</text>
<rect x="412.2" y="350" width="54.6" height="12.4" fill="url(#sp)"/>
<text x="413.2" y="371.4" font-size="6.31" text-anchor="middle" fill="#2a2a2a">0.3</text>
<text x="431.4" y="371.4" font-size="6.31" text-anchor="middle" fill="#2a2a2a">0.4</text>
<text x="449.2" y="371.4" font-size="6.31" text-anchor="middle" fill="#2a2a2a">0.5</text>
<text x="467.2" y="371.4" font-size="6.31" text-anchor="middle" fill="#2a2a2a">0.6</text>
<rect x="681.3" y="82.3" width="80.4" height="11.1" fill="url(#sp)"/>
<path d="M688.4 93.4v-2.2M688.4 82.3v2.2" stroke="#fff" stroke-opacity=".7" stroke-width=".5"/>
<text x="688.4" y="103.6" font-size="6.74" text-anchor="middle" fill="#2a2a2a">0.850</text>
<path d="M709.1 93.4v-2.2M709.1 82.3v2.2" stroke="#fff" stroke-opacity=".7" stroke-width=".5"/>
<text x="709.1" y="103.6" font-size="6.74" text-anchor="middle" fill="#2a2a2a">0.875</text>
<path d="M728.8 93.4v-2.2M728.8 82.3v2.2" stroke="#fff" stroke-opacity=".7" stroke-width=".5"/>
<text x="728.8" y="103.6" font-size="6.74" text-anchor="middle" fill="#2a2a2a">0.900</text>
<path d="M752.6 93.4v-2.2M752.6 82.3v2.2" stroke="#fff" stroke-opacity=".7" stroke-width=".5"/>
<text x="752.6" y="103.6" font-size="6.74" text-anchor="middle" fill="#2a2a2a">0.925</text>
<rect x="684.7" y="358.3" width="81.5" height="10.8" fill="url(#sp)"/>
<path d="M688.5 369.1v-2.2M688.5 358.3v2.2" stroke="#fff" stroke-opacity=".7" stroke-width=".5"/>
<text x="688.5" y="377.9" font-size="6.53" text-anchor="middle" fill="#2a2a2a">0.00</text>
<path d="M704.6 369.1v-2.2M704.6 358.3v2.2" stroke="#fff" stroke-opacity=".7" stroke-width=".5"/>
<text x="704.6" y="377.9" font-size="6.53" text-anchor="middle" fill="#2a2a2a">0.01</text>
<path d="M722 369.1v-2.2M722 358.3v2.2" stroke="#fff" stroke-opacity=".7" stroke-width=".5"/>
<text x="722" y="377.9" font-size="6.53" text-anchor="middle" fill="#2a2a2a">0.02</text>
<path d="M738.6 369.1v-2.2M738.6 358.3v2.2" stroke="#fff" stroke-opacity=".7" stroke-width=".5"/>
<text x="738.6" y="377.9" font-size="6.53" text-anchor="middle" fill="#2a2a2a">0.03</text>
<path d="M757.4 369.1v-2.2M757.4 358.3v2.2" stroke="#fff" stroke-opacity=".7" stroke-width=".5"/>
<text x="757.4" y="377.9" font-size="6.53" text-anchor="middle" fill="#2a2a2a">0.04</text>
<rect x="156.9" y="670.1" width="68.1" height="12.3" fill="url(#sp)"/>
<path d="M176.4 682.4v-2.2M176.4 670.1v2.2" stroke="#fff" stroke-opacity=".7" stroke-width=".5"/>
<text x="176.4" y="691.7" font-size="7.49" text-anchor="middle" fill="#2a2a2a">0.3</text>
<path d="M195.6 682.4v-2.2M195.6 670.1v2.2" stroke="#fff" stroke-opacity=".7" stroke-width=".5"/>
<text x="195.6" y="691.7" font-size="7.49" text-anchor="middle" fill="#2a2a2a">0.4</text>
<path d="M215.4 682.4v-2.2M215.4 670.1v2.2" stroke="#fff" stroke-opacity=".7" stroke-width=".5"/>
<text x="215.4" y="691.7" font-size="7.49" text-anchor="middle" fill="#2a2a2a">0.5</text>
<rect x="421.1" y="673.2" width="66.8" height="12.6" fill="url(#sp)"/>
<path d="M428.5 685.8v-2.2M428.5 673.2v2.2" stroke="#fff" stroke-opacity=".7" stroke-width=".5"/>
<text x="428.5" y="694.9" font-size="7.06" text-anchor="middle" fill="#2a2a2a">0.2</text>
<path d="M444.8 685.8v-2.2M444.8 673.2v2.2" stroke="#fff" stroke-opacity=".7" stroke-width=".5"/>
<text x="444.8" y="694.9" font-size="7.06" text-anchor="middle" fill="#2a2a2a">0.3</text>
<path d="M460.9 685.8v-2.2M460.9 673.2v2.2" stroke="#fff" stroke-opacity=".7" stroke-width=".5"/>
<text x="460.9" y="694.9" font-size="7.06" text-anchor="middle" fill="#2a2a2a">0.4</text>
<path d="M477.5 685.8v-2.2M477.5 673.2v2.2" stroke="#fff" stroke-opacity=".7" stroke-width=".5"/>
<text x="477.5" y="694.9" font-size="7.06" text-anchor="middle" fill="#2a2a2a">0.5</text>
<rect x="149.8" y="956.3" width="68.3" height="12.2" fill="url(#sp)"/>
<path d="M156.7 968.5v-2.2M156.7 956.3v2.2" stroke="#fff" stroke-opacity=".7" stroke-width=".5"/>
<text x="156.7" y="977.7" font-size="7.49" text-anchor="middle" fill="#2a2a2a">0.2</text>
<path d="M179.8 968.5v-2.2M179.8 956.3v2.2" stroke="#fff" stroke-opacity=".7" stroke-width=".5"/>
<text x="179.8" y="977.7" font-size="7.49" text-anchor="middle" fill="#2a2a2a">0.3</text>
<path d="M202.8 968.5v-2.2M202.8 956.3v2.2" stroke="#fff" stroke-opacity=".7" stroke-width=".5"/>
<text x="202.8" y="977.7" font-size="7.49" text-anchor="middle" fill="#2a2a2a">0.4</text>
<rect x="440" y="959.7" width="60" height="12.1" fill="url(#sp)"/>
<path d="M447.2 971.8v-2.2M447.2 959.7v2.2" stroke="#fff" stroke-opacity=".7" stroke-width=".5"/>
<text x="447.2" y="980.8" font-size="6.53" text-anchor="middle" fill="#2a2a2a">0.35</text>
<path d="M465.2 971.8v-2.2M465.2 959.7v2.2" stroke="#fff" stroke-opacity=".7" stroke-width=".5"/>
<text x="465.2" y="980.8" font-size="6.53" text-anchor="middle" fill="#2a2a2a">0.40</text>
<path d="M483 971.8v-2.2M483 959.7v2.2" stroke="#fff" stroke-opacity=".7" stroke-width=".5"/>
<text x="483" y="980.8" font-size="6.53" text-anchor="middle" fill="#2a2a2a">0.45</text>
<rect x="686.9" y="679" width="96.1" height="17.8" fill="url(#sp)"/>
<path d="M707.7 696.8v-2.2M707.7 679v2.2" stroke="#fff" stroke-opacity=".7" stroke-width=".5"/>
<text x="707.7" y="709.6" font-size="9.74" text-anchor="middle" fill="#2a2a2a">0.025</text>
<path d="M732.1 696.8v-2.2M732.1 679v2.2" stroke="#fff" stroke-opacity=".7" stroke-width=".5"/>
<text x="732.1" y="709.6" font-size="9.74" text-anchor="middle" fill="#2a2a2a">0.050</text>
<path d="M757 696.8v-2.2M757 679v2.2" stroke="#fff" stroke-opacity=".7" stroke-width=".5"/>
<text x="757" y="709.6" font-size="9.74" text-anchor="middle" fill="#2a2a2a">0.075</text>
<path d="M781.2 696.8v-2.2M781.2 679v2.2" stroke="#fff" stroke-opacity=".7" stroke-width=".5"/>
<text x="781.2" y="709.6" font-size="9.74" text-anchor="middle" fill="#2a2a2a">0.100</text>
<rect x="683.2" y="958.1" width="90.3" height="18.1" fill="url(#sp)"/>
<path d="M708.8 976.2v-2.2M708.8 958.1v2.2" stroke="#fff" stroke-opacity=".7" stroke-width=".5"/>
<text x="708.8" y="989.2" font-size="9.42" text-anchor="middle" fill="#2a2a2a">0.02</text>
<path d="M740 976.2v-2.2M740 958.1v2.2" stroke="#fff" stroke-opacity=".7" stroke-width=".5"/>
<text x="740" y="989.2" font-size="9.42" text-anchor="middle" fill="#2a2a2a">0.04</text>
<path d="M769.6 976.2v-2.2M769.6 958.1v2.2" stroke="#fff" stroke-opacity=".7" stroke-width=".5"/>
<text x="769.6" y="989.2" font-size="9.42" text-anchor="middle" fill="#2a2a2a">0.06</text>
<text x="386" y="19.7" font-size="26.6" text-anchor="start" fill="#000">Stage I/II</text>
<text x="385.5" y="617.5" font-size="26.6" text-anchor="start" fill="#000">Stage III</text>
<text x="103" y="59.2" font-size="25.6" text-anchor="start" fill="#000">Treg</text>
<text x="373.2" y="62.7" font-size="24.2" text-anchor="start" fill="#000">Tex</text>
<text x="106.2" y="337.2" font-size="27" text-anchor="start" fill="#000">TAM</text>
<text x="355.5" y="335.9" font-size="27.3" text-anchor="start" fill="#000">MDSC</text>
<text x="570" y="65.9" font-size="22.2" text-anchor="start" fill="#000">Pseudotime-State4</text>
<text x="586.7" y="340.5" font-size="21.9" text-anchor="start" fill="#000">Pseudotime-State5</text>
<text x="96.7" y="651.8" font-size="21.8" text-anchor="start" fill="#000">Treg</text>
<text x="372.2" y="654.3" font-size="20.6" text-anchor="start" fill="#000">Tex</text>
<text x="93.2" y="939.2" font-size="21.8" text-anchor="start" fill="#000">TAM</text>
<text x="359.2" y="943.1" font-size="26.8" text-anchor="start" fill="#000">MDSC</text>
<text x="568.2" y="671.1" font-size="20.8" text-anchor="start" fill="#000">Pseudotime-Cluster 3</text>
<text x="569.8" y="945.5" font-size="20.2" text-anchor="start" fill="#000">Pseudotime-Cluster 7</text>
<text x="15.5" y="47.7" font-size="31" text-anchor="start" fill="#000">a</text>
<text x="249.7" y="46.7" font-size="31" text-anchor="start" fill="#000">b</text>
<text x="12" y="328.1" font-size="31" text-anchor="start" fill="#000">c</text>
<text x="237" y="327.1" font-size="31" text-anchor="start" fill="#000">d</text>
<text x="495.5" y="47.8" font-size="31" text-anchor="start" fill="#000">e</text>
<text x="11.5" y="660.8" font-size="31" text-anchor="start" fill="#000">f</text>
<text x="253.5" y="659.2" font-size="31" text-anchor="start" fill="#000">g</text>
<text x="11" y="944.6" font-size="31" text-anchor="start" fill="#000">h</text>
<text x="260" y="943.4" font-size="31" text-anchor="start" fill="#000">i</text>
<text x="504" y="662.2" font-size="31" text-anchor="start" fill="#000">j</text>
</svg>
</body></html>
